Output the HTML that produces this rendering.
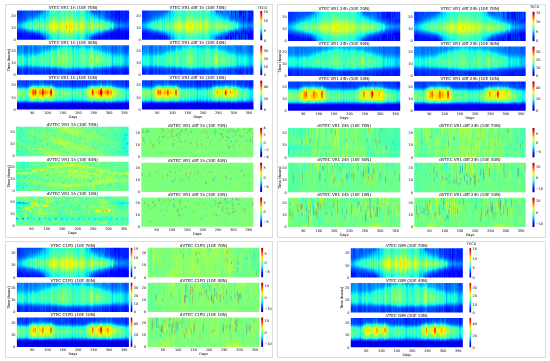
<!DOCTYPE html>
<html><head><meta charset="utf-8"><title>VTEC comparison</title>
<style>html,body{margin:0;padding:0;background:#fff}svg{display:block}text{font-family:"DejaVu Sans","Liberation Sans",sans-serif;text-rendering:geometricPrecision;stroke:#262626;stroke-width:.05px}</style></head>
<body>
<svg width="550" height="361" viewBox="0 0 550 361">
<defs><linearGradient id="jetg" x1="0" y1="0" x2="0" y2="1"><stop offset="0" stop-color="#800000"/><stop offset="0.0625" stop-color="#c40000"/><stop offset="0.125" stop-color="#ff1e00"/><stop offset="0.1875" stop-color="#ff5900"/><stop offset="0.25" stop-color="#ff9400"/><stop offset="0.3125" stop-color="#ffd000"/><stop offset="0.375" stop-color="#e4ff13"/><stop offset="0.4375" stop-color="#b1ff46"/><stop offset="0.5" stop-color="#7dff7a"/><stop offset="0.5625" stop-color="#49ffad"/><stop offset="0.625" stop-color="#16ffe1"/><stop offset="0.6875" stop-color="#00c0ff"/><stop offset="0.75" stop-color="#0080ff"/><stop offset="0.8125" stop-color="#0040ff"/><stop offset="0.875" stop-color="#0000ff"/><stop offset="0.9375" stop-color="#0000c8"/><stop offset="1" stop-color="#000080"/></linearGradient>
<filter id="f0" filterUnits="userSpaceOnUse" x="-3" y="-3" width="118" height="21" color-interpolation-filters="sRGB"><feGaussianBlur stdDeviation="0.35 0.486"/><feComponentTransfer><feFuncR type="table" tableValues="0 0 0 0 0 0 0 0 0 0 0 0 0 0 0 0 0 0 0 0 0 0 0 0.047 0.098 0.149 0.199 0.25 0.3 0.351 0.402 0.452 0.515 0.566 0.617 0.667 0.718 0.769 0.819 0.87 0.92 0.971 1 1 1 1 1 1 1 1 1 1 1 1 1 1 0.999 0.928 0.857 0.785 0.714 0.643 0.571 0.5"/><feFuncG type="table" tableValues="0 0 0 0 0 0 0 0 0.002 0.065 0.127 0.19 0.253 0.316 0.378 0.441 0.52 0.582 0.645 0.708 0.771 0.833 0.896 0.959 1 1 1 1 1 1 1 1 1 1 1 1 1 1 1 1 1 0.959 0.901 0.843 0.785 0.727 0.669 0.611 0.538 0.48 0.422 0.364 0.306 0.248 0.19 0.131 0.073 0.015 0 0 0 0 0 0"/><feFuncB type="table" tableValues="0.5 0.571 0.643 0.714 0.785 0.857 0.928 0.999 1 1 1 1 1 1 1 1 1 1 1 1 1 1 0.971 0.92 0.87 0.819 0.769 0.718 0.667 0.617 0.566 0.515 0.452 0.402 0.351 0.3 0.25 0.199 0.149 0.098 0.047 0 0 0 0 0 0 0 0 0 0 0 0 0 0 0 0 0 0 0 0 0 0 0"/></feComponentTransfer></filter>
<filter id="f1" filterUnits="userSpaceOnUse" x="-3" y="-3" width="118" height="21" color-interpolation-filters="sRGB"><feGaussianBlur stdDeviation="0.352 0.486"/><feComponentTransfer><feFuncR type="table" tableValues="0 0 0 0 0 0 0 0 0 0 0 0 0 0 0 0 0 0 0 0 0 0 0 0.047 0.098 0.149 0.199 0.25 0.3 0.351 0.402 0.452 0.515 0.566 0.617 0.667 0.718 0.769 0.819 0.87 0.92 0.971 1 1 1 1 1 1 1 1 1 1 1 1 1 1 0.999 0.928 0.857 0.785 0.714 0.643 0.571 0.5"/><feFuncG type="table" tableValues="0 0 0 0 0 0 0 0 0.002 0.065 0.127 0.19 0.253 0.316 0.378 0.441 0.52 0.582 0.645 0.708 0.771 0.833 0.896 0.959 1 1 1 1 1 1 1 1 1 1 1 1 1 1 1 1 1 0.959 0.901 0.843 0.785 0.727 0.669 0.611 0.538 0.48 0.422 0.364 0.306 0.248 0.19 0.131 0.073 0.015 0 0 0 0 0 0"/><feFuncB type="table" tableValues="0.5 0.571 0.643 0.714 0.785 0.857 0.928 0.999 1 1 1 1 1 1 1 1 1 1 1 1 1 1 0.971 0.92 0.87 0.819 0.769 0.718 0.667 0.617 0.566 0.515 0.452 0.402 0.351 0.3 0.25 0.199 0.149 0.098 0.047 0 0 0 0 0 0 0 0 0 0 0 0 0 0 0 0 0 0 0 0 0 0 0"/></feComponentTransfer></filter>
<filter id="f2" filterUnits="userSpaceOnUse" x="-3" y="-3" width="118" height="28" color-interpolation-filters="sRGB"><feGaussianBlur stdDeviation="0.298 0.3"/><feComponentTransfer><feFuncR type="table" tableValues="0 0 0 0 0 0 0 0 0 0 0 0 0 0 0 0 0 0 0 0 0 0 0 0.047 0.098 0.149 0.199 0.25 0.3 0.351 0.402 0.452 0.515 0.566 0.617 0.667 0.718 0.769 0.819 0.87 0.92 0.971 1 1 1 1 1 1 1 1 1 1 1 1 1 1 0.999 0.928 0.857 0.785 0.714 0.643 0.571 0.5"/><feFuncG type="table" tableValues="0 0 0 0 0 0 0 0 0.002 0.065 0.127 0.19 0.253 0.316 0.378 0.441 0.52 0.582 0.645 0.708 0.771 0.833 0.896 0.959 1 1 1 1 1 1 1 1 1 1 1 1 1 1 1 1 1 0.959 0.901 0.843 0.785 0.727 0.669 0.611 0.538 0.48 0.422 0.364 0.306 0.248 0.19 0.131 0.073 0.015 0 0 0 0 0 0"/><feFuncB type="table" tableValues="0.5 0.571 0.643 0.714 0.785 0.857 0.928 0.999 1 1 1 1 1 1 1 1 1 1 1 1 1 1 0.971 0.92 0.87 0.819 0.769 0.718 0.667 0.617 0.566 0.515 0.452 0.402 0.351 0.3 0.25 0.199 0.149 0.098 0.047 0 0 0 0 0 0 0 0 0 0 0 0 0 0 0 0 0 0 0 0 0 0 0"/></feComponentTransfer></filter>
<filter id="f3" filterUnits="userSpaceOnUse" x="-3" y="-3" width="118" height="35" color-interpolation-filters="sRGB"><feGaussianBlur stdDeviation="0.2 0.296"/><feComponentTransfer><feFuncR type="table" tableValues="0 0 0 0 0 0 0 0 0 0 0 0 0 0 0 0 0 0 0 0 0 0 0 0.047 0.098 0.149 0.199 0.25 0.3 0.351 0.402 0.452 0.515 0.566 0.617 0.667 0.718 0.769 0.819 0.87 0.92 0.971 1 1 1 1 1 1 1 1 1 1 1 1 1 1 0.999 0.928 0.857 0.785 0.714 0.643 0.571 0.5"/><feFuncG type="table" tableValues="0 0 0 0 0 0 0 0 0.002 0.065 0.127 0.19 0.253 0.316 0.378 0.441 0.52 0.582 0.645 0.708 0.771 0.833 0.896 0.959 1 1 1 1 1 1 1 1 1 1 1 1 1 1 1 1 1 0.959 0.901 0.843 0.785 0.727 0.669 0.611 0.538 0.48 0.422 0.364 0.306 0.248 0.19 0.131 0.073 0.015 0 0 0 0 0 0"/><feFuncB type="table" tableValues="0.5 0.571 0.643 0.714 0.785 0.857 0.928 0.999 1 1 1 1 1 1 1 1 1 1 1 1 1 1 0.971 0.92 0.87 0.819 0.769 0.718 0.667 0.617 0.566 0.515 0.452 0.402 0.351 0.3 0.25 0.199 0.149 0.098 0.047 0 0 0 0 0 0 0 0 0 0 0 0 0 0 0 0 0 0 0 0 0 0 0"/></feComponentTransfer></filter>
<filter id="f4" filterUnits="userSpaceOnUse" x="-3" y="-3" width="118" height="21" color-interpolation-filters="sRGB"><feGaussianBlur stdDeviation="0.349 0.486"/><feComponentTransfer><feFuncR type="table" tableValues="0 0 0 0 0 0 0 0 0 0 0 0 0 0 0 0 0 0 0 0 0 0 0 0.047 0.098 0.149 0.199 0.25 0.3 0.351 0.402 0.452 0.515 0.566 0.617 0.667 0.718 0.769 0.819 0.87 0.92 0.971 1 1 1 1 1 1 1 1 1 1 1 1 1 1 0.999 0.928 0.857 0.785 0.714 0.643 0.571 0.5"/><feFuncG type="table" tableValues="0 0 0 0 0 0 0 0 0.002 0.065 0.127 0.19 0.253 0.316 0.378 0.441 0.52 0.582 0.645 0.708 0.771 0.833 0.896 0.959 1 1 1 1 1 1 1 1 1 1 1 1 1 1 1 1 1 0.959 0.901 0.843 0.785 0.727 0.669 0.611 0.538 0.48 0.422 0.364 0.306 0.248 0.19 0.131 0.073 0.015 0 0 0 0 0 0"/><feFuncB type="table" tableValues="0.5 0.571 0.643 0.714 0.785 0.857 0.928 0.999 1 1 1 1 1 1 1 1 1 1 1 1 1 1 0.971 0.92 0.87 0.819 0.769 0.718 0.667 0.617 0.566 0.515 0.452 0.402 0.351 0.3 0.25 0.199 0.149 0.098 0.047 0 0 0 0 0 0 0 0 0 0 0 0 0 0 0 0 0 0 0 0 0 0 0"/></feComponentTransfer></filter>
<filter id="f5" filterUnits="userSpaceOnUse" x="-3" y="-3" width="118" height="21" color-interpolation-filters="sRGB"><feGaussianBlur stdDeviation="0.351 0.486"/><feComponentTransfer><feFuncR type="table" tableValues="0 0 0 0 0 0 0 0 0 0 0 0 0 0 0 0 0 0 0 0 0 0 0 0.047 0.098 0.149 0.199 0.25 0.3 0.351 0.402 0.452 0.515 0.566 0.617 0.667 0.718 0.769 0.819 0.87 0.92 0.971 1 1 1 1 1 1 1 1 1 1 1 1 1 1 0.999 0.928 0.857 0.785 0.714 0.643 0.571 0.5"/><feFuncG type="table" tableValues="0 0 0 0 0 0 0 0 0.002 0.065 0.127 0.19 0.253 0.316 0.378 0.441 0.52 0.582 0.645 0.708 0.771 0.833 0.896 0.959 1 1 1 1 1 1 1 1 1 1 1 1 1 1 1 1 1 0.959 0.901 0.843 0.785 0.727 0.669 0.611 0.538 0.48 0.422 0.364 0.306 0.248 0.19 0.131 0.073 0.015 0 0 0 0 0 0"/><feFuncB type="table" tableValues="0.5 0.571 0.643 0.714 0.785 0.857 0.928 0.999 1 1 1 1 1 1 1 1 1 1 1 1 1 1 0.971 0.92 0.87 0.819 0.769 0.718 0.667 0.617 0.566 0.515 0.452 0.402 0.351 0.3 0.25 0.199 0.149 0.098 0.047 0 0 0 0 0 0 0 0 0 0 0 0 0 0 0 0 0 0 0 0 0 0 0"/></feComponentTransfer></filter>
<filter id="f6" filterUnits="userSpaceOnUse" x="-3" y="-3" width="118" height="16" color-interpolation-filters="sRGB"><feGaussianBlur stdDeviation="0.299 0.341"/><feComponentTransfer><feFuncR type="table" tableValues="0 0 0 0 0 0 0 0 0 0 0 0 0 0 0 0 0 0 0 0 0 0 0 0.047 0.098 0.149 0.199 0.25 0.3 0.351 0.402 0.452 0.515 0.566 0.617 0.667 0.718 0.769 0.819 0.87 0.92 0.971 1 1 1 1 1 1 1 1 1 1 1 1 1 1 0.999 0.928 0.857 0.785 0.714 0.643 0.571 0.5"/><feFuncG type="table" tableValues="0 0 0 0 0 0 0 0 0.002 0.065 0.127 0.19 0.253 0.316 0.378 0.441 0.52 0.582 0.645 0.708 0.771 0.833 0.896 0.959 1 1 1 1 1 1 1 1 1 1 1 1 1 1 1 1 1 0.959 0.901 0.843 0.785 0.727 0.669 0.611 0.538 0.48 0.422 0.364 0.306 0.248 0.19 0.131 0.073 0.015 0 0 0 0 0 0"/><feFuncB type="table" tableValues="0.5 0.571 0.643 0.714 0.785 0.857 0.928 0.999 1 1 1 1 1 1 1 1 1 1 1 1 1 1 0.971 0.92 0.87 0.819 0.769 0.718 0.667 0.617 0.566 0.515 0.452 0.402 0.351 0.3 0.25 0.199 0.149 0.098 0.047 0 0 0 0 0 0 0 0 0 0 0 0 0 0 0 0 0 0 0 0 0 0 0"/></feComponentTransfer></filter>
<filter id="f7" filterUnits="userSpaceOnUse" x="-3" y="-3" width="118" height="16" color-interpolation-filters="sRGB"><feGaussianBlur stdDeviation="0.301 0.341"/><feComponentTransfer><feFuncR type="table" tableValues="0 0 0 0 0 0 0 0 0 0 0 0 0 0 0 0 0 0 0 0 0 0 0 0.047 0.098 0.149 0.199 0.25 0.3 0.351 0.402 0.452 0.515 0.566 0.617 0.667 0.718 0.769 0.819 0.87 0.92 0.971 1 1 1 1 1 1 1 1 1 1 1 1 1 1 0.999 0.928 0.857 0.785 0.714 0.643 0.571 0.5"/><feFuncG type="table" tableValues="0 0 0 0 0 0 0 0 0.002 0.065 0.127 0.19 0.253 0.316 0.378 0.441 0.52 0.582 0.645 0.708 0.771 0.833 0.896 0.959 1 1 1 1 1 1 1 1 1 1 1 1 1 1 1 1 1 0.959 0.901 0.843 0.785 0.727 0.669 0.611 0.538 0.48 0.422 0.364 0.306 0.248 0.19 0.131 0.073 0.015 0 0 0 0 0 0"/><feFuncB type="table" tableValues="0.5 0.571 0.643 0.714 0.785 0.857 0.928 0.999 1 1 1 1 1 1 1 1 1 1 1 1 1 1 0.971 0.92 0.87 0.819 0.769 0.718 0.667 0.617 0.566 0.515 0.452 0.402 0.351 0.3 0.25 0.199 0.149 0.098 0.047 0 0 0 0 0 0 0 0 0 0 0 0 0 0 0 0 0 0 0 0 0 0 0"/></feComponentTransfer></filter>
<filter id="f8" filterUnits="userSpaceOnUse" x="-3" y="-3" width="118" height="16" color-interpolation-filters="sRGB"><feGaussianBlur stdDeviation="0.3 0.341"/><feComponentTransfer><feFuncR type="table" tableValues="0 0 0 0 0 0 0 0 0 0 0 0 0 0 0 0 0 0 0 0 0 0 0 0.047 0.098 0.149 0.199 0.25 0.3 0.351 0.402 0.452 0.515 0.566 0.617 0.667 0.718 0.769 0.819 0.87 0.92 0.971 1 1 1 1 1 1 1 1 1 1 1 1 1 1 0.999 0.928 0.857 0.785 0.714 0.643 0.571 0.5"/><feFuncG type="table" tableValues="0 0 0 0 0 0 0 0 0.002 0.065 0.127 0.19 0.253 0.316 0.378 0.441 0.52 0.582 0.645 0.708 0.771 0.833 0.896 0.959 1 1 1 1 1 1 1 1 1 1 1 1 1 1 1 1 1 0.959 0.901 0.843 0.785 0.727 0.669 0.611 0.538 0.48 0.422 0.364 0.306 0.248 0.19 0.131 0.073 0.015 0 0 0 0 0 0"/><feFuncB type="table" tableValues="0.5 0.571 0.643 0.714 0.785 0.857 0.928 0.999 1 1 1 1 1 1 1 1 1 1 1 1 1 1 0.971 0.92 0.87 0.819 0.769 0.718 0.667 0.617 0.566 0.515 0.452 0.402 0.351 0.3 0.25 0.199 0.149 0.098 0.047 0 0 0 0 0 0 0 0 0 0 0 0 0 0 0 0 0 0 0 0 0 0 0"/></feComponentTransfer></filter>
</defs>
<rect width="550" height="361" fill="#fff"/>
<rect x="5.5" y="4.5" width="267" height="233" fill="#fff" stroke="#dcdcdc" stroke-width="1"/>
<rect x="277.5" y="4.5" width="268" height="233" fill="#fff" stroke="#dcdcdc" stroke-width="1"/>
<rect x="5.5" y="241.5" width="267" height="116" fill="#fff" stroke="#dcdcdc" stroke-width="1"/>
<rect x="277.5" y="241.5" width="268" height="116" fill="#fff" stroke="#dcdcdc" stroke-width="1"/>
<svg x="17" y="10.5" width="112.1" height="29.35" viewBox="0 0 112 15" preserveAspectRatio="none" stroke-width="1.04" fill="none"><g filter="url(#f0)"><rect x="-4" y="-4" width="120" height="23" fill="#717171"/><g transform="translate(.5)"><path stroke="#181818" d="M101 12v6"/><path stroke="#1c1c1c" d="M20 14v4M22 14v4M82 14v4M95 12v6M97 12v6M98 11v7M101 10v2M102 10v8M105 12v6"/><path stroke="#202020" d="M15 12v6M17 13v5M18 14v4M19 14v4M20 13v1M22 13v1M25 14v4M77 14v4M81 14v4M82 13v1M88 12v6M89 12v6M90 13v5M93 11v7M94 11v7M95 11v1M96 11v7M97 11v1M98 10v1M99 11v7M100 11v7M101 -3v8M102 -3v8M103 11v7M104 11v7M105 10v2M106 10v8M107 11v7M108 10v8M109 10v8M110 11v7M111 11v7M112 11v7"/><path stroke="#242424" d="M-1 11v7M0 11v7M1 12v6M2 11v7M3 11v7M4 12v6M5 12v6M7 12v6M9 13v5M10 14v4M11 13v5M12 12v6M13 13v5M14 12v6M16 13v5M17 12v1M18 13v1M19 13v1M20 12v1M21 13v5M22 12v1M23 13v5M24 14v4M27 14v4M74 14v4M76 14v4M77 13v1M78 14v4M79 13v5M80 14v4M81 13v1M82 12v1M83 13v5M84 13v5M85 13v5M86 12v6M87 12v6M90 12v1M91 12v6M92 12v6M95 -3v7M97 -3v7M97 10v1M98 -3v8M99 -3v7M99 10v1M100 -3v6M100 10v1M101 5v1M101 9v1M102 5v1M103 10v1M104 10v1M105 -3v8M107 10v1M110 10v1M111 10v1M112 10v1"/><path stroke="#282828" d="M-1 10v1M0 10v1M1 11v1M4 11v1M5 11v1M6 11v7M7 11v1M8 11v7M9 11v2M10 12v2M11 12v1M13 12v1M15 11v1M16 12v1M18 12v1M19 12v1M24 13v1M25 13v1M26 14v4M75 14v4M78 13v1M80 13v1M81 12v1M83 12v1M85 12v1M88 11v1M89 11v1M90 11v1M91 11v1M92 11v1M93 -3v7M94 -3v7M95 4v1M96 -3v7M96 10v1M97 4v1M98 5v1M99 4v1M100 3v2M102 9v1M103 -3v8M104 -3v8M105 5v1M105 9v1M106 -3v9M107 -3v9M108 -3v9M108 9v1M109 -3v9M109 9v1M110 -3v8M111 -3v8M111 9v1M112 -3v8M112 9v1"/><path stroke="#2d2d2d" d="M-1 -3v8M0 -3v8M1 -3v7M1 10v1M2 -3v8M2 10v1M3 -3v8M3 10v1M4 -3v7M4 10v1M10 11v1M11 11v1M12 11v1M13 11v1M14 11v1M20 -3v4M21 12v1M22 -3v4M76 13v1M77 -3v4M82 -3v5M84 12v1M87 11v1M89 -3v6M90 -3v6M93 4v1M93 10v1M94 4v1M94 10v1M95 10v1M96 4v1M98 9v1M99 5v1M100 5v1M100 9v1M101 6v1M102 6v1M103 5v1M103 9v1M104 5v1M104 9v1M106 9v1M107 9v1M110 5v1M110 9v1M111 5v1M112 5v1"/><path stroke="#313131" d="M-1 5v1M0 5v1M1 4v2M2 5v1M3 5v1M4 4v1M5 -3v8M5 10v1M6 -3v7M7 -3v8M7 10v1M15 -3v6M16 11v1M17 -3v4M17 11v1M20 1v1M22 1v1M23 12v1M73 14v4M74 -3v4M75 -3v4M76 -3v4M77 1v1M78 -3v4M79 -3v4M79 12v1M80 12v1M81 -3v4M82 2v1M86 11v1M88 -3v7M89 3v1M90 3v1M91 -3v7M92 -3v7M97 5v1M99 9v1M105 6v1M106 6v1M107 6v1M108 6v1M109 6v1M110 6v1M111 6v1M112 6v1"/><path stroke="#353535" d="M4 5v1M6 4v1M6 10v1M8 -3v7M8 10v1M9 -3v7M10 -3v6M11 -3v6M12 -3v6M13 -3v5M14 -3v6M15 3v1M16 -3v5M17 1v2M18 -3v5M19 -3v5M20 2v1M20 11v1M21 -3v4M23 -3v4M24 -3v4M24 12v1M25 -3v4M26 13v1M27 13v1M28 14v4M74 13v1M75 13v1M77 12v1M79 1v1M80 -3v5M81 1v1M82 11v1M83 -3v5M85 11v1M96 5v1M97 9v1M101 8v1M102 8v1M103 6v1M104 6v1"/><path stroke="#393939" d="M-1 6v1M-1 9v1M0 6v1M0 9v1M5 5v1M8 4v1M9 4v1M9 10v1M10 3v1M10 10v1M11 3v1M12 3v1M13 2v1M16 2v1M18 2v1M18 11v1M19 11v1M21 1v1M22 11v1M25 12v1M72 14v4M76 1v1M78 1v1M78 12v1M81 2v1M82 3v1M83 2v1M84 -3v5M85 -3v5M86 -3v6M87 -3v7M88 4v1M89 4v1M90 4v1M91 4v1M91 10v1M92 4v1M92 10v1M94 5v1M95 5v1M98 6v1M99 6v1M100 6v1M101 7v1M102 7v1M105 8v1M106 8v1M107 8v1M108 8v1M109 7v2M110 8v1M111 7v2M112 7v2"/><path stroke="#3d3d3d" d="M1 6v1M1 9v1M2 6v1M2 9v1M3 9v1M6 5v1M7 5v1M10 4v1M11 10v1M12 10v1M13 3v1M14 3v1M19 2v1M22 2v1M23 1v1M27 -3v4M28 13v1M77 2v1M79 2v1M80 2v1M83 11v1M84 2v1M84 11v1M85 2v1M86 3v1M88 10v1M93 5v1M104 8v1M105 7v1M106 7v1M107 7v1M108 7v1M110 7v1"/><path stroke="#414141" d="M3 6v1M4 9v1M11 4v1M12 4v1M15 4v1M15 10v1M16 3v1M17 3v1M20 3v1M21 11v1M24 1v1M25 1v1M26 -3v4M27 12v1M73 -3v4M74 1v1M75 1v1M76 12v1M81 11v1M83 3v1M85 3v1M89 10v1M90 10v1M96 9v1M97 6v1M98 8v1M100 8v1M103 8v1M104 7v1"/><path stroke="#454545" d="M-1 7v1M0 7v1M4 6v1M5 9v1M8 5v1M13 10v1M14 10v1M18 3v1M21 2v1M22 3v1M27 1v1M28 -3v4M30 14v4M70 14v4M72 -3v4M72 13v1M73 13v1M78 2v1M81 3v1M82 4v1M84 3v1M87 4v1M94 9v1M98 7v1M99 8v1M100 7v1M103 7v1"/><path stroke="#494949" d="M-1 8v1M0 8v1M7 9v1M9 5v1M13 4v1M14 4v1M19 3v1M23 11v1M25 2v1M26 12v1M27 2v1M28 1v1M28 12v1M29 14v4M30 13v1M70 13v1M74 12v1M76 2v1M79 11v1M80 11v1M86 4v1M87 10v1M92 5v1M93 9v1M96 6v1M97 8v1M99 7v1"/><path stroke="#4d4d4d" d="M1 7v2M2 7v2M3 7v1M5 6v1M6 9v1M10 5v1M16 10v1M17 4v1M17 10v1M20 4v1M20 10v1M22 4v1M23 2v1M24 2v1M24 11v1M25 11v1M27 3v1M27 11v1M28 2v1M29 13v1M31 13v5M32 14v4M69 13v5M71 14v4M72 1v1M72 12v1M74 2v1M75 12v1M77 3v1M77 11v1M79 3v1M80 3v1M85 4v1M86 10v1M88 5v1M89 5v1M90 5v1M91 5v1M97 7v1"/><path stroke="#515151" d="M3 8v1M6 6v1M7 6v1M8 9v1M11 5v1M12 5v1M15 5v1M16 4v1M21 3v1M22 10v1M25 3v1M26 1v1M27 4v1M28 3v1M28 11v1M30 -3v5M30 12v1M32 13v1M68 13v5M70 -3v5M70 12v1M71 13v1M72 2v1M73 1v1M75 2v1M82 10v1M83 4v1M84 4v1M94 6v1"/><path stroke="#555" d="M4 7v2M9 9v1M18 4v1M18 10v1M19 4v1M19 10v1M23 3v1M24 3v1M26 2v1M28 4v1M29 -3v4M29 12v1M30 2v1M31 -3v4M31 12v1M34 14v4M40 14v4M69 -3v5M69 12v1M70 2v2M72 3v1M73 12v1M76 3v1M77 4v1M78 3v1M78 11v1M81 4v1M82 5v1M85 10v1M93 6v1M95 9v1"/><path stroke="#595959" d="M5 7v2M8 6v1M10 9v1M13 5v1M14 5v1M15 9v1M20 5v1M22 5v1M25 4v1M26 11v1M27 5v1M27 10v1M29 1v2M30 3v1M30 11v1M31 1v2M32 -3v5M32 12v1M33 14v4M34 13v1M40 13v1M59 14v4M61 14v4M62 14v4M67 14v4M68 -3v5M68 12v1M69 2v1M70 11v1M71 -3v5M71 12v1M72 11v1M73 2v1M74 3v1M76 11v1M87 5v1M92 9v1M95 6v1M96 8v1"/><path stroke="#5d5d5d" d="M7 7v2M9 6v1M11 9v1M12 9v1M17 5v1M21 4v1M21 10v1M23 4v1M24 4v1M25 10v1M26 3v1M29 3v1M31 3v1M32 2v1M33 13v1M34 -3v4M35 14v4M38 14v4M40 -3v5M41 14v4M42 14v4M52 14v4M56 14v4M57 14v4M59 13v1M60 14v4M61 -3v5M61 13v1M62 -3v4M62 13v1M66 14v4M67 13v1M68 2v1M69 3v1M69 11v1M70 4v1M71 2v1M72 4v1M73 3v1M74 11v1M79 4v1M80 4v1M81 10v1M86 5v1M91 9v1M94 8v1M96 7v1"/><path stroke="#616161" d="M6 7v2M10 6v1M15 6v1M16 5v1M20 9v1M22 6v1M22 9v1M23 10v1M24 10v1M25 5v1M26 4v1M28 5v1M28 10v1M29 11v1M30 4v1M31 11v1M32 3v1M34 1v2M34 12v1M35 13v1M38 13v1M40 2v1M40 12v1M41 -3v4M41 13v1M42 -3v5M42 13v1M43 14v4M47 14v4M52 -3v5M52 13v1M56 -3v4M56 13v1M59 -3v5M60 -3v4M60 13v1M61 2v1M61 12v1M62 1v2M66 13v1M68 3v1M68 11v1M69 4v1M71 3v1M73 11v1M75 3v1M76 4v1M77 10v1M83 10v1M84 10v1M85 5v1M88 6v1M88 9v1M93 8v1M94 7v1"/><path stroke="#656565" d="M11 6v1M12 6v1M13 9v1M14 9v1M18 5v1M19 5v1M20 6v1M27 6v1M29 4v1M31 4v1M32 11v1M33 -3v5M33 12v1M34 3v1M35 -3v4M36 14v4M37 14v4M38 -3v4M39 14v4M40 3v1M41 1v2M42 2v1M42 12v1M43 -3v4M43 13v1M47 -3v5M47 13v1M52 2v1M54 14v4M56 1v1M57 -3v5M57 13v1M59 2v1M60 1v2M61 3v1M62 12v1M63 14v4M64 14v4M65 14v4M66 -3v4M67 -3v5M67 12v1M68 4v1M70 10v1M71 11v1M72 5v1M72 10v1M74 4v1M77 5v1M78 4v1M79 10v1M81 5v1M82 6v1M83 5v1M91 6v1M92 6v1M93 7v1"/><path stroke="#696969" d="M8 7v2M9 7v2M14 6v1M15 7v2M21 5v1M23 5v1M24 5v1M27 9v1M30 5v1M30 10v1M32 4v1M33 2v1M35 1v2M35 12v1M36 13v1M37 13v1M38 1v2M38 12v1M39 13v1M41 12v1M42 3v1M43 1v1M45 14v4M47 2v1M48 14v4M51 14v4M52 12v1M54 -3v5M54 13v1M56 2v1M56 12v1M57 2v1M59 3v1M59 12v1M60 12v1M62 3v1M63 13v1M65 13v1M66 1v2M66 12v1M67 2v1M69 10v1M70 5v1M71 4v1M73 4v1M75 11v1M80 10v1M82 9v1M84 5v1M89 6v1M89 9v1M90 6v1M90 9v1"/><path stroke="#6d6d6d" d="M10 8v1M13 6v1M16 9v1M17 6v1M17 9v1M20 7v2M22 7v2M25 6v1M25 9v1M26 5v1M26 10v1M27 7v1M28 6v1M28 9v1M33 3v1M34 11v1M36 -3v4M39 -3v5M40 4v1M40 11v1M41 3v1M43 2v1M43 12v1M44 14v4M45 -3v4M45 13v1M47 12v1M48 -3v5M48 13v1M50 14v4M51 -3v4M51 13v1M52 3v1M54 2v1M55 14v4M56 3v1M57 3v1M57 12v1M58 14v4M60 3v1M61 4v1M61 11v1M62 11v1M63 -3v4M64 13v1M65 -3v4M66 3v1M67 3v1M69 5v1M79 5v1M80 5v1M86 9v1M87 9v1"/><path stroke="#757575" d="M14 7v2M18 6v1M18 9v1M21 6v1M21 9v1M23 6v1M23 9v1M24 6v1M24 9v1M28 7v2M30 6v1M32 5v1M32 10v1M33 11v1M35 11v1M37 2v1M38 11v1M39 3v1M41 4v1M44 1v1M45 12v1M46 -3v4M46 13v1M48 12v1M50 2v1M51 2v1M52 4v1M52 11v1M54 3v1M55 1v1M55 13v1M56 4v1M56 11v1M57 11v1M58 -3v5M59 4v1M59 11v1M60 4v1M60 11v1M64 2v1M66 4v1M67 4v1M69 6v1M71 5v1M72 9v1M73 5v1M74 5v1M74 10v1M77 9v1M78 5v1M81 6v1M81 9v1M82 7v2M85 6v1M85 9v1M88 8v1M92 8v1"/><path stroke="#797979" d="M13 7v2M17 7v2M25 7v2M30 9v1M33 4v1M35 4v1M36 3v1M37 3v1M38 4v1M40 5v1M40 10v1M43 4v1M43 11v1M44 2v1M44 12v1M45 3v1M46 1v1M47 4v1M47 11v1M48 3v1M49 -3v5M49 13v1M50 12v1M51 3v1M51 12v1M53 -3v5M53 13v1M55 2v1M57 4v1M58 2v1M61 5v1M61 10v1M62 5v1M62 10v1M63 3v1M64 3v1M65 3v1M68 6v1M69 9v1M70 7v2M72 7v1M91 7v2M92 7v1"/><path stroke="#7d7d7d" d="M16 7v2M19 7v1M24 7v1M26 6v1M26 9v1M31 6v1M34 5v1M34 10v1M36 11v1M39 11v1M42 5v1M42 10v1M44 3v1M46 2v1M49 2v1M50 3v1M53 2v1M54 4v1M54 11v1M55 12v1M58 12v1M63 11v1M64 11v1M65 11v1M67 5v1M67 10v1M68 9v1M69 7v2M72 8v1M77 7v2M79 6v1M79 9v1M89 7v1"/><path stroke="#828282" d="M18 7v2M19 8v1M21 7v1M23 7v2M24 8v1M29 6v1M29 9v1M30 7v2M31 9v1M32 6v1M36 4v1M37 11v1M39 4v1M41 5v1M41 10v1M45 4v1M45 11v1M46 12v1M47 5v1M48 4v1M48 11v1M49 12v1M52 5v1M52 10v1M53 12v1M55 3v1M56 5v1M56 10v1M57 5v1M57 10v1M58 3v1M59 5v1M60 5v1M60 10v1M61 6v1M63 4v1M64 4v1M65 4v1M66 5v1M66 10v1M68 7v2M71 6v1M71 9v1M73 6v1M73 9v1M76 6v1M80 6v1M80 9v1M81 7v2M83 6v1M84 6v1M86 7v2M87 7v2M89 8v1M90 7v2M95 7v2"/><path stroke="#868686" d="M21 8v1M32 9v1M33 5v1M35 5v1M35 10v1M37 4v1M38 5v1M38 10v1M40 6v1M43 5v1M43 10v1M44 11v1M46 3v1M47 10v1M49 3v1M51 4v1M51 11v1M53 3v1M61 9v1M62 6v1M62 9v1M74 6v1M75 5v1M75 10v1M76 9v1M78 6v1M78 9v1M83 9v1M84 9v1M85 7v1"/><path stroke="#8a8a8a" d="M26 7v2M29 7v2M31 7v2M33 10v1M40 9v1M41 6v1M42 6v1M42 9v1M44 4v1M50 4v1M50 11v1M52 6v1M52 9v1M54 5v1M54 10v1M55 4v1M55 11v1M58 4v1M58 11v1M59 10v1M61 7v2M62 7v1M65 5v1M65 10v1M67 6v1M67 9v1M71 7v2M73 7v1M74 9v1M79 7v2M85 8v1"/><path stroke="#8e8e8e" d="M32 7v2M34 6v1M34 9v1M39 5v1M39 10v1M40 7v2M41 9v1M42 7v1M46 4v1M46 11v1M47 6v1M48 5v1M53 11v1M56 6v1M56 9v1M57 6v1M57 9v1M60 6v1M62 8v1M63 5v1M63 10v1M64 5v1M64 10v1M66 6v1M66 9v1M73 8v1M76 7v2M80 7v2"/><path stroke="#929292" d="M36 5v1M36 10v1M37 5v1M37 10v1M38 6v1M41 7v2M42 8v1M43 6v1M43 9v1M45 5v1M45 10v1M47 9v1M48 10v1M49 4v1M49 11v1M51 5v1M52 7v2M53 4v1M56 7v2M59 6v1M60 9v1M67 7v2M74 7v2M78 7v2"/><path stroke="#969696" d="M34 7v1M35 6v1M35 9v1M38 9v1M43 7v1M44 5v1M44 10v1M47 7v2M50 5v1M51 10v1M54 6v1M54 9v1M55 5v1M55 10v1M57 7v2M60 7v1M65 6v1M66 7v2M83 7v1M84 7v1"/><path stroke="#9a9a9a" d="M33 6v1M34 8v1M38 7v1M43 8v1M46 5v1M50 10v1M54 7v1M58 5v1M58 10v1M59 9v1M60 8v1M63 6v1M63 9v1M64 6v1M64 9v1M65 9v1M75 6v1M83 8v1M84 8v1"/><path stroke="#9e9e9e" d="M33 9v1M35 7v1M36 6v1M38 8v1M39 6v1M45 6v1M46 10v1M48 6v1M49 5v1M51 6v1M53 5v1M53 10v1M54 8v1M63 7v1M65 7v2M75 9v1"/><path stroke="#a2a2a2" d="M35 8v1M36 9v1M37 6v1M37 9v1M39 9v1M44 6v1M44 9v1M45 9v1M48 9v1M49 10v1M50 6v1M51 9v1M55 6v1M59 7v1M63 8v1M64 7v2"/><path stroke="#a6a6a6" d="M33 7v2M39 7v1M45 7v1M46 6v1M50 9v1M51 7v1M55 9v1M58 6v1M59 8v1"/><path stroke="#aaa" d="M36 7v2M37 7v2M39 8v1M44 7v2M45 8v1M46 9v1M48 7v2M51 8v1M53 6v1M53 9v1M55 7v2M58 9v1M75 7v1"/><path stroke="#aeaeae" d="M46 7v1M49 6v1M50 7v1M75 8v1"/><path stroke="#b2b2b2" d="M46 8v1M50 8v1M53 7v2M58 7v2"/><path stroke="#b6b6b6" d="M49 9v1"/><path stroke="#bababa" d="M49 7v1"/><path stroke="#bebebe" d="M49 8v1"/></g></g></svg>
<text x="73.05" y="9" font-size="4.08" text-anchor="middle" fill="#262626">VTEC VR1 1h (10E 70N)</text>
<text x="15.6" y="41.15" font-size="3.4" text-anchor="end" fill="#262626">0</text>
<text x="15.6" y="28.9208" font-size="3.4" text-anchor="end" fill="#262626">10</text>
<text x="15.6" y="16.6917" font-size="3.4" text-anchor="end" fill="#262626">20</text>
<svg x="142" y="10.5" width="111.5" height="29.35" viewBox="0 0 112 15" preserveAspectRatio="none" stroke-width="1.04" fill="none"><g filter="url(#f1)"><rect x="-4" y="-4" width="120" height="23" fill="#717171"/><g transform="translate(.5)"><path stroke="#181818" d="M101 12v6"/><path stroke="#1c1c1c" d="M20 14v4M22 14v4M82 14v4M95 12v6M97 12v6M98 11v7M101 10v2M102 10v8M105 12v6"/><path stroke="#202020" d="M15 12v6M17 13v5M18 14v4M19 14v4M20 13v1M22 13v1M25 14v4M77 14v4M81 14v4M82 13v1M88 12v6M89 12v6M90 13v5M93 11v7M94 11v7M95 11v1M96 11v7M97 11v1M98 10v1M99 11v7M100 11v7M101 -3v8M102 -3v8M103 11v7M104 11v7M105 10v2M106 10v8M107 11v7M108 10v8M109 10v8M110 11v7M111 11v7M112 11v7"/><path stroke="#242424" d="M-1 11v7M0 11v7M1 12v6M2 11v7M3 11v7M4 12v6M5 12v6M7 12v6M9 13v5M10 14v4M11 13v5M12 12v6M13 13v5M14 12v6M16 13v5M17 12v1M18 13v1M19 13v1M20 12v1M21 13v5M22 12v1M23 13v5M24 14v4M27 14v4M74 14v4M76 14v4M77 13v1M78 14v4M79 13v5M80 14v4M81 13v1M82 12v1M83 13v5M84 13v5M85 13v5M86 12v6M87 12v6M90 12v1M91 12v6M92 12v6M95 -3v7M97 -3v7M97 10v1M98 -3v8M99 -3v7M99 10v1M100 -3v6M100 10v1M101 5v1M101 9v1M102 5v1M103 10v1M104 10v1M105 -3v8M107 10v1M110 10v1M111 10v1M112 10v1"/><path stroke="#282828" d="M-1 10v1M0 10v1M1 11v1M4 11v1M5 11v1M6 11v7M7 11v1M8 11v7M9 11v2M10 12v2M11 12v1M13 12v1M15 11v1M16 12v1M18 12v1M19 12v1M24 13v1M25 13v1M26 14v4M75 14v4M78 13v1M80 13v1M81 12v1M83 12v1M85 12v1M88 11v1M89 11v1M90 11v1M91 11v1M92 11v1M93 -3v7M94 -3v7M95 4v1M96 -3v7M96 10v1M97 4v1M98 5v1M99 4v1M100 3v2M102 9v1M103 -3v8M104 -3v8M105 5v1M105 9v1M106 -3v9M107 -3v9M108 -3v9M108 9v1M109 -3v9M109 9v1M110 -3v8M111 -3v8M111 9v1M112 -3v8M112 9v1"/><path stroke="#2d2d2d" d="M-1 -3v8M0 -3v8M1 -3v7M1 10v1M2 -3v8M2 10v1M3 -3v8M3 10v1M4 -3v7M4 10v1M10 11v1M11 11v1M12 11v1M13 11v1M14 11v1M20 -3v4M21 12v1M22 -3v4M76 13v1M77 -3v4M82 -3v5M84 12v1M87 11v1M89 -3v6M90 -3v6M93 4v1M93 10v1M94 4v1M94 10v1M95 10v1M96 4v1M98 9v1M99 5v1M100 5v1M100 9v1M101 6v1M102 6v1M103 5v1M103 9v1M104 5v1M104 9v1M106 9v1M107 9v1M110 5v1M110 9v1M111 5v1M112 5v1"/><path stroke="#313131" d="M-1 5v1M0 5v1M1 4v2M2 5v1M3 5v1M4 4v1M5 -3v8M5 10v1M6 -3v7M7 -3v8M7 10v1M15 -3v6M16 11v1M17 -3v4M17 11v1M20 1v1M22 1v1M23 12v1M73 14v4M74 -3v4M75 -3v4M76 -3v4M77 1v1M78 -3v4M79 -3v4M79 12v1M80 12v1M81 -3v4M82 2v1M86 11v1M88 -3v7M89 3v1M90 3v1M91 -3v7M92 -3v7M97 5v1M99 9v1M105 6v1M106 6v1M107 6v1M108 6v1M109 6v1M110 6v1M111 6v1M112 6v1"/><path stroke="#353535" d="M4 5v1M6 4v1M6 10v1M8 -3v7M8 10v1M9 -3v7M10 -3v6M11 -3v6M12 -3v6M13 -3v5M14 -3v6M15 3v1M16 -3v5M17 1v2M18 -3v5M19 -3v5M20 2v1M20 11v1M21 -3v4M23 -3v4M24 -3v4M24 12v1M25 -3v4M26 13v1M27 13v1M28 14v4M74 13v1M75 13v1M77 12v1M79 1v1M80 -3v5M81 1v1M82 11v1M83 -3v5M85 11v1M96 5v1M97 9v1M101 8v1M102 8v1M103 6v1M104 6v1"/><path stroke="#393939" d="M-1 6v1M-1 9v1M0 6v1M0 9v1M5 5v1M8 4v1M9 4v1M9 10v1M10 3v1M10 10v1M11 3v1M12 3v1M13 2v1M16 2v1M18 2v1M18 11v1M19 11v1M21 1v1M22 11v1M25 12v1M72 14v4M76 1v1M78 1v1M78 12v1M81 2v1M82 3v1M83 2v1M84 -3v5M85 -3v5M86 -3v6M87 -3v7M88 4v1M89 4v1M90 4v1M91 4v1M91 10v1M92 4v1M92 10v1M94 5v1M95 5v1M98 6v1M99 6v1M100 6v1M101 7v1M102 7v1M105 8v1M106 8v1M107 8v1M108 8v1M109 7v2M110 8v1M111 7v2M112 7v2"/><path stroke="#3d3d3d" d="M1 6v1M1 9v1M2 6v1M2 9v1M3 9v1M6 5v1M7 5v1M10 4v1M11 10v1M12 10v1M13 3v1M14 3v1M19 2v1M22 2v1M23 1v1M27 -3v4M28 13v1M77 2v1M79 2v1M80 2v1M83 11v1M84 2v1M84 11v1M85 2v1M86 3v1M88 10v1M93 5v1M104 8v1M105 7v1M106 7v1M107 7v1M108 7v1M110 7v1"/><path stroke="#414141" d="M3 6v1M4 9v1M11 4v1M12 4v1M15 4v1M15 10v1M16 3v1M17 3v1M20 3v1M21 11v1M24 1v1M25 1v1M26 -3v4M27 12v1M73 -3v4M74 1v1M75 1v1M76 12v1M81 11v1M83 3v1M85 3v1M89 10v1M90 10v1M96 9v1M97 6v1M98 8v1M100 8v1M103 8v1M104 7v1"/><path stroke="#454545" d="M-1 7v1M0 7v1M4 6v1M5 9v1M8 5v1M13 10v1M14 10v1M18 3v1M21 2v1M22 3v1M27 1v1M28 -3v4M30 14v4M70 14v4M72 -3v4M72 13v1M73 13v1M78 2v1M81 3v1M82 4v1M84 3v1M87 4v1M94 9v1M98 7v1M99 8v1M100 7v1M103 7v1"/><path stroke="#494949" d="M-1 8v1M0 8v1M7 9v1M9 5v1M13 4v1M14 4v1M19 3v1M23 11v1M25 2v1M26 12v1M27 2v1M28 1v1M28 12v1M29 14v4M30 13v1M70 13v1M74 12v1M76 2v1M79 11v1M80 11v1M86 4v1M87 10v1M92 5v1M93 9v1M96 6v1M97 8v1M99 7v1"/><path stroke="#4d4d4d" d="M1 7v2M2 7v2M3 7v1M5 6v1M6 9v1M10 5v1M16 10v1M17 4v1M17 10v1M20 4v1M20 10v1M22 4v1M23 2v1M24 2v1M24 11v1M25 11v1M27 3v1M27 11v1M28 2v1M29 13v1M31 13v5M32 14v4M69 13v5M71 14v4M72 1v1M72 12v1M74 2v1M75 12v1M77 3v1M77 11v1M79 3v1M80 3v1M85 4v1M86 10v1M88 5v1M89 5v1M90 5v1M91 5v1M97 7v1"/><path stroke="#515151" d="M3 8v1M6 6v1M7 6v1M8 9v1M11 5v1M12 5v1M15 5v1M16 4v1M21 3v1M22 10v1M25 3v1M26 1v1M27 4v1M28 3v1M28 11v1M30 -3v5M30 12v1M32 13v1M68 13v5M70 -3v5M70 12v1M71 13v1M72 2v1M73 1v1M75 2v1M82 10v1M83 4v1M84 4v1M94 6v1"/><path stroke="#555" d="M4 7v2M9 9v1M18 4v1M18 10v1M19 4v1M19 10v1M23 3v1M24 3v1M26 2v1M28 4v1M29 -3v4M29 12v1M30 2v1M31 -3v4M31 12v1M34 14v4M40 14v4M69 -3v5M69 12v1M70 2v2M72 3v1M73 12v1M76 3v1M77 4v1M78 3v1M78 11v1M81 4v1M82 5v1M85 10v1M93 6v1M95 9v1"/><path stroke="#595959" d="M5 7v2M8 6v1M10 9v1M13 5v1M14 5v1M15 9v1M20 5v1M22 5v1M25 4v1M26 11v1M27 5v1M27 10v1M29 1v2M30 3v1M30 11v1M31 1v2M32 -3v5M32 12v1M33 14v4M34 13v1M40 13v1M59 14v4M61 14v4M62 14v4M67 14v4M68 -3v5M68 12v1M69 2v1M70 11v1M71 -3v5M71 12v1M72 11v1M73 2v1M74 3v1M76 11v1M87 5v1M92 9v1M95 6v1M96 8v1"/><path stroke="#5d5d5d" d="M7 7v2M9 6v1M11 9v1M12 9v1M17 5v1M21 4v1M21 10v1M23 4v1M24 4v1M25 10v1M26 3v1M29 3v1M31 3v1M32 2v1M33 13v1M34 -3v4M35 14v4M38 14v4M40 -3v5M41 14v4M42 14v4M52 14v4M56 14v4M57 14v4M59 13v1M60 14v4M61 -3v5M61 13v1M62 -3v4M62 13v1M66 14v4M67 13v1M68 2v1M69 3v1M69 11v1M70 4v1M71 2v1M72 4v1M73 3v1M74 11v1M79 4v1M80 4v1M81 10v1M86 5v1M91 9v1M94 8v1M96 7v1"/><path stroke="#616161" d="M6 7v2M10 6v1M15 6v1M16 5v1M20 9v1M22 6v1M22 9v1M23 10v1M24 10v1M25 5v1M26 4v1M28 5v1M28 10v1M29 11v1M30 4v1M31 11v1M32 3v1M34 1v2M34 12v1M35 13v1M38 13v1M40 2v1M40 12v1M41 -3v4M41 13v1M42 -3v5M42 13v1M43 14v4M47 14v4M52 -3v5M52 13v1M56 -3v4M56 13v1M59 -3v5M60 -3v4M60 13v1M61 2v1M61 12v1M62 1v2M66 13v1M68 3v1M68 11v1M69 4v1M71 3v1M73 11v1M75 3v1M76 4v1M77 10v1M83 10v1M84 10v1M85 5v1M88 6v1M88 9v1M93 8v1M94 7v1"/><path stroke="#656565" d="M11 6v1M12 6v1M13 9v1M14 9v1M18 5v1M19 5v1M20 6v1M27 6v1M29 4v1M31 4v1M32 11v1M33 -3v5M33 12v1M34 3v1M35 -3v4M36 14v4M37 14v4M38 -3v4M39 14v4M40 3v1M41 1v2M42 2v1M42 12v1M43 -3v4M43 13v1M47 -3v5M47 13v1M52 2v1M54 14v4M56 1v1M57 -3v5M57 13v1M59 2v1M60 1v2M61 3v1M62 12v1M63 14v4M64 14v4M65 14v4M66 -3v4M67 -3v5M67 12v1M68 4v1M70 10v1M71 11v1M72 5v1M72 10v1M74 4v1M77 5v1M78 4v1M79 10v1M81 5v1M82 6v1M83 5v1M91 6v1M92 6v1M93 7v1"/><path stroke="#696969" d="M8 7v2M9 7v2M14 6v1M15 7v2M21 5v1M23 5v1M24 5v1M27 9v1M30 5v1M30 10v1M32 4v1M33 2v1M35 1v2M35 12v1M36 13v1M37 13v1M38 1v2M38 12v1M39 13v1M41 12v1M42 3v1M43 1v1M45 14v4M47 2v1M48 14v4M51 14v4M52 12v1M54 -3v5M54 13v1M56 2v1M56 12v1M57 2v1M59 3v1M59 12v1M60 12v1M62 3v1M63 13v1M65 13v1M66 1v2M66 12v1M67 2v1M69 10v1M70 5v1M71 4v1M73 4v1M75 11v1M80 10v1M82 9v1M84 5v1M89 6v1M89 9v1M90 6v1M90 9v1"/><path stroke="#6d6d6d" d="M10 8v1M13 6v1M16 9v1M17 6v1M17 9v1M20 7v2M22 7v2M25 6v1M25 9v1M26 5v1M26 10v1M27 7v1M28 6v1M28 9v1M33 3v1M34 11v1M36 -3v4M39 -3v5M40 4v1M40 11v1M41 3v1M43 2v1M43 12v1M44 14v4M45 -3v4M45 13v1M47 12v1M48 -3v5M48 13v1M50 14v4M51 -3v4M51 13v1M52 3v1M54 2v1M55 14v4M56 3v1M57 3v1M57 12v1M58 14v4M60 3v1M61 4v1M61 11v1M62 11v1M63 -3v4M64 13v1M65 -3v4M66 3v1M67 3v1M69 5v1M79 5v1M80 5v1M86 9v1M87 9v1"/><path stroke="#757575" d="M14 7v2M18 6v1M18 9v1M21 6v1M21 9v1M23 6v1M23 9v1M24 6v1M24 9v1M28 7v2M30 6v1M32 5v1M32 10v1M33 11v1M35 11v1M37 2v1M38 11v1M39 3v1M41 4v1M44 1v1M45 12v1M46 -3v4M46 13v1M48 12v1M50 2v1M51 2v1M52 4v1M52 11v1M54 3v1M55 1v1M55 13v1M56 4v1M56 11v1M57 11v1M58 -3v5M59 4v1M59 11v1M60 4v1M60 11v1M64 2v1M66 4v1M67 4v1M69 6v1M71 5v1M72 9v1M73 5v1M74 5v1M74 10v1M77 9v1M78 5v1M81 6v1M81 9v1M82 7v2M85 6v1M85 9v1M88 8v1M92 8v1"/><path stroke="#797979" d="M13 7v2M17 7v2M25 7v2M30 9v1M33 4v1M35 4v1M36 3v1M37 3v1M38 4v1M40 5v1M40 10v1M43 4v1M43 11v1M44 2v1M44 12v1M45 3v1M46 1v1M47 4v1M47 11v1M48 3v1M49 -3v5M49 13v1M50 12v1M51 3v1M51 12v1M53 -3v5M53 13v1M55 2v1M57 4v1M58 2v1M61 5v1M61 10v1M62 5v1M62 10v1M63 3v1M64 3v1M65 3v1M68 6v1M69 9v1M70 7v2M72 7v1M91 7v2M92 7v1"/><path stroke="#7d7d7d" d="M16 7v2M19 7v1M24 7v1M26 6v1M26 9v1M31 6v1M34 5v1M34 10v1M36 11v1M39 11v1M42 5v1M42 10v1M44 3v1M46 2v1M49 2v1M50 3v1M53 2v1M54 4v1M54 11v1M55 12v1M58 12v1M63 11v1M64 11v1M65 11v1M67 5v1M67 10v1M68 9v1M69 7v2M72 8v1M77 7v2M79 6v1M79 9v1M89 7v1"/><path stroke="#828282" d="M18 7v2M19 8v1M21 7v1M23 7v2M24 8v1M29 6v1M29 9v1M30 7v2M31 9v1M32 6v1M36 4v1M37 11v1M39 4v1M41 5v1M41 10v1M45 4v1M45 11v1M46 12v1M47 5v1M48 4v1M48 11v1M49 12v1M52 5v1M52 10v1M53 12v1M55 3v1M56 5v1M56 10v1M57 5v1M57 10v1M58 3v1M59 5v1M60 5v1M60 10v1M61 6v1M63 4v1M64 4v1M65 4v1M66 5v1M66 10v1M68 7v2M71 6v1M71 9v1M73 6v1M73 9v1M76 6v1M80 6v1M80 9v1M81 7v2M83 6v1M84 6v1M86 7v2M87 7v2M89 8v1M90 7v2M95 7v2"/><path stroke="#868686" d="M21 8v1M32 9v1M33 5v1M35 5v1M35 10v1M37 4v1M38 5v1M38 10v1M40 6v1M43 5v1M43 10v1M44 11v1M46 3v1M47 10v1M49 3v1M51 4v1M51 11v1M53 3v1M61 9v1M62 6v1M62 9v1M74 6v1M75 5v1M75 10v1M76 9v1M78 6v1M78 9v1M83 9v1M84 9v1M85 7v1"/><path stroke="#8a8a8a" d="M26 7v2M29 7v2M31 7v2M33 10v1M40 9v1M41 6v1M42 6v1M42 9v1M44 4v1M50 4v1M50 11v1M52 6v1M52 9v1M54 5v1M54 10v1M55 4v1M55 11v1M58 4v1M58 11v1M59 10v1M61 7v2M62 7v1M65 5v1M65 10v1M67 6v1M67 9v1M71 7v2M73 7v1M74 9v1M79 7v2M85 8v1"/><path stroke="#8e8e8e" d="M32 7v2M34 6v1M34 9v1M39 5v1M39 10v1M40 7v2M41 9v1M42 7v1M46 4v1M46 11v1M47 6v1M48 5v1M53 11v1M56 6v1M56 9v1M57 6v1M57 9v1M60 6v1M62 8v1M63 5v1M63 10v1M64 5v1M64 10v1M66 6v1M66 9v1M73 8v1M76 7v2M80 7v2"/><path stroke="#929292" d="M36 5v1M36 10v1M37 5v1M37 10v1M38 6v1M41 7v2M42 8v1M43 6v1M43 9v1M45 5v1M45 10v1M47 9v1M48 10v1M49 4v1M49 11v1M51 5v1M52 7v2M53 4v1M56 7v2M59 6v1M60 9v1M67 7v2M74 7v2M78 7v2"/><path stroke="#969696" d="M34 7v1M35 6v1M35 9v1M38 9v1M43 7v1M44 5v1M44 10v1M47 7v2M50 5v1M51 10v1M54 6v1M54 9v1M55 5v1M55 10v1M57 7v2M60 7v1M65 6v1M66 7v2M83 7v1M84 7v1"/><path stroke="#9a9a9a" d="M33 6v1M34 8v1M38 7v1M43 8v1M46 5v1M50 10v1M54 7v1M58 5v1M58 10v1M59 9v1M60 8v1M63 6v1M63 9v1M64 6v1M64 9v1M65 9v1M75 6v1M83 8v1M84 8v1"/><path stroke="#9e9e9e" d="M33 9v1M35 7v1M36 6v1M38 8v1M39 6v1M45 6v1M46 10v1M48 6v1M49 5v1M51 6v1M53 5v1M53 10v1M54 8v1M63 7v1M65 7v2M75 9v1"/><path stroke="#a2a2a2" d="M35 8v1M36 9v1M37 6v1M37 9v1M39 9v1M44 6v1M44 9v1M45 9v1M48 9v1M49 10v1M50 6v1M51 9v1M55 6v1M59 7v1M63 8v1M64 7v2"/><path stroke="#a6a6a6" d="M33 7v2M39 7v1M45 7v1M46 6v1M50 9v1M51 7v1M55 9v1M58 6v1M59 8v1"/><path stroke="#aaa" d="M36 7v2M37 7v2M39 8v1M44 7v2M45 8v1M46 9v1M48 7v2M51 8v1M53 6v1M53 9v1M55 7v2M58 9v1M75 7v1"/><path stroke="#aeaeae" d="M46 7v1M49 6v1M50 7v1M75 8v1"/><path stroke="#b2b2b2" d="M46 8v1M50 8v1M53 7v2M58 7v2"/><path stroke="#b6b6b6" d="M49 9v1"/><path stroke="#bababa" d="M49 7v1"/><path stroke="#bebebe" d="M49 8v1"/></g></g></svg>
<text x="197.75" y="9" font-size="4.08" text-anchor="middle" fill="#262626">VTEC VR1 diff  1h (10E 70N)</text>
<text x="140.6" y="41.15" font-size="3.4" text-anchor="end" fill="#262626">0</text>
<text x="140.6" y="28.9208" font-size="3.4" text-anchor="end" fill="#262626">10</text>
<text x="140.6" y="16.6917" font-size="3.4" text-anchor="end" fill="#262626">20</text>
<rect x="260.3" y="10.9" width="1.9" height="29.35" fill="url(#jetg)"/>
<text x="263.7" y="41.55" font-size="3.42" text-anchor="start" fill="#262626">0</text>
<text x="263.7" y="31.9585" font-size="3.42" text-anchor="start" fill="#262626">5</text>
<text x="263.7" y="22.367" font-size="3.42" text-anchor="start" fill="#262626">10</text>
<text x="263.7" y="12.7755" font-size="3.42" text-anchor="start" fill="#262626">15</text>
<text x="262.45" y="8.55" font-size="3.55" text-anchor="middle" fill="#262626">TECU</text>
<svg x="17" y="45.35" width="112.1" height="29.35" viewBox="0 0 112 15" preserveAspectRatio="none" stroke-width="1.04" fill="none"><g filter="url(#f0)"><rect x="-4" y="-4" width="120" height="23" fill="#555"/><g transform="translate(.5)"><path stroke="#202020" d="M95 12v6M108 12v6"/><path stroke="#242424" d="M-1 12v6M0 12v6M55 14v4M56 13v5M59 13v5M61 13v5M96 12v6M97 13v5M98 12v6M99 12v6M102 13v5M107 12v6M108 11v1M109 12v6M110 12v6"/><path stroke="#282828" d="M-1 11v1M0 11v1M1 12v6M2 13v5M7 13v5M8 12v6M9 12v6M10 12v6M14 13v5M17 12v6M19 13v5M32 12v6M33 13v5M36 12v6M38 12v6M39 12v6M54 14v4M55 13v1M56 12v1M58 13v5M60 13v5M61 12v1M62 13v5M69 13v5M85 12v6M88 12v6M89 12v6M91 12v6M93 12v6M94 12v6M95 11v1M97 12v1M100 12v6M101 12v6M102 12v1M104 12v6M105 12v6M106 12v6M107 11v1M109 11v1M110 11v1M111 12v6M112 12v6"/><path stroke="#2d2d2d" d="M2 12v1M3 12v6M4 12v6M7 12v1M8 11v1M9 11v1M10 11v1M13 12v6M14 12v1M18 12v6M19 12v1M20 12v6M21 13v5M22 12v6M23 13v5M26 12v6M27 12v6M29 12v6M30 12v6M31 12v6M33 12v1M37 12v6M40 13v5M42 12v6M44 12v6M50 13v5M51 13v5M52 13v5M53 13v5M54 13v1M55 12v1M57 13v5M58 12v1M59 12v1M60 12v1M62 12v1M63 12v6M68 13v5M69 12v1M70 12v6M71 12v6M77 12v6M78 13v5M80 12v6M86 12v6M87 12v6M90 12v6M98 11v1M99 11v1M102 11v1M103 12v6M105 11v1M106 11v1M111 11v1M112 11v1"/><path stroke="#313131" d="M1 11v1M2 11v1M4 11v1M6 12v6M7 11v1M11 12v6M12 12v6M13 11v1M14 11v1M15 12v6M16 12v6M17 11v1M19 11v1M21 12v1M23 12v1M24 12v6M25 12v6M34 12v6M35 12v6M40 12v1M41 13v5M43 12v6M45 13v5M46 13v5M47 12v6M48 13v5M49 13v5M50 12v1M51 12v1M52 12v1M53 12v1M54 12v1M57 12v1M64 13v5M65 12v6M66 13v5M67 12v6M68 12v1M72 12v6M73 13v5M76 13v5M78 12v1M79 12v6M81 12v6M82 12v6M83 12v6M84 12v6M92 12v6M95 -3v6M96 11v1M97 11v1M100 11v1M101 11v1M104 11v1M108 -3v7"/><path stroke="#353535" d="M3 11v1M5 12v6M6 11v1M11 11v1M12 11v1M18 11v1M20 11v1M22 11v1M27 11v1M28 12v6M32 11v1M41 12v1M45 12v1M46 12v1M48 12v1M49 12v1M64 12v1M66 12v1M73 12v1M74 13v5M75 13v5M76 12v1M91 11v1M93 11v1M94 11v1M95 3v1M103 11v1M107 -3v6M109 -3v7M110 -3v7"/><path stroke="#393939" d="M5 11v1M8 -3v6M9 -3v6M10 -3v6M15 11v1M16 11v1M21 11v1M23 11v1M26 11v1M29 11v1M30 11v1M31 11v1M33 11v1M74 12v1M75 12v1M85 11v1M88 11v1M89 11v1M98 -3v6M99 -3v6M106 -3v6M107 3v1M108 4v1M111 -3v6M112 -3v6"/><path stroke="#3d3d3d" d="M-1 -3v7M0 -3v7M4 -3v5M7 -3v7M8 3v1M9 3v1M10 3v1M13 -3v6M14 -3v6M17 -3v6M18 -3v5M19 -3v6M24 11v1M25 11v1M27 -3v4M32 -3v4M36 11v1M38 11v1M85 -3v5M86 11v1M87 11v1M88 -3v5M90 11v1M91 -3v6M92 11v1M93 -3v5M94 -3v6M96 -3v7M97 -3v6M98 3v1M99 3v1M100 -3v6M102 -3v7M104 -3v6M105 -3v7M106 3v1M109 4v1M110 4v1M111 3v1M112 3v1"/><path stroke="#414141" d="M1 -3v6M2 -3v6M4 2v2M13 3v1M14 3v1M17 3v1M18 2v2M19 3v1M20 -3v6M22 -3v6M26 -3v5M27 1v1M28 11v1M29 -3v5M30 -3v5M31 -3v4M32 1v1M33 -3v4M36 -3v4M38 -3v4M39 11v1M85 2v1M86 -3v5M87 -3v5M88 2v1M89 -3v6M93 2v1M94 3v1M95 4v1M97 3v1M100 3v1M101 -3v7M104 3v1M107 4v1M108 10v1"/><path stroke="#454545" d="M1 3v1M2 3v1M3 -3v7M6 -3v7M8 4v1M9 4v1M10 4v1M11 -3v6M12 -3v7M16 -3v6M20 3v1M21 -3v6M23 -3v6M24 -3v5M26 2v1M27 2v1M31 1v1M33 1v1M34 11v1M35 11v1M37 11v1M39 -3v4M56 -3v4M61 -3v4M77 -3v4M77 11v1M78 11v1M80 -3v4M80 11v1M81 11v1M82 11v1M83 11v1M84 11v1M86 2v1M87 2v1M90 -3v6M91 3v1M93 3v1M103 -3v6M106 4v1M108 5v1M109 10v1M110 10v1M111 4v1M112 4v1"/><path stroke="#494949" d="M-1 4v1M0 4v1M4 4v1M5 -3v6M7 4v1M11 3v1M13 4v1M14 4v1M15 -3v6M16 3v1M21 3v1M22 3v1M24 2v1M25 -3v5M36 1v1M37 -3v4M40 11v1M42 -3v4M42 11v1M55 -3v4M59 -3v4M61 11v1M69 -3v4M69 11v1M70 -3v4M70 11v1M71 -3v4M77 1v1M78 -3v5M79 -3v4M79 11v1M80 1v1M81 -3v4M82 -3v5M83 -3v5M84 -3v5M89 3v1M92 -3v6M95 10v1M98 4v1M99 4v1M100 4v1M102 4v1M103 3v1M104 4v1M105 4v1M107 10v1M109 5v1M110 5v1"/><path stroke="#4d4d4d" d="M-1 10v1M0 10v1M1 4v1M2 4v1M5 3v1M8 10v1M9 10v1M10 10v1M15 3v1M17 4v1M25 2v1M28 -3v5M29 2v1M30 2v1M32 2v1M34 -3v4M35 -3v4M38 1v1M39 1v1M40 -3v4M44 -3v4M44 11v1M56 11v1M58 -3v4M60 -3v4M62 -3v4M63 -3v4M68 -3v4M71 11v1M72 -3v4M76 11v1M79 1v1M81 1v1M83 2v1M88 3v1M90 3v1M95 5v1M96 4v1M97 4v1M101 4v1M106 10v1M107 5v1M108 6v4M111 10v1M112 10v1"/><path stroke="#515151" d="M3 4v1M4 10v1M6 4v1M7 10v1M9 5v1M11 4v1M12 4v1M18 4v1M19 4v1M23 3v1M31 2v1M37 1v1M41 11v1M43 11v1M51 -3v4M54 -3v4M55 11v1M57 -3v4M59 11v1M62 11v1M63 11v1M67 -3v4M68 11v1M69 1v1M70 1v1M71 1v1M72 11v1M73 -3v4M73 11v1M76 -3v4M80 2v1M82 2v1M84 2v1M85 3v1M92 3v1M94 4v1M95 6v4M99 10v1M102 10v1M105 10v1M109 6v4M110 6v4"/><path stroke="#595959" d="M3 10v1M4 5v1M5 4v1M6 10v1M7 5v1M9 6v4M10 6v4M13 5v1M14 5v1M15 4v1M17 10v1M18 10v1M19 10v1M22 4v1M25 3v1M36 2v1M40 1v1M42 1v1M44 1v1M46 11v1M48 -3v4M49 -3v4M52 11v1M54 11v1M55 1v1M57 11v1M59 1v1M64 11v1M66 11v1M68 1v1M73 1v1M78 2v1M79 2v1M91 4v1M97 10v1M98 5v1M99 5v1M100 5v1M102 5v1M104 5v1M105 5v1M106 6v1M106 9v1M111 6v1M111 9v1M112 6v1M112 9v1"/><path stroke="#5d5d5d" d="M-1 6v4M0 6v4M1 5v1M2 5v1M7 6v1M7 9v1M8 6v4M11 10v1M12 10v1M19 5v1M20 10v1M21 4v1M22 10v1M27 10v1M29 3v1M38 2v1M48 11v1M49 11v1M50 11v1M53 11v1M56 2v1M60 1v1M61 2v1M62 1v1M63 1v1M74 1v1M74 11v1M75 1v1M89 4v1M93 10v1M94 10v1M96 5v1M97 5v1M99 6v1M99 9v1M101 5v1M102 6v1M102 9v1M103 10v1M105 6v1M105 9v1M106 7v2M111 7v2M112 7v2"/><path stroke="#616161" d="M3 5v1M4 6v4M5 10v1M6 5v1M7 7v2M12 5v1M13 6v4M14 6v4M16 10v1M17 5v1M18 5v1M21 10v1M23 4v1M23 10v1M26 10v1M30 3v1M32 3v1M32 10v1M39 2v1M51 1v1M54 1v1M55 2v1M56 3v3M56 10v1M58 1v1M59 2v1M61 3v2M61 10v1M67 1v1M69 2v1M83 3v1M84 3v1M85 4v1M85 10v1M88 4v1M88 10v1M89 10v1M94 5v1M96 6v4M98 9v1M99 7v2M100 6v4M102 7v2M104 6v1M104 8v2M105 7v2"/><path stroke="#656565" d="M1 6v1M1 9v1M2 6v4M11 5v1M15 10v1M17 9v1M19 6v4M20 5v1M22 5v1M22 9v1M26 4v1M27 4v1M29 10v1M30 10v1M31 3v1M31 10v1M32 4v1M33 3v1M33 10v1M36 3v1M37 2v1M38 3v1M38 10v1M39 3v1M39 10v1M41 1v1M43 1v1M45 1v1M46 1v1M47 1v1M52 1v1M55 3v2M55 10v1M56 6v4M57 1v1M59 3v1M61 5v5M65 1v1M66 1v1M70 2v1M71 2v1M76 2v1M82 3v1M90 4v1M91 10v1M92 4v1M93 5v1M97 6v1M97 9v1M98 6v3M101 6v4M103 5v1M104 7v1"/><path stroke="#696969" d="M1 7v2M3 6v1M3 9v1M5 5v1M6 6v1M6 9v1M11 6v1M11 9v1M12 6v1M12 9v1M16 5v1M17 6v1M18 6v4M20 6v4M21 5v1M22 6v3M24 4v1M24 10v1M25 10v1M27 5v5M29 4v1M30 4v1M32 5v5M33 4v1M34 2v1M35 2v1M36 4v1M36 10v1M38 4v1M39 4v2M42 2v1M44 2v1M50 1v1M53 1v1M55 5v5M58 2v1M59 4v1M59 10v1M60 2v1M62 2v1M64 1v1M69 3v1M69 10v1M72 2v1M77 3v1M80 3v1M85 5v1M87 4v1M88 5v1M89 5v1M93 6v1M93 9v1M94 6v4M97 7v2"/><path stroke="#6d6d6d" d="M3 7v2M6 7v2M11 7v2M12 7v2M15 5v1M17 7v2M21 6v4M23 5v1M23 9v1M25 4v1M26 5v2M26 9v1M28 3v1M29 5v1M29 9v1M31 4v1M33 5v5M36 5v1M38 5v2M38 8v2M39 6v4M40 2v1M42 3v1M42 10v1M44 10v1M48 1v1M49 1v1M51 2v1M54 2v1M58 3v3M58 9v2M59 5v1M60 3v1M62 3v2M62 10v1M63 2v2M68 2v1M69 4v2M70 3v1M70 10v1M73 2v1M77 10v1M78 3v1M81 3v1M85 6v1M85 9v1M86 4v1M86 10v1M87 10v1M88 6v1M88 9v1M89 6v4M90 10v1M91 5v1M93 7v2M103 6v1M103 9v1"/><path stroke="#717171" d="M5 6v1M5 9v1M16 9v1M23 6v3M24 5v1M26 7v2M29 6v3M30 5v1M31 5v2M31 9v1M36 9v1M37 3v1M37 10v1M38 7v1M40 10v1M42 4v2M44 3v3M51 3v2M51 10v1M52 2v1M54 3v3M54 9v2M57 2v2M57 10v1M58 6v3M59 9v1M60 4v1M62 5v5M63 4v2M63 9v2M67 2v1M69 6v4M70 4v3M70 9v1M71 3v2M71 10v1M74 2v1M75 2v1M77 4v2M77 9v1M78 10v1M79 3v1M80 10v1M82 10v1M83 10v1M85 7v2M88 7v2M91 9v1M92 10v1M103 7v2"/><path stroke="#757575" d="M5 7v2M15 6v1M15 9v1M16 6v1M24 6v4M25 5v1M25 9v1M28 10v1M30 6v1M30 9v1M31 7v2M35 3v1M35 10v1M36 6v3M37 4v1M40 3v2M42 6v4M43 2v1M44 6v4M45 2v1M46 2v1M47 2v1M50 2v1M51 5v1M51 9v1M52 3v3M52 10v1M53 2v2M53 10v1M54 6v3M57 4v6M59 6v3M60 10v1M63 6v3M65 2v1M66 2v1M68 3v2M68 10v1M70 7v2M71 5v5M77 6v3M78 4v1M79 10v1M81 10v1M82 4v1M83 4v1M84 4v1M84 10v1M87 5v1M90 5v1M91 6v1M92 5v1"/><path stroke="#797979" d="M15 7v2M16 7v2M25 6v3M28 4v1M30 7v2M34 3v1M34 10v1M37 5v1M37 9v1M40 5v5M41 2v1M47 3v1M47 10v1M50 3v1M51 6v3M52 6v4M53 4v3M53 9v1M64 2v1M65 3v2M65 10v1M67 3v2M67 10v1M68 5v5M72 3v1M72 10v1M76 3v1M78 5v2M78 8v2M80 4v1M82 5v1M82 9v1M83 5v1M83 9v1M86 5v1M91 7v2"/><path stroke="#7d7d7d" d="M34 4v1M35 4v2M37 6v3M41 10v1M43 3v2M43 10v1M45 3v2M45 10v1M46 3v2M46 10v1M47 4v3M47 9v1M48 2v1M49 2v1M50 4v1M50 10v1M53 7v2M60 5v1M64 3v2M64 10v1M65 5v5M66 3v2M66 10v1M67 5v5M72 4v2M72 9v1M73 3v1M76 10v1M78 7v1M79 4v1M80 9v1M81 4v1M82 6v3M83 6v3M84 5v2M84 8v2M86 9v1M87 6v1M87 9v1M90 6v1M90 9v1M92 6v4"/><path stroke="#828282" d="M28 5v5M34 5v5M35 6v1M35 9v1M41 3v2M43 5v5M45 5v1M46 5v1M47 7v2M48 3v2M48 10v1M49 3v2M49 10v1M50 5v1M60 9v1M64 5v5M66 5v5M72 6v3M73 4v1M73 10v1M76 4v2M76 9v1M79 9v1M81 5v1M81 9v1M84 7v1M86 6v1M87 7v2M90 7v2"/><path stroke="#868686" d="M35 7v2M41 5v5M45 6v1M45 9v1M46 9v1M48 5v5M49 5v2M49 8v2M50 6v1M50 9v1M60 6v1M73 5v1M73 9v1M75 3v1M76 6v3M79 5v1M79 8v1M80 5v1M80 8v1M81 6v3M86 7v2"/><path stroke="#8a8a8a" d="M45 7v2M46 6v3M49 7v1M50 7v2M73 6v3M74 3v1M75 10v1M79 6v2M80 6v2"/><path stroke="#8e8e8e" d="M60 7v2M75 4v1"/><path stroke="#929292" d="M75 5v1M75 9v1"/><path stroke="#969696" d="M74 4v1M74 10v1M75 6v3"/><path stroke="#a2a2a2" d="M74 5v1"/><path stroke="#aeaeae" d="M74 9v1"/><path stroke="#b2b2b2" d="M74 6v1"/><path stroke="#bababa" d="M74 8v1"/><path stroke="#bebebe" d="M74 7v1"/></g></g></svg>
<text x="73.05" y="43.85" font-size="4.08" text-anchor="middle" fill="#262626">VTEC VR1 1h (10E 40N)</text>
<text x="15.6" y="76" font-size="3.4" text-anchor="end" fill="#262626">0</text>
<text x="15.6" y="63.7708" font-size="3.4" text-anchor="end" fill="#262626">10</text>
<text x="15.6" y="51.5417" font-size="3.4" text-anchor="end" fill="#262626">20</text>
<svg x="142" y="45.35" width="111.5" height="29.35" viewBox="0 0 112 15" preserveAspectRatio="none" stroke-width="1.04" fill="none"><g filter="url(#f1)"><rect x="-4" y="-4" width="120" height="23" fill="#555"/><g transform="translate(.5)"><path stroke="#202020" d="M95 12v6M108 12v6"/><path stroke="#242424" d="M-1 12v6M0 12v6M55 14v4M56 13v5M59 13v5M61 13v5M96 12v6M97 13v5M98 12v6M99 12v6M102 13v5M107 12v6M108 11v1M109 12v6M110 12v6"/><path stroke="#282828" d="M-1 11v1M0 11v1M1 12v6M2 13v5M7 13v5M8 12v6M9 12v6M10 12v6M14 13v5M17 12v6M19 13v5M32 12v6M33 13v5M36 12v6M38 12v6M39 12v6M54 14v4M55 13v1M56 12v1M58 13v5M60 13v5M61 12v1M62 13v5M69 13v5M85 12v6M88 12v6M89 12v6M91 12v6M93 12v6M94 12v6M95 11v1M97 12v1M100 12v6M101 12v6M102 12v1M104 12v6M105 12v6M106 12v6M107 11v1M109 11v1M110 11v1M111 12v6M112 12v6"/><path stroke="#2d2d2d" d="M2 12v1M3 12v6M4 12v6M7 12v1M8 11v1M9 11v1M10 11v1M13 12v6M14 12v1M18 12v6M19 12v1M20 12v6M21 13v5M22 12v6M23 13v5M26 12v6M27 12v6M29 12v6M30 12v6M31 12v6M33 12v1M37 12v6M40 13v5M42 12v6M44 12v6M50 13v5M51 13v5M52 13v5M53 13v5M54 13v1M55 12v1M57 13v5M58 12v1M59 12v1M60 12v1M62 12v1M63 12v6M68 13v5M69 12v1M70 12v6M71 12v6M77 12v6M78 13v5M80 12v6M86 12v6M87 12v6M90 12v6M98 11v1M99 11v1M102 11v1M103 12v6M105 11v1M106 11v1M111 11v1M112 11v1"/><path stroke="#313131" d="M1 11v1M2 11v1M4 11v1M6 12v6M7 11v1M11 12v6M12 12v6M13 11v1M14 11v1M15 12v6M16 12v6M17 11v1M19 11v1M21 12v1M23 12v1M24 12v6M25 12v6M34 12v6M35 12v6M40 12v1M41 13v5M43 12v6M45 13v5M46 13v5M47 12v6M48 13v5M49 13v5M50 12v1M51 12v1M52 12v1M53 12v1M54 12v1M57 12v1M64 13v5M65 12v6M66 13v5M67 12v6M68 12v1M72 12v6M73 13v5M76 13v5M78 12v1M79 12v6M81 12v6M82 12v6M83 12v6M84 12v6M92 12v6M95 -3v6M96 11v1M97 11v1M100 11v1M101 11v1M104 11v1M108 -3v7"/><path stroke="#353535" d="M3 11v1M5 12v6M6 11v1M11 11v1M12 11v1M18 11v1M20 11v1M22 11v1M27 11v1M28 12v6M32 11v1M41 12v1M45 12v1M46 12v1M48 12v1M49 12v1M64 12v1M66 12v1M73 12v1M74 13v5M75 13v5M76 12v1M91 11v1M93 11v1M94 11v1M95 3v1M103 11v1M107 -3v6M109 -3v7M110 -3v7"/><path stroke="#393939" d="M5 11v1M8 -3v6M9 -3v6M10 -3v6M15 11v1M16 11v1M21 11v1M23 11v1M26 11v1M29 11v1M30 11v1M31 11v1M33 11v1M74 12v1M75 12v1M85 11v1M88 11v1M89 11v1M98 -3v6M99 -3v6M106 -3v6M107 3v1M108 4v1M111 -3v6M112 -3v6"/><path stroke="#3d3d3d" d="M-1 -3v7M0 -3v7M4 -3v5M7 -3v7M8 3v1M9 3v1M10 3v1M13 -3v6M14 -3v6M17 -3v6M18 -3v5M19 -3v6M24 11v1M25 11v1M27 -3v4M32 -3v4M36 11v1M38 11v1M85 -3v5M86 11v1M87 11v1M88 -3v5M90 11v1M91 -3v6M92 11v1M93 -3v5M94 -3v6M96 -3v7M97 -3v6M98 3v1M99 3v1M100 -3v6M102 -3v7M104 -3v6M105 -3v7M106 3v1M109 4v1M110 4v1M111 3v1M112 3v1"/><path stroke="#414141" d="M1 -3v6M2 -3v6M4 2v2M13 3v1M14 3v1M17 3v1M18 2v2M19 3v1M20 -3v6M22 -3v6M26 -3v5M27 1v1M28 11v1M29 -3v5M30 -3v5M31 -3v4M32 1v1M33 -3v4M36 -3v4M38 -3v4M39 11v1M85 2v1M86 -3v5M87 -3v5M88 2v1M89 -3v6M93 2v1M94 3v1M95 4v1M97 3v1M100 3v1M101 -3v7M104 3v1M107 4v1M108 10v1"/><path stroke="#454545" d="M1 3v1M2 3v1M3 -3v7M6 -3v7M8 4v1M9 4v1M10 4v1M11 -3v6M12 -3v7M16 -3v6M20 3v1M21 -3v6M23 -3v6M24 -3v5M26 2v1M27 2v1M31 1v1M33 1v1M34 11v1M35 11v1M37 11v1M39 -3v4M56 -3v4M61 -3v4M77 -3v4M77 11v1M78 11v1M80 -3v4M80 11v1M81 11v1M82 11v1M83 11v1M84 11v1M86 2v1M87 2v1M90 -3v6M91 3v1M93 3v1M103 -3v6M106 4v1M108 5v1M109 10v1M110 10v1M111 4v1M112 4v1"/><path stroke="#494949" d="M-1 4v1M0 4v1M4 4v1M5 -3v6M7 4v1M11 3v1M13 4v1M14 4v1M15 -3v6M16 3v1M21 3v1M22 3v1M24 2v1M25 -3v5M36 1v1M37 -3v4M40 11v1M42 -3v4M42 11v1M55 -3v4M59 -3v4M61 11v1M69 -3v4M69 11v1M70 -3v4M70 11v1M71 -3v4M77 1v1M78 -3v5M79 -3v4M79 11v1M80 1v1M81 -3v4M82 -3v5M83 -3v5M84 -3v5M89 3v1M92 -3v6M95 10v1M98 4v1M99 4v1M100 4v1M102 4v1M103 3v1M104 4v1M105 4v1M107 10v1M109 5v1M110 5v1"/><path stroke="#4d4d4d" d="M-1 10v1M0 10v1M1 4v1M2 4v1M5 3v1M8 10v1M9 10v1M10 10v1M15 3v1M17 4v1M25 2v1M28 -3v5M29 2v1M30 2v1M32 2v1M34 -3v4M35 -3v4M38 1v1M39 1v1M40 -3v4M44 -3v4M44 11v1M56 11v1M58 -3v4M60 -3v4M62 -3v4M63 -3v4M68 -3v4M71 11v1M72 -3v4M76 11v1M79 1v1M81 1v1M83 2v1M88 3v1M90 3v1M95 5v1M96 4v1M97 4v1M101 4v1M106 10v1M107 5v1M108 6v4M111 10v1M112 10v1"/><path stroke="#515151" d="M3 4v1M4 10v1M6 4v1M7 10v1M9 5v1M11 4v1M12 4v1M18 4v1M19 4v1M23 3v1M31 2v1M37 1v1M41 11v1M43 11v1M51 -3v4M54 -3v4M55 11v1M57 -3v4M59 11v1M62 11v1M63 11v1M67 -3v4M68 11v1M69 1v1M70 1v1M71 1v1M72 11v1M73 -3v4M73 11v1M76 -3v4M80 2v1M82 2v1M84 2v1M85 3v1M92 3v1M94 4v1M95 6v4M99 10v1M102 10v1M105 10v1M109 6v4M110 6v4"/><path stroke="#595959" d="M3 10v1M4 5v1M5 4v1M6 10v1M7 5v1M9 6v4M10 6v4M13 5v1M14 5v1M15 4v1M17 10v1M18 10v1M19 10v1M22 4v1M25 3v1M36 2v1M40 1v1M42 1v1M44 1v1M46 11v1M48 -3v4M49 -3v4M52 11v1M54 11v1M55 1v1M57 11v1M59 1v1M64 11v1M66 11v1M68 1v1M73 1v1M78 2v1M79 2v1M91 4v1M97 10v1M98 5v1M99 5v1M100 5v1M102 5v1M104 5v1M105 5v1M106 6v1M106 9v1M111 6v1M111 9v1M112 6v1M112 9v1"/><path stroke="#5d5d5d" d="M-1 6v4M0 6v4M1 5v1M2 5v1M7 6v1M7 9v1M8 6v4M11 10v1M12 10v1M19 5v1M20 10v1M21 4v1M22 10v1M27 10v1M29 3v1M38 2v1M48 11v1M49 11v1M50 11v1M53 11v1M56 2v1M60 1v1M61 2v1M62 1v1M63 1v1M74 1v1M74 11v1M75 1v1M89 4v1M93 10v1M94 10v1M96 5v1M97 5v1M99 6v1M99 9v1M101 5v1M102 6v1M102 9v1M103 10v1M105 6v1M105 9v1M106 7v2M111 7v2M112 7v2"/><path stroke="#616161" d="M3 5v1M4 6v4M5 10v1M6 5v1M7 7v2M12 5v1M13 6v4M14 6v4M16 10v1M17 5v1M18 5v1M21 10v1M23 4v1M23 10v1M26 10v1M30 3v1M32 3v1M32 10v1M39 2v1M51 1v1M54 1v1M55 2v1M56 3v3M56 10v1M58 1v1M59 2v1M61 3v2M61 10v1M67 1v1M69 2v1M83 3v1M84 3v1M85 4v1M85 10v1M88 4v1M88 10v1M89 10v1M94 5v1M96 6v4M98 9v1M99 7v2M100 6v4M102 7v2M104 6v1M104 8v2M105 7v2"/><path stroke="#656565" d="M1 6v1M1 9v1M2 6v4M11 5v1M15 10v1M17 9v1M19 6v4M20 5v1M22 5v1M22 9v1M26 4v1M27 4v1M29 10v1M30 10v1M31 3v1M31 10v1M32 4v1M33 3v1M33 10v1M36 3v1M37 2v1M38 3v1M38 10v1M39 3v1M39 10v1M41 1v1M43 1v1M45 1v1M46 1v1M47 1v1M52 1v1M55 3v2M55 10v1M56 6v4M57 1v1M59 3v1M61 5v5M65 1v1M66 1v1M70 2v1M71 2v1M76 2v1M82 3v1M90 4v1M91 10v1M92 4v1M93 5v1M97 6v1M97 9v1M98 6v3M101 6v4M103 5v1M104 7v1"/><path stroke="#696969" d="M1 7v2M3 6v1M3 9v1M5 5v1M6 6v1M6 9v1M11 6v1M11 9v1M12 6v1M12 9v1M16 5v1M17 6v1M18 6v4M20 6v4M21 5v1M22 6v3M24 4v1M24 10v1M25 10v1M27 5v5M29 4v1M30 4v1M32 5v5M33 4v1M34 2v1M35 2v1M36 4v1M36 10v1M38 4v1M39 4v2M42 2v1M44 2v1M50 1v1M53 1v1M55 5v5M58 2v1M59 4v1M59 10v1M60 2v1M62 2v1M64 1v1M69 3v1M69 10v1M72 2v1M77 3v1M80 3v1M85 5v1M87 4v1M88 5v1M89 5v1M93 6v1M93 9v1M94 6v4M97 7v2"/><path stroke="#6d6d6d" d="M3 7v2M6 7v2M11 7v2M12 7v2M15 5v1M17 7v2M21 6v4M23 5v1M23 9v1M25 4v1M26 5v2M26 9v1M28 3v1M29 5v1M29 9v1M31 4v1M33 5v5M36 5v1M38 5v2M38 8v2M39 6v4M40 2v1M42 3v1M42 10v1M44 10v1M48 1v1M49 1v1M51 2v1M54 2v1M58 3v3M58 9v2M59 5v1M60 3v1M62 3v2M62 10v1M63 2v2M68 2v1M69 4v2M70 3v1M70 10v1M73 2v1M77 10v1M78 3v1M81 3v1M85 6v1M85 9v1M86 4v1M86 10v1M87 10v1M88 6v1M88 9v1M89 6v4M90 10v1M91 5v1M93 7v2M103 6v1M103 9v1"/><path stroke="#717171" d="M5 6v1M5 9v1M16 9v1M23 6v3M24 5v1M26 7v2M29 6v3M30 5v1M31 5v2M31 9v1M36 9v1M37 3v1M37 10v1M38 7v1M40 10v1M42 4v2M44 3v3M51 3v2M51 10v1M52 2v1M54 3v3M54 9v2M57 2v2M57 10v1M58 6v3M59 9v1M60 4v1M62 5v5M63 4v2M63 9v2M67 2v1M69 6v4M70 4v3M70 9v1M71 3v2M71 10v1M74 2v1M75 2v1M77 4v2M77 9v1M78 10v1M79 3v1M80 10v1M82 10v1M83 10v1M85 7v2M88 7v2M91 9v1M92 10v1M103 7v2"/><path stroke="#757575" d="M5 7v2M15 6v1M15 9v1M16 6v1M24 6v4M25 5v1M25 9v1M28 10v1M30 6v1M30 9v1M31 7v2M35 3v1M35 10v1M36 6v3M37 4v1M40 3v2M42 6v4M43 2v1M44 6v4M45 2v1M46 2v1M47 2v1M50 2v1M51 5v1M51 9v1M52 3v3M52 10v1M53 2v2M53 10v1M54 6v3M57 4v6M59 6v3M60 10v1M63 6v3M65 2v1M66 2v1M68 3v2M68 10v1M70 7v2M71 5v5M77 6v3M78 4v1M79 10v1M81 10v1M82 4v1M83 4v1M84 4v1M84 10v1M87 5v1M90 5v1M91 6v1M92 5v1"/><path stroke="#797979" d="M15 7v2M16 7v2M25 6v3M28 4v1M30 7v2M34 3v1M34 10v1M37 5v1M37 9v1M40 5v5M41 2v1M47 3v1M47 10v1M50 3v1M51 6v3M52 6v4M53 4v3M53 9v1M64 2v1M65 3v2M65 10v1M67 3v2M67 10v1M68 5v5M72 3v1M72 10v1M76 3v1M78 5v2M78 8v2M80 4v1M82 5v1M82 9v1M83 5v1M83 9v1M86 5v1M91 7v2"/><path stroke="#7d7d7d" d="M34 4v1M35 4v2M37 6v3M41 10v1M43 3v2M43 10v1M45 3v2M45 10v1M46 3v2M46 10v1M47 4v3M47 9v1M48 2v1M49 2v1M50 4v1M50 10v1M53 7v2M60 5v1M64 3v2M64 10v1M65 5v5M66 3v2M66 10v1M67 5v5M72 4v2M72 9v1M73 3v1M76 10v1M78 7v1M79 4v1M80 9v1M81 4v1M82 6v3M83 6v3M84 5v2M84 8v2M86 9v1M87 6v1M87 9v1M90 6v1M90 9v1M92 6v4"/><path stroke="#828282" d="M28 5v5M34 5v5M35 6v1M35 9v1M41 3v2M43 5v5M45 5v1M46 5v1M47 7v2M48 3v2M48 10v1M49 3v2M49 10v1M50 5v1M60 9v1M64 5v5M66 5v5M72 6v3M73 4v1M73 10v1M76 4v2M76 9v1M79 9v1M81 5v1M81 9v1M84 7v1M86 6v1M87 7v2M90 7v2"/><path stroke="#868686" d="M35 7v2M41 5v5M45 6v1M45 9v1M46 9v1M48 5v5M49 5v2M49 8v2M50 6v1M50 9v1M60 6v1M73 5v1M73 9v1M75 3v1M76 6v3M79 5v1M79 8v1M80 5v1M80 8v1M81 6v3M86 7v2"/><path stroke="#8a8a8a" d="M45 7v2M46 6v3M49 7v1M50 7v2M73 6v3M74 3v1M75 10v1M79 6v2M80 6v2"/><path stroke="#8e8e8e" d="M60 7v2M75 4v1"/><path stroke="#929292" d="M75 5v1M75 9v1"/><path stroke="#969696" d="M74 4v1M74 10v1M75 6v3"/><path stroke="#a2a2a2" d="M74 5v1"/><path stroke="#aeaeae" d="M74 9v1"/><path stroke="#b2b2b2" d="M74 6v1"/><path stroke="#bababa" d="M74 8v1"/><path stroke="#bebebe" d="M74 7v1"/></g></g></svg>
<text x="197.75" y="43.85" font-size="4.08" text-anchor="middle" fill="#262626">VTEC VR1 diff  1h (10E 40N)</text>
<text x="140.6" y="76" font-size="3.4" text-anchor="end" fill="#262626">0</text>
<text x="140.6" y="63.7708" font-size="3.4" text-anchor="end" fill="#262626">10</text>
<text x="140.6" y="51.5417" font-size="3.4" text-anchor="end" fill="#262626">20</text>
<rect x="260.3" y="45.75" width="1.9" height="29.35" fill="url(#jetg)"/>
<text x="263.7" y="76.4" font-size="3.42" text-anchor="start" fill="#262626">0</text>
<text x="263.7" y="68.2472" font-size="3.42" text-anchor="start" fill="#262626">10</text>
<text x="263.7" y="60.0944" font-size="3.42" text-anchor="start" fill="#262626">20</text>
<text x="263.7" y="51.9417" font-size="3.42" text-anchor="start" fill="#262626">30</text>
<svg x="17" y="80.2" width="112.1" height="29.35" viewBox="0 0 112 15" preserveAspectRatio="none" stroke-width="1.04" fill="none"><g filter="url(#f0)"><rect x="-4" y="-4" width="120" height="23" fill="#181818"/><g transform="translate(.5)"><path stroke="#141414" d="M3 14v4M9 12v6M11 13v5M17 12v6M18 12v6M19 13v5M20 12v6M21 12v6M24 13v5M27 12v6M28 12v6M29 12v6M30 13v5M31 12v6M32 12v6M33 13v5M35 12v6M36 13v5M39 13v5M55 12v6M56 13v5M58 12v6M61 13v5M65 12v6M67 14v4M69 12v6M72 12v6M73 13v5M76 12v6M77 12v6M78 13v5M79 13v5M80 12v6M82 12v6M83 13v5M85 12v6M86 13v5M87 12v6M88 12v6M91 12v6M95 13v5M96 13v5M99 13v5M100 12v6M108 12v6M109 12v6M111 12v6M112 12v6"/><path stroke="#1c1c1c" d="M9 11v1M55 11v1M90 12v1M94 12v1M109 11v1"/><path stroke="#202020" d="M58 11v1M61 11v1M65 11v1M69 11v1M77 11v1M108 11v1M111 11v1M112 11v1"/><path stroke="#242424" d="M-1 11v1M0 11v1M3 11v1M4 11v1M5 11v1M6 11v1M7 11v1M8 11v1M10 11v1M11 11v1M17 11v1M18 11v1M19 11v1M20 11v1M21 11v1M27 11v1M28 11v1M29 11v1M30 11v1M31 11v1M32 11v1M35 11v1M36 11v1M37 11v1M38 11v1M39 11v1M40 11v1M41 11v1M42 11v1M43 11v1M46 11v1M47 11v1M48 11v1M49 11v1M51 11v1M52 11v1M53 11v1M54 11v1M56 11v1M57 11v1M59 11v1M60 11v1M62 11v1M63 11v1M64 11v1M66 11v1M67 11v1M68 11v1M70 11v1M71 11v1M72 11v1M76 11v1M78 11v1M79 11v1M80 11v1M82 11v1M85 11v1M87 11v1M88 11v1M91 11v1M95 11v1M96 11v1M98 11v1M99 11v1M100 11v1M101 11v1M102 11v1M103 11v1M104 11v1M105 11v1M106 11v1M107 11v1M110 11v1"/><path stroke="#282828" d="M1 11v1M2 11v1M9 -3v4M9 2v1M12 11v1M13 11v1M14 11v1M15 11v1M16 11v1M22 11v1M23 11v1M24 11v1M25 11v1M26 11v1M33 11v1M34 11v1M44 11v1M45 11v1M50 11v1M55 -3v6M58 -3v6M73 11v1M74 11v1M75 11v1M81 11v1M83 11v1M84 11v1M86 11v1M92 11v1M97 11v1M109 -3v6"/><path stroke="#2d2d2d" d="M3 -3v4M9 1v1M28 -3v4M32 -3v4M35 -3v4M49 -3v4M53 -3v5M54 -3v5M56 -3v6M57 -3v4M61 -3v6M62 -3v4M63 -3v4M65 -3v6M67 -3v4M69 -3v6M72 -3v4M76 -3v4M77 -3v4M89 11v1M90 11v1M93 11v1M94 11v1M100 -3v4M105 -3v4M108 -3v6M111 -3v6M112 -3v6"/><path stroke="#313131" d="M-1 -3v6M0 -3v6M2 -3v4M3 1v2M4 -3v6M5 -3v6M6 -3v4M7 -3v6M8 -3v4M8 2v1M9 3v1M10 -3v4M11 -3v4M11 2v1M17 -3v4M18 -3v4M19 -3v4M20 -3v4M21 -3v4M27 -3v4M29 -3v4M31 -3v4M33 -3v4M34 -3v4M36 -3v4M37 -3v4M38 -3v4M38 2v1M39 -3v6M40 -3v4M41 -3v4M41 2v1M43 -3v6M46 -3v6M47 -3v4M48 -3v4M49 1v2M51 -3v5M52 -3v6M53 2v1M54 2v1M55 3v1M57 1v2M59 -3v6M60 -3v6M62 1v2M63 1v2M64 -3v6M66 -3v6M67 1v2M68 -3v6M70 -3v4M71 -3v4M72 1v1M73 -3v4M78 -3v4M79 -3v4M80 -3v4M82 -3v4M85 -3v4M87 -3v4M88 -3v4M91 -3v4M95 -3v4M96 -3v4M98 -3v4M99 -3v4M99 2v1M100 1v2M101 -3v6M102 -3v6M103 -3v6M104 -3v4M105 1v2M106 -3v6M107 -3v4M109 3v1M110 -3v6"/><path stroke="#353535" d="M1 -3v6M2 1v2M6 1v2M8 1v1M10 1v2M11 1v1M12 -3v4M13 -3v4M14 -3v4M15 -3v4M16 -3v4M24 -3v4M30 -3v4M32 1v1M35 1v2M36 1v2M37 1v2M38 1v1M40 1v2M41 1v1M42 -3v6M44 -3v6M45 -3v6M47 1v2M48 1v2M50 -3v6M51 2v1M58 3v1M65 3v1M70 1v2M71 1v2M72 2v1M73 1v1M74 -3v4M75 -3v4M76 1v1M77 1v2M83 -3v4M86 -3v4M92 -3v4M96 1v2M97 -3v4M98 1v2M99 1v1M104 1v2M107 1v2M108 3v1M111 3v1M112 3v1"/><path stroke="#393939" d="M3 3v1M7 3v1M12 1v2M13 1v2M14 1v2M17 1v1M18 1v1M20 1v2M21 1v2M22 -3v4M23 -3v4M25 -3v4M26 -3v4M27 1v1M28 1v1M29 1v1M31 1v2M32 2v1M33 1v1M34 1v1M43 3v1M46 3v1M49 3v1M53 3v1M54 3v1M56 3v1M57 3v1M60 3v1M61 3v1M62 3v1M63 3v1M64 3v1M67 3v1M73 2v1M74 1v1M76 2v1M78 1v1M79 1v1M80 1v1M81 -3v4M82 1v1M84 -3v4M85 1v1M88 1v1M89 -3v4M93 -3v4M94 -3v4M95 1v2M97 1v2M105 3v1M106 3v1M110 3v1"/><path stroke="#3d3d3d" d="M-1 3v1M0 3v1M2 3v1M4 3v1M5 3v1M6 3v1M8 3v1M10 3v1M15 1v1M16 1v1M17 2v1M19 1v2M27 2v1M28 2v1M29 2v1M30 1v2M39 3v1M40 3v1M41 3v1M42 3v1M47 3v1M48 3v1M51 3v1M52 3v1M59 3v1M66 3v1M69 3v1M74 2v1M75 1v1M78 2v1M79 2v1M80 2v1M82 2v1M85 2v1M86 1v2M87 1v2M88 2v1M90 -3v4M91 1v1M92 1v2M103 3v1M104 3v1M107 3v1"/><path stroke="#414141" d="M1 3v1M11 3v1M15 2v1M16 2v1M18 2v1M23 1v2M24 1v2M33 2v1M34 2v1M38 3v1M44 3v1M45 3v1M50 3v1M68 3v1M81 1v1M83 1v1M91 2v1M93 1v2M94 1v2M100 3v1M101 3v1M102 3v1"/><path stroke="#454545" d="M22 1v2M25 1v1M26 1v2M75 2v1M81 2v1M84 1v1M89 1v2M99 3v1"/><path stroke="#494949" d="M25 2v1M83 2v1M90 1v2"/><path stroke="#4d4d4d" d="M12 3v1M37 3v1M55 10v1M70 3v1M84 2v1M98 3v1M109 10v1"/><path stroke="#515151" d="M9 10v1M58 10v1M108 10v1M109 4v1"/><path stroke="#555" d="M36 3v1M55 4v1M65 10v1M96 3v1M97 3v1M111 10v1M112 10v1"/><path stroke="#595959" d="M9 4v1M13 3v1M53 10v1M54 10v1M56 10v1M58 4v1M61 10v1M62 10v1M71 3v1M95 3v1M108 4v1M110 10v1"/><path stroke="#5d5d5d" d="M3 10v1M7 10v1M35 3v1M39 10v1M43 10v1M46 10v1M49 10v1M52 10v1M57 10v1M60 10v1M63 10v1M64 10v1M65 4v1M66 10v1M67 10v1M69 10v1M72 3v1M105 10v1M106 10v1M109 9v1M111 4v1M112 4v1"/><path stroke="#616161" d="M4 10v1M5 10v1M8 10v1M10 10v1M11 10v1M38 10v1M40 10v1M41 10v1M42 10v1M47 10v1M48 10v1M51 10v1M53 4v1M54 4v1M55 9v1M56 4v1M59 10v1M61 4v1M62 4v1M68 10v1M100 10v1M102 10v1M103 10v1M104 10v1M107 10v1M109 5v1M109 8v1M110 4v1"/><path stroke="#656565" d="M-1 10v1M0 10v1M2 10v1M3 4v1M6 10v1M7 4v1M9 9v1M14 3v1M43 4v1M44 10v1M45 10v1M46 4v1M49 4v1M50 10v1M55 5v1M55 8v1M57 4v1M58 9v1M60 4v1M63 4v1M64 4v1M66 4v1M67 4v1M77 3v1M77 10v1M99 10v1M101 10v1M105 4v1M106 4v1M109 6v2"/><path stroke="#696969" d="M1 10v1M4 4v1M5 4v1M8 4v1M9 5v1M9 8v1M20 3v1M21 3v1M27 10v1M28 10v1M31 3v1M32 3v1M32 10v1M35 10v1M36 10v1M37 10v1M39 4v1M41 4v1M51 4v1M52 4v1M55 6v2M58 5v1M58 8v1M59 4v1M65 9v1M70 10v1M72 10v1M73 3v1M76 10v1M82 10v1M85 10v1M88 10v1M96 10v1M98 10v1M107 4v1M108 9v1M111 9v1M112 9v1"/><path stroke="#6d6d6d" d="M-1 4v1M0 4v1M6 4v1M9 6v2M10 4v1M12 10v1M18 10v1M20 10v1M21 10v1M27 3v1M29 10v1M31 10v1M40 4v1M42 4v1M44 4v1M45 4v1M47 4v1M48 4v1M58 6v2M61 9v1M65 8v1M69 4v1M71 10v1M78 3v1M80 3v1M80 10v1M82 3v1M87 3v1M87 10v1M92 3v1M95 10v1M97 10v1M103 4v1M104 4v1M108 5v4M111 5v1M111 8v1M112 5v1M112 8v1"/><path stroke="#717171" d="M1 4v1M2 4v1M13 10v1M17 10v1M19 3v1M19 10v1M24 3v1M28 3v1M29 3v1M30 3v1M30 10v1M43 9v1M49 9v1M50 4v1M53 9v1M54 9v1M56 9v1M57 9v1M61 5v1M61 8v1M62 9v1M63 9v1M65 5v3M68 4v1M73 10v1M74 3v1M76 3v1M78 10v1M79 3v1M79 10v1M85 3v1M86 3v1M86 10v1M88 3v1M91 10v1M93 3v1M94 3v1M100 4v1M102 4v1M105 9v1M110 9v1M111 6v2M112 6v2"/><path stroke="#757575" d="M3 9v1M11 4v1M14 10v1M15 3v1M17 3v1M23 3v1M24 10v1M33 10v1M34 10v1M38 4v1M39 9v1M46 9v1M52 9v1M53 5v1M53 8v1M54 5v1M54 8v1M56 5v1M56 7v2M60 9v1M61 6v2M62 5v1M62 8v1M64 9v1M66 9v1M67 9v1M69 9v1M74 10v1M91 3v1M101 4v1M106 9v1M110 5v1M110 8v1"/><path stroke="#797979" d="M3 5v1M3 8v1M7 9v1M8 9v1M15 10v1M16 3v1M18 3v1M22 3v1M23 10v1M40 9v1M41 9v1M43 5v4M46 5v1M46 8v1M49 5v4M53 6v2M54 6v2M56 6v1M57 5v4M59 9v1M60 5v1M60 7v2M62 6v2M63 5v4M64 5v4M66 5v1M66 8v1M67 5v1M67 8v1M81 3v1M83 10v1M89 3v1M92 10v1M100 9v1M105 5v4M106 5v1M106 7v2M107 9v1M110 6v2"/><path stroke="#7d7d7d" d="M-1 9v1M0 9v1M3 6v2M4 9v1M5 9v1M7 5v4M8 5v1M8 8v1M10 9v1M11 9v1M16 10v1M22 10v1M25 10v1M26 10v1M33 3v1M34 3v1M38 9v1M39 5v1M39 7v2M41 5v1M41 8v1M42 9v1M44 9v1M45 9v1M46 6v2M47 9v1M48 9v1M51 9v1M52 5v4M59 5v1M59 7v2M60 6v1M66 6v2M67 6v2M68 9v1M69 8v1M75 10v1M81 10v1M93 10v1M99 4v1M101 9v1M102 9v1M103 9v1M104 9v1M106 6v1"/><path stroke="#828282" d="M-1 5v1M-1 8v1M0 5v1M0 8v1M2 9v1M4 5v1M4 7v2M5 5v1M5 7v2M6 9v1M8 6v2M10 5v1M10 8v1M25 3v1M26 3v1M39 6v1M40 5v1M40 7v2M41 6v2M42 5v1M42 8v1M45 5v1M45 8v1M47 5v1M47 8v1M48 5v1M48 8v1M50 9v1M51 5v1M51 7v2M59 6v1M68 8v1M69 5v3M84 10v1M89 10v1M90 3v1M94 10v1M99 9v1M100 8v1M102 8v1M103 5v1M103 8v1M104 5v1M104 7v2M107 5v4"/><path stroke="#868686" d="M-1 6v2M0 6v2M1 9v1M2 5v1M2 8v1M4 6v1M5 6v1M6 5v1M6 8v1M10 6v2M11 5v1M11 8v1M37 4v1M38 5v1M38 8v1M40 6v1M42 6v2M44 5v4M45 6v2M47 6v2M48 6v2M50 5v1M50 8v1M51 6v1M68 5v3M70 4v1M75 3v1M83 3v1M90 10v1M98 4v1M100 5v3M101 8v1M102 5v3M103 6v2M104 6v1"/><path stroke="#8a8a8a" d="M1 5v1M1 8v1M2 6v2M6 6v2M11 6v2M12 4v1M35 9v1M36 9v1M37 9v1M38 6v2M50 6v2M70 9v1M77 9v1M96 9v1M98 9v1M99 8v1M101 5v3"/><path stroke="#8e8e8e" d="M1 6v2M12 9v1M20 9v1M21 9v1M27 9v1M31 9v1M32 9v1M36 4v1M71 9v1M72 9v1M84 3v1M95 9v1M96 4v1M99 5v1M99 7v1"/><path stroke="#929292" d="M13 4v1M13 9v1M28 9v1M35 4v1M37 8v1M70 8v1M71 4v1M72 4v1M76 9v1M80 9v1M82 9v1M85 9v1M87 9v1M88 9v1M97 4v1M97 9v1M98 8v1M99 6v1"/><path stroke="#969696" d="M12 8v1M21 4v1M29 9v1M35 8v1M36 8v1M37 5v1M37 7v1M70 5v1M70 7v1M72 8v1M73 9v1M77 4v1M77 8v1M78 9v1M95 4v1M96 8v1M98 5v1"/><path stroke="#9a9a9a" d="M12 5v1M14 9v1M17 9v1M18 9v1M19 9v1M20 4v1M20 8v1M21 8v1M30 9v1M32 4v1M36 5v1M36 7v1M37 6v1M70 6v1M71 8v1M79 9v1M86 9v1M91 9v1M95 8v1M97 8v1M98 6v2"/><path stroke="#9e9e9e" d="M12 6v2M13 8v1M14 4v1M24 9v1M31 4v1M31 8v1M32 8v1M36 6v1M71 5v1M71 7v1M72 5v1M72 7v1M73 4v1M74 9v1M92 9v1M96 5v1M96 7v1"/><path stroke="#a2a2a2" d="M23 9v1M27 4v1M27 8v1M33 9v1M35 5v1M35 7v1M71 6v1M72 6v1M73 8v1M77 7v1M80 4v1M80 8v1M96 6v1M97 5v1M97 7v1"/><path stroke="#a6a6a6" d="M13 5v3M14 8v1M15 9v1M16 9v1M20 5v1M20 7v1M21 5v1M21 7v1M22 9v1M26 9v1M28 8v1M29 4v1M29 8v1M30 4v1M30 8v1M34 9v1M35 6v1M77 5v1M78 4v1M78 8v1M79 4v1M81 9v1M82 8v1M85 8v1M86 4v1M86 8v1M87 4v1M87 8v1M88 8v1M92 4v1M93 9v1M95 5v1M95 7v1M97 6v1"/><path stroke="#aaa" d="M19 4v1M19 8v1M20 6v1M21 6v1M24 4v1M24 8v1M25 9v1M28 4v1M31 7v1M32 7v1M73 5v1M73 7v1M74 4v1M76 8v1M77 6v1M79 8v1M82 4v1M83 9v1M85 4v1M88 4v1M89 9v1M92 8v1M94 9v1M95 6v1"/><path stroke="#aeaeae" d="M14 7v1M17 8v1M23 4v1M31 5v1M32 5v1M73 6v1M74 8v1M75 9v1M80 7v1M93 4v1"/><path stroke="#b2b2b2" d="M14 5v2M15 4v1M17 4v1M22 4v1M23 8v1M27 7v1M30 7v1M31 6v1M32 6v1M76 4v1M78 7v1M80 5v1M84 9v1M86 7v1M89 4v1M90 9v1M91 8v1M94 4v1"/><path stroke="#b6b6b6" d="M15 8v1M18 8v1M22 8v1M27 5v1M29 7v1M30 5v1M74 7v1M78 5v1M79 7v1M80 6v1M81 4v1M81 8v1M86 5v1M89 8v1M91 4v1M92 5v1M92 7v1M93 8v1"/><path stroke="#bababa" d="M16 4v1M16 8v1M18 4v1M19 5v1M19 7v1M24 5v1M24 7v1M29 5v1M30 6v1M74 5v1M78 6v1M79 5v1M82 7v1M85 7v1M86 6v1M87 7v1M92 6v1M94 8v1"/><path stroke="#bebebe" d="M19 6v1M22 5v1M22 7v1M23 5v1M23 7v1M24 6v1M26 8v1M27 6v1M28 7v1M29 6v1M33 8v1M74 6v1M79 6v1M82 5v1M87 5v1M88 7v1"/><path stroke="#c2c2c2" d="M15 7v1M22 6v1M23 6v1M26 4v1M28 5v1M33 4v1M34 8v1M85 5v1M87 6v1M88 5v1M89 5v1M89 7v1M90 4v1M93 5v1M93 7v1"/><path stroke="#c6c6c6" d="M15 5v1M17 7v1M25 4v1M25 8v1M34 4v1M75 8v1M76 7v1M81 7v1M82 6v1M85 6v1M88 6v1M89 6v1M90 8v1M93 6v1M94 5v1M94 7v1"/><path stroke="#cacaca" d="M15 6v1M17 5v1M28 6v1M75 4v1M81 5v1M83 8v1M91 7v1M94 6v1"/><path stroke="#cecece" d="M16 7v1M17 6v1M76 5v1M81 6v1"/><path stroke="#d2d2d2" d="M16 5v1M18 7v1M83 4v1M91 5v1"/><path stroke="#d7d7d7" d="M16 6v1M26 7v1M76 6v1M84 8v1M90 5v1M90 7v1"/><path stroke="#dbdbdb" d="M18 5v1M26 5v1M33 7v1M91 6v1"/><path stroke="#dfdfdf" d="M25 7v1M26 6v1M34 7v1M75 7v1M84 4v1M90 6v1"/><path stroke="#e3e3e3" d="M18 6v1M25 5v1M33 5v1"/><path stroke="#e7e7e7" d="M33 6v1M34 5v1M75 5v1"/><path stroke="#ebebeb" d="M25 6v1M83 7v1"/><path stroke="#efefef" d="M34 6v1M75 6v1"/><path stroke="#f7f7f7" d="M83 5v1"/><path stroke="#fbfbfb" d="M84 7v1"/><path stroke="#fff" d="M83 6v1M84 5v2"/></g></g></svg>
<text x="73.05" y="78.7" font-size="4.08" text-anchor="middle" fill="#262626">VTEC VR1 1h (10E 10N)</text>
<text x="15.6" y="110.85" font-size="3.4" text-anchor="end" fill="#262626">0</text>
<text x="15.6" y="98.6208" font-size="3.4" text-anchor="end" fill="#262626">10</text>
<text x="15.6" y="86.3917" font-size="3.4" text-anchor="end" fill="#262626">20</text>
<text x="32.3562" y="114.05" font-size="3.42" text-anchor="middle" fill="#262626">50</text>
<text x="47.7123" y="114.05" font-size="3.42" text-anchor="middle" fill="#262626">100</text>
<text x="63.0685" y="114.05" font-size="3.42" text-anchor="middle" fill="#262626">150</text>
<text x="78.4247" y="114.05" font-size="3.42" text-anchor="middle" fill="#262626">200</text>
<text x="93.7808" y="114.05" font-size="3.42" text-anchor="middle" fill="#262626">250</text>
<text x="109.137" y="114.05" font-size="3.42" text-anchor="middle" fill="#262626">300</text>
<text x="124.493" y="114.05" font-size="3.42" text-anchor="middle" fill="#262626">350</text>
<text x="73.05" y="118" font-size="3.45" text-anchor="middle" fill="#262626">Days</text>
<svg x="142" y="80.2" width="111.5" height="29.35" viewBox="0 0 112 15" preserveAspectRatio="none" stroke-width="1.04" fill="none"><g filter="url(#f1)"><rect x="-4" y="-4" width="120" height="23" fill="#181818"/><g transform="translate(.5)"><path stroke="#141414" d="M3 14v4M9 12v6M11 13v5M17 12v6M18 12v6M19 13v5M20 12v6M21 12v6M24 13v5M27 12v6M28 12v6M29 12v6M30 13v5M31 12v6M32 12v6M33 13v5M35 12v6M36 13v5M39 13v5M55 12v6M56 13v5M58 12v6M61 13v5M65 12v6M67 14v4M69 12v6M72 12v6M73 13v5M76 12v6M77 12v6M78 13v5M79 13v5M80 12v6M82 12v6M83 13v5M85 12v6M86 13v5M87 12v6M88 12v6M91 12v6M95 13v5M96 13v5M99 13v5M100 12v6M108 12v6M109 12v6M111 12v6M112 12v6"/><path stroke="#1c1c1c" d="M9 11v1M55 11v1M90 12v1M94 12v1M109 11v1"/><path stroke="#202020" d="M58 11v1M61 11v1M65 11v1M69 11v1M77 11v1M108 11v1M111 11v1M112 11v1"/><path stroke="#242424" d="M-1 11v1M0 11v1M3 11v1M4 11v1M5 11v1M6 11v1M7 11v1M8 11v1M10 11v1M11 11v1M17 11v1M18 11v1M19 11v1M20 11v1M21 11v1M27 11v1M28 11v1M29 11v1M30 11v1M31 11v1M32 11v1M35 11v1M36 11v1M37 11v1M38 11v1M39 11v1M40 11v1M41 11v1M42 11v1M43 11v1M46 11v1M47 11v1M48 11v1M49 11v1M51 11v1M52 11v1M53 11v1M54 11v1M56 11v1M57 11v1M59 11v1M60 11v1M62 11v1M63 11v1M64 11v1M66 11v1M67 11v1M68 11v1M70 11v1M71 11v1M72 11v1M76 11v1M78 11v1M79 11v1M80 11v1M82 11v1M85 11v1M87 11v1M88 11v1M91 11v1M95 11v1M96 11v1M98 11v1M99 11v1M100 11v1M101 11v1M102 11v1M103 11v1M104 11v1M105 11v1M106 11v1M107 11v1M110 11v1"/><path stroke="#282828" d="M1 11v1M2 11v1M9 -3v4M9 2v1M12 11v1M13 11v1M14 11v1M15 11v1M16 11v1M22 11v1M23 11v1M24 11v1M25 11v1M26 11v1M33 11v1M34 11v1M44 11v1M45 11v1M50 11v1M55 -3v6M58 -3v6M73 11v1M74 11v1M75 11v1M81 11v1M83 11v1M84 11v1M86 11v1M92 11v1M97 11v1M109 -3v6"/><path stroke="#2d2d2d" d="M3 -3v4M9 1v1M28 -3v4M32 -3v4M35 -3v4M49 -3v4M53 -3v5M54 -3v5M56 -3v6M57 -3v4M61 -3v6M62 -3v4M63 -3v4M65 -3v6M67 -3v4M69 -3v6M72 -3v4M76 -3v4M77 -3v4M89 11v1M90 11v1M93 11v1M94 11v1M100 -3v4M105 -3v4M108 -3v6M111 -3v6M112 -3v6"/><path stroke="#313131" d="M-1 -3v6M0 -3v6M2 -3v4M3 1v2M4 -3v6M5 -3v6M6 -3v4M7 -3v6M8 -3v4M8 2v1M9 3v1M10 -3v4M11 -3v4M11 2v1M17 -3v4M18 -3v4M19 -3v4M20 -3v4M21 -3v4M27 -3v4M29 -3v4M31 -3v4M33 -3v4M34 -3v4M36 -3v4M37 -3v4M38 -3v4M38 2v1M39 -3v6M40 -3v4M41 -3v4M41 2v1M43 -3v6M46 -3v6M47 -3v4M48 -3v4M49 1v2M51 -3v5M52 -3v6M53 2v1M54 2v1M55 3v1M57 1v2M59 -3v6M60 -3v6M62 1v2M63 1v2M64 -3v6M66 -3v6M67 1v2M68 -3v6M70 -3v4M71 -3v4M72 1v1M73 -3v4M78 -3v4M79 -3v4M80 -3v4M82 -3v4M85 -3v4M87 -3v4M88 -3v4M91 -3v4M95 -3v4M96 -3v4M98 -3v4M99 -3v4M99 2v1M100 1v2M101 -3v6M102 -3v6M103 -3v6M104 -3v4M105 1v2M106 -3v6M107 -3v4M109 3v1M110 -3v6"/><path stroke="#353535" d="M1 -3v6M2 1v2M6 1v2M8 1v1M10 1v2M11 1v1M12 -3v4M13 -3v4M14 -3v4M15 -3v4M16 -3v4M24 -3v4M30 -3v4M32 1v1M35 1v2M36 1v2M37 1v2M38 1v1M40 1v2M41 1v1M42 -3v6M44 -3v6M45 -3v6M47 1v2M48 1v2M50 -3v6M51 2v1M58 3v1M65 3v1M70 1v2M71 1v2M72 2v1M73 1v1M74 -3v4M75 -3v4M76 1v1M77 1v2M83 -3v4M86 -3v4M92 -3v4M96 1v2M97 -3v4M98 1v2M99 1v1M104 1v2M107 1v2M108 3v1M111 3v1M112 3v1"/><path stroke="#393939" d="M3 3v1M7 3v1M12 1v2M13 1v2M14 1v2M17 1v1M18 1v1M20 1v2M21 1v2M22 -3v4M23 -3v4M25 -3v4M26 -3v4M27 1v1M28 1v1M29 1v1M31 1v2M32 2v1M33 1v1M34 1v1M43 3v1M46 3v1M49 3v1M53 3v1M54 3v1M56 3v1M57 3v1M60 3v1M61 3v1M62 3v1M63 3v1M64 3v1M67 3v1M73 2v1M74 1v1M76 2v1M78 1v1M79 1v1M80 1v1M81 -3v4M82 1v1M84 -3v4M85 1v1M88 1v1M89 -3v4M93 -3v4M94 -3v4M95 1v2M97 1v2M105 3v1M106 3v1M110 3v1"/><path stroke="#3d3d3d" d="M-1 3v1M0 3v1M2 3v1M4 3v1M5 3v1M6 3v1M8 3v1M10 3v1M15 1v1M16 1v1M17 2v1M19 1v2M27 2v1M28 2v1M29 2v1M30 1v2M39 3v1M40 3v1M41 3v1M42 3v1M47 3v1M48 3v1M51 3v1M52 3v1M59 3v1M66 3v1M69 3v1M74 2v1M75 1v1M78 2v1M79 2v1M80 2v1M82 2v1M85 2v1M86 1v2M87 1v2M88 2v1M90 -3v4M91 1v1M92 1v2M103 3v1M104 3v1M107 3v1"/><path stroke="#414141" d="M1 3v1M11 3v1M15 2v1M16 2v1M18 2v1M23 1v2M24 1v2M33 2v1M34 2v1M38 3v1M44 3v1M45 3v1M50 3v1M68 3v1M81 1v1M83 1v1M91 2v1M93 1v2M94 1v2M100 3v1M101 3v1M102 3v1"/><path stroke="#454545" d="M22 1v2M25 1v1M26 1v2M75 2v1M81 2v1M84 1v1M89 1v2M99 3v1"/><path stroke="#494949" d="M25 2v1M83 2v1M90 1v2"/><path stroke="#4d4d4d" d="M12 3v1M37 3v1M55 10v1M70 3v1M84 2v1M98 3v1M109 10v1"/><path stroke="#515151" d="M9 10v1M58 10v1M108 10v1M109 4v1"/><path stroke="#555" d="M36 3v1M55 4v1M65 10v1M96 3v1M97 3v1M111 10v1M112 10v1"/><path stroke="#595959" d="M9 4v1M13 3v1M53 10v1M54 10v1M56 10v1M58 4v1M61 10v1M62 10v1M71 3v1M95 3v1M108 4v1M110 10v1"/><path stroke="#5d5d5d" d="M3 10v1M7 10v1M35 3v1M39 10v1M43 10v1M46 10v1M49 10v1M52 10v1M57 10v1M60 10v1M63 10v1M64 10v1M65 4v1M66 10v1M67 10v1M69 10v1M72 3v1M105 10v1M106 10v1M109 9v1M111 4v1M112 4v1"/><path stroke="#616161" d="M4 10v1M5 10v1M8 10v1M10 10v1M11 10v1M38 10v1M40 10v1M41 10v1M42 10v1M47 10v1M48 10v1M51 10v1M53 4v1M54 4v1M55 9v1M56 4v1M59 10v1M61 4v1M62 4v1M68 10v1M100 10v1M102 10v1M103 10v1M104 10v1M107 10v1M109 5v1M109 8v1M110 4v1"/><path stroke="#656565" d="M-1 10v1M0 10v1M2 10v1M3 4v1M6 10v1M7 4v1M9 9v1M14 3v1M43 4v1M44 10v1M45 10v1M46 4v1M49 4v1M50 10v1M55 5v1M55 8v1M57 4v1M58 9v1M60 4v1M63 4v1M64 4v1M66 4v1M67 4v1M77 3v1M77 10v1M99 10v1M101 10v1M105 4v1M106 4v1M109 6v2"/><path stroke="#696969" d="M1 10v1M4 4v1M5 4v1M8 4v1M9 5v1M9 8v1M20 3v1M21 3v1M27 10v1M28 10v1M31 3v1M32 3v1M32 10v1M35 10v1M36 10v1M37 10v1M39 4v1M41 4v1M51 4v1M52 4v1M55 6v2M58 5v1M58 8v1M59 4v1M65 9v1M70 10v1M72 10v1M73 3v1M76 10v1M82 10v1M85 10v1M88 10v1M96 10v1M98 10v1M107 4v1M108 9v1M111 9v1M112 9v1"/><path stroke="#6d6d6d" d="M-1 4v1M0 4v1M6 4v1M9 6v2M10 4v1M12 10v1M18 10v1M20 10v1M21 10v1M27 3v1M29 10v1M31 10v1M40 4v1M42 4v1M44 4v1M45 4v1M47 4v1M48 4v1M58 6v2M61 9v1M65 8v1M69 4v1M71 10v1M78 3v1M80 3v1M80 10v1M82 3v1M87 3v1M87 10v1M92 3v1M95 10v1M97 10v1M103 4v1M104 4v1M108 5v4M111 5v1M111 8v1M112 5v1M112 8v1"/><path stroke="#717171" d="M1 4v1M2 4v1M13 10v1M17 10v1M19 3v1M19 10v1M24 3v1M28 3v1M29 3v1M30 3v1M30 10v1M43 9v1M49 9v1M50 4v1M53 9v1M54 9v1M56 9v1M57 9v1M61 5v1M61 8v1M62 9v1M63 9v1M65 5v3M68 4v1M73 10v1M74 3v1M76 3v1M78 10v1M79 3v1M79 10v1M85 3v1M86 3v1M86 10v1M88 3v1M91 10v1M93 3v1M94 3v1M100 4v1M102 4v1M105 9v1M110 9v1M111 6v2M112 6v2"/><path stroke="#757575" d="M3 9v1M11 4v1M14 10v1M15 3v1M17 3v1M23 3v1M24 10v1M33 10v1M34 10v1M38 4v1M39 9v1M46 9v1M52 9v1M53 5v1M53 8v1M54 5v1M54 8v1M56 5v1M56 7v2M60 9v1M61 6v2M62 5v1M62 8v1M64 9v1M66 9v1M67 9v1M69 9v1M74 10v1M91 3v1M101 4v1M106 9v1M110 5v1M110 8v1"/><path stroke="#797979" d="M3 5v1M3 8v1M7 9v1M8 9v1M15 10v1M16 3v1M18 3v1M22 3v1M23 10v1M40 9v1M41 9v1M43 5v4M46 5v1M46 8v1M49 5v4M53 6v2M54 6v2M56 6v1M57 5v4M59 9v1M60 5v1M60 7v2M62 6v2M63 5v4M64 5v4M66 5v1M66 8v1M67 5v1M67 8v1M81 3v1M83 10v1M89 3v1M92 10v1M100 9v1M105 5v4M106 5v1M106 7v2M107 9v1M110 6v2"/><path stroke="#7d7d7d" d="M-1 9v1M0 9v1M3 6v2M4 9v1M5 9v1M7 5v4M8 5v1M8 8v1M10 9v1M11 9v1M16 10v1M22 10v1M25 10v1M26 10v1M33 3v1M34 3v1M38 9v1M39 5v1M39 7v2M41 5v1M41 8v1M42 9v1M44 9v1M45 9v1M46 6v2M47 9v1M48 9v1M51 9v1M52 5v4M59 5v1M59 7v2M60 6v1M66 6v2M67 6v2M68 9v1M69 8v1M75 10v1M81 10v1M93 10v1M99 4v1M101 9v1M102 9v1M103 9v1M104 9v1M106 6v1"/><path stroke="#828282" d="M-1 5v1M-1 8v1M0 5v1M0 8v1M2 9v1M4 5v1M4 7v2M5 5v1M5 7v2M6 9v1M8 6v2M10 5v1M10 8v1M25 3v1M26 3v1M39 6v1M40 5v1M40 7v2M41 6v2M42 5v1M42 8v1M45 5v1M45 8v1M47 5v1M47 8v1M48 5v1M48 8v1M50 9v1M51 5v1M51 7v2M59 6v1M68 8v1M69 5v3M84 10v1M89 10v1M90 3v1M94 10v1M99 9v1M100 8v1M102 8v1M103 5v1M103 8v1M104 5v1M104 7v2M107 5v4"/><path stroke="#868686" d="M-1 6v2M0 6v2M1 9v1M2 5v1M2 8v1M4 6v1M5 6v1M6 5v1M6 8v1M10 6v2M11 5v1M11 8v1M37 4v1M38 5v1M38 8v1M40 6v1M42 6v2M44 5v4M45 6v2M47 6v2M48 6v2M50 5v1M50 8v1M51 6v1M68 5v3M70 4v1M75 3v1M83 3v1M90 10v1M98 4v1M100 5v3M101 8v1M102 5v3M103 6v2M104 6v1"/><path stroke="#8a8a8a" d="M1 5v1M1 8v1M2 6v2M6 6v2M11 6v2M12 4v1M35 9v1M36 9v1M37 9v1M38 6v2M50 6v2M70 9v1M77 9v1M96 9v1M98 9v1M99 8v1M101 5v3"/><path stroke="#8e8e8e" d="M1 6v2M12 9v1M20 9v1M21 9v1M27 9v1M31 9v1M32 9v1M36 4v1M71 9v1M72 9v1M84 3v1M95 9v1M96 4v1M99 5v1M99 7v1"/><path stroke="#929292" d="M13 4v1M13 9v1M28 9v1M35 4v1M37 8v1M70 8v1M71 4v1M72 4v1M76 9v1M80 9v1M82 9v1M85 9v1M87 9v1M88 9v1M97 4v1M97 9v1M98 8v1M99 6v1"/><path stroke="#969696" d="M12 8v1M21 4v1M29 9v1M35 8v1M36 8v1M37 5v1M37 7v1M70 5v1M70 7v1M72 8v1M73 9v1M77 4v1M77 8v1M78 9v1M95 4v1M96 8v1M98 5v1"/><path stroke="#9a9a9a" d="M12 5v1M14 9v1M17 9v1M18 9v1M19 9v1M20 4v1M20 8v1M21 8v1M30 9v1M32 4v1M36 5v1M36 7v1M37 6v1M70 6v1M71 8v1M79 9v1M86 9v1M91 9v1M95 8v1M97 8v1M98 6v2"/><path stroke="#9e9e9e" d="M12 6v2M13 8v1M14 4v1M24 9v1M31 4v1M31 8v1M32 8v1M36 6v1M71 5v1M71 7v1M72 5v1M72 7v1M73 4v1M74 9v1M92 9v1M96 5v1M96 7v1"/><path stroke="#a2a2a2" d="M23 9v1M27 4v1M27 8v1M33 9v1M35 5v1M35 7v1M71 6v1M72 6v1M73 8v1M77 7v1M80 4v1M80 8v1M96 6v1M97 5v1M97 7v1"/><path stroke="#a6a6a6" d="M13 5v3M14 8v1M15 9v1M16 9v1M20 5v1M20 7v1M21 5v1M21 7v1M22 9v1M26 9v1M28 8v1M29 4v1M29 8v1M30 4v1M30 8v1M34 9v1M35 6v1M77 5v1M78 4v1M78 8v1M79 4v1M81 9v1M82 8v1M85 8v1M86 4v1M86 8v1M87 4v1M87 8v1M88 8v1M92 4v1M93 9v1M95 5v1M95 7v1M97 6v1"/><path stroke="#aaa" d="M19 4v1M19 8v1M20 6v1M21 6v1M24 4v1M24 8v1M25 9v1M28 4v1M31 7v1M32 7v1M73 5v1M73 7v1M74 4v1M76 8v1M77 6v1M79 8v1M82 4v1M83 9v1M85 4v1M88 4v1M89 9v1M92 8v1M94 9v1M95 6v1"/><path stroke="#aeaeae" d="M14 7v1M17 8v1M23 4v1M31 5v1M32 5v1M73 6v1M74 8v1M75 9v1M80 7v1M93 4v1"/><path stroke="#b2b2b2" d="M14 5v2M15 4v1M17 4v1M22 4v1M23 8v1M27 7v1M30 7v1M31 6v1M32 6v1M76 4v1M78 7v1M80 5v1M84 9v1M86 7v1M89 4v1M90 9v1M91 8v1M94 4v1"/><path stroke="#b6b6b6" d="M15 8v1M18 8v1M22 8v1M27 5v1M29 7v1M30 5v1M74 7v1M78 5v1M79 7v1M80 6v1M81 4v1M81 8v1M86 5v1M89 8v1M91 4v1M92 5v1M92 7v1M93 8v1"/><path stroke="#bababa" d="M16 4v1M16 8v1M18 4v1M19 5v1M19 7v1M24 5v1M24 7v1M29 5v1M30 6v1M74 5v1M78 6v1M79 5v1M82 7v1M85 7v1M86 6v1M87 7v1M92 6v1M94 8v1"/><path stroke="#bebebe" d="M19 6v1M22 5v1M22 7v1M23 5v1M23 7v1M24 6v1M26 8v1M27 6v1M28 7v1M29 6v1M33 8v1M74 6v1M79 6v1M82 5v1M87 5v1M88 7v1"/><path stroke="#c2c2c2" d="M15 7v1M22 6v1M23 6v1M26 4v1M28 5v1M33 4v1M34 8v1M85 5v1M87 6v1M88 5v1M89 5v1M89 7v1M90 4v1M93 5v1M93 7v1"/><path stroke="#c6c6c6" d="M15 5v1M17 7v1M25 4v1M25 8v1M34 4v1M75 8v1M76 7v1M81 7v1M82 6v1M85 6v1M88 6v1M89 6v1M90 8v1M93 6v1M94 5v1M94 7v1"/><path stroke="#cacaca" d="M15 6v1M17 5v1M28 6v1M75 4v1M81 5v1M83 8v1M91 7v1M94 6v1"/><path stroke="#cecece" d="M16 7v1M17 6v1M76 5v1M81 6v1"/><path stroke="#d2d2d2" d="M16 5v1M18 7v1M83 4v1M91 5v1"/><path stroke="#d7d7d7" d="M16 6v1M26 7v1M76 6v1M84 8v1M90 5v1M90 7v1"/><path stroke="#dbdbdb" d="M18 5v1M26 5v1M33 7v1M91 6v1"/><path stroke="#dfdfdf" d="M25 7v1M26 6v1M34 7v1M75 7v1M84 4v1M90 6v1"/><path stroke="#e3e3e3" d="M18 6v1M25 5v1M33 5v1"/><path stroke="#e7e7e7" d="M33 6v1M34 5v1M75 5v1"/><path stroke="#ebebeb" d="M25 6v1M83 7v1"/><path stroke="#efefef" d="M34 6v1M75 6v1"/><path stroke="#f7f7f7" d="M83 5v1"/><path stroke="#fbfbfb" d="M84 7v1"/><path stroke="#fff" d="M83 6v1M84 5v2"/></g></g></svg>
<text x="197.75" y="78.7" font-size="4.08" text-anchor="middle" fill="#262626">VTEC VR1 diff  1h (10E 10N)</text>
<text x="140.6" y="110.85" font-size="3.4" text-anchor="end" fill="#262626">0</text>
<text x="140.6" y="98.6208" font-size="3.4" text-anchor="end" fill="#262626">10</text>
<text x="140.6" y="86.3917" font-size="3.4" text-anchor="end" fill="#262626">20</text>
<text x="157.274" y="114.05" font-size="3.42" text-anchor="middle" fill="#262626">50</text>
<text x="172.548" y="114.05" font-size="3.42" text-anchor="middle" fill="#262626">100</text>
<text x="187.822" y="114.05" font-size="3.42" text-anchor="middle" fill="#262626">150</text>
<text x="203.096" y="114.05" font-size="3.42" text-anchor="middle" fill="#262626">200</text>
<text x="218.37" y="114.05" font-size="3.42" text-anchor="middle" fill="#262626">250</text>
<text x="233.644" y="114.05" font-size="3.42" text-anchor="middle" fill="#262626">300</text>
<text x="248.918" y="114.05" font-size="3.42" text-anchor="middle" fill="#262626">350</text>
<text x="197.75" y="118" font-size="3.45" text-anchor="middle" fill="#262626">Days</text>
<rect x="260.3" y="80.6" width="1.9" height="29.35" fill="url(#jetg)"/>
<text x="263.7" y="111.25" font-size="3.42" text-anchor="start" fill="#262626">0</text>
<text x="263.7" y="99.51" font-size="3.42" text-anchor="start" fill="#262626">20</text>
<text x="263.7" y="87.77" font-size="3.42" text-anchor="start" fill="#262626">40</text>
<text x="9.8" y="60.025" font-size="3.5" text-anchor="middle" fill="#262626" transform="rotate(-90 9.8 60.025)">Time (hours)</text>
<svg x="16" y="126.8" width="112.6" height="29.35" viewBox="0 0 112 22" preserveAspectRatio="none" stroke-width="1.04" fill="none"><g filter="url(#f2)"><rect x="-4" y="-4" width="120" height="30" fill="#7d7d7d"/><g transform="translate(.5)"><path stroke="#494949" d="M109 11v1M110 17v1"/><path stroke="#4d4d4d" d="M106 15v1M107 11v1M108 7v1M108 19v1M109 18v1M110 14v1"/><path stroke="#515151" d="M3 7v1M99 5v1M101 10v1M107 7v2M108 4v1M108 10v1M108 13v1M108 15v1M108 18v1M109 6v1M109 12v1M110 6v1"/><path stroke="#555" d="M104 4v1M105 9v1M107 4v2M107 9v1M107 16v1M108 5v1M108 16v1M109 9v1M109 13v1M109 19v1M110 12v2M111 11v2M111 20v5M112 11v2M112 20v5"/><path stroke="#595959" d="M3 5v1M5 1v1M5 14v1M6 7v1M6 15v1M18 11v1M85 -3v4M96 21v4M99 20v1M103 14v1M105 18v1M106 3v1M106 13v1M106 21v4M107 15v1M108 8v2M108 11v1M108 17v1M109 4v2M109 8v1M109 15v1M109 20v1M110 1v1M110 4v2M110 18v1M111 8v1M111 14v1M112 8v1M112 14v1"/><path stroke="#5d5d5d" d="M1 -3v4M2 20v1M3 6v1M83 5v1M92 8v1M94 3v1M100 5v1M100 8v1M104 1v1M104 9v1M104 11v1M105 10v2M105 15v1M106 1v1M106 6v1M106 9v1M106 11v1M106 16v2M107 3v1M107 10v1M107 12v1M110 2v1M110 11v1M110 20v1M111 5v1M111 16v1M112 5v1M112 16v1"/><path stroke="#616161" d="M1 13v1M1 16v1M1 18v1M2 8v1M2 15v1M3 2v1M6 1v1M6 3v1M6 10v1M7 6v1M9 4v1M10 4v1M11 20v1M15 -3v4M17 12v1M20 2v1M31 13v1M32 2v1M38 3v1M76 -3v4M77 -3v4M83 6v1M83 10v1M88 17v1M92 16v1M94 17v1M96 19v1M97 8v1M97 17v1M98 5v1M100 6v1M102 7v2M102 15v1M102 17v1M104 3v1M104 6v1M104 16v2M105 1v1M105 6v1M105 13v1M105 20v1M106 4v1M106 8v1M106 12v1M106 20v1M107 -3v4M107 2v1M107 6v1M107 13v2M107 17v1M107 19v1M107 21v4M108 6v1M108 12v1M109 -3v4M109 10v1M109 16v1M110 -3v4M110 9v1M110 19v1M111 2v1M111 7v1M111 10v1M111 13v1M112 2v1M112 7v1M112 10v1M112 13v1"/><path stroke="#656565" d="M-1 -3v4M-1 2v1M-1 12v1M0 -3v4M0 2v1M0 12v1M1 8v1M1 14v1M2 2v1M2 4v1M2 18v1M3 10v1M3 20v5M4 2v1M4 6v1M5 3v1M5 7v1M8 7v1M8 10v1M8 20v1M9 15v1M10 13v2M11 1v1M11 18v1M12 -3v4M12 9v1M13 6v1M13 19v1M18 8v1M18 13v1M22 10v1M22 20v1M23 3v1M30 12v2M31 5v1M33 13v1M38 15v1M42 15v1M54 8v1M55 18v1M58 18v1M72 12v1M76 14v1M77 15v1M79 2v1M80 1v1M80 4v1M83 7v1M86 3v1M87 12v1M87 18v1M90 15v1M90 18v1M91 3v1M91 15v1M92 6v1M96 6v1M97 2v1M97 6v1M98 17v1M99 3v1M100 -3v4M100 4v1M100 15v1M100 17v1M101 7v1M101 15v1M101 17v2M102 2v1M102 18v1M103 5v2M103 18v1M103 20v1M104 10v1M104 13v2M104 18v2M105 -3v4M105 4v1M105 14v1M105 16v1M105 19v1M106 2v1M106 18v1M108 2v1M108 14v1M109 7v1M109 14v1M109 17v1M110 8v1M110 15v2M110 21v4M111 9v1M111 18v1M112 9v1M112 18v1"/><path stroke="#696969" d="M-1 7v1M-1 15v1M-1 20v1M0 7v1M0 15v1M0 20v1M1 12v1M2 1v1M3 4v1M3 9v1M3 16v2M4 5v1M5 9v2M5 18v1M5 20v5M6 5v1M6 14v1M6 20v5M7 5v1M7 10v1M8 2v1M8 5v1M8 18v1M9 20v1M10 -3v4M10 9v1M10 11v2M12 8v1M12 18v1M14 1v1M16 7v1M16 17v1M17 6v1M17 11v1M18 1v1M18 12v1M19 -3v4M19 9v1M19 11v2M23 10v1M24 -3v4M24 11v1M25 21v4M26 15v1M28 1v1M28 4v1M28 7v1M30 -3v4M31 -3v4M32 10v1M43 16v1M44 15v1M48 18v1M59 11v2M73 20v1M78 2v1M78 10v1M78 21v4M80 3v1M80 16v1M81 15v1M83 2v1M84 13v1M85 6v1M86 -3v5M87 16v1M88 16v1M92 13v1M93 -3v5M93 5v1M93 17v1M95 9v1M95 17v1M96 8v1M96 10v1M96 13v1M97 19v1M98 10v1M99 -3v4M99 10v1M99 14v2M99 19v1M100 9v2M100 16v1M101 8v1M101 20v1M102 19v1M102 21v4M103 8v1M103 10v2M103 15v1M104 8v1M104 15v1M104 20v1M105 5v1M105 17v1M106 10v1M107 18v1M108 -3v4M109 1v1M110 3v1M110 7v1M110 10v1M111 1v1M111 4v1M111 19v1M112 1v1M112 4v1M112 19v1"/><path stroke="#6d6d6d" d="M-1 4v1M-1 17v2M0 4v1M0 17v2M1 6v1M1 9v1M1 15v1M2 7v1M2 16v2M2 19v1M3 1v1M3 3v1M3 8v1M3 18v1M4 -3v4M4 7v1M4 11v1M4 15v1M4 18v1M4 20v1M5 17v1M6 2v1M6 4v1M6 8v1M6 11v1M7 3v1M7 7v1M7 17v2M8 16v1M9 7v1M9 16v2M10 3v1M10 6v1M10 8v1M10 17v1M10 19v2M11 19v1M12 6v1M12 10v2M13 -3v4M14 -3v4M14 3v1M14 19v1M15 7v1M15 19v1M16 9v1M16 20v1M17 9v1M17 15v1M17 19v1M18 10v1M18 18v1M19 18v1M19 20v1M20 20v1M21 4v1M21 9v1M22 3v1M23 1v1M23 14v1M24 9v2M24 21v4M27 7v1M27 20v1M28 9v1M29 1v2M32 4v1M34 12v1M34 17v1M35 16v1M37 4v1M40 15v1M43 2v1M46 18v1M50 19v1M52 20v1M54 9v1M55 10v1M57 11v1M58 7v1M59 8v1M59 20v5M61 9v1M64 7v1M67 20v1M69 20v1M70 3v1M73 3v2M74 3v1M74 11v1M75 11v1M75 14v1M76 7v1M76 9v1M76 15v1M77 1v1M80 17v1M81 2v1M81 7v1M81 16v1M82 4v1M83 9v1M83 14v1M84 6v2M84 15v1M85 3v1M86 12v1M87 2v1M87 6v1M88 5v1M88 8v1M89 15v1M89 19v1M91 -3v4M91 2v1M91 7v1M91 13v2M91 16v1M91 18v1M91 20v1M92 2v2M92 14v1M93 6v1M93 10v1M93 16v1M93 19v1M94 -3v4M94 4v1M94 16v1M95 2v1M95 10v1M95 19v2M96 3v1M96 5v1M96 9v1M96 16v1M97 3v1M97 20v5M98 2v2M98 7v1M98 13v1M99 8v1M99 18v1M100 2v1M100 13v1M101 -3v4M101 4v2M101 9v1M101 11v2M101 14v1M101 21v4M102 5v2M102 10v1M103 -3v4M103 3v2M103 13v1M103 17v1M103 19v1M104 5v1M104 21v4M105 3v1M105 8v1M106 -3v4M106 14v1M106 19v1M107 1v1M109 2v1M109 21v4M111 6v1M112 6v1"/><path stroke="#717171" d="M-1 1v1M-1 8v1M-1 11v1M-1 19v1M0 1v1M0 8v1M0 11v1M0 19v1M1 2v1M1 4v1M1 19v1M2 6v1M2 9v2M2 13v1M3 13v3M4 4v1M4 8v1M4 12v1M4 16v1M4 21v4M5 2v1M5 5v1M5 13v1M5 15v1M5 19v1M7 1v1M7 11v1M7 21v4M8 17v1M8 19v1M9 11v1M9 18v1M10 1v2M10 15v2M11 4v1M12 20v1M13 9v2M13 21v4M15 10v1M15 13v1M15 15v1M16 13v1M17 3v1M17 7v2M18 -3v4M18 6v1M18 9v1M19 1v2M19 7v2M19 17v1M20 1v1M20 5v1M20 9v1M20 13v2M20 16v1M21 11v1M22 4v1M22 8v1M22 13v1M23 15v1M24 1v1M24 14v1M25 9v3M25 19v1M26 20v1M27 9v2M27 14v1M28 2v1M30 2v2M30 6v1M31 1v1M31 6v1M31 9v1M31 12v1M31 16v1M32 -3v4M32 11v1M33 2v1M33 4v1M33 17v1M34 2v1M34 4v1M36 6v1M37 17v1M38 6v1M39 7v1M40 1v1M44 7v1M45 15v1M46 6v1M47 9v1M49 6v1M49 10v1M51 6v1M52 6v1M53 20v1M55 6v1M56 11v1M56 16v1M56 21v4M59 15v1M60 9v1M60 21v4M61 20v1M62 8v1M63 7v2M63 10v1M64 8v1M65 1v1M65 9v1M66 8v1M67 9v1M67 11v1M67 19v1M68 1v1M68 20v1M69 4v1M69 7v1M69 12v1M70 13v1M70 20v1M72 5v1M72 9v1M77 14v1M78 1v1M78 15v1M78 18v1M79 -3v4M79 4v1M79 14v1M80 14v1M81 4v1M83 1v1M83 12v2M84 1v1M84 18v1M86 6v1M86 17v1M87 3v1M87 5v1M87 7v1M87 13v1M87 17v1M88 6v2M88 11v1M88 13v1M89 5v1M89 7v1M89 9v1M89 20v1M90 -3v4M90 6v1M90 20v1M92 1v1M92 4v1M92 11v1M92 21v4M93 8v1M93 14v1M94 2v1M94 7v1M94 19v1M95 1v1M95 4v1M95 8v1M95 13v1M96 1v1M96 14v2M96 20v1M97 5v1M97 16v1M98 4v1M98 8v1M98 18v1M99 6v1M99 17v1M100 12v1M100 14v1M100 19v1M101 13v1M102 -3v4M102 16v1M103 1v1M104 2v1M104 7v1M104 12v1M105 7v1M105 21v4M106 7v1M108 1v1M109 3v1M111 15v1M111 17v1M112 15v1M112 17v1"/><path stroke="#757575" d="M-1 5v1M-1 13v1M0 5v1M0 13v1M1 5v1M1 11v1M2 -3v4M2 3v1M2 14v1M2 21v4M3 11v1M4 10v1M4 17v1M5 -3v4M5 8v1M5 11v1M6 17v1M6 19v1M7 2v1M7 8v2M7 15v2M7 19v2M8 4v1M8 12v1M8 15v1M9 5v2M9 8v2M9 19v1M10 5v1M11 3v1M11 11v1M11 14v1M11 17v1M12 7v1M12 13v2M12 21v4M13 2v1M13 7v2M13 13v1M13 15v1M13 20v1M14 2v1M14 7v1M14 10v2M14 20v1M15 1v1M15 5v1M15 12v1M15 21v4M16 -3v4M16 10v2M16 21v4M17 1v2M17 10v1M18 3v2M18 15v1M18 17v1M18 20v1M19 5v1M19 10v1M19 16v1M20 -3v4M20 3v2M20 8v1M20 21v4M21 10v1M21 15v1M22 2v1M22 7v1M22 15v1M22 17v1M23 -3v4M23 4v1M23 6v1M23 8v2M23 19v1M23 21v4M24 17v1M26 11v2M26 14v1M27 16v1M29 5v2M29 9v1M29 11v1M31 2v1M31 8v1M31 10v1M31 14v1M32 7v1M34 1v1M34 3v1M34 6v1M35 4v1M35 6v1M35 13v1M35 15v1M35 18v1M36 2v1M36 13v1M36 16v1M37 13v1M37 15v1M38 4v1M39 6v1M39 15v1M40 13v1M41 5v1M43 1v1M43 3v1M43 8v1M44 4v1M45 13v1M45 20v1M46 7v1M46 17v1M47 3v1M47 6v1M48 9v1M48 15v1M49 5v1M50 6v1M50 21v4M51 8v1M51 16v1M52 8v1M54 20v1M56 -3v4M58 6v1M58 11v1M60 -3v4M61 11v1M62 6v1M62 11v1M63 11v1M64 11v1M64 19v1M64 21v4M65 -3v4M66 1v1M66 11v1M67 8v1M67 21v4M68 2v1M68 9v1M69 -3v4M69 11v1M69 13v1M70 4v1M70 9v1M71 2v1M71 13v1M71 20v1M72 -3v4M72 11v1M72 13v1M72 16v1M75 -3v4M75 9v1M76 13v1M76 21v4M77 11v2M78 8v1M78 11v1M79 8v2M79 11v1M79 16v2M80 2v1M80 9v1M80 15v1M81 3v1M81 10v2M81 14v1M82 1v2M82 9v1M82 12v1M82 14v1M82 18v1M83 3v2M84 14v1M84 16v1M85 8v1M85 11v1M85 13v1M86 13v1M86 19v1M87 14v2M87 19v1M88 2v1M88 14v2M88 18v1M89 1v1M89 3v1M89 6v1M89 13v1M89 21v4M90 9v1M90 17v1M91 11v1M93 4v1M93 13v1M93 18v1M93 21v4M94 6v1M94 10v1M94 15v1M95 3v1M95 7v1M95 14v1M95 16v1M96 4v1M97 -3v4M97 7v1M97 10v2M97 13v1M97 15v1M98 6v1M98 20v1M99 4v1M99 9v1M99 11v1M99 13v1M99 16v1M100 18v1M101 1v1M101 6v1M101 19v1M102 9v1M102 11v1M102 13v1M102 20v1M103 2v1M103 7v1M103 9v1M103 12v1M106 5v1M107 20v1M108 20v5M111 -3v4M111 3v1M112 -3v4M112 3v1"/><path stroke="#797979" d="M-1 16v1M0 16v1M1 3v1M1 17v1M1 20v5M2 5v1M2 11v1M3 -3v4M4 1v1M4 3v1M4 9v1M4 19v1M5 6v1M6 6v1M6 12v1M6 16v1M6 18v1M7 14v1M8 -3v5M8 9v1M8 14v1M8 21v4M9 -3v7M9 12v1M9 14v1M10 18v1M10 21v4M11 -3v4M11 6v1M11 13v1M13 1v1M13 5v1M14 5v2M14 15v4M14 21v4M15 2v1M15 18v1M16 2v1M16 12v1M16 14v1M16 19v1M17 17v1M18 7v1M18 19v1M19 15v1M19 19v1M19 21v4M20 7v1M20 15v1M20 17v1M21 1v3M21 8v1M22 -3v4M22 9v1M24 5v1M24 20v1M25 2v1M25 13v1M25 15v1M26 2v2M26 7v1M26 9v2M26 18v1M27 2v1M27 13v1M27 19v1M28 14v1M29 4v1M29 10v1M30 5v1M30 14v1M30 16v2M31 3v2M31 15v1M31 21v4M32 3v1M32 5v1M33 1v1M33 8v1M33 12v1M33 14v1M34 -3v4M34 13v2M35 2v1M35 11v1M36 7v1M36 12v1M36 15v1M37 1v1M37 6v1M38 2v1M38 16v1M39 5v1M39 14v1M40 17v1M41 1v1M41 15v3M41 19v1M42 1v1M42 4v1M43 9v1M43 15v1M43 17v1M44 2v1M44 6v1M45 5v1M46 3v1M46 14v2M48 4v1M48 21v4M50 16v1M50 20v1M51 5v1M51 19v1M52 19v1M53 16v1M54 7v1M54 17v1M55 5v1M56 9v1M57 10v1M57 18v1M58 2v1M58 5v1M58 9v1M58 12v1M59 -3v4M59 7v1M59 9v2M59 19v1M60 13v1M60 20v1M61 6v1M61 12v1M61 21v4M62 1v1M62 12v2M62 21v4M63 2v1M63 9v1M63 13v1M63 20v1M64 3v1M64 18v1M65 7v1M65 10v1M65 13v1M66 -3v4M66 9v1M66 18v1M66 20v1M67 -3v5M67 3v1M68 -3v4M68 15v1M69 21v4M70 1v1M70 5v1M70 8v1M70 12v1M70 21v4M71 5v1M71 19v1M72 2v1M72 19v1M73 8v2M73 11v3M73 18v1M74 -3v4M74 6v1M74 15v1M75 1v1M75 3v1M75 13v1M75 16v1M75 18v1M75 21v4M76 4v1M76 12v1M77 3v1M77 16v1M77 20v1M78 6v1M78 20v1M79 12v1M79 20v1M80 7v1M80 11v1M80 19v2M81 -3v5M82 10v2M82 15v1M82 17v1M83 11v1M84 -3v4M84 2v1M84 5v1M85 5v1M85 18v1M85 21v4M86 5v1M86 11v1M86 20v1M87 9v1M87 11v1M88 10v1M89 8v1M89 10v1M89 17v1M90 1v1M90 4v1M90 7v2M90 11v3M90 16v1M91 4v1M91 9v2M91 17v1M91 19v1M91 21v4M92 7v1M92 9v1M92 19v2M93 11v1M93 15v1M94 1v1M94 13v2M94 21v4M95 -3v4M95 21v4M96 -3v4M96 12v1M96 17v1M97 1v1M97 9v1M97 12v1M98 12v1M98 14v3M99 7v1M100 1v1M100 3v1M100 7v1M100 11v1M100 21v4M101 2v2M101 16v1M102 1v1M102 4v1M102 14v1M103 16v1M105 2v1M105 12v1M108 3v1"/><path stroke="#828282" d="M-1 3v1M-1 10v1M0 3v1M0 10v1M1 1v1M3 12v1M3 19v1M4 13v1M5 12v1M5 16v1M6 -3v4M7 13v1M8 3v1M8 13v1M9 10v1M11 2v1M11 5v1M11 8v1M11 10v1M11 12v1M12 2v1M13 4v1M13 12v1M13 16v1M14 14v1M15 4v1M15 6v1M16 3v1M17 4v1M17 13v1M18 2v1M18 5v1M18 21v4M19 4v1M19 13v1M20 10v2M20 18v2M21 14v1M21 19v1M22 5v1M22 11v1M22 14v1M23 5v1M23 11v1M23 17v1M24 15v1M25 1v1M25 8v1M25 12v1M25 20v1M26 1v1M26 4v1M28 5v1M28 19v2M29 -3v4M29 3v1M29 8v1M29 12v3M30 1v1M30 9v3M32 8v1M32 17v1M33 3v1M33 7v1M33 18v1M34 15v2M35 14v1M35 17v1M35 20v1M36 5v1M36 17v1M37 9v1M37 12v1M38 8v1M38 10v1M39 1v1M39 8v1M39 17v1M40 3v3M40 7v1M40 20v1M41 4v1M41 7v2M41 14v1M42 5v1M42 9v1M42 12v1M42 17v1M43 7v1M43 18v1M43 21v4M45 6v1M45 9v1M45 11v1M45 14v1M46 -3v4M46 4v1M46 11v1M46 21v4M47 1v1M47 5v1M47 14v2M47 17v1M48 8v1M48 10v1M48 17v1M49 19v1M49 21v4M50 7v1M50 11v1M51 4v1M51 14v2M52 2v1M52 5v1M52 16v1M52 21v4M53 19v1M54 -3v4M54 14v1M55 1v1M55 7v1M55 19v1M55 21v4M56 1v1M56 17v1M58 -3v4M59 4v1M60 6v1M60 10v2M60 15v1M61 7v2M62 2v1M62 5v1M62 7v1M62 9v1M62 20v1M63 -3v4M63 3v1M63 6v1M63 12v1M63 19v1M64 -3v4M64 2v1M64 10v1M64 14v1M65 5v1M65 8v1M65 20v5M66 17v1M66 21v4M67 16v1M68 4v1M68 6v1M68 14v1M68 16v1M69 5v1M69 8v1M69 16v1M70 -3v4M71 3v1M71 9v1M71 11v2M71 15v1M72 1v1M72 3v2M72 7v1M72 15v1M72 18v1M73 7v1M73 19v1M73 21v4M74 2v1M74 10v1M74 18v1M75 4v1M75 7v1M76 1v2M76 10v2M76 16v1M77 6v1M77 19v1M77 21v4M79 1v1M79 3v1M79 6v1M79 13v1M79 15v1M80 -3v4M80 6v1M80 12v1M81 6v1M81 9v1M82 3v1M83 15v1M84 3v1M84 10v1M84 12v1M84 17v1M84 19v1M85 1v1M85 4v1M85 7v1M85 9v2M85 14v1M85 19v1M86 2v1M86 18v1M86 21v4M87 1v1M87 20v5M89 2v1M89 4v1M89 11v1M90 10v1M90 21v4M92 5v1M92 10v1M93 2v2M93 9v1M93 12v1M94 5v1M95 6v1M96 18v1M98 11v1M100 20v1M102 12v1"/><path stroke="#868686" d="M-1 6v1M-1 14v1M0 6v1M0 14v1M4 14v1M7 12v1M8 6v1M9 13v1M12 4v1M12 17v1M13 3v1M14 12v2M15 3v1M15 17v1M16 1v1M16 6v1M16 8v1M16 16v1M17 -3v4M17 5v1M17 21v4M21 5v1M23 18v1M25 4v2M25 7v1M25 17v1M26 5v1M26 16v1M27 1v1M28 3v1M28 13v1M29 15v1M29 18v3M30 8v1M30 18v1M31 17v1M31 19v2M32 6v1M32 9v1M32 20v1M33 10v1M33 16v1M33 20v1M34 5v1M34 9v1M35 7v1M35 9v1M35 19v1M35 21v4M36 -3v4M36 11v1M37 3v1M37 16v1M37 18v2M38 7v1M38 9v1M38 12v1M40 9v1M40 18v1M41 3v1M41 6v1M41 13v1M42 7v1M42 13v2M42 16v1M42 18v1M43 4v1M44 3v1M44 5v1M44 13v1M45 3v2M45 17v1M46 8v1M46 16v1M46 19v1M47 -3v4M47 16v1M47 20v1M48 6v1M49 7v1M50 4v1M50 10v1M50 17v1M51 13v1M52 1v1M52 4v1M53 1v1M53 5v1M53 11v2M53 14v2M53 21v4M54 1v1M54 5v1M54 10v1M54 18v1M55 14v1M56 7v1M56 13v1M57 -3v4M57 7v2M57 19v2M58 13v1M58 19v2M59 6v1M59 13v1M60 12v1M61 -3v4M61 15v1M61 17v1M62 14v1M63 1v1M63 17v1M64 6v1M64 12v2M64 15v1M65 2v1M65 19v1M66 7v1M66 15v1M67 2v1M67 12v1M68 11v1M68 13v1M69 1v3M69 14v1M70 7v1M70 17v1M71 1v1M71 7v1M72 17v1M72 21v4M73 14v2M74 1v1M74 5v1M74 14v1M75 12v1M77 13v1M78 3v1M78 13v1M79 19v1M80 8v1M81 5v1M81 17v1M81 19v1M82 21v4M83 -3v4M83 16v1M83 19v1M84 9v1M84 11v1M84 21v4M85 2v1M86 7v1M86 9v1M87 -3v4M87 4v1M88 20v5M89 14v1M90 14v1M90 19v1M91 8v1M92 17v2M95 15v1M97 14v1M98 21v4M99 21v4"/><path stroke="#8a8a8a" d="M12 16v1M14 8v1M16 4v1M17 14v1M17 18v1M20 6v1M21 13v1M21 16v1M21 18v1M22 16v1M23 7v1M24 6v1M25 18v1M26 6v1M26 17v1M26 19v1M26 21v4M27 -3v4M27 8v1M27 11v1M27 18v1M28 -3v4M28 6v1M28 8v1M28 10v2M28 16v2M29 21v4M30 7v1M30 15v1M30 20v1M31 18v1M32 15v2M32 19v1M33 6v1M33 11v1M34 8v1M35 1v1M36 4v1M36 8v1M36 10v1M36 14v1M36 20v5M37 -3v4M37 10v1M37 14v1M38 17v2M39 2v1M39 4v1M39 13v1M39 20v1M40 6v1M40 11v1M42 21v4M43 6v1M43 19v1M44 -3v4M44 18v1M45 19v1M46 5v1M48 3v1M48 14v1M48 20v1M49 4v1M49 11v1M49 17v1M49 20v1M50 14v2M51 11v1M51 17v1M51 21v4M52 9v2M52 15v1M52 17v1M53 -3v4M53 9v1M53 17v1M54 11v1M54 19v1M55 8v1M56 5v1M56 10v1M56 14v1M56 18v3M57 2v1M57 5v1M57 12v2M57 16v1M57 21v4M58 15v1M59 5v1M59 16v2M60 5v1M60 7v1M60 17v1M62 -3v4M62 10v1M63 5v1M63 15v1M63 21v4M64 4v2M65 4v1M65 11v1M65 15v1M65 18v1M66 6v1M66 13v1M67 4v1M67 7v1M67 13v1M68 19v1M69 6v1M69 10v1M70 10v2M71 -3v4M71 10v1M72 10v1M72 14v1M73 -3v4M74 9v1M74 12v1M75 8v1M75 17v1M75 19v1M76 17v1M77 9v1M78 4v1M78 7v1M78 19v1M80 10v1M80 18v1M81 12v1M81 18v1M81 20v1M82 13v1M84 8v1M85 17v1M86 10v1M88 12v1M90 2v1M94 12v1M95 5v1M96 7v1M99 1v1"/><path stroke="#8e8e8e" d="M12 15v1M13 14v1M14 4v1M16 18v1M21 6v1M23 16v1M24 3v1M24 7v1M24 12v1M26 8v1M27 4v1M27 6v1M27 12v1M28 12v1M28 18v1M29 7v1M30 21v4M32 13v1M32 18v1M34 7v1M34 10v2M34 18v3M35 -3v4M35 5v1M35 8v1M36 18v1M38 -3v4M39 -3v4M39 9v1M39 18v1M40 10v1M41 11v1M41 18v1M42 8v1M42 20v1M43 20v1M44 16v1M44 21v4M45 8v1M45 16v1M45 18v1M45 21v4M46 2v1M47 2v1M47 10v1M47 12v1M49 2v1M49 9v1M49 14v1M50 1v3M50 8v1M51 2v1M52 3v1M52 13v1M52 18v1M53 18v1M54 13v1M55 12v1M56 2v1M57 9v1M57 14v2M58 17v1M59 2v1M59 14v1M60 3v2M60 14v1M60 16v1M61 4v2M61 16v1M62 3v1M62 18v1M63 16v1M65 3v1M65 17v1M66 10v1M66 12v1M67 5v1M67 10v1M67 18v1M68 7v1M69 15v1M69 17v2M70 14v1M70 19v1M71 14v1M72 6v1M74 16v1M76 3v1M76 5v1M76 8v1M77 5v1M77 8v1M77 17v1M78 5v1M78 17v1M79 21v4M81 21v4M82 7v1M86 15v1M87 8v1M89 12v1"/><path stroke="#929292" d="M15 8v1M17 16v1M24 16v1M30 4v1M32 21v4M33 9v1M33 21v4M34 21v4M35 10v1M36 19v1M37 20v5M38 11v1M38 13v1M38 19v1M38 21v4M39 12v1M39 19v1M39 21v4M41 12v1M43 11v1M44 8v1M46 9v2M46 12v1M48 11v1M49 16v1M51 10v1M52 -3v4M53 3v1M54 2v2M54 15v1M55 2v1M55 15v2M57 1v1M57 4v1M57 6v1M58 4v1M59 3v1M61 10v1M61 14v1M62 4v1M62 17v1M64 1v1M64 17v1M65 6v1M65 12v1M66 5v1M66 16v1M67 14v1M68 5v1M68 17v1M69 19v1M70 6v1M70 15v1M71 8v1M71 16v3M72 8v1M74 20v5M75 5v2M77 2v1M77 7v1M77 18v1M79 5v1M79 7v1M86 8v1M87 10v1M88 -3v4"/><path stroke="#969696" d="M18 16v1M33 5v1M33 19v1M37 8v1M39 11v1M41 10v1M41 21v4M42 10v1M43 12v1M44 1v1M44 9v1M44 12v1M44 19v1M45 2v1M45 10v1M45 12v1M48 1v2M49 13v1M51 9v1M52 7v1M52 12v1M53 10v1M53 13v1M54 4v1M54 21v4M55 13v1M56 6v1M56 15v1M57 3v1M57 17v1M58 14v1M61 1v3M63 4v1M64 16v1M66 14v1M67 17v1M70 16v1M73 6v1M74 8v1M74 17v1M76 18v1M80 21v4M82 6v1"/><path stroke="#9a9a9a" d="M27 17v1M30 19v1M38 20v1M40 21v4M41 20v1M43 10v1M43 13v1M44 10v2M46 13v1M47 11v1M48 -3v4M48 12v1M49 -3v5M49 12v1M51 1v1M51 3v1M51 12v1M53 2v1M55 4v1M56 4v1M58 3v1M61 13v1M62 15v1M66 4v1M85 20v1"/><path stroke="#9e9e9e" d="M37 7v1M42 11v1M43 -3v4M43 5v1M45 1v1M46 1v1M50 -3v4M70 18v1M82 8v1"/><path stroke="#a2a2a2" d="M42 -3v4M47 13v1M48 13v1M50 12v1M51 -3v4M55 3v1M56 3v1M56 12v1M60 2v1M65 16v1"/><path stroke="#a6a6a6" d="M41 -3v4"/></g></g></svg>
<text x="72.3" y="125.7" font-size="4.08" text-anchor="middle" fill="#262626">dVTEC VR1 1h (10E 70N)</text>
<text x="14.6" y="157.45" font-size="3.4" text-anchor="end" fill="#262626">0</text>
<text x="14.6" y="145.221" font-size="3.4" text-anchor="end" fill="#262626">10</text>
<text x="14.6" y="132.992" font-size="3.4" text-anchor="end" fill="#262626">20</text>
<svg x="141.3" y="127.8" width="112.1" height="29.35" viewBox="0 0 112 29" preserveAspectRatio="none" stroke-width="1.04" fill="none"><g filter="url(#f3)"><rect x="-4" y="-4" width="120" height="37" fill="#828282"/><g transform="translate(.5)"><path stroke="#797979" d="M1 6v1M2 8v1M2 23v1M3 3v1M3 8v1M4 19v1M4 26v1M5 12v1M6 9v1M6 16v2M8 -3v4M8 15v1M9 7v1M10 9v2M10 18v1M10 22v1M11 28v4M12 17v1M13 11v1M14 5v1M14 8v1M14 23v1M17 19v1M17 28v4M18 11v1M18 16v1M18 18v1M18 27v1M21 27v1M27 -3v4M29 -3v4M29 27v1M32 1v1M32 20v1M34 20v1M37 14v1M38 13v1M39 -3v4M40 16v1M45 -3v4M48 10v1M48 13v1M49 6v1M50 1v1M51 12v1M52 7v1M52 10v1M53 21v1M54 5v2M55 19v1M55 26v1M56 17v1M59 25v1M62 26v1M63 1v1M64 25v1M65 16v1M66 1v1M67 16v2M68 28v4M70 -3v4M70 22v1M73 3v1M73 9v1M75 5v1M75 14v1M75 17v1M78 -3v5M83 22v1M84 24v1M86 2v1M87 7v1M87 18v1M88 4v1M88 28v4M90 15v1M90 18v1M90 26v2M91 13v1M91 27v1M92 27v1M93 17v1M93 28v4M95 5v1M95 28v4M96 -3v5M96 7v1M97 1v1M97 10v1M97 14v1M97 23v1M98 7v1M98 12v1M100 28v4M101 12v1M101 28v4M103 28v4M105 10v1M105 19v1M106 13v1M106 21v1M107 10v1M108 7v1M108 10v1M109 11v1M110 3v1M111 15v1M112 15v1"/><path stroke="#7d7d7d" d="M-1 1v3M-1 6v1M-1 8v1M-1 14v1M-1 17v1M-1 20v1M-1 22v3M-1 26v6M0 1v3M0 6v1M0 8v1M0 14v1M0 17v1M0 20v1M0 22v3M0 26v6M1 2v2M1 9v1M1 11v1M1 13v1M1 15v2M1 23v2M1 26v1M2 3v1M2 5v1M2 10v1M2 20v1M2 24v2M2 28v4M3 -3v4M3 4v1M3 10v1M3 12v3M3 17v3M3 23v1M3 27v5M4 -3v7M4 5v1M4 7v1M4 12v1M4 15v1M4 18v1M4 21v2M4 25v1M4 28v4M5 1v2M5 4v2M5 8v1M5 11v1M5 13v1M5 18v2M5 22v1M5 27v1M6 1v1M6 3v1M6 14v2M6 20v3M6 26v1M7 1v1M7 4v1M7 6v1M7 8v2M7 12v3M7 17v1M7 23v1M8 1v2M8 5v1M8 7v1M8 12v2M8 19v2M9 4v1M9 8v1M9 10v2M9 13v1M9 17v2M9 25v1M9 28v4M10 1v1M10 3v1M10 7v2M10 11v1M10 24v1M10 26v2M11 -3v7M11 11v1M11 15v2M11 21v3M11 25v1M11 27v1M12 3v1M12 6v1M12 8v1M12 10v1M12 24v1M13 -3v4M13 4v1M13 6v2M13 9v1M13 14v3M13 21v2M13 24v1M14 -3v4M14 2v2M14 9v2M14 13v2M14 18v5M15 2v1M15 4v2M15 12v1M15 15v1M15 17v1M15 20v3M15 24v1M15 26v6M16 -3v5M16 6v1M16 9v1M16 11v2M16 20v2M16 24v1M16 26v1M17 -3v5M17 4v2M17 7v1M17 9v2M17 14v1M17 16v1M17 23v1M17 25v1M17 27v1M18 3v2M18 9v1M18 13v1M18 17v1M18 19v1M18 22v1M18 24v3M19 1v2M19 4v3M19 10v1M19 12v1M19 15v1M19 17v1M19 21v3M19 28v4M20 -3v4M20 3v1M20 6v1M20 18v1M20 24v1M20 26v1M21 1v3M21 9v2M21 13v3M21 20v1M21 26v1M22 -3v4M22 2v2M22 6v2M22 9v3M22 13v1M22 20v1M22 22v1M22 24v1M22 27v5M23 2v2M23 7v1M23 10v1M23 17v1M23 23v3M24 2v1M24 9v2M24 12v1M24 16v3M24 24v1M25 1v1M25 4v1M25 7v3M25 12v3M25 17v1M25 19v1M25 21v2M25 25v2M26 2v1M26 5v7M26 13v1M26 15v1M26 19v1M26 23v1M26 25v2M27 3v3M27 8v2M27 12v2M27 16v1M27 18v1M27 22v3M28 4v1M28 8v1M28 21v2M28 26v2M29 1v1M29 12v1M29 14v1M29 16v3M30 3v7M30 16v4M30 24v1M31 9v1M31 16v1M31 19v2M31 22v1M31 25v2M32 8v1M32 18v2M33 4v1M33 7v1M33 9v1M33 15v3M33 21v1M33 23v2M33 27v1M34 5v2M34 10v1M34 12v1M34 14v3M34 21v4M35 -3v5M35 4v2M35 7v1M35 11v2M35 19v1M35 21v1M35 24v2M35 27v5M36 1v1M36 3v2M36 6v1M36 11v1M36 14v2M36 18v1M36 24v1M36 27v5M37 3v3M37 7v1M37 10v1M37 21v1M37 23v2M37 26v1M38 1v1M38 5v2M38 8v1M38 10v2M38 19v2M38 24v1M38 27v1M39 1v1M39 6v1M39 8v1M39 10v1M39 12v3M39 18v2M39 22v1M39 24v1M39 26v1M40 2v1M40 4v1M40 7v2M40 11v1M40 17v1M40 24v4M41 1v1M41 4v1M41 7v1M41 18v1M41 20v4M41 26v1M41 28v4M42 -3v4M42 3v2M42 6v4M42 13v1M42 18v2M42 22v2M42 28v4M43 1v1M43 5v1M43 9v2M43 12v1M43 16v1M43 19v3M43 27v1M44 2v2M44 12v1M44 16v2M44 20v3M44 25v1M44 28v4M45 5v1M45 9v1M45 16v1M45 20v2M46 2v1M46 7v1M46 15v3M46 20v2M46 26v1M47 -3v5M47 3v1M47 5v1M47 9v2M47 13v3M47 17v1M47 19v1M47 22v3M47 27v5M48 -3v4M48 8v1M48 11v2M48 22v1M48 27v1M49 13v1M49 15v1M49 21v4M49 27v1M50 -3v4M50 2v3M50 7v1M50 11v1M50 13v1M50 19v1M50 21v1M50 25v1M50 27v5M51 -3v4M51 2v2M51 5v1M51 7v3M51 14v2M51 18v1M51 20v1M51 23v1M51 27v1M52 -3v4M52 2v1M52 4v1M52 9v1M52 12v2M52 16v1M52 20v2M52 24v1M53 -3v4M53 2v2M53 5v1M53 7v2M53 13v1M53 15v1M53 24v2M53 27v1M54 -3v4M54 3v2M54 11v1M54 14v1M54 22v2M55 -3v4M55 2v2M55 6v1M55 9v1M55 12v1M55 17v2M56 -3v4M56 2v1M56 5v1M56 9v5M56 16v1M56 19v3M57 -3v4M57 4v1M57 7v3M57 11v1M57 16v1M57 26v6M58 2v1M58 4v1M58 8v1M58 19v2M58 25v2M59 2v3M59 6v2M59 9v1M59 11v2M59 17v1M59 27v1M60 4v1M60 6v1M60 10v1M60 14v2M60 18v5M60 27v5M61 1v1M61 5v2M61 8v1M61 13v1M61 17v2M61 20v1M61 23v1M61 25v1M61 28v4M62 3v2M62 9v1M62 13v1M62 19v1M62 24v2M62 28v4M63 5v1M63 7v2M63 10v1M63 12v3M63 16v1M63 18v1M64 -3v5M64 6v1M64 9v1M64 11v1M64 14v1M64 16v2M64 23v2M64 26v1M64 28v4M65 8v1M65 13v2M65 20v1M65 22v1M65 24v1M65 26v1M66 3v2M66 6v1M66 14v1M66 17v1M66 25v1M66 28v4M67 2v1M67 4v2M67 11v1M67 14v1M67 19v3M67 24v4M68 2v1M68 7v1M68 9v2M68 14v1M68 17v1M68 19v2M68 22v1M68 26v1M69 -3v8M69 8v2M69 14v1M69 16v2M69 21v2M69 25v1M70 1v1M70 3v1M70 9v1M70 11v2M70 16v2M70 19v1M70 24v2M70 28v4M71 2v2M71 6v1M71 10v1M71 17v1M71 20v2M71 26v6M72 -3v5M72 4v1M72 6v1M72 8v1M72 11v1M72 13v3M72 17v1M72 19v1M72 22v5M72 28v4M73 -3v4M73 2v1M73 4v5M73 12v1M73 18v1M73 20v2M73 27v1M74 1v3M74 8v1M74 14v1M74 16v2M74 19v2M74 22v1M74 26v6M75 2v1M75 4v1M75 8v1M75 11v1M75 15v1M75 18v2M75 21v1M75 23v1M75 27v1M76 2v1M76 5v1M76 10v2M76 13v1M76 16v1M76 18v1M76 20v2M76 28v4M77 2v2M77 5v4M77 12v1M77 14v1M77 16v1M77 18v1M77 21v1M77 24v1M77 28v4M78 2v1M78 5v1M78 9v1M78 12v5M78 19v1M78 21v1M78 24v1M78 28v4M79 1v1M79 5v1M79 10v1M79 12v1M79 14v1M79 16v1M79 20v1M79 22v4M79 27v5M80 2v1M80 5v1M80 8v1M80 15v1M80 21v1M80 24v2M81 3v2M81 9v3M81 15v2M81 21v2M81 24v2M81 27v1M82 -3v6M82 5v2M82 9v2M82 15v1M82 19v1M82 22v1M82 26v6M83 5v4M83 15v2M83 25v2M84 6v3M84 18v1M84 21v1M84 28v4M85 -3v5M85 5v2M85 8v1M85 13v1M85 16v1M85 20v1M85 25v2M86 -3v4M86 3v2M86 7v1M86 9v1M86 14v2M86 25v1M86 28v4M87 3v2M87 6v1M87 8v1M87 10v2M87 13v3M87 19v1M87 25v3M88 1v1M88 6v11M88 21v1M88 23v3M89 2v3M89 6v2M89 12v1M89 14v4M89 21v3M89 26v1M89 28v4M90 -3v4M90 2v1M90 5v1M90 7v1M90 9v1M90 11v4M90 16v2M90 19v1M90 21v1M90 24v1M91 5v2M91 8v3M91 14v1M91 17v1M91 22v1M91 28v4M92 2v1M92 4v1M92 6v3M92 12v1M92 17v1M92 20v2M92 23v1M92 26v1M92 28v4M93 4v2M93 8v5M93 15v2M93 19v1M93 21v4M93 27v1M94 -3v4M94 2v1M94 4v2M94 12v2M94 15v2M94 18v1M94 21v2M94 25v1M94 27v5M95 2v2M95 6v1M95 8v2M95 12v1M95 14v2M95 19v1M95 21v1M95 23v2M96 2v1M96 4v1M96 16v1M96 20v1M96 22v1M96 24v1M96 28v4M97 2v1M97 6v1M97 12v1M97 15v1M97 17v1M97 20v2M97 24v2M98 -3v5M98 3v1M98 13v2M98 23v1M99 4v4M99 9v1M99 14v2M99 18v1M99 20v1M99 22v1M99 26v1M99 28v4M100 5v1M100 8v1M100 10v1M100 16v1M100 21v1M100 24v1M100 27v1M101 1v1M101 10v1M101 15v1M101 17v1M101 20v2M101 25v2M102 -3v4M102 2v1M102 4v3M102 15v1M102 18v1M102 22v3M102 27v1M103 -3v6M103 6v1M103 10v2M103 13v1M103 17v2M103 23v4M104 4v1M104 13v2M104 16v1M104 20v1M104 22v2M104 27v1M105 -3v4M105 2v1M105 4v1M105 7v1M105 9v1M105 13v2M105 16v1M105 20v1M106 -3v4M106 3v1M106 5v1M106 8v1M106 12v1M106 14v1M106 16v1M106 19v2M106 22v4M107 2v2M107 11v1M107 13v1M107 15v1M107 20v3M107 27v1M108 2v1M108 8v2M108 12v2M108 15v1M108 17v2M108 24v1M109 1v1M109 5v1M109 7v1M109 18v1M109 21v1M109 26v1M110 -3v4M110 4v1M110 6v2M110 10v5M110 16v3M110 21v2M110 26v6M111 2v1M111 5v1M111 7v1M111 10v2M111 22v3M112 2v1M112 5v1M112 7v1M112 10v2M112 22v3"/><path stroke="#868686" d="M1 -3v5M2 1v2M2 11v1M2 14v1M2 27v1M3 1v1M3 26v1M4 24v1M5 6v1M5 17v1M6 18v1M6 23v1M7 11v1M7 16v1M7 18v1M9 -3v4M9 20v1M9 22v1M10 -3v4M10 5v1M10 16v1M10 19v1M10 28v4M11 12v1M11 18v1M11 20v1M11 26v1M12 1v1M12 12v1M12 15v1M12 23v1M13 12v1M13 23v1M13 28v4M14 15v2M14 25v1M15 23v1M16 3v1M16 23v1M16 27v1M17 2v1M17 21v1M18 6v1M18 10v1M19 -3v4M19 8v1M19 11v1M19 13v1M20 4v1M20 16v1M20 19v1M20 21v2M20 28v4M21 4v1M21 22v1M22 12v1M22 17v1M23 1v1M23 6v1M23 18v1M24 -3v4M24 26v1M25 5v1M25 23v2M26 3v2M26 12v1M26 17v1M26 21v1M27 1v1M27 11v1M27 19v1M27 21v1M27 27v1M28 1v1M28 17v1M29 6v2M29 11v1M29 20v1M30 15v1M31 -3v4M31 10v1M31 21v1M31 27v1M32 -3v4M32 7v1M32 15v1M32 27v1M33 3v1M33 22v1M34 1v1M35 8v3M35 26v1M36 2v1M36 12v1M36 20v2M37 18v1M38 2v1M38 4v1M39 15v2M41 9v1M41 19v1M42 15v1M43 3v1M43 13v1M44 13v1M45 4v1M45 22v1M46 1v1M46 4v1M46 8v1M46 19v1M47 6v2M47 11v1M47 20v1M47 26v1M48 15v2M48 19v1M50 14v1M50 20v1M51 10v2M51 16v1M52 3v1M52 5v1M53 26v1M54 1v2M54 9v1M54 12v1M54 19v1M54 24v2M54 27v1M55 5v1M55 7v1M55 13v2M56 4v1M56 14v1M57 2v1M57 14v1M58 11v2M58 14v1M58 16v1M58 23v1M59 5v1M59 10v1M59 22v1M60 1v1M60 5v1M60 7v1M61 -3v4M61 7v1M61 10v1M61 22v1M61 27v1M62 12v1M62 15v1M63 2v1M63 6v1M63 11v1M63 17v1M63 28v4M64 2v1M64 7v2M64 27v1M66 8v2M66 11v1M66 13v1M66 19v2M66 22v2M66 26v1M67 3v1M68 23v1M68 27v1M70 10v1M70 20v1M70 26v1M71 5v1M71 13v1M71 15v1M71 18v2M71 22v1M72 16v1M72 18v1M73 23v1M73 28v4M75 6v1M75 16v1M76 8v1M77 20v1M78 6v1M78 8v1M78 11v1M78 26v2M79 9v1M79 18v2M80 26v1M80 28v4M81 7v2M81 26v1M82 7v1M82 11v1M83 19v1M85 10v2M85 22v1M86 17v1M87 21v1M87 28v4M88 -3v4M88 3v1M88 5v1M89 11v1M90 8v1M90 20v1M90 22v1M91 26v1M92 5v1M92 11v1M92 19v1M92 22v1M92 25v1M93 2v1M93 13v2M93 18v1M94 9v1M94 17v1M94 20v1M95 16v3M95 26v1M96 6v1M97 18v1M97 22v1M98 19v1M98 26v1M99 1v1M100 9v1M100 11v1M101 11v1M101 13v1M101 19v1M101 22v1M102 9v1M102 20v1M103 3v2M103 21v1M103 27v1M104 8v1M104 11v1M104 19v1M104 25v2M105 27v1M106 11v1M107 18v1M108 19v1M109 8v1M109 16v1M109 19v1M109 23v1M110 23v2M111 6v1M111 16v2M112 6v1M112 16v2"/><path stroke="#8a8a8a" d="M13 19v1M23 13v1M24 3v1M25 3v1M33 26v1M41 16v1M98 11v1"/></g></g><path stroke="#b52a08" stroke-width=".75" stroke-opacity=".36" d="M1.6 3.0v1.8M111.5 8.6v1.8M93.3 3.2v0.8M31.1 1.9v0.8M36.8 9.1v1.2M11.4 16.2v1.8M83.6 11.7v0.8M78.8 10.9v1.8M48.3 14.8v0.8M20.6 24.0v1.8M110.9 4.8v1.2M31.0 7.7v1.8M97.6 1.0v1.8M32.8 0.9v1.2M106.7 1.2v0.8M38.0 9.0v1.8M39.8 2.4v1.2M84.8 2.9v0.8M28.1 3.0v0.8M109.8 0.2v1.2M94.8 11.6v2.6M37.5 5.0v1.2M98.8 7.1v2.6M79.3 18.4v0.8M36.1 6.8v1.8M22.6 1.3v1.8M6.2 1.3v2.6M3.7 4.2v1.2M88.0 2.2v1.8M64.7 3.7v1.2M32.5 11.5v1.8M89.0 0.6v1.2M111.5 12.5v1.2M65.8 4.4v1.2M63.0 1.7v1.8M87.9 18.1v1.8M38.9 4.8v2.6M91.9 25.1v0.8M93.9 6.0v1.8M74.8 3.4v0.8M46.9 6.3v1.2M31.0 0.6v1.2M85.9 7.6v2.6M108.6 1.6v1.2M50.0 2.6v2.6M17.9 10.5v1.2M82.0 1.4v1.2M38.5 12.0v2.6M29.9 6.5v1.8M68.8 13.5v1.8M60.5 15.2v2.6M111.4 24.9v1.2M56.0 16.9v1.8M62.2 4.3v0.8M93.0 21.2v0.8"/><path stroke="#1838c8" stroke-width=".75" stroke-opacity=".36" d="M2.0 1.7v0.8M108.3 0.9v2.6M40.6 2.2v1.8M29.7 4.8v1.2M24.4 7.6v0.8M86.9 9.8v1.8M74.1 0.3v0.8M91.7 1.1v2.6M18.1 14.2v1.8M101.3 7.6v1.8M66.5 9.7v1.2M39.9 2.5v0.8M74.3 5.6v1.8M77.9 4.8v1.2M79.5 1.0v0.8M31.9 2.6v1.2M79.5 5.3v2.6M85.0 12.3v1.2M34.9 6.8v1.8M108.8 10.8v2.6M12.2 18.1v1.8M109.3 13.8v0.8M107.6 3.5v0.8M20.7 4.8v0.8M44.6 1.0v2.6M93.5 3.1v1.8M86.2 3.7v0.8M105.3 10.7v0.8M40.6 14.0v1.2M5.6 3.3v1.8M111.5 12.8v1.2M22.0 8.1v1.8M80.8 5.4v2.6M37.7 0.0v0.8M105.8 11.7v0.8M44.2 3.9v0.8M9.3 14.5v0.8M87.3 18.4v2.6M89.8 2.4v0.8M81.3 8.2v2.6M16.4 11.6v0.8M3.3 13.4v1.8M102.6 1.5v0.8M2.3 10.7v2.6M18.6 3.4v0.8M18.2 7.6v1.8M37.3 18.7v1.2M55.4 13.1v1.8M71.8 3.1v0.8M20.2 0.5v0.8M53.4 27.0v1.2M20.9 7.9v1.2M85.2 9.3v0.8M2.0 3.8v0.8M89.7 12.9v1.8M50.2 14.7v1.8M66.9 7.9v1.2M97.9 6.9v0.8M31.9 15.0v2.6M44.1 12.0v2.6M96.0 2.5v2.6"/><path stroke="#d89000" stroke-width=".75" stroke-opacity=".36" d="M20.8 12.3v1.8M52.3 4.0v1.8M25.4 4.3v2.6M5.6 1.8v1.2M12.5 15.8v2.6M111.5 1.7v0.8M92.1 8.1v1.8M88.1 9.1v1.2M86.7 4.0v2.6M31.0 3.2v1.2M90.1 19.0v0.8M26.2 10.0v1.2M15.5 5.4v0.8M96.9 11.8v1.8M2.9 4.0v0.8M86.5 15.4v1.8M105.4 17.8v1.8M30.9 2.8v1.2M78.5 0.6v0.8M56.6 2.9v0.8M92.2 14.7v2.6M54.8 10.6v1.2M109.5 9.4v1.2M65.2 18.5v2.6M85.3 0.7v0.8M23.9 5.7v1.2M59.9 4.0v1.8M9.7 13.7v1.8M25.7 0.4v0.8M21.6 3.7v1.8M11.8 17.1v0.8"/><path stroke="#10a0c0" stroke-width=".75" stroke-opacity=".36" d="M20.8 1.2v0.8M70.1 11.3v1.2M21.6 1.3v1.2M88.9 12.2v0.8M13.6 2.8v1.2M55.9 7.5v0.8M27.9 2.0v1.8M70.1 17.5v1.8M74.2 1.8v2.6M98.2 17.0v1.8M92.1 16.9v2.6M0.5 4.9v0.8M73.0 3.4v2.6M65.5 13.2v0.8M7.2 2.4v2.6M28.6 9.0v1.2M35.0 5.0v1.2M105.7 3.4v2.6M103.5 12.2v1.8M30.3 3.0v1.8M111.2 8.9v1.2M102.7 0.9v1.2M48.6 4.4v0.8"/></svg>
<text x="197.35" y="126.7" font-size="4.08" text-anchor="middle" fill="#262626">dVTEC VR1 diff  1h (10E 70N)</text>
<text x="139.9" y="158.45" font-size="3.4" text-anchor="end" fill="#262626">0</text>
<text x="139.9" y="146.221" font-size="3.4" text-anchor="end" fill="#262626">10</text>
<text x="139.9" y="133.992" font-size="3.4" text-anchor="end" fill="#262626">20</text>
<rect x="260.2" y="127.8" width="1.9" height="29.35" fill="url(#jetg)"/>
<text x="263.6" y="158.45" font-size="3.42" text-anchor="start" fill="#262626">−4</text>
<text x="263.6" y="151.113" font-size="3.42" text-anchor="start" fill="#262626">−2</text>
<text x="263.6" y="143.775" font-size="3.42" text-anchor="start" fill="#262626">0</text>
<text x="263.6" y="136.438" font-size="3.42" text-anchor="start" fill="#262626">2</text>
<text x="263.6" y="129.1" font-size="3.42" text-anchor="start" fill="#262626">4</text>
<svg x="16" y="161.65" width="112.6" height="29.35" viewBox="0 0 112 22" preserveAspectRatio="none" stroke-width="1.04" fill="none"><g filter="url(#f2)"><rect x="-4" y="-4" width="120" height="30" fill="#7d7d7d"/><g transform="translate(.5)"><path stroke="#3d3d3d" d="M74 14v1"/><path stroke="#494949" d="M74 15v1"/><path stroke="#515151" d="M77 12v1M111 18v1M112 18v1"/><path stroke="#555" d="M7 19v1M95 17v1"/><path stroke="#595959" d="M-1 7v1M0 7v1M1 18v1M5 4v1M8 12v1M8 16v1M12 10v1M13 21v4M100 10v2M104 7v1M108 11v1"/><path stroke="#5d5d5d" d="M1 11v1M2 18v1M3 11v1M6 19v1M8 -3v4M8 11v1M35 5v1M51 9v1M74 2v1M99 19v1"/><path stroke="#616161" d="M-1 2v1M-1 4v1M-1 15v1M0 2v1M0 4v1M0 15v1M1 -3v4M2 11v1M3 5v1M3 20v1M4 18v1M5 -3v4M6 2v1M9 18v1M10 11v1M11 2v1M11 6v1M12 3v1M14 6v1M26 -3v4M26 3v1M30 10v1M71 13v1M73 10v1M77 7v1M77 11v1M85 20v1M92 17v1M94 17v1M100 19v1M101 5v1M102 3v1M105 11v1M107 10v1M110 5v1"/><path stroke="#656565" d="M-1 18v1M0 18v1M1 17v1M1 20v1M2 2v1M2 10v1M2 15v1M3 -3v4M3 12v1M3 16v1M4 1v1M4 11v1M6 17v1M7 18v1M8 2v1M8 5v1M8 20v1M9 5v1M10 -3v4M10 4v1M10 18v1M11 -3v4M13 4v1M13 18v1M17 12v1M27 19v1M31 9v1M31 13v1M36 15v1M43 12v1M66 5v1M74 10v1M76 12v1M77 6v1M79 18v1M80 18v1M81 20v1M85 16v1M87 11v1M88 2v1M94 16v1M96 6v1M98 1v1M99 -3v4M99 10v1M101 7v1M103 3v1M104 6v1M105 10v1M105 18v1M106 20v1M107 2v1M108 4v1M108 10v1M110 -3v5M110 10v2M110 18v1M111 21v4M112 21v4"/><path stroke="#696969" d="M-1 9v4M0 9v4M1 4v1M1 13v1M1 19v1M2 6v2M2 12v2M3 10v1M3 15v1M3 18v1M3 21v4M4 5v1M4 15v1M5 11v1M5 17v2M6 -3v4M6 3v1M6 5v1M6 7v1M6 16v1M7 -3v4M7 2v1M7 5v1M7 11v1M7 16v2M7 21v4M8 17v1M9 11v1M10 17v1M12 2v1M12 13v1M12 21v4M13 20v1M14 11v1M15 3v1M15 16v1M15 18v1M16 5v1M17 18v1M18 18v1M19 3v1M19 13v1M21 17v1M23 12v1M23 17v1M23 20v1M24 9v1M27 7v1M31 20v1M33 20v1M44 -3v4M44 12v1M45 5v1M46 11v1M46 15v1M49 9v1M54 13v1M57 -3v4M59 14v1M62 20v1M65 19v1M68 13v1M68 15v1M70 1v1M75 2v1M77 10v1M79 3v1M81 12v1M85 12v1M86 17v1M91 1v1M91 17v1M91 19v1M93 1v1M93 19v1M94 18v1M100 -3v4M101 17v1M104 3v1M104 16v1M105 17v1M108 6v1M108 12v1M108 20v1M109 4v1M109 16v1M109 18v1M110 3v1M111 6v1M111 19v1M112 6v1M112 19v1"/><path stroke="#6d6d6d" d="M-1 5v1M-1 16v1M-1 19v6M0 5v1M0 16v1M0 19v6M1 7v1M1 12v1M1 21v4M2 4v1M2 16v1M2 20v5M3 2v1M3 17v1M4 12v1M4 16v1M5 2v1M5 7v1M5 16v1M5 21v4M6 15v1M6 18v1M6 21v4M7 3v2M7 10v1M7 12v1M8 3v1M8 6v1M8 10v1M10 13v1M12 -3v4M12 5v1M13 12v2M14 1v1M14 10v1M14 13v1M14 17v1M16 1v1M16 12v1M17 4v1M17 19v1M18 11v1M19 19v1M20 -3v5M20 11v1M20 20v1M21 10v1M22 2v1M22 12v1M22 17v2M23 11v1M24 12v1M24 17v1M26 7v1M26 13v1M28 14v1M28 21v4M29 18v1M30 3v1M31 10v1M31 14v1M32 13v1M32 19v1M33 1v1M34 1v1M34 21v4M35 1v1M35 9v1M36 6v1M36 13v1M37 21v4M39 1v1M39 9v1M46 16v1M49 14v1M51 -3v4M51 12v1M53 -3v4M58 14v2M59 15v1M60 14v1M63 19v1M65 15v1M69 20v1M71 12v1M71 21v4M74 7v1M77 2v1M77 13v1M79 7v1M79 17v1M81 11v1M81 18v2M83 3v1M84 3v1M85 3v1M86 2v1M86 5v1M87 -3v5M88 1v1M88 8v1M89 5v1M91 20v1M93 5v2M94 4v1M94 20v1M95 3v1M96 2v2M96 12v1M96 18v2M97 6v1M97 16v1M97 20v1M98 2v1M98 4v1M100 2v1M102 -3v4M102 6v1M102 13v1M105 4v1M105 15v1M106 5v1M106 8v1M106 10v2M107 1v1M108 19v1M109 -3v4M109 12v1M110 6v1M110 19v1M111 1v1M112 1v1"/><path stroke="#717171" d="M-1 14v1M-1 17v1M0 14v1M0 17v1M1 9v1M1 16v1M2 -3v4M2 5v1M2 17v1M3 6v1M4 3v2M4 6v2M4 13v1M4 20v1M5 1v1M5 6v1M5 20v1M6 1v1M6 4v1M6 11v1M7 1v1M7 20v1M8 4v1M8 9v1M8 15v1M8 21v4M9 17v1M10 9v2M11 11v3M11 17v1M12 1v1M12 17v2M13 17v1M14 -3v4M14 3v1M14 16v1M14 20v1M15 1v1M15 6v1M16 3v1M16 8v1M16 10v2M17 9v1M18 20v1M19 18v1M19 20v5M20 4v1M21 -3v4M21 4v1M21 16v1M22 4v1M23 18v2M24 3v1M24 14v1M25 13v1M26 18v1M27 12v2M28 1v2M28 12v1M29 6v1M29 10v1M29 14v1M29 20v1M30 9v1M30 21v4M32 2v1M32 11v1M32 14v1M33 21v4M34 -3v4M35 2v1M35 13v1M35 21v4M36 5v1M36 19v1M37 5v1M37 14v1M37 19v1M38 20v1M39 20v1M41 -3v4M41 12v1M44 5v2M44 13v1M44 21v4M46 21v4M49 8v1M50 12v1M52 20v1M53 14v1M53 16v1M54 4v1M55 4v1M56 4v1M56 15v1M58 5v1M58 19v1M58 21v4M59 9v1M59 19v1M60 5v1M60 18v1M62 6v1M62 16v1M65 5v1M67 13v1M67 20v1M68 -3v4M68 18v1M69 13v1M69 19v1M70 20v1M72 13v1M73 2v1M73 11v1M76 6v1M76 11v1M78 7v1M79 10v1M80 3v1M80 20v1M81 7v1M81 21v4M83 18v1M84 -3v4M84 18v1M85 1v1M85 17v1M85 21v4M86 1v1M86 8v1M86 21v4M87 12v1M88 -3v4M88 4v1M88 9v1M88 19v1M89 19v1M90 2v1M90 17v1M91 2v2M91 5v1M93 16v1M94 3v1M94 10v1M95 -3v4M96 -3v4M99 9v1M99 17v2M101 18v1M101 20v1M102 2v1M102 10v1M102 18v1M102 20v1M103 4v1M103 12v1M103 16v2M104 2v1M104 20v1M105 3v1M105 7v1M106 -3v6M106 6v1M106 18v1M107 -3v4M107 6v1M108 7v1M108 9v1M108 18v1M109 11v1M109 20v1M110 4v1M110 15v2M111 -3v4M111 2v1M111 20v1M112 -3v4M112 2v1M112 20v1"/><path stroke="#757575" d="M-1 -3v4M0 -3v4M1 1v2M1 6v1M2 3v1M2 19v1M3 4v1M3 7v1M3 13v1M4 2v1M4 17v1M5 10v1M5 13v1M5 19v1M6 6v1M6 20v1M7 6v1M7 9v1M7 13v1M8 13v1M8 18v2M9 3v1M9 19v2M10 12v1M10 15v1M11 4v1M11 10v1M11 14v1M11 18v1M12 6v1M12 16v1M13 9v2M13 15v1M14 18v1M15 2v1M15 5v1M15 17v1M15 19v1M15 21v4M16 20v1M17 -3v4M17 5v1M18 1v1M18 15v1M18 19v1M19 -3v4M19 2v1M19 8v1M19 12v1M20 3v1M20 12v1M21 3v1M21 8v2M21 11v4M21 21v4M22 13v1M22 19v2M23 2v1M23 7v1M24 2v1M24 18v1M25 3v1M27 -3v5M27 11v1M27 17v1M28 11v1M28 13v1M28 18v1M29 7v1M29 13v1M29 17v1M30 2v1M30 7v1M30 20v1M32 9v1M32 20v1M33 2v1M33 9v2M33 19v1M34 2v1M37 13v1M37 15v1M38 13v2M38 18v1M39 11v1M39 13v1M40 18v1M41 9v1M41 18v1M42 11v2M42 14v1M42 21v4M43 5v1M43 13v1M44 20v1M45 15v1M45 20v1M46 20v1M47 14v2M48 5v1M48 8v1M48 14v1M49 20v1M50 5v1M51 4v1M53 1v1M53 11v1M53 21v4M54 11v1M54 16v1M55 12v1M55 21v4M56 19v1M57 5v1M57 19v1M58 13v1M59 13v1M61 -3v5M61 20v5M62 1v1M62 7v1M64 19v1M65 13v1M65 20v1M66 8v1M66 19v1M67 1v1M68 20v1M69 -3v4M69 21v4M70 -3v4M70 9v1M70 21v4M72 2v1M72 15v1M72 18v1M72 21v4M73 1v1M73 6v1M73 21v4M74 6v1M74 11v1M74 21v4M75 7v1M75 14v1M76 2v1M76 10v1M76 20v1M78 3v1M78 13v1M79 11v1M79 19v1M80 21v4M82 1v1M85 11v1M85 19v1M86 20v1M87 4v1M87 10v1M89 20v1M90 4v1M90 8v1M91 12v1M92 21v4M93 -3v4M93 2v1M93 4v1M93 17v1M94 2v1M94 5v1M94 7v1M95 1v1M95 15v2M96 1v1M97 19v1M98 -3v4M98 21v4M99 3v2M99 12v1M99 16v1M99 20v5M101 4v1M101 8v3M101 16v1M102 11v1M102 17v1M102 19v1M103 -3v5M103 11v1M104 4v2M104 19v1M105 -3v5M105 5v2M105 19v2M107 4v1M107 15v1M107 20v5M109 3v1M109 7v1M110 21v4M111 5v1M111 10v2M111 16v1M112 5v1M112 10v2M112 16v1"/><path stroke="#797979" d="M-1 3v1M0 3v1M1 10v1M1 14v2M4 -3v4M4 19v1M4 21v4M5 9v1M6 13v1M7 15v1M9 -3v4M9 4v1M10 3v1M10 16v1M10 19v1M11 5v1M11 19v2M12 4v1M12 12v1M12 15v1M13 3v1M13 6v1M13 16v1M14 9v1M14 21v4M15 11v3M15 20v1M16 -3v4M16 4v1M16 9v1M16 13v1M16 18v1M18 14v1M18 17v1M20 14v1M20 18v1M20 21v4M21 1v1M21 18v3M23 3v1M23 6v1M23 8v1M24 19v6M25 8v4M25 18v1M25 21v4M26 1v1M26 8v1M26 12v1M26 14v1M26 17v1M26 21v4M27 2v2M27 8v1M27 18v1M28 -3v4M28 10v1M28 19v1M29 2v1M29 21v4M30 14v2M30 17v2M31 7v1M31 18v1M33 -3v4M33 14v1M34 20v1M35 -3v4M35 7v1M35 11v1M35 19v1M36 -3v4M36 10v3M36 14v1M37 6v1M38 11v1M38 15v1M39 8v1M40 1v1M40 10v1M40 13v1M40 20v5M41 8v1M41 20v5M42 1v1M42 4v1M42 18v1M43 19v6M44 8v1M45 12v2M45 21v4M47 10v1M47 21v4M48 15v1M48 20v1M49 12v2M50 4v1M50 13v2M51 8v1M51 16v1M52 1v1M52 14v1M52 19v1M52 21v4M53 13v1M53 15v1M54 18v1M55 13v1M56 20v1M57 1v1M57 15v1M57 21v4M59 4v2M59 12v1M60 1v1M60 21v4M61 4v1M61 7v1M62 -3v4M62 12v1M62 15v1M63 11v1M64 1v1M64 21v4M65 -3v4M65 4v1M66 -3v5M66 12v1M66 14v1M66 18v1M66 20v1M67 19v1M70 10v1M71 15v1M72 1v1M72 7v1M72 20v1M73 7v1M73 19v1M74 13v1M74 18v2M75 -3v4M75 13v1M75 17v2M76 -3v4M76 7v1M77 1v1M77 20v1M78 2v1M79 -3v4M79 4v1M80 -3v6M81 3v1M81 17v1M82 8v2M82 18v1M82 21v4M84 1v1M85 -3v4M85 5v1M86 -3v4M86 9v1M86 12v1M86 15v2M87 3v1M88 10v1M88 20v1M89 9v1M89 17v2M90 -3v5M90 3v1M90 5v1M90 9v1M90 20v5M91 6v1M91 13v1M91 21v4M92 1v2M92 10v1M92 18v1M93 3v1M93 18v1M94 -3v4M94 6v1M95 2v1M95 4v1M95 7v1M95 10v1M96 21v4M97 3v2M98 18v3M99 6v1M100 4v1M100 6v1M100 15v1M100 20v1M101 2v2M101 15v1M101 19v1M102 5v1M102 14v3M103 10v1M103 15v1M103 19v1M104 17v1M104 21v4M105 12v1M106 7v1M106 9v1M106 17v1M107 5v1M108 3v1M108 15v1M109 1v1M109 5v1M109 15v1M109 19v1M110 7v1M110 12v1M110 14v1M110 20v1M111 3v1M111 17v1M112 3v1M112 17v1"/><path stroke="#828282" d="M-1 13v1M0 13v1M1 3v1M1 5v1M2 1v1M2 14v1M5 8v1M6 10v1M6 12v1M8 1v1M9 2v1M9 16v1M9 21v4M10 6v1M10 14v1M11 1v1M11 9v1M11 16v1M12 11v1M12 19v2M13 14v1M14 4v2M15 4v1M15 10v1M15 15v1M16 2v1M16 15v1M16 17v1M16 19v1M16 21v4M17 3v1M17 11v1M17 14v1M17 16v1M17 20v1M18 21v4M19 5v1M19 14v1M20 5v1M20 8v1M22 1v1M22 6v2M22 9v1M23 5v1M23 10v1M23 21v4M24 11v1M26 15v1M27 4v2M28 6v2M28 15v2M29 3v2M29 9v1M31 12v1M31 19v1M31 21v4M32 -3v4M32 6v2M33 3v1M33 6v1M33 12v1M34 4v1M34 11v1M34 15v1M35 15v3M36 2v1M36 7v1M36 9v1M36 21v4M37 -3v4M37 8v1M37 12v1M37 20v1M38 -3v5M39 5v1M39 12v1M40 2v1M40 7v2M41 4v1M41 14v1M42 5v2M43 4v1M43 15v1M44 2v1M44 14v2M45 -3v5M45 8v1M45 16v1M47 4v2M47 8v1M48 6v2M48 12v1M48 16v1M49 1v1M49 21v4M50 1v1M50 8v1M50 15v1M50 19v1M50 21v4M51 14v2M51 17v1M52 5v1M54 -3v4M54 7v1M54 15v1M55 5v1M55 19v1M56 -3v4M56 21v4M57 20v1M59 -3v4M59 8v1M59 11v1M60 11v1M60 15v1M60 19v1M61 12v2M61 15v2M61 18v1M62 14v1M63 8v1M63 13v1M64 6v1M64 10v1M64 13v1M65 8v1M65 17v1M66 9v1M67 11v1M68 21v4M69 2v1M69 14v1M70 2v1M70 13v1M71 20v1M72 6v1M72 14v1M73 -3v4M73 13v1M73 20v1M74 1v1M75 3v1M75 6v1M75 20v1M76 1v1M76 4v1M76 14v1M76 18v1M77 9v1M78 14v1M78 21v4M79 1v2M80 7v1M80 12v1M80 17v1M81 13v1M82 3v1M82 7v1M82 11v1M83 -3v4M83 13v1M83 17v1M84 4v1M84 13v1M84 19v1M85 8v1M87 9v1M87 18v1M87 20v1M89 8v1M89 10v1M89 12v1M89 16v1M90 16v1M91 9v1M91 16v1M91 18v1M92 6v1M92 9v1M92 13v1M93 7v1M93 10v2M95 5v1M95 19v1M95 21v4M96 5v1M96 7v1M97 -3v4M97 12v1M98 5v1M98 10v1M98 12v1M100 3v1M100 17v2M101 11v2M102 12v1M103 8v1M103 18v1M103 21v4M104 -3v5M104 10v1M104 12v1M104 15v1M104 18v1M105 2v1M107 7v1M107 17v1M107 19v1M108 1v2M108 16v1M109 2v1M109 6v1M109 10v1M109 13v1M110 8v1M111 12v1M112 12v1"/><path stroke="#868686" d="M1 8v1M3 8v1M4 8v1M4 14v1M5 5v1M6 8v1M6 14v1M9 1v1M9 14v1M12 8v2M13 19v1M14 7v2M14 12v1M14 15v1M14 19v1M16 16v1M17 1v1M17 10v1M17 15v1M18 13v1M19 9v1M19 11v1M19 16v2M21 15v1M22 3v1M22 11v1M22 14v1M23 14v1M24 5v2M24 13v1M25 4v1M25 16v2M25 20v1M26 4v1M26 16v1M27 9v2M27 15v1M28 3v2M28 8v1M28 17v1M29 1v1M29 11v1M29 19v1M30 12v1M30 19v1M32 8v1M32 15v3M32 21v4M33 5v1M33 13v1M34 7v1M34 10v1M34 12v2M34 16v1M34 18v1M36 16v3M37 2v1M37 7v1M37 18v1M38 2v1M38 6v2M38 9v1M38 19v1M39 6v1M39 16v1M39 21v4M40 -3v4M40 5v1M40 11v1M40 16v1M41 6v1M42 8v2M43 14v1M43 18v1M44 16v1M45 2v1M45 9v1M45 14v1M46 8v1M46 12v3M47 3v1M47 9v1M47 12v1M47 18v1M48 4v1M48 18v1M49 -3v4M49 5v1M49 15v2M50 -3v4M50 3v1M50 9v1M50 11v1M50 16v1M51 3v1M51 5v1M51 10v2M51 13v1M51 19v2M52 3v1M52 9v1M52 13v1M54 20v1M55 -3v4M55 14v1M56 3v1M56 5v1M56 10v1M56 18v1M57 4v1M57 8v1M57 13v1M58 4v1M58 9v1M58 12v1M58 18v1M58 20v1M59 18v1M60 12v2M61 19v1M63 2v1M63 14v2M63 18v1M64 2v1M64 5v1M64 12v1M65 2v1M65 14v1M65 21v4M66 6v1M66 17v1M67 -3v4M67 5v1M67 12v1M67 14v1M68 1v1M68 6v1M68 11v1M69 6v1M69 9v1M70 3v1M70 5v1M70 14v1M71 2v1M71 6v1M73 15v1M74 9v1M74 16v1M75 10v1M75 15v1M76 3v1M76 13v1M77 5v1M78 11v1M78 17v1M78 20v1M79 5v1M79 20v1M80 6v1M81 -3v4M81 2v1M82 2v1M82 17v1M82 19v1M83 21v4M84 2v1M84 17v1M85 4v1M85 9v1M85 13v1M85 15v1M85 18v1M86 19v1M87 2v1M87 19v1M88 3v1M88 5v1M88 11v1M88 17v1M89 4v1M89 14v1M94 11v1M95 12v1M96 9v1M96 11v1M96 16v2M97 1v1M97 17v1M98 17v1M99 5v1M99 8v1M100 7v1M100 14v1M101 1v1M102 7v1M103 2v1M104 11v1M105 16v1M105 21v4M106 13v1M106 21v4M107 9v1M107 13v1M108 13v1M108 17v1M108 21v4M109 21v4M110 2v1"/><path stroke="#8a8a8a" d="M-1 8v1M0 8v1M2 8v1M6 9v1M7 7v1M9 6v1M9 13v1M10 8v1M13 5v1M13 8v1M15 -3v4M15 7v1M17 6v1M17 8v1M17 13v1M17 21v4M19 15v1M20 2v1M20 9v1M21 5v1M21 7v1M22 10v1M22 21v4M23 -3v4M23 9v1M23 13v1M24 7v1M25 19v1M26 11v1M26 19v1M27 21v4M28 5v1M29 8v1M29 15v1M30 8v1M31 2v1M31 4v3M31 8v1M32 4v1M33 7v2M33 11v1M33 15v1M33 18v1M34 3v1M34 8v1M34 19v1M35 6v1M35 20v1M36 8v1M37 11v1M38 16v1M39 10v1M39 18v1M40 4v1M40 19v1M41 11v1M41 15v1M42 2v1M42 13v1M43 1v1M43 17v1M44 9v1M44 11v1M46 -3v4M47 2v1M47 19v1M48 1v1M48 13v1M48 19v1M50 18v1M51 6v1M52 8v1M52 11v1M53 7v1M53 12v1M53 17v1M54 5v1M54 8v1M54 19v1M55 9v3M55 15v2M56 1v1M57 16v1M58 8v1M58 11v1M59 10v1M59 20v1M60 -3v4M60 4v1M60 8v1M60 20v1M61 11v1M61 14v1M62 10v2M63 12v1M64 15v1M64 18v1M65 3v1M65 10v2M65 16v1M66 13v1M66 15v1M67 21v4M68 4v2M68 10v1M69 3v3M69 8v1M69 17v2M70 12v1M70 17v1M71 11v1M71 16v1M71 19v1M72 -3v4M72 5v1M73 8v2M74 12v1M75 19v1M76 5v1M76 9v1M76 19v1M77 8v1M78 4v1M78 12v1M79 15v1M80 4v1M80 8v1M81 6v1M81 14v1M82 5v1M82 13v1M82 16v1M83 9v1M83 11v1M83 14v1M84 5v1M85 14v1M86 11v1M88 14v1M88 21v4M89 7v1M90 6v1M90 19v1M91 -3v4M91 4v1M91 7v1M91 10v2M92 7v1M92 15v1M92 20v1M93 9v1M93 12v2M94 8v1M94 15v1M95 9v1M95 14v1M96 8v1M96 10v1M97 9v1M97 11v1M98 15v1M99 7v1M99 14v1M100 9v1M101 14v1M102 8v2M103 6v1M104 8v1M106 3v1M107 8v1M107 18v1M111 13v2M112 13v2"/><path stroke="#8e8e8e" d="M3 3v1M5 12v1M5 14v1M8 14v1M9 7v1M13 2v1M15 9v1M18 16v1M19 6v2M20 7v1M21 6v1M23 16v1M28 20v1M29 -3v4M29 12v1M30 -3v4M30 5v2M31 17v1M32 3v1M32 18v1M33 17v1M34 9v1M35 8v1M35 10v1M36 1v1M36 3v1M38 8v1M39 3v2M41 2v2M41 5v1M41 10v1M41 16v1M42 19v1M43 2v1M43 8v3M44 4v1M44 10v1M44 18v1M45 19v1M46 3v1M46 6v1M46 9v1M46 19v1M47 6v2M47 11v1M47 13v1M49 3v1M49 10v1M49 18v1M50 17v1M52 17v1M53 4v1M54 9v2M54 14v1M55 1v1M55 8v1M55 18v1M56 8v1M56 11v1M56 13v1M57 6v2M57 10v1M57 14v1M57 18v1M58 -3v4M58 2v2M58 16v1M59 16v1M61 2v1M61 5v1M61 10v1M62 3v2M62 8v1M63 3v1M63 6v1M64 4v1M64 11v1M65 12v1M66 2v1M66 16v1M67 10v1M67 18v1M68 9v1M68 17v1M69 15v1M70 6v1M70 8v1M70 11v1M70 19v1M71 5v1M71 10v1M71 17v1M72 12v1M72 19v1M73 12v1M73 18v1M74 3v1M75 16v1M77 15v1M77 21v4M78 -3v5M78 15v1M79 8v1M79 13v1M80 5v1M80 9v1M80 11v1M80 16v1M81 9v1M82 -3v4M82 12v1M83 1v1M83 8v1M86 4v1M86 14v1M87 6v1M87 8v1M88 16v1M89 13v1M92 8v1M94 19v1M95 11v1M96 13v1M97 13v1M97 15v1M97 18v1M98 9v1M98 14v1M100 21v4M105 9v1M105 13v1M107 3v1M109 9v1M109 14v1M110 13v1M111 9v1M112 9v1"/><path stroke="#929292" d="M2 9v1M8 8v1M9 8v1M10 7v1M11 8v1M12 14v1M15 8v1M16 6v1M18 12v1M20 15v2M22 15v1M24 16v1M26 9v1M27 6v1M28 9v1M30 11v1M33 4v1M33 16v1M34 5v1M34 14v1M35 12v1M37 3v1M38 4v1M39 14v1M39 19v1M40 17v1M43 7v1M43 16v1M44 7v1M45 18v1M46 1v1M46 17v1M47 -3v4M48 21v4M49 17v1M50 2v1M50 7v1M51 1v1M53 3v1M53 5v1M53 8v1M53 18v1M55 6v1M56 7v1M56 9v1M57 3v1M57 9v1M57 11v1M58 6v1M58 17v1M59 2v1M60 3v1M62 18v1M63 -3v4M63 4v1M64 9v1M66 7v1M66 11v1M66 21v4M67 4v1M67 8v1M70 7v1M70 15v1M71 7v2M72 10v1M73 5v1M74 8v1M76 15v1M77 4v1M79 6v1M79 14v1M80 10v1M80 13v1M81 1v1M81 16v1M82 6v1M82 10v1M82 14v2M83 6v1M84 12v1M84 14v1M86 6v1M86 13v1M86 18v1M87 16v1M89 15v1M92 3v2M92 12v1M94 13v1M96 15v1M98 6v1M98 13v1M99 1v1M99 13v1M100 8v1M100 13v1M101 13v1M103 14v1M105 8v1M107 14v1M108 14v1"/><path stroke="#969696" d="M11 7v1M17 7v1M18 6v2M20 6v1M22 16v1M25 6v1M25 15v1M26 6v1M30 4v1M30 16v1M35 3v2M37 4v1M39 2v1M39 17v1M40 6v1M41 13v1M42 10v1M45 4v1M45 10v1M47 1v1M48 10v2M49 11v1M50 6v1M51 7v1M52 6v1M53 10v1M54 3v1M54 6v1M55 20v1M56 17v1M57 12v1M58 7v1M59 6v2M61 6v1M61 8v1M62 9v1M63 5v1M63 7v1M64 8v1M64 17v1M66 4v1M66 10v1M68 7v1M69 7v1M69 10v1M71 -3v4M72 9v1M73 17v1M74 5v1M75 12v1M76 8v1M76 17v1M77 14v1M77 18v1M79 21v4M81 15v1M83 10v1M83 12v1M84 7v1M84 11v1M88 7v1M89 11v1M90 11v1M90 15v1M92 11v1M92 14v1M95 8v1M95 13v1M95 20v1M98 7v1M98 11v1M104 9v1M105 14v1M106 16v1M108 8v1"/><path stroke="#9a9a9a" d="M16 7v1M23 15v1M29 16v1M31 3v1M31 16v1M34 17v1M37 16v1M38 3v1M38 17v1M40 3v1M41 7v1M41 17v1M42 3v1M42 20v1M44 3v1M44 17v1M45 6v1M46 2v1M46 7v1M47 17v1M48 3v1M51 2v1M52 2v1M52 7v1M54 17v1M57 17v1M58 10v1M60 2v1M61 3v1M61 9v1M63 17v1M67 7v1M68 3v1M69 12v1M70 4v1M70 16v1M71 3v1M72 4v1M73 16v1M78 5v1M78 9v2M81 5v1M81 10v1M82 4v1M83 16v1M84 6v1M84 8v1M85 7v1M93 14v1M94 12v1M97 8v1M97 14v1M100 1v1M104 14v1"/><path stroke="#9e9e9e" d="M7 8v1M22 5v1M25 5v1M27 16v1M37 17v1M42 17v1M43 3v1M45 3v1M45 7v1M52 10v1M52 18v1M53 6v1M55 3v1M55 7v1M56 6v1M62 2v1M63 9v1M64 7v1M67 3v1M68 8v1M68 16v1M71 4v1M72 3v1M72 11v1M72 17v1M74 4v1M80 15v1M84 9v1M84 16v1M87 7v1M87 13v1M94 14v1M96 14v1M103 9v1M104 13v1M106 14v1M107 11v2M109 8v1M110 9v1"/><path stroke="#a2a2a2" d="M36 4v1M42 7v1M48 2v1M53 9v1M55 2v1M55 17v1M56 2v1M57 2v1M60 17v1M61 17v1M63 10v1M65 6v1M67 17v1M72 16v1M73 4v1M75 4v1M75 11v1M77 17v1M78 16v1M79 9v1M79 16v1M83 7v1M83 15v1M91 15v1M93 8v1"/><path stroke="#a6a6a6" d="M26 5v1M49 2v1M53 2v1M65 7v1M66 3v1M85 6v1M86 7v1M87 14v1M90 7v1M90 12v1M90 14v1"/><path stroke="#aaa" d="M45 17v1M48 17v1M59 17v1M60 6v2M75 5v1M76 16v1M77 16v1M84 15v1M92 5v1"/><path stroke="#aeaeae" d="M51 18v1M54 2v1M64 3v1M69 16v1M71 9v1M87 15v1"/><path stroke="#b2b2b2" d="M60 10v1M62 17v1M90 13v1M98 8v1"/><path stroke="#b6b6b6" d="M84 10v1"/><path stroke="#d2d2d2" d="M69 11v1"/></g></g></svg>
<text x="72.3" y="160.55" font-size="4.08" text-anchor="middle" fill="#262626">dVTEC VR1 1h (10E 40N)</text>
<text x="14.6" y="192.3" font-size="3.4" text-anchor="end" fill="#262626">0</text>
<text x="14.6" y="180.071" font-size="3.4" text-anchor="end" fill="#262626">10</text>
<text x="14.6" y="167.842" font-size="3.4" text-anchor="end" fill="#262626">20</text>
<svg x="141.3" y="162.65" width="112.1" height="29.35" viewBox="0 0 112 29" preserveAspectRatio="none" stroke-width="1.04" fill="none"><g filter="url(#f3)"><rect x="-4" y="-4" width="120" height="37" fill="#828282"/><g transform="translate(.5)"><path stroke="#797979" d="M2 4v1M5 13v1M6 7v1M7 8v1M8 19v1M9 10v1M9 16v1M9 21v1M9 28v4M10 28v4M11 3v1M11 5v1M12 13v1M14 23v1M19 19v1M23 19v1M23 21v1M24 17v1M24 20v1M25 15v1M26 6v1M27 5v1M27 21v1M28 28v4M29 24v1M30 6v1M32 13v1M34 23v1M36 14v1M36 18v1M36 25v1M38 5v1M38 7v1M38 19v1M39 8v1M40 2v1M40 11v1M40 24v1M42 15v1M42 28v4M43 17v1M44 21v1M45 8v1M45 21v1M46 2v1M47 2v1M47 26v1M48 15v1M49 16v1M50 21v1M50 24v1M53 -3v4M56 6v1M56 11v1M57 15v1M59 4v1M60 17v1M61 5v1M61 15v1M61 23v1M62 22v1M63 13v1M63 18v1M64 22v1M65 4v1M65 21v1M68 4v1M69 11v1M70 28v4M71 7v1M72 9v1M72 28v4M75 16v1M75 20v1M81 8v1M81 19v1M82 23v1M83 1v1M84 25v1M85 22v1M86 18v1M87 11v1M89 7v1M92 22v1M92 25v1M94 12v1M95 14v1M96 9v1M98 23v1M99 -3v4M100 16v1M101 27v1M102 19v2M102 23v1M103 7v1M105 3v1M106 11v1M107 8v1M109 19v1M110 20v1"/><path stroke="#7d7d7d" d="M-1 1v2M-1 7v1M-1 11v1M-1 14v1M-1 16v2M-1 19v1M-1 22v2M-1 27v1M0 1v2M0 7v1M0 11v1M0 14v1M0 16v2M0 19v1M0 22v2M0 27v1M1 1v5M1 9v2M1 12v4M1 17v1M1 20v1M1 22v1M2 -3v4M2 2v2M2 7v6M2 15v2M2 24v1M2 28v4M3 1v1M3 5v1M3 11v2M3 14v1M3 16v1M3 20v2M3 23v1M3 25v1M3 27v5M4 4v1M4 6v1M4 18v1M4 22v3M4 26v1M5 2v1M5 10v1M5 17v1M5 19v2M6 1v1M6 5v2M6 9v2M6 12v1M6 18v1M6 23v1M6 26v1M6 28v4M7 2v1M7 9v1M7 14v1M7 16v2M7 21v1M7 25v3M8 5v2M8 13v1M8 18v1M8 24v3M9 -3v6M9 4v3M9 9v1M9 11v1M9 15v1M9 18v1M9 26v2M10 1v2M10 4v1M10 6v1M10 9v1M10 11v3M10 15v4M10 21v2M11 -3v4M11 2v1M11 6v2M11 9v2M11 12v1M11 19v3M11 23v1M11 25v1M11 28v4M12 1v1M12 3v1M12 5v1M12 7v1M12 16v1M12 21v1M13 1v1M13 14v1M13 16v1M13 18v2M13 21v1M13 24v1M13 26v6M14 3v1M14 5v1M14 9v1M14 13v1M14 15v2M14 18v1M14 25v1M15 -3v5M15 4v1M15 8v1M15 10v2M15 13v2M15 19v2M15 24v1M15 26v1M16 1v1M16 3v1M16 5v2M16 9v1M16 11v1M16 15v2M16 21v1M16 27v5M17 4v4M17 9v1M17 12v1M17 14v1M17 18v1M17 20v1M17 28v4M18 2v1M18 5v1M18 7v2M18 11v1M18 15v1M18 17v1M18 19v1M18 23v3M18 28v4M19 2v2M19 11v2M19 14v1M19 16v1M19 22v2M19 27v1M20 4v1M20 7v1M20 12v1M20 15v1M20 18v2M20 25v2M21 -3v4M21 5v1M21 10v2M21 15v1M21 18v6M22 -3v7M22 5v2M22 9v1M22 12v1M22 18v2M22 22v4M22 27v5M23 2v2M23 7v3M23 12v1M23 16v1M23 18v1M23 22v2M23 28v4M24 3v1M24 11v1M24 13v1M24 15v2M24 19v1M24 21v1M24 24v1M25 4v6M25 13v1M25 16v1M25 19v1M25 24v1M25 26v1M25 28v4M26 5v1M26 7v1M26 10v1M26 13v1M26 16v1M26 28v4M27 2v2M27 6v1M27 8v1M27 12v1M27 14v1M27 17v1M27 20v1M27 22v2M27 25v1M27 27v1M28 -3v4M28 3v1M28 5v2M28 8v2M28 14v2M28 17v4M28 23v2M29 2v1M29 4v1M29 6v1M29 9v2M29 12v1M29 14v2M29 18v1M29 21v1M30 10v2M30 13v1M30 15v4M30 23v1M30 25v2M30 28v4M31 -3v5M31 4v2M31 7v1M31 12v1M31 16v2M31 19v3M31 24v2M32 5v1M32 10v1M32 15v1M32 20v2M32 24v2M32 28v4M33 -3v4M33 2v5M33 10v1M33 13v1M33 16v4M33 21v1M33 26v6M34 1v1M34 3v1M34 7v1M34 9v1M34 11v1M34 13v5M34 21v1M34 28v4M35 -3v7M35 8v2M35 11v2M35 14v1M35 17v1M35 20v1M35 24v1M35 26v1M36 1v4M36 11v1M36 13v1M36 19v2M36 28v4M37 1v1M37 8v1M37 14v1M37 20v3M37 25v2M38 -3v4M38 6v1M38 9v1M38 12v1M38 15v3M38 23v3M39 2v4M39 7v1M39 9v1M39 13v2M39 17v1M39 20v1M39 27v1M40 1v1M40 3v1M40 5v2M40 8v1M40 17v1M40 25v1M41 -3v4M41 3v3M41 8v2M41 13v1M41 15v4M41 22v1M41 25v1M41 28v4M42 4v1M42 8v1M42 10v1M42 12v1M42 14v1M42 16v1M42 18v3M42 26v2M43 3v3M43 10v2M43 18v1M43 22v1M43 25v1M43 27v5M44 -3v5M44 7v1M44 9v2M44 14v4M44 20v1M44 22v2M44 25v7M45 -3v4M45 10v1M45 13v1M45 16v2M45 23v3M45 27v5M46 1v1M46 3v2M46 16v1M46 19v1M46 22v1M46 24v1M46 27v1M47 -3v4M47 3v1M47 6v1M47 8v1M47 13v1M47 15v2M47 18v2M47 27v1M48 -3v4M48 3v3M48 7v1M48 9v1M48 12v1M48 18v3M48 25v1M49 2v1M49 9v2M49 17v1M49 19v2M49 24v2M50 8v1M50 10v1M50 12v1M50 19v1M50 23v1M50 26v2M51 3v1M51 5v1M51 7v1M51 10v1M51 14v1M51 17v2M51 20v3M51 24v1M51 27v1M52 3v2M52 6v1M52 13v1M52 15v2M52 18v2M52 22v1M52 27v1M53 3v1M53 5v1M53 7v2M53 18v1M53 20v1M53 23v2M53 27v1M54 2v1M54 4v1M54 6v1M54 10v2M54 15v1M54 17v2M54 20v1M54 22v2M54 28v4M55 5v2M55 10v1M55 13v1M55 17v2M55 21v1M55 23v1M55 26v2M56 -3v5M56 3v2M56 7v1M56 12v1M56 14v2M56 19v3M56 24v1M56 28v4M57 -3v5M57 7v1M57 12v1M57 14v1M57 19v2M57 22v1M57 26v1M58 1v1M58 8v1M58 11v1M58 14v3M58 19v1M58 21v2M58 24v2M58 27v1M59 2v1M59 8v1M59 10v1M59 12v1M59 20v1M59 24v1M59 28v4M60 3v1M60 5v2M60 11v2M60 15v2M60 20v1M60 24v1M60 26v6M61 7v3M61 12v2M61 16v2M61 19v4M61 25v1M62 -3v7M62 5v1M62 14v1M62 18v1M62 21v1M63 2v1M63 5v1M63 8v2M63 11v1M63 15v1M63 22v1M63 28v4M64 1v4M64 13v1M64 17v2M64 20v1M64 27v1M65 1v2M65 17v2M65 20v1M65 22v5M66 2v1M66 4v2M66 11v1M66 14v1M66 17v1M66 20v2M66 24v8M67 -3v5M67 4v1M67 6v1M67 8v1M67 12v3M67 24v2M67 27v1M68 1v1M68 3v1M68 5v1M68 10v1M68 16v1M68 20v1M68 22v1M68 24v1M68 26v1M69 1v1M69 5v1M69 10v1M69 13v3M69 21v1M69 23v2M70 1v3M70 6v4M70 11v1M70 13v1M70 15v3M70 19v1M70 27v1M71 2v4M71 10v1M71 14v3M71 18v1M71 23v2M71 27v1M72 -3v4M72 14v1M72 16v3M72 23v2M73 2v1M73 6v1M73 10v4M73 16v4M73 21v3M73 25v1M73 27v5M74 -3v4M74 11v2M74 14v1M74 20v1M74 24v2M74 27v1M75 1v2M75 8v1M75 10v3M75 17v1M75 19v1M75 21v2M75 26v1M76 -3v5M76 13v4M76 18v1M76 22v1M76 25v2M77 1v1M77 6v1M77 10v1M77 12v2M77 21v3M77 27v1M78 1v1M78 3v1M78 7v1M78 13v1M78 15v1M78 17v1M78 20v2M78 23v1M78 28v4M79 2v1M79 7v1M79 11v1M79 18v3M79 26v6M80 2v1M80 5v1M80 7v2M80 11v2M80 16v1M80 21v1M80 24v1M80 28v4M81 5v1M81 7v1M81 12v1M81 24v2M81 27v1M82 -3v4M82 4v1M82 10v1M82 14v1M82 17v1M82 20v1M82 25v2M83 -3v4M83 2v1M83 17v5M83 23v3M84 -3v4M84 3v1M84 9v1M84 11v1M84 13v1M84 20v1M84 22v1M85 -3v7M85 9v1M85 15v3M85 20v2M85 23v4M85 28v4M86 -3v4M86 2v1M86 5v1M86 7v1M86 9v1M86 11v1M86 13v2M86 16v1M86 21v1M86 23v1M86 25v1M86 27v1M87 1v1M87 3v1M87 6v1M87 8v3M87 14v1M87 18v4M87 26v6M88 1v2M88 5v1M88 7v4M88 12v3M88 16v1M88 19v2M88 23v1M88 26v1M88 28v4M89 1v1M89 4v2M89 8v2M89 13v2M89 17v1M89 19v2M89 24v2M89 28v4M90 -3v5M90 8v2M90 13v2M90 16v1M90 19v4M90 24v2M91 -3v4M91 2v1M91 5v1M91 8v1M91 11v2M91 14v1M91 18v2M91 25v1M92 -3v4M92 6v1M92 8v1M92 12v2M92 18v1M92 21v1M92 27v1M93 1v1M93 3v4M93 14v2M93 17v2M93 24v3M94 4v2M94 7v2M94 15v1M94 18v2M94 22v3M94 26v1M94 28v4M95 1v1M95 4v1M95 6v1M95 13v1M95 16v2M95 22v1M95 24v1M95 28v4M96 3v1M96 5v3M96 10v1M96 12v1M96 14v1M96 26v2M97 -3v6M97 6v1M97 8v1M97 13v1M97 15v2M97 24v1M97 27v1M98 2v1M98 4v3M98 8v1M98 13v1M98 18v4M98 24v1M99 2v2M99 6v1M99 8v2M99 11v2M99 14v1M99 20v1M99 23v2M99 28v4M100 3v2M100 7v4M100 12v1M100 20v3M100 27v1M101 2v1M101 4v1M101 6v1M101 9v1M101 12v1M101 20v4M101 25v1M102 3v4M102 9v2M102 12v1M102 16v1M102 26v1M103 1v1M103 4v3M103 10v3M103 17v1M103 22v2M104 1v1M104 6v1M104 13v3M104 19v3M105 1v2M105 5v1M105 8v1M105 10v1M105 13v2M105 17v2M105 20v1M105 27v1M106 3v2M106 12v2M106 17v1M106 20v2M106 23v4M107 -3v6M107 9v1M107 13v1M107 16v1M107 22v1M107 24v1M108 1v1M108 6v1M108 9v1M108 11v3M108 16v1M108 19v2M108 23v3M109 5v4M109 11v1M109 13v1M109 15v1M109 17v1M109 23v1M109 25v2M110 4v1M110 8v1M110 23v2M110 26v1M110 28v4M111 -3v5M111 3v3M111 11v2M111 20v4M112 -3v5M112 3v3M112 11v2M112 20v4"/><path stroke="#868686" d="M-1 9v1M-1 15v1M-1 18v1M-1 20v1M-1 24v1M0 9v1M0 15v1M0 18v1M0 20v1M0 24v1M1 11v1M2 27v1M3 2v1M3 7v1M3 17v1M3 22v1M4 7v1M4 12v1M5 1v1M5 9v1M5 12v1M5 23v1M5 25v1M6 -3v4M6 2v1M6 8v1M6 13v2M7 1v1M7 5v2M8 16v1M9 3v1M10 7v1M12 15v1M12 18v1M13 2v1M13 4v1M13 6v1M13 15v1M14 4v1M14 11v1M14 19v1M14 28v4M16 -3v4M16 4v1M16 10v1M17 22v1M17 26v1M18 10v1M18 18v1M19 5v2M19 15v1M19 26v1M20 -3v5M20 22v1M21 1v2M21 27v1M22 10v1M22 13v1M23 4v1M23 10v1M23 15v1M23 25v2M24 -3v4M24 4v1M24 6v1M24 26v1M24 28v4M26 8v1M27 -3v5M27 7v1M27 9v1M27 16v1M27 19v1M28 12v2M29 -3v4M29 5v1M29 11v1M29 13v1M29 23v1M29 26v2M30 2v1M30 12v1M31 3v1M31 13v1M31 28v4M32 8v1M32 11v1M32 19v1M33 20v1M34 24v1M34 26v1M35 10v1M35 13v1M35 19v1M37 -3v4M38 3v1M38 26v2M39 12v1M39 18v1M40 16v1M41 7v1M42 1v1M42 6v1M42 11v1M44 6v1M45 1v1M45 4v1M45 14v1M45 22v1M46 7v1M46 21v1M47 17v1M47 28v4M48 11v1M48 13v2M48 24v1M48 27v1M49 -3v4M49 11v1M49 13v1M49 22v1M49 28v4M50 -3v4M50 3v1M50 15v2M50 22v1M50 25v1M51 -3v5M51 9v1M51 26v1M52 20v1M52 24v1M54 14v1M55 1v1M55 19v2M56 5v1M56 16v1M56 18v1M56 27v1M57 5v1M57 25v1M58 2v4M58 7v1M59 -3v4M59 3v1M59 5v1M60 9v1M60 21v1M61 2v1M62 10v1M62 19v1M62 23v1M62 25v1M63 -3v4M63 16v1M63 23v1M63 27v1M64 7v1M64 11v1M65 8v1M65 12v1M65 15v1M65 28v4M66 6v1M66 9v1M66 16v1M66 19v1M68 2v1M68 11v1M68 17v1M68 23v1M68 25v1M69 -3v4M69 3v1M69 17v1M70 21v1M72 11v1M72 22v1M73 24v1M74 5v1M74 23v1M74 28v4M75 -3v4M75 7v1M75 13v1M75 25v1M75 27v5M76 9v2M78 4v1M78 6v1M78 14v1M78 19v1M78 27v1M79 -3v4M79 10v1M79 15v1M79 17v1M79 24v1M80 1v1M80 10v1M80 22v2M81 17v2M82 2v2M82 6v1M82 11v1M82 18v2M83 7v1M83 10v1M83 28v4M84 2v1M84 5v1M84 8v1M84 10v1M84 14v1M84 27v1M85 5v1M85 8v1M85 13v2M86 17v1M86 26v1M87 13v1M88 3v1M88 6v1M88 24v2M89 6v1M90 6v1M90 11v1M91 1v1M91 13v1M91 15v2M91 21v3M93 9v1M93 23v1M94 9v1M94 14v1M95 2v1M95 9v2M95 18v1M95 20v1M95 26v1M96 1v1M96 4v1M96 15v1M96 20v1M97 9v1M97 17v1M97 19v1M99 16v1M100 1v1M100 14v1M100 24v1M100 28v4M101 1v1M101 7v1M101 10v1M101 14v1M103 13v1M104 7v1M104 10v1M104 16v2M104 28v4M105 4v1M105 9v1M105 24v2M106 2v1M106 7v3M106 18v1M107 10v1M107 17v1M107 25v1M108 28v4M109 27v1M110 6v1M110 15v1M111 19v1M111 26v1M112 19v1M112 26v1"/><path stroke="#8a8a8a" d="M10 26v1M40 18v1M43 19v1M44 13v1M46 9v1M61 11v1M91 28v4M93 16v1"/></g></g><path stroke="#b52a08" stroke-width=".75" stroke-opacity=".36" d="M26.3 10.9v2.6M69.1 8.5v1.8M102.6 11.1v2.6M56.6 8.9v2.6M80.6 17.3v1.8M28.9 8.1v1.8M37.1 7.8v0.8M17.3 7.0v1.2M7.9 11.5v2.6M83.5 12.8v1.8M102.5 13.3v0.8M39.7 7.1v0.8M5.4 13.7v0.8M53.4 9.5v1.2M15.1 8.7v1.8M39.5 14.5v1.2M47.8 16.1v1.2M44.7 10.9v2.6M64.8 19.2v1.2M0.5 10.7v2.6M34.1 9.0v1.8M0.5 11.7v0.8M49.2 9.5v2.6M41.5 16.4v1.8M64.4 18.5v2.6"/><path stroke="#1838c8" stroke-width=".75" stroke-opacity=".36" d="M39.0 16.9v2.6M111.5 13.4v1.2M71.5 16.4v1.8M21.4 14.1v1.2M31.5 17.6v2.6M29.9 12.6v1.2M89.2 14.6v2.6M47.6 13.8v1.8M85.3 13.3v2.6M56.9 7.9v0.8M73.1 14.7v1.8M100.5 6.4v2.6"/><path stroke="#d89000" stroke-width=".75" stroke-opacity=".36" d="M44.9 4.9v1.8M111.5 16.6v2.6M54.7 16.6v2.6M36.7 17.7v1.2M82.9 11.4v0.8M53.0 12.1v1.2M77.2 11.7v1.2M67.4 9.0v1.2"/><path stroke="#10a0c0" stroke-width=".75" stroke-opacity=".36" d="M107.5 19.9v1.8M66.0 12.1v1.2M71.1 12.4v0.8M61.0 15.0v1.2M25.8 14.0v0.8M65.6 10.1v0.8M33.6 13.8v2.6M73.6 13.6v1.8M33.4 16.2v2.6M70.9 12.6v0.8"/></svg>
<text x="197.35" y="161.55" font-size="4.08" text-anchor="middle" fill="#262626">dVTEC VR1 diff  1h (10E 40N)</text>
<text x="139.9" y="193.3" font-size="3.4" text-anchor="end" fill="#262626">0</text>
<text x="139.9" y="181.071" font-size="3.4" text-anchor="end" fill="#262626">10</text>
<text x="139.9" y="168.842" font-size="3.4" text-anchor="end" fill="#262626">20</text>
<rect x="260.2" y="162.65" width="1.9" height="29.35" fill="url(#jetg)"/>
<text x="263.6" y="188.408" font-size="3.42" text-anchor="start" fill="#262626">−5</text>
<text x="263.6" y="178.625" font-size="3.42" text-anchor="start" fill="#262626">0</text>
<text x="263.6" y="168.842" font-size="3.42" text-anchor="start" fill="#262626">5</text>
<svg x="16" y="196.5" width="112.6" height="29.35" viewBox="0 0 112 22" preserveAspectRatio="none" stroke-width="1.04" fill="none"><g filter="url(#f2)"><rect x="-4" y="-4" width="120" height="30" fill="#757575"/><g transform="translate(.5)"><path stroke="#393939" d="M2 4v1M7 5v1M8 5v1"/><path stroke="#3d3d3d" d="M7 16v1"/><path stroke="#414141" d="M-1 16v1M0 16v1M4 5v1M39 16v1M45 16v1M105 4v1"/><path stroke="#454545" d="M9 5v1M67 17v1M94 16v1M106 5v1"/><path stroke="#494949" d="M5 4v1M6 11v1M102 5v1M106 16v1"/><path stroke="#4d4d4d" d="M-1 5v1M0 5v1M2 8v1M3 4v1M6 5v1M6 16v1M7 17v1M10 5v1M12 16v1M23 17v1M39 17v1M46 16v1M50 16v1M56 16v1M78 17v1M89 16v1M93 17v1M110 5v1"/><path stroke="#515151" d="M1 8v1M2 17v1M3 5v1M4 4v1M5 11v1M7 4v1M11 5v1M17 17v1M23 16v1M55 17v1M63 16v1M72 16v1M83 17v1M94 17v1M100 17v1M103 5v1M104 5v1M107 5v1M111 4v2M111 16v1M112 4v2M112 16v1"/><path stroke="#555" d="M1 5v1M2 5v1M3 8v1M3 11v1M5 5v1M11 16v1M12 4v1M22 16v1M24 16v1M29 17v1M34 17v1M40 4v1M40 16v1M41 15v1M45 17v1M52 16v1M61 16v1M62 17v1M72 17v1M73 16v1M77 16v1M78 16v1M79 17v1M82 16v1M93 19v1M99 16v1M100 5v1M100 16v1M101 20v1M102 4v1M104 4v1M104 7v1M106 4v1M111 13v1M112 13v1"/><path stroke="#595959" d="M-1 6v1M-1 8v1M-1 17v1M0 6v1M0 8v1M0 17v1M2 11v1M17 20v1M18 17v1M22 17v1M25 19v1M32 16v1M33 16v1M40 17v1M43 4v1M50 17v2M51 16v1M54 7v1M55 16v1M56 17v1M61 19v1M62 16v1M63 21v4M66 16v1M73 17v1M82 17v1M88 16v1M90 1v1M95 5v1M95 16v2M98 17v1M100 6v1M101 17v1M104 21v4M105 6v1M107 4v1M108 4v1"/><path stroke="#5d5d5d" d="M-1 4v1M0 4v1M1 9v1M1 16v1M5 16v1M6 17v1M8 4v1M11 4v1M11 17v1M12 5v1M12 17v1M33 17v1M34 5v1M34 16v1M38 21v4M47 16v1M51 17v1M54 17v1M54 19v1M57 9v1M60 13v1M61 17v1M62 7v1M64 6v1M65 15v2M66 17v1M67 2v1M68 18v1M70 7v1M75 16v1M79 16v1M84 16v2M89 17v1M90 -3v4M90 16v1M91 5v1M93 -3v4M95 20v1M96 5v1M96 17v1M97 4v1M98 4v1M101 16v1M103 4v1M105 17v1M108 5v1M109 3v1M109 5v1M111 -3v4M111 14v1M112 -3v4M112 14v1"/><path stroke="#616161" d="M-1 10v1M0 10v1M1 11v1M1 17v1M3 10v1M4 11v1M6 15v1M7 7v1M10 18v1M11 -3v4M12 15v1M13 16v1M13 21v4M14 19v1M16 16v1M20 18v1M22 4v1M26 3v2M28 9v1M29 15v1M35 16v2M38 16v1M41 16v1M44 20v1M45 6v1M46 17v1M48 11v1M49 1v1M49 16v1M49 21v4M58 8v1M60 17v1M71 16v1M74 12v1M78 13v1M80 20v1M83 16v1M84 -3v4M90 17v1M92 18v2M99 12v1M99 20v1M101 5v1M102 3v1M102 8v1M104 18v1M105 2v1M105 5v1M107 16v1M108 16v1M110 4v1M111 17v1M112 17v1"/><path stroke="#656565" d="M1 4v1M1 19v1M2 12v1M4 19v1M6 4v1M7 6v1M7 11v1M10 4v1M11 6v1M12 13v1M13 5v1M14 21v4M15 17v1M15 21v4M16 18v1M28 4v1M28 16v2M30 8v1M31 16v1M33 18v1M34 11v1M34 18v1M38 -3v4M39 21v4M42 11v1M43 -3v4M43 9v1M43 17v1M44 17v1M45 18v1M46 9v1M48 21v4M49 18v1M51 1v1M55 7v1M55 15v1M57 6v1M57 16v1M58 17v1M59 -3v4M59 4v1M60 16v1M62 15v1M63 7v1M63 15v1M63 17v2M64 1v1M64 12v1M68 17v1M69 2v1M69 15v1M73 20v1M74 10v1M78 19v1M79 13v1M80 16v1M81 16v1M85 16v2M85 21v4M87 21v4M91 1v1M92 20v1M93 14v2M94 -3v4M94 21v4M95 4v1M99 5v2M100 4v1M100 19v1M101 4v1M101 12v1M103 16v1M106 6v2M106 17v1M109 8v2M110 8v1M110 14v1M110 16v1M111 6v1M111 19v1M112 6v1M112 19v1"/><path stroke="#696969" d="M-1 2v1M0 2v1M1 7v1M1 10v1M1 15v1M2 10v1M2 16v1M4 13v1M6 7v1M6 19v2M8 17v1M9 4v1M9 17v1M10 21v4M12 11v1M13 11v1M14 15v1M16 17v1M16 20v1M17 16v1M18 16v1M18 20v1M21 17v1M21 19v1M22 3v1M22 15v1M23 5v1M24 -3v4M24 18v1M26 1v1M26 8v1M27 15v1M27 17v1M29 16v1M30 17v1M33 12v1M39 15v1M40 9v1M40 20v1M41 17v1M41 19v2M42 13v1M43 12v1M43 19v1M44 13v1M44 16v1M44 18v1M45 9v1M47 7v1M50 -3v4M50 3v1M51 -3v4M51 13v1M51 15v1M52 3v1M52 19v1M53 1v1M55 3v1M57 14v1M57 17v1M58 16v1M59 5v1M59 7v1M61 -3v4M63 9v1M63 14v1M64 -3v4M64 2v1M64 5v1M64 9v1M64 19v1M65 10v1M65 19v1M65 21v4M67 21v4M68 2v1M68 14v3M71 15v1M72 8v1M72 15v1M78 1v1M80 -3v5M82 7v1M84 9v1M84 21v4M85 -3v4M90 12v1M91 20v1M92 15v1M93 16v1M93 21v4M94 18v2M95 -3v4M97 1v1M97 12v1M98 18v1M98 21v4M99 1v1M99 17v1M100 1v1M100 20v1M102 -3v4M102 6v1M103 2v1M103 7v2M104 6v1M104 12v1M104 16v1M105 18v1M106 3v1M107 3v1M107 11v1M108 9v2M108 14v1M108 20v1M109 4v1M109 10v1M110 1v1M110 3v1M110 7v1M110 18v1M111 8v1M112 8v1"/><path stroke="#6d6d6d" d="M-1 3v1M-1 7v1M-1 11v1M0 3v1M0 7v1M0 11v1M1 12v1M2 3v1M2 6v2M3 6v1M3 13v1M3 16v1M4 9v1M4 14v1M4 17v1M5 9v1M5 17v1M6 3v1M6 6v1M6 12v1M7 3v1M7 13v1M8 3v1M8 11v1M9 3v1M10 11v1M11 11v1M11 15v1M11 20v1M13 4v1M13 17v1M14 18v1M15 2v1M18 -3v4M18 18v1M19 3v1M19 16v1M19 18v1M20 3v1M22 18v1M22 21v4M23 1v1M23 4v1M24 19v1M25 17v1M26 16v1M26 18v2M28 10v1M28 18v1M29 10v1M30 19v1M31 12v1M31 14v1M31 18v1M33 15v1M35 2v1M37 15v2M37 20v5M38 6v1M38 15v1M39 14v1M39 20v1M40 5v1M40 12v1M41 5v2M41 10v1M42 3v1M42 10v1M43 13v2M45 -3v4M45 8v1M45 13v1M46 7v1M46 19v1M47 4v1M47 10v1M47 17v1M48 -3v4M48 4v1M48 7v1M48 9v1M48 15v2M49 3v1M49 11v1M50 1v1M50 6v1M50 11v1M52 12v1M52 17v1M52 20v5M53 7v1M53 16v1M54 5v2M54 11v1M54 15v1M54 21v4M55 -3v4M55 21v4M56 7v1M56 9v1M56 20v1M57 15v1M57 20v1M60 8v1M60 10v1M60 12v1M60 21v4M61 13v1M61 18v1M62 9v1M62 19v1M64 10v1M64 18v1M66 4v1M66 12v1M66 15v1M67 3v1M67 11v1M67 16v1M69 5v1M69 11v2M69 14v1M70 5v1M70 18v1M70 21v4M71 1v1M71 11v1M71 17v1M71 20v1M72 5v1M73 5v1M73 10v1M75 3v1M75 18v1M76 4v1M76 18v1M77 17v3M79 1v1M80 19v1M83 4v1M83 20v1M85 1v1M86 15v1M87 5v1M88 13v1M88 20v1M89 2v1M90 14v1M91 12v1M91 17v1M92 -3v4M93 8v1M94 1v1M94 5v1M94 11v1M94 14v1M95 3v1M95 11v1M96 4v1M96 18v1M97 3v1M97 20v1M98 12v1M99 19v1M100 18v1M101 6v1M101 9v1M101 15v1M102 14v1M103 3v1M103 17v3M104 3v1M105 8v1M105 11v1M105 13v1M105 15v2M105 19v1M105 21v4M106 19v1M107 6v1M107 12v1M107 18v1M108 6v1M110 6v1M110 11v1M110 17v1M111 18v1M112 18v1"/><path stroke="#717171" d="M-1 1v1M-1 9v1M-1 15v1M-1 21v4M0 1v1M0 9v1M0 15v1M0 21v4M1 3v1M2 1v1M2 9v1M3 7v1M3 9v1M4 6v3M4 10v1M5 3v1M5 8v1M6 2v1M6 8v1M7 8v1M8 10v1M9 7v1M10 6v1M10 16v1M11 3v1M11 14v1M12 1v1M12 6v1M14 -3v5M14 6v1M14 13v1M15 13v1M15 15v1M16 -3v5M16 3v1M17 3v1M17 8v1M17 11v1M18 14v1M19 17v1M20 -3v4M20 8v2M21 -3v4M21 3v1M22 14v1M23 3v1M23 8v1M25 3v1M25 11v1M25 21v4M26 14v1M28 8v1M28 15v1M29 11v1M30 -3v4M30 5v1M30 15v1M32 10v1M32 17v1M32 19v1M34 15v1M35 13v1M35 20v1M36 15v1M36 17v1M36 21v4M37 10v1M38 1v1M38 3v1M38 17v1M39 1v1M39 3v1M39 12v1M40 15v1M41 13v1M42 -3v4M42 2v1M42 15v1M43 11v1M43 15v1M44 11v1M44 21v4M45 12v1M45 14v1M45 20v1M46 1v1M46 11v1M47 8v1M47 11v1M47 18v1M47 20v1M48 3v1M48 6v1M48 12v1M48 18v1M49 -3v4M49 17v1M49 20v1M50 2v1M50 5v1M50 15v1M51 5v1M51 12v1M51 21v4M52 -3v4M52 9v1M52 14v2M52 18v1M53 19v2M54 16v1M54 18v1M56 1v1M57 10v1M57 18v1M57 21v4M58 -3v4M58 9v1M58 13v1M58 15v1M59 16v1M61 5v1M61 15v1M61 21v4M62 1v1M63 3v1M63 5v2M64 3v1M64 15v2M65 6v1M65 14v1M66 2v1M66 20v1M67 15v1M69 1v1M69 20v5M70 1v2M70 11v1M71 18v1M72 1v1M73 1v1M73 4v1M74 2v1M74 14v1M74 16v2M74 21v4M75 1v2M75 6v1M75 14v1M75 17v1M76 2v1M76 15v1M76 20v1M77 2v1M77 13v1M78 4v1M79 2v1M79 5v1M82 -3v4M82 14v1M82 20v5M83 14v1M83 21v4M84 15v1M85 18v1M86 11v1M86 18v1M87 15v1M88 14v1M88 17v1M89 7v1M89 15v1M91 2v1M91 16v1M92 1v1M93 4v2M94 3v2M94 9v1M94 20v1M95 12v1M96 1v2M96 14v2M96 19v1M97 5v1M97 21v4M98 6v1M98 9v1M99 11v1M100 3v1M100 13v1M101 2v2M101 7v1M101 13v1M102 10v1M103 6v1M104 2v1M104 8v1M104 15v1M104 17v1M104 20v1M105 1v1M105 7v1M105 10v1M106 8v2M107 9v1M109 6v1M109 16v2M110 19v2"/><path stroke="#797979" d="M-1 -3v4M-1 13v1M0 -3v4M0 13v1M1 2v1M1 21v4M2 13v1M2 15v1M2 21v4M3 -3v5M3 15v1M4 16v1M5 1v2M6 -3v4M7 12v1M7 18v1M8 6v2M8 15v1M9 19v6M10 3v1M11 7v1M11 10v1M12 3v1M12 18v1M12 21v4M13 6v2M13 20v1M14 12v1M14 16v1M15 -3v4M15 3v1M16 8v1M16 14v1M17 5v1M18 10v2M18 19v1M19 8v1M20 13v1M20 21v4M21 8v1M21 16v1M21 18v1M22 1v1M22 13v1M22 19v2M23 -3v4M24 2v2M24 7v1M24 14v1M24 20v1M25 4v2M25 14v1M25 18v1M25 20v1M26 21v4M27 -3v4M27 3v1M27 14v1M27 16v1M28 -3v4M29 -3v4M29 9v1M30 14v1M31 10v1M31 17v1M31 21v4M32 1v1M32 5v2M33 -3v4M33 10v2M34 -3v4M34 6v1M34 8v1M35 -3v4M35 5v1M35 7v1M35 18v1M36 5v2M36 16v1M36 20v1M37 6v1M37 9v1M38 2v1M38 7v1M38 11v1M39 -3v4M39 9v1M39 11v1M39 18v1M40 3v1M40 10v1M40 14v1M41 2v1M41 7v1M42 5v1M42 14v1M42 17v1M43 3v1M43 7v1M43 20v1M44 2v1M44 9v2M45 1v1M45 3v1M45 11v1M45 15v1M45 21v4M46 -3v4M46 4v1M46 6v1M46 10v1M46 14v1M46 18v1M47 6v1M47 9v1M47 14v1M47 21v4M48 5v1M48 8v1M48 19v1M49 8v1M49 13v1M49 15v1M50 7v1M50 10v1M50 19v1M51 6v1M52 2v1M52 5v1M52 13v1M53 9v1M55 6v1M55 19v1M56 2v1M56 6v1M56 11v1M56 15v1M56 19v1M56 21v4M57 -3v6M57 4v2M57 19v1M58 12v1M59 9v1M59 12v1M59 17v1M59 20v1M60 3v1M60 9v1M61 8v1M61 12v1M62 -3v4M63 -3v5M63 4v1M63 10v3M65 12v1M66 6v2M67 -3v4M67 4v1M67 20v1M68 -3v4M68 6v1M68 12v1M68 20v1M69 19v1M70 6v1M71 8v2M71 19v1M73 2v1M73 7v1M73 21v4M74 18v1M74 20v1M75 11v1M75 13v1M75 19v2M76 -3v5M76 3v1M76 12v2M77 5v1M77 11v2M78 -3v4M78 3v1M78 9v1M80 2v1M80 8v1M81 -3v4M81 3v1M81 5v1M81 13v2M81 17v1M82 6v1M83 -3v4M83 15v1M84 19v1M85 13v1M86 13v1M87 1v1M87 18v1M87 20v1M88 8v1M88 12v1M88 18v1M89 -3v4M89 14v1M89 18v1M89 20v5M90 18v7M91 -3v4M91 21v4M92 12v1M92 21v4M93 2v1M93 7v1M93 20v1M94 12v1M95 1v1M95 6v1M95 8v2M95 15v1M95 19v1M95 21v4M97 9v1M97 15v1M97 17v2M98 16v1M99 21v4M100 -3v4M100 2v1M100 9v1M100 11v1M101 11v1M101 18v1M102 7v1M102 11v1M102 13v1M102 17v2M103 13v1M103 15v1M103 20v1M105 -3v4M105 3v1M105 20v1M107 -3v4M107 10v1M107 14v1M107 20v1M108 17v1M108 19v1M109 11v1M109 14v2M109 18v1M109 21v4M110 15v1M111 2v1M111 20v5M112 2v1M112 20v5"/><path stroke="#7d7d7d" d="M1 13v1M2 19v1M3 19v1M3 21v4M5 12v2M5 19v1M6 21v4M7 10v1M7 15v1M7 19v1M8 2v1M8 8v1M8 13v2M8 19v1M9 16v1M10 7v1M11 13v1M12 7v1M12 14v1M13 3v1M14 2v1M14 11v1M14 14v1M15 1v1M15 11v2M15 18v1M16 10v1M16 12v1M17 2v1M17 6v1M17 13v1M17 15v1M19 -3v4M19 2v1M19 12v1M20 10v3M20 17v1M21 7v1M21 9v1M21 11v1M22 5v1M22 9v1M24 1v1M24 8v1M25 -3v4M25 8v1M26 10v1M26 15v1M27 13v1M27 19v1M28 20v5M29 5v1M30 9v1M30 18v1M30 20v5M31 8v1M31 11v1M31 15v1M32 13v1M33 1v1M33 5v2M33 8v2M33 21v4M34 13v1M35 6v1M35 10v1M35 15v1M35 21v4M37 1v1M37 13v1M37 18v1M38 5v1M38 9v1M38 13v1M40 1v1M40 19v1M41 4v1M41 11v1M41 14v1M41 18v1M42 4v1M42 8v2M42 12v1M42 19v1M43 10v1M44 8v1M44 14v1M45 2v1M45 5v1M46 20v5M47 3v1M47 12v1M49 2v1M49 14v1M49 19v1M50 14v1M51 2v1M51 4v1M51 9v2M52 1v1M52 4v1M53 3v1M53 5v1M53 12v1M53 17v1M53 21v4M54 3v1M54 14v1M55 4v2M55 20v1M56 3v3M56 18v1M57 3v1M57 8v1M57 13v1M58 1v2M58 7v1M58 14v1M58 21v4M59 6v1M59 10v1M59 13v1M59 19v1M60 2v1M60 5v2M60 14v2M60 18v1M60 20v1M61 9v2M62 13v1M62 18v1M63 13v1M63 19v2M64 11v1M64 13v1M64 17v1M65 5v1M65 9v1M65 13v1M65 20v1M66 8v1M66 10v1M66 21v4M67 5v1M67 9v1M68 1v1M68 7v1M68 9v2M69 6v1M69 8v2M70 8v1M70 16v1M70 19v1M71 4v1M71 6v1M72 -3v4M72 6v2M72 13v1M72 18v1M73 6v1M73 11v1M73 14v1M73 18v1M74 13v1M74 19v1M75 15v1M75 21v4M76 6v1M77 9v1M77 20v5M78 2v1M78 21v4M79 18v1M79 20v1M80 4v1M80 14v2M81 19v1M82 4v1M83 2v1M83 13v1M84 10v1M84 20v1M85 5v1M86 6v1M86 10v1M87 2v1M87 9v1M87 16v1M88 1v1M88 3v1M88 11v1M89 8v1M89 13v1M90 4v2M90 11v1M91 3v1M91 13v1M91 18v2M92 5v1M92 7v2M93 1v1M94 7v1M95 2v1M95 14v1M96 -3v4M96 11v1M96 20v1M97 -3v4M97 10v1M97 19v1M98 1v1M98 7v1M98 10v2M98 13v1M98 20v1M99 4v1M99 7v1M100 7v2M100 10v1M100 21v4M101 -3v4M101 8v1M101 14v1M101 19v1M102 2v1M102 21v4M103 1v1M103 9v1M106 -3v4M106 2v1M106 10v1M106 12v2M106 18v1M106 20v1M107 1v1M107 15v1M108 1v1M108 8v1M108 21v4M109 1v1M109 19v2M110 -3v4M110 2v1M111 3v1M111 7v1M112 3v1M112 7v1"/><path stroke="#828282" d="M-1 12v1M-1 14v1M-1 19v1M0 12v1M0 14v1M0 19v1M4 1v1M4 20v1M6 14v1M6 18v1M7 21v4M8 12v1M8 16v1M9 -3v4M9 13v1M9 18v1M10 14v1M10 17v1M12 -3v4M13 2v1M13 14v1M13 18v1M14 5v1M14 17v1M15 14v1M15 20v1M16 6v1M16 11v1M16 13v1M16 19v1M17 7v1M17 9v1M17 14v1M17 21v4M18 7v1M19 9v1M19 21v4M20 14v1M21 13v1M22 -3v4M22 8v1M23 14v2M23 19v1M24 4v1M26 -3v4M27 2v1M27 8v1M28 3v1M28 13v1M29 20v1M30 11v1M30 13v1M32 -3v4M32 8v1M32 11v1M32 20v1M33 3v1M33 7v1M33 19v2M34 2v1M34 4v1M34 19v1M35 14v1M36 4v1M36 11v1M36 13v1M36 19v1M37 14v1M37 17v1M37 19v1M38 12v1M38 14v1M39 2v1M39 13v1M39 19v1M40 -3v4M40 11v1M40 21v4M41 -3v4M41 21v4M43 1v1M43 8v1M43 18v1M44 3v1M44 12v1M45 4v1M48 20v1M49 5v1M49 9v1M50 9v1M51 3v1M51 11v1M51 14v1M51 20v1M52 11v1M53 6v1M53 10v1M53 18v1M54 2v1M54 12v1M55 2v1M56 -3v4M57 12v1M58 4v2M58 11v1M58 19v2M59 3v1M59 21v4M60 7v1M60 11v1M60 19v1M61 2v2M61 6v2M62 4v1M62 11v1M62 14v1M64 21v4M65 -3v4M66 14v1M66 18v1M67 6v1M68 4v1M68 21v4M69 3v1M70 13v1M71 3v1M71 21v4M72 14v1M73 9v1M74 5v1M74 9v1M74 15v1M75 -3v4M75 5v1M75 7v1M76 5v1M76 9v1M76 17v1M76 21v4M78 6v1M78 11v2M78 15v1M78 20v1M79 3v1M79 7v1M79 9v1M79 12v1M79 19v1M80 3v1M80 5v1M80 21v4M81 2v1M81 7v1M81 18v1M81 20v1M82 9v1M82 19v1M83 1v1M83 7v1M84 14v1M85 4v1M86 1v1M87 14v1M87 17v1M88 -3v4M88 6v1M89 5v1M90 2v1M90 8v1M93 11v1M93 13v1M94 2v1M96 21v4M98 3v1M99 2v2M99 8v1M99 13v2M100 12v1M102 9v1M102 12v1M102 15v1M102 20v1M103 -3v4M103 14v1M104 19v1M105 9v1M106 15v1M107 7v1M107 13v1M108 2v1M108 15v1M109 -3v4M109 12v1M110 10v1M110 12v1M110 21v4M111 1v1M111 12v1M112 1v1M112 12v1"/><path stroke="#868686" d="M1 18v1M2 14v1M3 2v1M3 20v1M4 12v1M4 15v1M4 21v4M5 -3v4M5 6v1M5 15v1M5 21v4M6 9v1M7 -3v4M8 1v1M8 20v1M9 2v1M9 11v1M9 14v2M10 -3v4M10 10v1M10 19v1M11 1v1M11 19v1M12 10v1M13 1v1M13 12v1M14 3v2M14 7v1M14 20v1M15 8v1M16 2v1M18 3v1M18 12v1M18 21v4M19 11v1M19 13v2M19 20v1M20 15v1M20 20v1M21 1v1M23 20v1M24 5v2M25 7v1M25 13v1M26 11v2M28 2v1M28 14v1M29 3v2M30 10v1M31 -3v4M31 13v1M31 20v1M34 12v1M34 20v1M35 4v1M35 11v1M36 10v1M36 18v1M38 4v1M38 10v1M39 5v2M39 8v1M40 8v1M40 13v1M41 12v1M42 16v1M42 18v1M42 21v4M44 6v2M44 19v1M45 7v1M47 2v1M48 1v1M48 10v1M49 6v1M49 12v1M50 8v1M50 12v1M51 8v1M51 19v1M52 8v1M53 2v1M53 11v1M54 9v1M54 20v1M55 8v1M57 11v1M59 1v1M59 11v1M59 15v1M60 1v1M64 4v1M65 3v1M65 8v1M65 11v1M65 17v2M66 11v1M68 5v1M69 13v1M70 -3v4M70 3v1M70 10v1M70 20v1M72 2v1M73 -3v4M73 8v1M73 19v1M74 6v1M75 8v2M76 11v1M76 14v1M77 -3v5M78 8v1M78 10v1M79 4v1M79 14v1M80 9v1M81 15v1M83 3v1M83 9v1M83 18v1M84 3v1M84 11v1M84 13v1M85 2v1M85 10v1M85 19v1M86 12v1M87 12v1M88 5v1M88 9v1M90 3v1M90 7v1M91 8v1M92 4v1M93 12v1M94 10v1M96 3v1M97 11v1M98 14v1M99 10v1M100 14v1M102 16v1M103 11v2M103 21v4M104 1v1M106 14v1M109 13v1M110 13v1M111 10v1M112 10v1"/><path stroke="#8a8a8a" d="M1 -3v4M1 14v1M4 18v1M5 7v1M6 10v1M7 1v1M9 1v1M9 10v1M9 12v1M10 2v1M10 12v1M10 20v1M11 2v1M16 9v1M16 15v1M17 4v1M17 18v1M20 7v1M22 12v1M23 6v2M24 11v2M24 15v1M26 7v1M27 9v1M27 20v5M28 12v1M29 1v2M29 12v1M31 2v1M32 7v1M32 9v1M33 2v1M33 4v1M33 13v1M34 9v1M34 14v1M35 8v2M35 12v1M36 -3v4M36 9v1M37 2v1M37 8v1M37 12v1M38 8v1M38 19v1M42 6v1M46 3v1M46 13v1M50 21v4M52 7v1M53 4v1M54 8v1M55 1v1M55 9v1M55 13v1M59 2v1M59 8v1M61 1v1M61 14v1M62 3v1M64 7v1M64 20v1M66 13v1M66 19v1M67 19v1M68 3v1M70 4v1M70 15v1M71 -3v4M72 12v1M74 8v1M77 3v1M77 7v1M77 10v1M77 14v1M80 7v1M81 4v1M81 8v1M81 21v4M82 3v1M84 4v1M84 6v1M85 20v1M86 4v2M86 9v1M86 14v1M87 4v1M87 11v1M87 13v1M88 7v1M89 3v1M89 12v1M91 4v1M91 6v1M92 14v1M93 10v1M94 13v1M95 13v1M96 6v1M96 8v1M96 10v1M96 13v1M97 7v1M98 19v1M99 -3v4M99 15v1M101 1v1M102 1v1M105 12v1M110 9v1"/><path stroke="#8e8e8e" d="M1 20v1M2 20v1M5 10v1M7 9v1M7 14v1M8 -3v4M9 9v1M14 9v1M15 10v1M18 2v1M18 5v1M18 9v1M19 1v1M19 15v1M19 19v1M20 2v1M21 10v1M22 7v1M22 10v1M24 21v4M25 1v1M27 12v1M29 19v1M30 12v1M32 2v1M34 1v1M40 7v1M44 -3v5M46 5v1M48 2v1M49 10v1M51 7v1M54 13v1M58 3v1M61 4v1M61 11v1M61 20v1M62 12v1M64 8v1M66 5v1M67 1v1M67 13v2M68 19v1M69 10v1M71 12v1M72 10v2M73 13v1M77 6v1M79 11v1M81 12v1M82 13v1M83 19v1M85 7v1M85 9v1M85 14v1M86 -3v4M86 19v2M87 6v1M87 8v1M89 11v1M89 19v1M91 11v1M92 6v1M93 6v1M95 10v1M96 12v1M97 16v1M106 11v1M108 12v1"/><path stroke="#929292" d="M2 -3v4M5 18v1M8 9v1M10 8v1M10 13v1M11 8v2M12 2v1M17 1v1M19 7v1M20 5v1M21 12v1M21 20v1M23 10v2M25 2v1M25 12v1M26 9v1M26 13v1M27 11v1M28 5v1M28 11v1M29 18v1M30 7v1M31 1v1M31 4v1M36 3v1M36 12v1M37 3v1M43 2v1M43 21v4M54 -3v4M56 14v1M66 3v1M74 -3v4M74 3v2M75 10v1M82 1v1M82 5v1M83 6v1M84 2v1M85 12v1M86 8v1M87 -3v4M87 3v1M87 7v1M88 19v1M90 6v1M93 9v1M95 7v1M97 8v1M98 15v1M107 21v4M111 11v1M112 11v1"/><path stroke="#969696" d="M9 8v1M10 9v1M12 9v1M13 8v1M18 6v1M19 6v1M20 6v1M20 16v1M23 9v1M25 9v1M26 2v1M27 5v1M28 1v1M30 2v1M30 6v1M31 6v1M32 3v1M55 12v1M55 14v1M74 7v1M75 4v1M76 7v1M77 8v1M80 11v1M81 1v1M81 11v1M82 11v2M83 5v1M86 3v1M87 10v1M90 13v1M94 6v1M97 13v1M98 -3v4M109 2v1"/><path stroke="#9a9a9a" d="M2 2v1M10 1v1M13 10v1M14 10v1M15 5v1M16 5v1M18 4v1M19 5v1M20 4v1M24 13v1M27 6v1M29 13v1M30 1v1M31 3v1M31 7v1M36 2v1M47 1v1M58 6v1M59 14v1M76 8v1M80 12v1M80 18v1M82 8v1M87 19v1M88 4v1M89 4v1M89 6v1M92 9v1M92 11v1"/><path stroke="#9e9e9e" d="M13 9v1M14 8v1M16 4v1M20 1v1M23 13v1M24 9v2M25 10v1M26 17v1M29 7v1M30 4v1M32 4v1M56 8v1M79 8v1M79 10v1M82 10v1M83 10v1M84 5v1M84 12v1M85 3v1"/><path stroke="#a2a2a2" d="M12 8v1M16 7v1M25 6v1M25 15v1M28 6v1M35 3v1M67 7v1M80 10v1M86 7v1M91 9v1"/><path stroke="#a6a6a6" d="M21 5v1M26 6v1M29 6v1M34 3v1M83 8v1M89 9v1M90 9v1M92 10v1"/><path stroke="#aaa" d="M15 7v1M22 6v1M23 12v1M27 7v1M30 3v1M85 8v1"/><path stroke="#aeaeae" d="M19 4v1M21 6v1M83 12v1"/><path stroke="#b2b2b2" d="M15 4v1"/><path stroke="#b6b6b6" d="M28 7v1M83 11v1M88 10v1"/><path stroke="#bababa" d="M84 8v1M91 10v1"/><path stroke="#bebebe" d="M81 10v1"/><path stroke="#c2c2c2" d="M90 10v1"/><path stroke="#e3e3e3" d="M89 10v1"/></g></g></svg>
<text x="72.3" y="195.4" font-size="4.08" text-anchor="middle" fill="#262626">dVTEC VR1 1h (10E 10N)</text>
<text x="14.6" y="227.15" font-size="3.4" text-anchor="end" fill="#262626">0</text>
<text x="14.6" y="214.921" font-size="3.4" text-anchor="end" fill="#262626">10</text>
<text x="14.6" y="202.692" font-size="3.4" text-anchor="end" fill="#262626">20</text>
<text x="31.4247" y="230.35" font-size="3.42" text-anchor="middle" fill="#262626">50</text>
<text x="46.8493" y="230.35" font-size="3.42" text-anchor="middle" fill="#262626">100</text>
<text x="62.274" y="230.35" font-size="3.42" text-anchor="middle" fill="#262626">150</text>
<text x="77.6986" y="230.35" font-size="3.42" text-anchor="middle" fill="#262626">200</text>
<text x="93.1233" y="230.35" font-size="3.42" text-anchor="middle" fill="#262626">250</text>
<text x="108.548" y="230.35" font-size="3.42" text-anchor="middle" fill="#262626">300</text>
<text x="123.973" y="230.35" font-size="3.42" text-anchor="middle" fill="#262626">350</text>
<text x="72.3" y="234.3" font-size="3.45" text-anchor="middle" fill="#262626">Days</text>
<svg x="141.3" y="197.5" width="112.1" height="29.35" viewBox="0 0 112 29" preserveAspectRatio="none" stroke-width="1.04" fill="none"><g filter="url(#f3)"><rect x="-4" y="-4" width="120" height="37" fill="#828282"/><g transform="translate(.5)"><path stroke="#757575" d="M23 14v1"/><path stroke="#797979" d="M2 9v1M4 5v1M6 11v1M6 22v1M7 23v1M7 28v4M9 22v1M11 23v1M12 7v1M13 10v1M17 19v1M18 11v1M18 20v1M20 26v1M21 7v1M22 22v1M24 10v1M25 8v1M25 28v4M26 13v1M29 24v1M33 3v1M34 19v1M35 -3v4M36 27v1M37 8v1M37 14v1M40 10v1M41 20v1M42 26v1M43 12v1M43 21v1M44 22v1M46 21v1M48 25v1M50 8v1M52 26v1M54 14v1M54 24v1M58 11v1M58 26v1M59 2v1M59 16v1M60 16v1M60 18v1M62 21v1M63 7v1M63 10v1M65 15v1M66 -3v4M67 2v1M67 8v1M71 16v1M73 3v1M73 10v1M73 13v2M73 26v1M76 -3v4M76 25v1M76 28v4M77 18v1M80 12v1M81 8v1M82 2v1M83 21v1M84 6v1M84 8v1M85 22v1M85 24v1M86 1v1M86 5v1M87 3v1M87 28v4M89 1v1M89 5v1M91 -3v4M91 19v1M92 8v1M93 1v1M95 25v1M97 6v1M98 10v1M99 23v1M100 7v1M100 13v1M100 26v1M101 19v1M102 11v1M104 5v1M104 12v1M105 11v1M107 16v1"/><path stroke="#7d7d7d" d="M-1 1v1M-1 4v2M-1 7v2M-1 12v1M-1 15v2M-1 25v2M-1 28v4M0 1v1M0 4v2M0 7v2M0 12v1M0 15v2M0 25v2M0 28v4M1 2v1M1 4v3M1 8v2M1 12v1M1 14v5M1 20v1M1 23v9M2 2v1M2 6v3M2 12v1M2 14v1M2 17v2M2 20v3M2 25v1M3 1v3M3 10v2M3 15v1M3 17v1M3 24v1M3 27v1M4 3v1M4 9v1M4 12v1M4 14v4M4 19v2M4 23v1M4 27v5M5 -3v4M5 3v2M5 8v2M5 11v2M5 15v1M5 20v1M5 23v3M6 7v1M6 12v3M6 16v2M6 20v1M7 7v1M7 13v1M7 18v1M7 20v1M8 3v1M8 5v2M8 8v1M8 10v2M8 19v2M8 22v1M8 25v1M8 27v1M9 -3v5M9 7v1M9 10v1M9 14v5M9 23v1M9 25v1M10 -3v4M10 7v2M10 13v2M10 19v1M10 21v1M10 23v2M11 -3v4M11 3v1M11 7v1M11 11v1M11 18v2M11 26v1M12 2v1M12 6v1M12 8v2M12 15v1M12 17v3M12 21v2M12 24v2M12 28v4M13 3v1M13 5v1M13 8v1M13 14v4M13 26v1M14 3v1M14 10v2M14 15v2M14 18v1M14 22v4M14 28v4M15 1v1M15 3v1M15 5v1M15 7v1M15 10v1M15 15v2M15 19v3M15 25v1M15 28v4M16 1v1M16 7v1M16 13v1M16 16v1M16 19v1M16 22v5M17 1v6M17 10v1M17 12v2M17 20v1M17 24v4M18 -3v7M18 5v1M18 12v6M18 21v1M18 23v2M18 27v1M19 2v1M19 7v1M19 9v2M19 16v4M19 26v1M20 -3v4M20 5v3M20 9v1M20 11v1M20 13v1M20 16v1M20 21v2M20 24v1M21 1v1M21 8v2M21 11v2M21 15v3M21 19v3M21 23v2M21 26v1M21 28v4M22 1v1M22 3v4M22 13v1M22 17v1M22 19v1M22 24v2M23 3v2M23 6v1M23 8v1M23 10v1M23 13v1M23 15v4M23 21v1M24 2v1M24 8v1M24 12v1M24 14v1M24 16v1M24 18v1M24 27v1M25 3v1M25 15v1M25 17v1M25 25v1M26 1v3M26 7v1M26 10v1M26 14v1M26 17v1M27 7v1M27 13v1M27 20v1M27 22v1M27 25v1M27 27v1M28 3v2M28 6v1M28 9v1M28 11v1M28 13v1M28 15v2M28 19v2M28 23v2M28 26v6M29 1v1M29 3v1M29 7v1M29 11v1M29 15v1M29 19v2M29 22v2M29 26v1M30 -3v4M30 4v4M30 18v1M30 20v1M30 22v1M30 26v1M30 28v4M31 -3v5M31 10v1M31 12v1M31 18v1M31 27v1M32 2v1M32 5v1M32 7v2M32 10v1M32 21v1M32 23v2M32 26v6M33 2v1M33 6v2M33 9v1M33 11v2M33 18v3M33 25v1M33 27v1M34 10v3M34 17v2M34 20v3M34 24v1M34 26v1M35 3v1M35 5v1M35 9v2M35 13v1M35 27v1M36 -3v5M36 3v5M36 11v1M36 13v5M36 20v1M37 2v1M37 5v1M37 9v2M37 12v2M37 15v1M37 17v1M37 21v1M37 23v4M38 -3v4M38 2v1M38 9v2M38 13v1M38 16v4M38 21v1M38 23v2M38 27v1M39 -3v4M39 3v4M39 9v1M39 11v1M39 13v1M39 16v2M39 19v2M39 22v1M39 24v3M40 1v1M40 9v1M40 11v1M40 24v2M40 27v1M41 2v2M41 5v1M41 11v1M41 13v1M41 15v4M41 28v4M42 3v2M42 6v1M42 12v2M42 16v1M42 18v2M42 21v2M43 -3v5M43 3v1M43 7v1M43 10v1M43 13v1M43 17v1M43 23v1M43 25v7M44 -3v4M44 2v1M44 9v1M44 17v3M44 21v1M44 23v1M44 26v1M45 1v2M45 5v2M45 10v2M45 13v2M45 17v1M45 25v2M45 28v4M46 3v1M46 6v1M46 13v1M46 18v3M46 23v1M46 26v6M47 -3v4M47 2v4M47 7v1M47 9v3M47 13v2M47 17v4M47 24v2M47 27v1M48 -3v4M48 6v1M48 12v2M48 15v1M48 17v1M48 20v2M49 -3v5M49 9v1M49 12v1M49 15v1M49 18v1M49 20v2M49 28v4M50 2v1M50 6v1M50 10v3M50 18v1M51 2v1M51 5v1M51 7v1M51 9v2M51 13v2M51 20v3M52 3v2M52 6v1M52 8v1M52 11v2M52 14v1M52 21v1M52 24v1M53 1v1M53 3v2M53 14v1M53 16v1M53 21v1M53 24v1M54 -3v4M54 3v1M54 5v1M54 9v3M54 16v1M54 18v2M54 26v2M55 1v1M55 12v1M55 19v1M55 23v1M55 25v2M56 4v2M56 8v2M56 13v1M56 15v1M56 21v1M56 23v2M56 26v1M56 28v4M57 5v2M57 8v1M57 10v1M57 12v1M57 14v2M57 19v1M57 21v3M57 25v1M57 28v4M58 3v2M58 7v1M58 9v2M58 18v2M58 23v2M58 28v4M59 9v1M59 12v1M59 22v1M60 -3v5M60 14v2M60 19v1M60 22v3M60 28v4M61 -3v5M61 5v1M61 9v1M61 11v1M61 14v1M61 16v1M61 18v3M61 22v2M62 3v1M62 9v3M62 19v2M62 22v1M62 28v4M63 4v3M63 13v1M63 16v2M63 22v3M63 26v1M64 -3v11M64 9v5M64 19v2M64 22v2M64 26v1M65 2v1M65 11v1M65 13v1M65 17v2M65 20v1M65 26v1M65 28v4M66 6v1M66 9v2M66 14v3M66 18v2M66 26v1M67 -3v4M67 5v2M67 13v1M67 17v1M67 20v1M67 23v1M68 5v5M68 11v2M68 17v1M68 20v1M69 1v1M69 9v1M69 17v1M69 19v1M69 22v3M70 -3v4M70 2v2M70 6v1M70 8v1M70 16v1M70 20v1M70 23v1M70 26v1M71 2v4M71 7v1M71 9v1M71 14v1M71 17v1M71 21v1M72 9v3M72 13v3M72 21v1M72 27v1M73 -3v4M73 2v1M73 4v1M73 6v1M73 15v2M73 18v1M73 25v1M73 28v4M74 -3v4M74 4v1M74 9v1M74 14v1M74 16v2M74 20v1M74 27v5M75 1v1M75 3v1M75 5v2M75 8v2M75 11v2M75 15v1M75 20v2M75 23v2M76 3v1M76 6v1M76 8v3M76 12v2M76 19v1M76 21v1M76 24v1M77 3v1M77 5v1M77 8v1M77 10v1M77 15v3M77 19v1M77 22v1M77 27v5M78 1v1M78 6v2M78 10v1M78 14v1M78 17v2M78 22v1M78 24v2M78 28v4M79 -3v6M79 11v1M79 16v2M79 22v2M79 25v2M80 9v3M80 16v1M80 18v1M80 20v1M80 23v1M80 25v1M80 27v1M81 4v1M81 9v2M81 12v1M81 18v1M81 20v1M81 25v1M82 1v1M82 4v5M82 12v2M82 18v2M82 21v2M82 25v1M83 4v1M83 6v2M83 11v1M83 13v3M83 19v2M83 25v2M83 28v4M84 3v3M84 7v1M84 10v1M84 12v1M84 15v1M84 17v2M84 25v1M84 28v4M85 -3v4M85 2v3M85 9v2M85 16v1M85 19v1M85 26v1M85 28v4M86 -3v4M86 3v2M86 9v1M86 12v2M86 16v1M86 19v2M86 23v1M86 25v1M86 27v1M87 1v1M87 4v2M87 9v1M87 12v1M87 15v1M87 17v1M87 20v1M87 22v1M87 24v1M87 26v2M88 3v1M88 7v2M88 15v2M88 26v1M89 -3v4M89 3v1M89 6v1M89 10v1M89 14v1M89 16v1M89 18v2M89 21v1M89 23v1M90 2v1M90 4v2M90 7v1M90 10v1M90 15v3M90 20v2M90 25v7M91 4v1M91 6v2M91 13v2M91 18v1M91 20v2M91 25v1M91 27v1M92 -3v5M92 4v4M92 9v1M92 16v1M92 20v3M92 24v3M92 28v4M93 3v5M93 9v1M93 11v2M93 17v1M93 23v2M93 26v1M94 1v2M94 10v1M94 14v4M94 19v1M94 25v2M95 10v1M95 12v1M95 16v2M95 22v1M95 26v1M96 -3v4M96 4v1M96 8v1M96 12v1M96 16v6M96 23v2M97 -3v4M97 2v1M97 5v1M97 9v2M97 12v1M97 14v2M97 20v1M97 28v4M98 -3v4M98 3v1M98 8v1M98 11v1M98 14v2M98 19v1M98 21v1M98 25v1M98 27v5M99 -3v6M99 4v1M99 8v2M99 24v1M99 28v4M100 3v1M100 5v2M100 10v2M100 14v2M100 18v2M100 22v2M100 28v4M101 1v1M101 4v1M101 8v1M101 11v2M101 15v4M101 24v1M102 2v1M102 4v1M102 7v1M102 9v2M102 14v1M102 19v1M103 4v1M103 6v2M103 11v4M103 17v1M103 19v1M103 21v1M103 26v1M104 -3v4M104 6v1M104 8v3M104 13v1M104 20v1M104 24v1M104 27v1M105 1v3M105 5v6M105 13v1M105 19v3M106 -3v4M106 5v1M106 8v1M106 18v1M106 21v2M106 26v1M107 3v1M107 9v1M107 14v1M107 17v1M107 25v1M107 28v4M108 3v1M108 12v1M108 17v1M108 19v1M108 25v3M109 1v1M109 8v3M109 14v1M109 17v1M109 19v2M109 22v1M109 27v1M110 3v1M110 5v2M110 10v1M110 12v1M110 18v2M110 21v2M110 27v5M111 -3v4M111 4v1M111 12v1M111 14v1M111 17v1M111 22v2M111 25v1M111 28v4M112 -3v4M112 4v1M112 12v1M112 14v1M112 17v1M112 22v2M112 25v1M112 28v4"/><path stroke="#868686" d="M-1 9v2M-1 27v1M0 9v2M0 27v1M2 15v1M3 19v2M3 22v1M4 1v2M4 26v1M5 6v1M5 13v1M5 19v1M5 22v1M5 27v1M6 5v1M6 9v1M7 6v1M7 11v1M7 21v1M8 2v1M8 9v1M8 14v1M8 17v1M9 9v1M9 21v1M10 1v1M10 20v1M11 17v1M11 27v1M12 16v1M13 2v1M13 9v1M13 12v1M13 23v1M13 25v1M14 7v1M14 12v2M14 27v1M15 23v1M16 2v1M16 6v1M16 18v1M16 28v4M17 8v1M17 15v1M18 6v1M18 25v1M18 28v4M19 5v1M20 1v2M20 10v1M20 12v1M20 23v1M21 14v1M22 14v1M22 21v1M22 28v4M23 2v1M23 5v1M23 12v1M23 24v1M24 17v1M25 2v1M25 18v1M25 27v1M26 5v1M26 11v1M27 10v1M27 14v1M28 18v1M28 21v1M29 8v2M30 9v1M30 13v1M31 4v1M31 23v2M32 -3v4M32 4v1M32 22v1M32 25v1M33 13v1M33 16v1M33 22v3M34 7v1M34 27v1M35 6v1M35 22v1M35 25v1M35 28v4M36 9v1M36 12v1M36 25v1M37 7v1M38 11v1M38 28v4M39 1v1M39 27v5M41 7v1M41 14v1M41 19v1M41 24v1M42 7v1M42 11v1M42 17v1M43 2v1M43 9v1M43 20v1M44 5v1M44 12v1M44 28v4M45 7v1M45 24v1M46 8v2M46 22v1M48 1v1M48 3v1M48 10v2M49 4v1M49 6v1M49 8v1M49 13v1M50 9v1M50 15v1M50 25v1M51 6v1M51 11v1M51 15v2M51 24v1M52 16v2M52 22v1M53 10v1M53 18v1M54 1v1M54 15v1M54 17v1M55 -3v4M55 6v1M55 17v1M56 10v1M56 27v1M57 3v1M58 5v1M58 15v1M58 22v1M58 27v1M59 3v1M59 7v1M59 11v1M59 14v1M59 28v4M60 7v2M60 11v1M61 3v1M61 6v1M62 5v1M62 12v2M62 15v1M62 23v1M62 27v1M63 -3v4M63 28v4M64 8v1M65 9v1M66 20v1M66 28v4M67 16v1M67 27v5M68 16v1M69 7v1M69 10v1M70 21v1M71 1v1M71 6v1M71 26v1M71 28v4M72 1v1M72 4v1M72 17v1M73 9v1M73 19v1M73 27v1M74 1v1M74 11v1M74 26v1M75 16v1M75 19v1M75 28v4M76 17v2M77 -3v4M77 7v1M77 12v2M77 26v1M78 13v1M78 23v1M79 3v1M79 7v1M79 12v1M79 24v1M80 17v1M80 19v1M80 21v1M81 22v1M82 3v1M82 28v4M83 2v1M84 2v1M84 11v1M86 17v1M87 -3v4M87 19v1M88 12v2M88 22v1M88 24v2M89 7v2M89 25v1M89 28v4M90 -3v4M90 12v1M90 19v1M90 23v1M91 16v1M92 10v1M92 12v1M92 14v1M93 22v1M94 8v1M94 12v1M94 28v4M95 1v1M95 8v1M95 19v1M96 1v1M96 6v2M96 10v1M97 4v1M97 13v1M98 12v1M99 14v1M99 16v2M99 21v1M100 12v1M100 20v1M101 2v1M101 27v1M102 6v1M102 12v2M102 16v1M102 22v1M102 27v1M103 -3v4M103 15v1M103 24v1M104 3v1M104 11v1M104 16v1M105 4v1M106 10v1M106 28v4M107 -3v4M107 15v1M107 19v1M108 13v1M108 21v2M109 6v1M109 11v1M109 15v1M109 25v1M110 7v1M110 14v1M111 2v1M111 9v2M111 19v1M112 2v1M112 9v2M112 19v1"/><path stroke="#8a8a8a" d="M13 24v1M31 9v1M46 12v1M47 8v1M48 5v1M55 16v1M56 3v1M73 11v1M83 12v1"/></g></g><path stroke="#b52a08" stroke-width=".75" stroke-opacity=".36" d="M26.8 1.0v1.2M97.4 2.6v0.8M92.6 12.9v1.8M74.4 4.3v2.6M73.5 7.2v1.8M103.4 12.1v2.6M14.1 6.9v1.2M35.7 12.8v2.6M109.2 4.5v0.8M107.7 15.8v0.8M104.2 6.0v1.2M72.9 18.1v0.8M96.8 1.0v0.8M90.6 14.3v1.2M84.6 0.2v0.8M11.4 4.9v1.2M81.2 8.5v2.6M108.2 2.1v1.2M20.2 4.9v0.8M9.0 9.9v2.6M31.1 8.8v0.8M56.7 5.1v1.8M39.8 10.7v1.8M23.4 2.2v1.2M84.4 2.8v1.2M40.7 3.1v0.8M85.0 10.4v1.8M86.6 13.9v1.8M18.0 1.4v2.6M91.0 13.4v1.8M102.8 10.0v2.6M51.9 13.3v1.8M6.9 6.6v1.2M73.0 15.6v1.8M95.2 0.5v2.6M37.0 10.9v2.6M22.9 17.7v0.8M78.1 4.5v1.8M3.3 4.6v1.8M19.5 11.3v1.8"/><path stroke="#1838c8" stroke-width=".75" stroke-opacity=".36" d="M72.8 3.0v0.8M32.9 5.8v1.8M36.2 12.0v0.8M91.9 10.0v2.6M38.7 1.9v2.6M96.6 6.4v1.2M86.6 0.2v0.8M64.3 11.1v0.8M77.2 5.3v1.8M84.4 14.2v1.2M13.5 7.0v1.8M7.3 7.7v0.8M87.8 10.5v1.2M87.7 15.2v2.6M84.4 1.9v0.8M111.1 5.6v2.6M9.7 23.0v1.8M90.9 4.5v1.8M38.1 15.8v1.8M39.2 5.3v1.8M21.6 1.1v0.8M44.1 8.2v2.6M91.7 6.5v2.6M84.9 4.9v1.8M94.3 13.0v1.2M31.7 2.3v0.8M26.4 13.0v0.8M33.2 7.9v1.8M60.1 20.1v1.8M84.1 0.3v1.8M37.6 16.9v2.6M83.2 1.2v1.8M81.0 11.6v2.6M31.9 8.1v0.8M62.0 5.9v1.2M79.1 4.5v1.8M91.2 0.4v2.6M38.1 3.9v0.8M80.6 4.5v1.2M75.6 16.3v2.6M23.0 3.6v1.2M94.9 1.0v1.8M77.1 8.7v0.8M26.4 3.6v0.8M6.4 7.5v0.8M11.6 3.7v1.2M19.8 5.7v1.2M32.4 0.7v1.8M31.6 5.9v0.8"/><path stroke="#d89000" stroke-width=".75" stroke-opacity=".36" d="M73.6 2.1v2.6M45.9 0.3v1.2M5.9 22.7v1.2M93.3 13.0v1.2M10.8 8.8v1.8M98.1 6.0v1.8M5.4 13.5v1.8M79.6 2.5v1.8M18.4 0.0v1.8M56.5 1.0v0.8M107.1 7.2v1.2M22.8 10.7v0.8M100.8 10.0v0.8M77.4 3.7v0.8M35.2 5.0v1.2M54.7 12.3v0.8M51.9 0.8v0.8M63.7 16.8v1.8M27.4 4.7v2.6M97.9 6.1v0.8M94.4 18.3v1.2"/><path stroke="#10a0c0" stroke-width=".75" stroke-opacity=".36" d="M29.1 2.2v1.2M56.1 14.1v0.8M37.7 3.6v1.2M41.4 16.8v1.2M22.1 5.4v0.8M25.9 21.6v0.8M26.9 6.3v1.2M82.4 11.6v1.2M70.5 7.7v1.8M25.1 12.6v0.8M76.5 7.6v0.8M20.8 12.7v1.2M86.6 4.1v1.8M84.8 9.4v2.6M84.3 19.8v1.2M90.0 3.1v1.2M97.5 0.7v1.2M11.3 4.6v1.2M28.1 2.7v1.8M23.9 11.1v1.2"/></svg>
<text x="197.35" y="196.4" font-size="4.08" text-anchor="middle" fill="#262626">dVTEC VR1 diff  1h (10E 10N)</text>
<text x="139.9" y="228.15" font-size="3.4" text-anchor="end" fill="#262626">0</text>
<text x="139.9" y="215.921" font-size="3.4" text-anchor="end" fill="#262626">10</text>
<text x="139.9" y="203.692" font-size="3.4" text-anchor="end" fill="#262626">20</text>
<text x="156.656" y="231.35" font-size="3.42" text-anchor="middle" fill="#262626">50</text>
<text x="172.012" y="231.35" font-size="3.42" text-anchor="middle" fill="#262626">100</text>
<text x="187.368" y="231.35" font-size="3.42" text-anchor="middle" fill="#262626">150</text>
<text x="202.725" y="231.35" font-size="3.42" text-anchor="middle" fill="#262626">200</text>
<text x="218.081" y="231.35" font-size="3.42" text-anchor="middle" fill="#262626">250</text>
<text x="233.437" y="231.35" font-size="3.42" text-anchor="middle" fill="#262626">300</text>
<text x="248.793" y="231.35" font-size="3.42" text-anchor="middle" fill="#262626">350</text>
<text x="197.35" y="235.3" font-size="3.45" text-anchor="middle" fill="#262626">Days</text>
<rect x="260.2" y="197.5" width="1.9" height="29.35" fill="url(#jetg)"/>
<text x="263.6" y="223.258" font-size="3.42" text-anchor="start" fill="#262626">−5</text>
<text x="263.6" y="213.475" font-size="3.42" text-anchor="start" fill="#262626">0</text>
<text x="263.6" y="203.692" font-size="3.42" text-anchor="start" fill="#262626">5</text>
<text x="9.8" y="176.325" font-size="3.5" text-anchor="middle" fill="#262626" transform="rotate(-90 9.8 176.325)">Time (hours)</text>
<svg x="288" y="11.75" width="112.2" height="29.35" viewBox="0 0 112 15" preserveAspectRatio="none" stroke-width="1.04" fill="none"><g filter="url(#f4)"><rect x="-4" y="-4" width="120" height="23" fill="#757575"/><g transform="translate(.5)"><path stroke="#1c1c1c" d="M97 14v4M98 11v7M101 11v7M102 11v7M105 12v6"/><path stroke="#202020" d="M15 13v5M20 13v5M22 13v5M82 13v5M88 12v6M89 13v5M90 13v5M91 14v4M93 12v6M94 11v7M95 11v7M96 11v7M97 11v3M98 10v1M99 11v7M100 11v7M101 10v1M102 10v1M103 11v7M104 11v7M105 10v2M106 10v8M107 10v8M108 10v8M109 10v8M110 10v8M111 10v8M112 10v8"/><path stroke="#242424" d="M-1 11v7M0 11v7M1 11v7M2 11v7M3 11v7M4 11v7M5 12v6M6 12v6M7 12v6M8 12v6M9 12v6M10 12v6M11 12v6M12 12v6M13 13v5M14 12v6M15 12v1M16 13v5M17 13v5M18 13v5M19 13v5M21 13v5M23 13v5M24 14v4M25 14v4M76 14v4M77 14v4M78 14v4M79 14v4M80 14v4M81 13v5M82 12v1M83 13v5M84 13v5M85 13v5M86 12v6M87 12v6M89 12v1M90 12v1M91 12v2M92 12v6M93 11v1M97 -3v7M97 10v1M98 -3v8M99 -3v7M99 10v1M100 -3v7M100 10v1M101 -3v9M102 -3v8M103 10v1M104 10v1M105 -3v8M106 -3v7M109 -3v7"/><path stroke="#282828" d="M-1 10v1M0 10v1M5 11v1M6 11v1M7 11v1M8 11v1M9 11v1M10 11v1M13 12v1M16 12v1M17 12v1M18 12v1M19 12v1M20 12v1M22 12v1M24 13v1M26 14v4M27 14v4M74 14v4M75 14v4M77 13v1M78 13v1M79 13v1M80 13v1M83 12v1M84 12v1M85 12v1M88 11v1M90 11v1M91 11v1M92 11v1M93 -3v7M94 -3v7M95 -3v7M96 -3v7M96 10v1M97 4v1M99 4v1M100 4v1M101 9v1M102 5v1M102 9v1M103 -3v8M104 -3v9M105 5v1M105 9v1M106 4v2M106 9v1M107 -3v9M107 9v1M108 -3v9M108 9v1M109 4v2M109 9v1M110 -3v9M110 9v1M111 -3v9M111 9v1M112 -3v9M112 9v1"/><path stroke="#2d2d2d" d="M-1 -3v8M0 -3v8M1 -3v8M1 10v1M2 -3v8M2 10v1M3 -3v8M3 10v1M4 -3v7M4 10v1M11 11v1M12 11v1M13 11v1M14 11v1M15 11v1M21 12v1M25 13v1M76 13v1M77 -3v4M81 12v1M87 11v1M89 -3v5M89 11v1M90 -3v6M92 -3v6M93 4v1M93 10v1M94 4v1M94 10v1M95 4v1M96 4v1M98 5v1M99 5v1M100 5v1M100 9v1M103 5v1M103 9v1M104 9v1M109 6v1"/><path stroke="#313131" d="M-1 5v1M0 5v1M1 5v1M2 5v1M4 4v1M5 -3v8M5 10v1M6 -3v7M6 10v1M7 -3v8M7 10v1M8 -3v6M9 -3v6M15 -3v5M16 11v1M20 -3v4M22 -3v4M23 12v1M73 14v4M75 -3v4M76 -3v4M78 -3v4M79 -3v4M79 12v1M80 12v1M82 -3v5M86 11v1M88 -3v6M89 2v2M90 3v1M91 -3v7M92 3v1M95 10v1M97 5v1M98 9v1M99 9v1M101 6v1M102 6v1M105 6v1M106 6v1M107 6v1M108 6v1M110 6v1M111 6v1M112 6v1"/><path stroke="#353535" d="M3 5v1M4 5v1M6 4v1M8 3v1M8 10v1M9 3v1M9 10v1M10 -3v7M11 -3v7M12 -3v6M13 -3v6M14 -3v6M15 2v1M16 -3v5M17 -3v5M17 11v1M18 -3v5M19 -3v5M20 1v1M21 -3v4M23 -3v4M26 13v1M74 -3v4M75 13v1M77 1v1M78 1v1M79 1v1M80 -3v5M81 -3v5M82 2v1M83 -3v5M85 11v1M87 -3v6M88 3v1M92 4v1M92 10v1M96 5v1M97 9v1M103 6v1M104 6v1M109 8v1M110 8v1M111 8v1M112 8v1"/><path stroke="#393939" d="M-1 6v1M-1 9v1M0 6v1M0 9v1M5 5v1M8 4v1M9 4v1M10 10v1M12 3v1M13 3v1M15 3v1M16 2v1M17 2v1M18 2v1M18 11v1M19 11v1M20 11v1M21 1v1M22 1v1M24 -3v4M24 12v1M25 -3v4M27 13v1M28 14v4M74 13v1M76 1v1M77 12v1M78 12v1M81 2v1M82 11v1M83 2v1M84 -3v5M84 11v1M85 -3v6M86 -3v6M87 3v1M89 4v1M90 4v1M91 4v1M91 10v1M94 5v1M95 5v1M98 6v1M99 6v1M100 6v1M101 8v1M102 8v1M105 8v1M106 8v1M107 8v1M108 7v2M109 7v1M110 7v1M111 7v1M112 7v1"/><path stroke="#3d3d3d" d="M1 6v1M1 9v1M2 6v1M2 9v1M3 9v1M6 5v1M7 5v1M10 4v1M11 4v1M11 10v1M12 10v1M14 3v1M19 2v1M20 2v1M22 11v1M25 12v1M72 14v4M79 2v1M80 2v1M82 3v1M83 11v1M84 2v1M85 3v1M86 3v1M88 4v1M93 5v1M96 9v1M101 7v1M102 7v1M103 8v1M104 8v1M105 7v1M106 7v1M107 7v1"/><path stroke="#414141" d="M3 6v1M4 9v1M12 4v1M13 10v1M16 3v1M17 3v1M21 11v1M22 2v1M23 1v1M27 -3v4M73 -3v4M74 1v1M75 1v1M76 12v1M77 2v1M81 11v1M83 3v1M84 3v1M88 10v1M90 10v1M97 6v1M100 8v1M103 7v1M104 7v1"/><path stroke="#454545" d="M-1 7v1M0 7v1M4 6v1M5 9v1M8 5v1M9 5v1M13 4v1M14 10v1M15 4v1M15 10v1M18 3v1M21 2v1M24 1v1M25 1v1M26 -3v4M28 13v1M73 13v1M78 2v1M81 3v1M86 4v1M87 4v1M89 10v1M92 5v1M94 9v1M98 8v1M99 8v1M100 7v1"/><path stroke="#494949" d="M-1 8v1M0 8v1M5 6v1M6 9v1M7 9v1M14 4v1M19 3v1M20 3v1M23 11v1M26 12v1M27 12v1M29 14v4M30 14v4M72 -3v4M72 13v1M76 2v1M79 11v1M80 11v1M87 10v1M91 5v1M93 9v1M96 6v1M98 7v1M99 7v1"/><path stroke="#4d4d4d" d="M1 7v2M2 7v2M10 5v1M16 10v1M22 3v1M23 2v1M24 11v1M27 1v2M28 -3v4M28 12v1M30 13v1M31 14v4M70 14v4M71 14v4M74 12v1M79 3v1M80 3v1M82 4v1M85 4v1M86 10v1M90 5v1M97 8v1"/><path stroke="#515151" d="M3 7v2M6 6v1M7 6v1M8 9v1M9 9v1M11 5v1M12 5v1M16 4v1M17 4v1M17 10v1M24 2v1M25 2v1M25 11v1M26 1v1M27 3v1M28 1v2M29 13v1M31 13v1M32 14v4M69 13v5M70 13v1M71 13v1M72 1v1M72 12v1M73 1v1M74 2v1M75 2v1M75 12v1M77 3v1M77 11v1M78 11v1M83 4v1M84 4v1M85 10v1M88 5v1M89 5v1M94 6v1M97 7v1"/><path stroke="#555" d="M4 7v2M10 9v1M15 5v1M18 4v1M20 4v1M20 10v1M21 3v1M22 4v1M23 3v1M25 3v1M27 11v1M28 3v1M29 12v1M30 -3v5M30 12v1M32 13v1M34 14v4M68 13v5M70 -3v5M70 12v1M72 2v1M73 12v1M78 3v1M81 4v1M82 10v1M92 9v1M93 6v1M95 9v1"/><path stroke="#595959" d="M5 7v2M8 6v1M9 6v1M11 9v1M13 5v1M14 5v1M18 10v1M19 4v1M19 10v1M22 10v1M24 3v1M26 2v1M27 4v1M28 11v1M29 -3v5M30 2v1M31 -3v5M31 12v1M32 -3v4M32 12v1M33 13v5M34 13v1M35 14v4M40 14v4M67 14v4M69 -3v5M69 12v1M70 2v1M71 -3v4M71 12v1M72 3v1M73 2v1M76 3v1M76 11v1M86 5v1M87 5v1M96 8v1"/><path stroke="#5d5d5d" d="M6 7v2M7 7v2M12 9v1M20 5v1M21 4v1M23 4v1M24 4v1M25 4v1M26 3v1M26 11v1M28 4v1M29 2v1M30 3v1M31 2v1M32 1v2M34 -3v4M35 13v1M38 14v4M40 13v1M61 14v4M62 14v4M66 14v4M67 13v1M68 -3v5M68 12v1M69 2v1M70 3v1M71 1v2M72 11v1M74 3v1M77 4v1M79 4v1M80 4v1M81 10v1M82 5v1M84 10v1M91 9v1M95 6v1M96 7v1"/><path stroke="#616161" d="M10 6v1M11 6v1M13 9v1M15 9v1M16 5v1M17 5v1M21 10v1M22 5v1M27 10v1M29 3v1M29 11v1M30 11v1M31 3v1M32 3v1M33 -3v4M33 12v1M34 1v2M34 12v1M36 14v4M37 14v4M38 13v1M39 14v4M40 -3v5M41 14v4M42 14v4M59 14v4M60 14v4M61 -3v4M61 13v1M62 13v1M65 14v4M66 13v1M68 2v1M69 3v1M70 11v1M71 3v1M72 4v1M73 3v1M73 11v1M74 11v1M75 3v1M78 4v1M85 5v1M92 6v1M94 7v2"/><path stroke="#656565" d="M8 7v2M9 8v1M12 6v1M14 9v1M15 6v1M18 5v1M19 5v1M23 10v1M24 10v1M25 10v1M26 4v1M27 5v1M30 4v1M31 11v1M32 11v1M33 1v2M35 -3v5M35 12v1M36 13v1M37 13v1M38 -3v4M39 13v1M40 2v1M40 12v1M41 -3v4M41 13v1M42 -3v5M42 13v1M43 14v4M47 14v4M52 14v4M56 14v4M57 14v4M59 -3v5M59 13v1M60 -3v4M60 13v1M61 1v1M62 -3v5M63 14v4M64 14v4M65 13v1M66 -3v5M67 -3v5M67 12v1M68 3v1M69 11v1M70 4v1M71 11v1M76 4v1M77 10v1M79 10v1M80 10v1M81 5v1M83 10v1M84 5v1M88 6v1M88 9v1M91 6v1M93 7v2"/><path stroke="#696969" d="M9 7v1M13 6v1M14 6v1M20 9v1M21 5v1M23 5v1M24 5v1M25 5v1M28 5v1M28 10v1M29 4v1M31 4v1M32 4v1M33 3v1M34 3v1M35 2v1M36 -3v5M38 1v2M38 12v1M39 -3v4M40 3v1M41 1v2M42 2v1M43 -3v5M43 13v1M45 14v4M47 -3v4M47 13v1M48 14v4M51 14v4M52 -3v5M52 13v1M54 14v4M56 -3v5M56 13v1M57 -3v5M57 13v1M59 2v1M60 1v2M61 2v1M61 12v1M62 2v1M62 12v1M63 13v1M64 13v1M66 2v1M66 12v1M67 2v1M68 4v1M68 11v1M69 4v1M71 4v1M73 4v1M74 4v1M75 11v1M77 5v1M83 5v1M87 9v1M90 6v1M90 9v1"/><path stroke="#6d6d6d" d="M10 7v2M11 8v1M16 9v1M17 9v1M20 6v1M22 6v1M22 9v1M26 10v1M30 10v1M34 11v1M35 3v1M36 2v1M36 12v1M37 -3v5M37 12v1M39 1v2M39 12v1M41 12v1M42 12v1M43 2v1M44 14v4M45 -3v4M45 13v1M47 1v2M48 -3v4M48 13v1M50 14v4M52 2v1M54 -3v5M54 13v1M55 14v4M56 2v1M57 2v1M58 14v4M59 12v1M60 12v1M61 3v1M62 3v1M63 -3v5M64 -3v5M65 -3v6M65 12v1M66 3v1M67 3v1M70 5v1M70 10v1M72 5v1M72 10v1M78 10v1M79 5v1M80 5v1M82 6v1M86 9v1M87 6v1M89 6v1M89 9v1"/><path stroke="#717171" d="M11 7v1M12 7v2M15 7v2M16 6v1M17 6v1M26 5v1M27 6v1M27 9v1M29 10v1M30 5v1M33 11v1M34 4v1M35 11v1M37 2v1M38 3v1M40 11v1M41 3v1M42 3v1M43 12v1M44 -3v5M44 13v1M45 1v1M46 14v4M47 12v1M48 1v1M49 14v4M50 -3v5M50 13v1M51 -3v5M51 13v1M52 12v1M53 14v4M54 2v1M55 -3v4M55 13v1M56 12v1M57 12v1M58 -3v5M58 13v1M59 3v1M60 3v1M62 11v1M63 2v1M63 12v1M64 2v1M64 12v1M66 11v1M67 11v1M69 5v1M69 10v1M75 4v1M76 5v1M76 10v1M78 5v1M82 9v1M86 6v1M92 7v2"/><path stroke="#797979" d="M20 8v1M21 6v1M21 9v1M22 8v1M23 6v1M23 9v1M24 6v1M24 9v1M27 7v1M32 5v1M36 11v1M38 4v1M41 4v1M42 4v1M44 12v1M45 3v1M46 2v1M48 3v1M48 12v1M49 1v1M50 12v1M51 12v1M54 3v1M55 2v1M58 12v1M59 4v1M60 4v1M60 11v1M65 11v1M70 6v1M70 9v1M72 6v1M72 9v1M74 5v1M74 10v1M77 6v1M77 9v1M81 9v1M88 8v1"/><path stroke="#7d7d7d" d="M16 7v2M17 7v2M25 7v1M26 6v1M27 8v1M28 7v1M30 6v1M30 9v1M34 5v1M34 10v1M36 4v1M37 11v1M39 4v1M39 11v1M43 4v1M43 11v1M44 3v1M46 12v1M47 4v1M47 11v1M49 2v1M50 3v1M51 3v1M52 4v1M52 11v1M53 2v1M53 12v1M55 3v1M55 12v1M56 4v1M56 11v1M57 4v1M57 11v1M58 3v1M59 11v1M63 4v1M63 11v1M64 4v1M64 11v1M65 4v1M67 5v1M67 10v1M69 6v1M69 9v1M79 6v1M79 9v1M80 6v1M80 9v1M82 7v2M86 7v1M87 7v2"/><path stroke="#828282" d="M19 7v2M23 7v1M24 7v1M25 8v1M26 9v1M28 8v1M29 6v1M29 9v1M31 6v1M37 4v1M40 5v1M40 10v1M42 5v1M46 3v1M49 3v1M49 12v1M53 3v1M54 4v1M54 11v1M61 5v1M61 10v1M62 5v1M62 10v1M66 5v1M66 10v1M68 6v1M68 9v1M70 7v2M71 6v1M71 9v1M72 7v2M73 6v1M76 6v1M78 6v1M83 6v1M84 6v1M84 9v1M86 8v1M89 7v1M90 7v1M95 7v2"/><path stroke="#868686" d="M18 7v2M21 7v2M23 8v1M24 8v1M30 7v1M31 9v1M32 6v1M33 5v1M33 10v1M35 5v1M35 10v1M38 5v1M38 10v1M41 5v1M41 10v1M42 10v1M44 4v1M44 11v1M45 4v1M45 11v1M48 4v1M48 11v1M51 4v1M51 11v1M60 5v1M65 10v1M69 7v2M73 9v1M75 5v1M75 10v1M76 9v1M77 7v2M78 9v1M81 7v2M83 9v1M85 7v2M89 8v1M90 8v1"/><path stroke="#8a8a8a" d="M26 7v2M30 8v1M32 9v1M36 5v1M36 10v1M43 5v1M43 10v1M46 4v1M46 11v1M47 5v1M47 10v1M50 4v1M50 11v1M52 5v1M52 10v1M55 4v1M55 11v1M56 5v1M56 10v1M57 5v1M57 10v1M58 4v1M58 11v1M59 5v1M60 10v1M61 6v1M62 6v1M63 5v1M63 10v1M64 5v1M64 10v1M65 5v1M67 6v1M67 9v1M68 7v2M71 7v1M74 6v1M79 7v2M80 7v1"/><path stroke="#8e8e8e" d="M29 7v2M31 7v2M34 6v1M37 5v1M37 10v1M39 5v1M39 10v1M40 6v1M40 9v1M42 6v1M49 4v1M49 11v1M53 4v1M53 11v1M54 5v1M54 10v1M59 10v1M61 9v1M62 9v1M66 6v1M66 9v1M71 8v1M73 7v2M74 9v1M76 7v1M78 7v1M80 8v1"/><path stroke="#929292" d="M32 7v2M34 9v1M35 6v1M38 6v1M41 6v1M41 9v1M42 9v1M43 6v1M44 5v1M45 5v1M45 10v1M48 5v1M51 5v1M52 6v1M56 6v1M61 7v2M62 7v2M65 6v1M66 7v1M67 7v2M76 8v1M78 8v1M84 7v1"/><path stroke="#969696" d="M33 6v1M34 7v1M35 9v1M38 9v1M40 7v2M41 7v1M42 7v2M43 9v1M44 10v1M46 5v1M47 6v1M47 9v1M48 10v1M50 5v1M51 10v1M52 9v1M55 5v1M55 10v1M56 9v1M57 6v1M57 9v1M58 5v1M60 6v1M60 9v1M63 6v1M63 9v1M64 6v1M64 9v1M65 9v1M66 8v1M83 7v1M84 8v1"/><path stroke="#9a9a9a" d="M33 9v1M34 8v1M36 6v1M36 9v1M37 6v1M38 7v1M39 6v1M41 8v1M43 7v1M46 10v1M50 10v1M52 7v2M53 5v1M53 10v1M54 6v1M54 9v1M56 7v2M57 7v1M58 10v1M59 6v1M65 7v2M74 7v2M83 8v1"/><path stroke="#9e9e9e" d="M35 7v2M37 9v1M38 8v1M39 9v1M43 8v1M44 6v1M45 6v1M47 7v2M49 5v1M57 8v1M60 7v2M63 7v2M64 7v2M75 6v1"/><path stroke="#a2a2a2" d="M33 7v2M36 7v1M44 9v1M45 9v1M46 6v1M48 6v1M49 10v1M51 6v1M51 9v1M54 7v2M55 6v1M55 9v1M58 6v1M59 9v1M75 9v1"/><path stroke="#a6a6a6" d="M36 8v1M37 7v2M39 7v2M44 7v1M46 9v1M48 9v1M50 6v1M53 6v1M58 9v1"/><path stroke="#aaa" d="M44 8v1M45 7v2M46 7v1M48 7v1M49 6v1M50 9v1M51 7v2M53 9v1M55 7v2M59 7v1"/><path stroke="#aeaeae" d="M46 8v1M48 8v1M50 7v1M53 7v2M58 7v2M59 8v1M75 7v2"/><path stroke="#b2b2b2" d="M49 9v1M50 8v1"/><path stroke="#b6b6b6" d="M49 7v1"/><path stroke="#bababa" d="M49 8v1"/></g></g></svg>
<text x="344.1" y="10.25" font-size="4.08" text-anchor="middle" fill="#262626">VTEC VR1 24h (10E 70N)</text>
<text x="286.6" y="42.4" font-size="3.4" text-anchor="end" fill="#262626">0</text>
<text x="286.6" y="30.1708" font-size="3.4" text-anchor="end" fill="#262626">10</text>
<text x="286.6" y="17.9417" font-size="3.4" text-anchor="end" fill="#262626">20</text>
<svg x="414.1" y="11.75" width="111.6" height="29.35" viewBox="0 0 112 15" preserveAspectRatio="none" stroke-width="1.04" fill="none"><g filter="url(#f5)"><rect x="-4" y="-4" width="120" height="23" fill="#757575"/><g transform="translate(.5)"><path stroke="#1c1c1c" d="M97 14v4M98 11v7M101 11v7M102 11v7M105 12v6"/><path stroke="#202020" d="M15 13v5M20 13v5M22 13v5M82 13v5M88 12v6M89 13v5M90 13v5M91 14v4M93 12v6M94 11v7M95 11v7M96 11v7M97 11v3M98 10v1M99 11v7M100 11v7M101 10v1M102 10v1M103 11v7M104 11v7M105 10v2M106 10v8M107 10v8M108 10v8M109 10v8M110 10v8M111 10v8M112 10v8"/><path stroke="#242424" d="M-1 11v7M0 11v7M1 11v7M2 11v7M3 11v7M4 11v7M5 12v6M6 12v6M7 12v6M8 12v6M9 12v6M10 12v6M11 12v6M12 12v6M13 13v5M14 12v6M15 12v1M16 13v5M17 13v5M18 13v5M19 13v5M21 13v5M23 13v5M24 14v4M25 14v4M76 14v4M77 14v4M78 14v4M79 14v4M80 14v4M81 13v5M82 12v1M83 13v5M84 13v5M85 13v5M86 12v6M87 12v6M89 12v1M90 12v1M91 12v2M92 12v6M93 11v1M97 -3v7M97 10v1M98 -3v8M99 -3v7M99 10v1M100 -3v7M100 10v1M101 -3v9M102 -3v8M103 10v1M104 10v1M105 -3v8M106 -3v7M109 -3v7"/><path stroke="#282828" d="M-1 10v1M0 10v1M5 11v1M6 11v1M7 11v1M8 11v1M9 11v1M10 11v1M13 12v1M16 12v1M17 12v1M18 12v1M19 12v1M20 12v1M22 12v1M24 13v1M26 14v4M27 14v4M74 14v4M75 14v4M77 13v1M78 13v1M79 13v1M80 13v1M83 12v1M84 12v1M85 12v1M88 11v1M90 11v1M91 11v1M92 11v1M93 -3v7M94 -3v7M95 -3v7M96 -3v7M96 10v1M97 4v1M99 4v1M100 4v1M101 9v1M102 5v1M102 9v1M103 -3v8M104 -3v9M105 5v1M105 9v1M106 4v2M106 9v1M107 -3v9M107 9v1M108 -3v9M108 9v1M109 4v2M109 9v1M110 -3v9M110 9v1M111 -3v9M111 9v1M112 -3v9M112 9v1"/><path stroke="#2d2d2d" d="M-1 -3v8M0 -3v8M1 -3v8M1 10v1M2 -3v8M2 10v1M3 -3v8M3 10v1M4 -3v7M4 10v1M11 11v1M12 11v1M13 11v1M14 11v1M15 11v1M21 12v1M25 13v1M76 13v1M77 -3v4M81 12v1M87 11v1M89 -3v5M89 11v1M90 -3v6M92 -3v6M93 4v1M93 10v1M94 4v1M94 10v1M95 4v1M96 4v1M98 5v1M99 5v1M100 5v1M100 9v1M103 5v1M103 9v1M104 9v1M109 6v1"/><path stroke="#313131" d="M-1 5v1M0 5v1M1 5v1M2 5v1M4 4v1M5 -3v8M5 10v1M6 -3v7M6 10v1M7 -3v8M7 10v1M8 -3v6M9 -3v6M15 -3v5M16 11v1M20 -3v4M22 -3v4M23 12v1M73 14v4M75 -3v4M76 -3v4M78 -3v4M79 -3v4M79 12v1M80 12v1M82 -3v5M86 11v1M88 -3v6M89 2v2M90 3v1M91 -3v7M92 3v1M95 10v1M97 5v1M98 9v1M99 9v1M101 6v1M102 6v1M105 6v1M106 6v1M107 6v1M108 6v1M110 6v1M111 6v1M112 6v1"/><path stroke="#353535" d="M3 5v1M4 5v1M6 4v1M8 3v1M8 10v1M9 3v1M9 10v1M10 -3v7M11 -3v7M12 -3v6M13 -3v6M14 -3v6M15 2v1M16 -3v5M17 -3v5M17 11v1M18 -3v5M19 -3v5M20 1v1M21 -3v4M23 -3v4M26 13v1M74 -3v4M75 13v1M77 1v1M78 1v1M79 1v1M80 -3v5M81 -3v5M82 2v1M83 -3v5M85 11v1M87 -3v6M88 3v1M92 4v1M92 10v1M96 5v1M97 9v1M103 6v1M104 6v1M109 8v1M110 8v1M111 8v1M112 8v1"/><path stroke="#393939" d="M-1 6v1M-1 9v1M0 6v1M0 9v1M5 5v1M8 4v1M9 4v1M10 10v1M12 3v1M13 3v1M15 3v1M16 2v1M17 2v1M18 2v1M18 11v1M19 11v1M20 11v1M21 1v1M22 1v1M24 -3v4M24 12v1M25 -3v4M27 13v1M28 14v4M74 13v1M76 1v1M77 12v1M78 12v1M81 2v1M82 11v1M83 2v1M84 -3v5M84 11v1M85 -3v6M86 -3v6M87 3v1M89 4v1M90 4v1M91 4v1M91 10v1M94 5v1M95 5v1M98 6v1M99 6v1M100 6v1M101 8v1M102 8v1M105 8v1M106 8v1M107 8v1M108 7v2M109 7v1M110 7v1M111 7v1M112 7v1"/><path stroke="#3d3d3d" d="M1 6v1M1 9v1M2 6v1M2 9v1M3 9v1M6 5v1M7 5v1M10 4v1M11 4v1M11 10v1M12 10v1M14 3v1M19 2v1M20 2v1M22 11v1M25 12v1M72 14v4M79 2v1M80 2v1M82 3v1M83 11v1M84 2v1M85 3v1M86 3v1M88 4v1M93 5v1M96 9v1M101 7v1M102 7v1M103 8v1M104 8v1M105 7v1M106 7v1M107 7v1"/><path stroke="#414141" d="M3 6v1M4 9v1M12 4v1M13 10v1M16 3v1M17 3v1M21 11v1M22 2v1M23 1v1M27 -3v4M73 -3v4M74 1v1M75 1v1M76 12v1M77 2v1M81 11v1M83 3v1M84 3v1M88 10v1M90 10v1M97 6v1M100 8v1M103 7v1M104 7v1"/><path stroke="#454545" d="M-1 7v1M0 7v1M4 6v1M5 9v1M8 5v1M9 5v1M13 4v1M14 10v1M15 4v1M15 10v1M18 3v1M21 2v1M24 1v1M25 1v1M26 -3v4M28 13v1M73 13v1M78 2v1M81 3v1M86 4v1M87 4v1M89 10v1M92 5v1M94 9v1M98 8v1M99 8v1M100 7v1"/><path stroke="#494949" d="M-1 8v1M0 8v1M5 6v1M6 9v1M7 9v1M14 4v1M19 3v1M20 3v1M23 11v1M26 12v1M27 12v1M29 14v4M30 14v4M72 -3v4M72 13v1M76 2v1M79 11v1M80 11v1M87 10v1M91 5v1M93 9v1M96 6v1M98 7v1M99 7v1"/><path stroke="#4d4d4d" d="M1 7v2M2 7v2M10 5v1M16 10v1M22 3v1M23 2v1M24 11v1M27 1v2M28 -3v4M28 12v1M30 13v1M31 14v4M70 14v4M71 14v4M74 12v1M79 3v1M80 3v1M82 4v1M85 4v1M86 10v1M90 5v1M97 8v1"/><path stroke="#515151" d="M3 7v2M6 6v1M7 6v1M8 9v1M9 9v1M11 5v1M12 5v1M16 4v1M17 4v1M17 10v1M24 2v1M25 2v1M25 11v1M26 1v1M27 3v1M28 1v2M29 13v1M31 13v1M32 14v4M69 13v5M70 13v1M71 13v1M72 1v1M72 12v1M73 1v1M74 2v1M75 2v1M75 12v1M77 3v1M77 11v1M78 11v1M83 4v1M84 4v1M85 10v1M88 5v1M89 5v1M94 6v1M97 7v1"/><path stroke="#555" d="M4 7v2M10 9v1M15 5v1M18 4v1M20 4v1M20 10v1M21 3v1M22 4v1M23 3v1M25 3v1M27 11v1M28 3v1M29 12v1M30 -3v5M30 12v1M32 13v1M34 14v4M68 13v5M70 -3v5M70 12v1M72 2v1M73 12v1M78 3v1M81 4v1M82 10v1M92 9v1M93 6v1M95 9v1"/><path stroke="#595959" d="M5 7v2M8 6v1M9 6v1M11 9v1M13 5v1M14 5v1M18 10v1M19 4v1M19 10v1M22 10v1M24 3v1M26 2v1M27 4v1M28 11v1M29 -3v5M30 2v1M31 -3v5M31 12v1M32 -3v4M32 12v1M33 13v5M34 13v1M35 14v4M40 14v4M67 14v4M69 -3v5M69 12v1M70 2v1M71 -3v4M71 12v1M72 3v1M73 2v1M76 3v1M76 11v1M86 5v1M87 5v1M96 8v1"/><path stroke="#5d5d5d" d="M6 7v2M7 7v2M12 9v1M20 5v1M21 4v1M23 4v1M24 4v1M25 4v1M26 3v1M26 11v1M28 4v1M29 2v1M30 3v1M31 2v1M32 1v2M34 -3v4M35 13v1M38 14v4M40 13v1M61 14v4M62 14v4M66 14v4M67 13v1M68 -3v5M68 12v1M69 2v1M70 3v1M71 1v2M72 11v1M74 3v1M77 4v1M79 4v1M80 4v1M81 10v1M82 5v1M84 10v1M91 9v1M95 6v1M96 7v1"/><path stroke="#616161" d="M10 6v1M11 6v1M13 9v1M15 9v1M16 5v1M17 5v1M21 10v1M22 5v1M27 10v1M29 3v1M29 11v1M30 11v1M31 3v1M32 3v1M33 -3v4M33 12v1M34 1v2M34 12v1M36 14v4M37 14v4M38 13v1M39 14v4M40 -3v5M41 14v4M42 14v4M59 14v4M60 14v4M61 -3v4M61 13v1M62 13v1M65 14v4M66 13v1M68 2v1M69 3v1M70 11v1M71 3v1M72 4v1M73 3v1M73 11v1M74 11v1M75 3v1M78 4v1M85 5v1M92 6v1M94 7v2"/><path stroke="#656565" d="M8 7v2M9 8v1M12 6v1M14 9v1M15 6v1M18 5v1M19 5v1M23 10v1M24 10v1M25 10v1M26 4v1M27 5v1M30 4v1M31 11v1M32 11v1M33 1v2M35 -3v5M35 12v1M36 13v1M37 13v1M38 -3v4M39 13v1M40 2v1M40 12v1M41 -3v4M41 13v1M42 -3v5M42 13v1M43 14v4M47 14v4M52 14v4M56 14v4M57 14v4M59 -3v5M59 13v1M60 -3v4M60 13v1M61 1v1M62 -3v5M63 14v4M64 14v4M65 13v1M66 -3v5M67 -3v5M67 12v1M68 3v1M69 11v1M70 4v1M71 11v1M76 4v1M77 10v1M79 10v1M80 10v1M81 5v1M83 10v1M84 5v1M88 6v1M88 9v1M91 6v1M93 7v2"/><path stroke="#696969" d="M9 7v1M13 6v1M14 6v1M20 9v1M21 5v1M23 5v1M24 5v1M25 5v1M28 5v1M28 10v1M29 4v1M31 4v1M32 4v1M33 3v1M34 3v1M35 2v1M36 -3v5M38 1v2M38 12v1M39 -3v4M40 3v1M41 1v2M42 2v1M43 -3v5M43 13v1M45 14v4M47 -3v4M47 13v1M48 14v4M51 14v4M52 -3v5M52 13v1M54 14v4M56 -3v5M56 13v1M57 -3v5M57 13v1M59 2v1M60 1v2M61 2v1M61 12v1M62 2v1M62 12v1M63 13v1M64 13v1M66 2v1M66 12v1M67 2v1M68 4v1M68 11v1M69 4v1M71 4v1M73 4v1M74 4v1M75 11v1M77 5v1M83 5v1M87 9v1M90 6v1M90 9v1"/><path stroke="#6d6d6d" d="M10 7v2M11 8v1M16 9v1M17 9v1M20 6v1M22 6v1M22 9v1M26 10v1M30 10v1M34 11v1M35 3v1M36 2v1M36 12v1M37 -3v5M37 12v1M39 1v2M39 12v1M41 12v1M42 12v1M43 2v1M44 14v4M45 -3v4M45 13v1M47 1v2M48 -3v4M48 13v1M50 14v4M52 2v1M54 -3v5M54 13v1M55 14v4M56 2v1M57 2v1M58 14v4M59 12v1M60 12v1M61 3v1M62 3v1M63 -3v5M64 -3v5M65 -3v6M65 12v1M66 3v1M67 3v1M70 5v1M70 10v1M72 5v1M72 10v1M78 10v1M79 5v1M80 5v1M82 6v1M86 9v1M87 6v1M89 6v1M89 9v1"/><path stroke="#717171" d="M11 7v1M12 7v2M15 7v2M16 6v1M17 6v1M26 5v1M27 6v1M27 9v1M29 10v1M30 5v1M33 11v1M34 4v1M35 11v1M37 2v1M38 3v1M40 11v1M41 3v1M42 3v1M43 12v1M44 -3v5M44 13v1M45 1v1M46 14v4M47 12v1M48 1v1M49 14v4M50 -3v5M50 13v1M51 -3v5M51 13v1M52 12v1M53 14v4M54 2v1M55 -3v4M55 13v1M56 12v1M57 12v1M58 -3v5M58 13v1M59 3v1M60 3v1M62 11v1M63 2v1M63 12v1M64 2v1M64 12v1M66 11v1M67 11v1M69 5v1M69 10v1M75 4v1M76 5v1M76 10v1M78 5v1M82 9v1M86 6v1M92 7v2"/><path stroke="#797979" d="M20 8v1M21 6v1M21 9v1M22 8v1M23 6v1M23 9v1M24 6v1M24 9v1M27 7v1M32 5v1M36 11v1M38 4v1M41 4v1M42 4v1M44 12v1M45 3v1M46 2v1M48 3v1M48 12v1M49 1v1M50 12v1M51 12v1M54 3v1M55 2v1M58 12v1M59 4v1M60 4v1M60 11v1M65 11v1M70 6v1M70 9v1M72 6v1M72 9v1M74 5v1M74 10v1M77 6v1M77 9v1M81 9v1M88 8v1"/><path stroke="#7d7d7d" d="M16 7v2M17 7v2M25 7v1M26 6v1M27 8v1M28 7v1M30 6v1M30 9v1M34 5v1M34 10v1M36 4v1M37 11v1M39 4v1M39 11v1M43 4v1M43 11v1M44 3v1M46 12v1M47 4v1M47 11v1M49 2v1M50 3v1M51 3v1M52 4v1M52 11v1M53 2v1M53 12v1M55 3v1M55 12v1M56 4v1M56 11v1M57 4v1M57 11v1M58 3v1M59 11v1M63 4v1M63 11v1M64 4v1M64 11v1M65 4v1M67 5v1M67 10v1M69 6v1M69 9v1M79 6v1M79 9v1M80 6v1M80 9v1M82 7v2M86 7v1M87 7v2"/><path stroke="#828282" d="M19 7v2M23 7v1M24 7v1M25 8v1M26 9v1M28 8v1M29 6v1M29 9v1M31 6v1M37 4v1M40 5v1M40 10v1M42 5v1M46 3v1M49 3v1M49 12v1M53 3v1M54 4v1M54 11v1M61 5v1M61 10v1M62 5v1M62 10v1M66 5v1M66 10v1M68 6v1M68 9v1M70 7v2M71 6v1M71 9v1M72 7v2M73 6v1M76 6v1M78 6v1M83 6v1M84 6v1M84 9v1M86 8v1M89 7v1M90 7v1M95 7v2"/><path stroke="#868686" d="M18 7v2M21 7v2M23 8v1M24 8v1M30 7v1M31 9v1M32 6v1M33 5v1M33 10v1M35 5v1M35 10v1M38 5v1M38 10v1M41 5v1M41 10v1M42 10v1M44 4v1M44 11v1M45 4v1M45 11v1M48 4v1M48 11v1M51 4v1M51 11v1M60 5v1M65 10v1M69 7v2M73 9v1M75 5v1M75 10v1M76 9v1M77 7v2M78 9v1M81 7v2M83 9v1M85 7v2M89 8v1M90 8v1"/><path stroke="#8a8a8a" d="M26 7v2M30 8v1M32 9v1M36 5v1M36 10v1M43 5v1M43 10v1M46 4v1M46 11v1M47 5v1M47 10v1M50 4v1M50 11v1M52 5v1M52 10v1M55 4v1M55 11v1M56 5v1M56 10v1M57 5v1M57 10v1M58 4v1M58 11v1M59 5v1M60 10v1M61 6v1M62 6v1M63 5v1M63 10v1M64 5v1M64 10v1M65 5v1M67 6v1M67 9v1M68 7v2M71 7v1M74 6v1M79 7v2M80 7v1"/><path stroke="#8e8e8e" d="M29 7v2M31 7v2M34 6v1M37 5v1M37 10v1M39 5v1M39 10v1M40 6v1M40 9v1M42 6v1M49 4v1M49 11v1M53 4v1M53 11v1M54 5v1M54 10v1M59 10v1M61 9v1M62 9v1M66 6v1M66 9v1M71 8v1M73 7v2M74 9v1M76 7v1M78 7v1M80 8v1"/><path stroke="#929292" d="M32 7v2M34 9v1M35 6v1M38 6v1M41 6v1M41 9v1M42 9v1M43 6v1M44 5v1M45 5v1M45 10v1M48 5v1M51 5v1M52 6v1M56 6v1M61 7v2M62 7v2M65 6v1M66 7v1M67 7v2M76 8v1M78 8v1M84 7v1"/><path stroke="#969696" d="M33 6v1M34 7v1M35 9v1M38 9v1M40 7v2M41 7v1M42 7v2M43 9v1M44 10v1M46 5v1M47 6v1M47 9v1M48 10v1M50 5v1M51 10v1M52 9v1M55 5v1M55 10v1M56 9v1M57 6v1M57 9v1M58 5v1M60 6v1M60 9v1M63 6v1M63 9v1M64 6v1M64 9v1M65 9v1M66 8v1M83 7v1M84 8v1"/><path stroke="#9a9a9a" d="M33 9v1M34 8v1M36 6v1M36 9v1M37 6v1M38 7v1M39 6v1M41 8v1M43 7v1M46 10v1M50 10v1M52 7v2M53 5v1M53 10v1M54 6v1M54 9v1M56 7v2M57 7v1M58 10v1M59 6v1M65 7v2M74 7v2M83 8v1"/><path stroke="#9e9e9e" d="M35 7v2M37 9v1M38 8v1M39 9v1M43 8v1M44 6v1M45 6v1M47 7v2M49 5v1M57 8v1M60 7v2M63 7v2M64 7v2M75 6v1"/><path stroke="#a2a2a2" d="M33 7v2M36 7v1M44 9v1M45 9v1M46 6v1M48 6v1M49 10v1M51 6v1M51 9v1M54 7v2M55 6v1M55 9v1M58 6v1M59 9v1M75 9v1"/><path stroke="#a6a6a6" d="M36 8v1M37 7v2M39 7v2M44 7v1M46 9v1M48 9v1M50 6v1M53 6v1M58 9v1"/><path stroke="#aaa" d="M44 8v1M45 7v2M46 7v1M48 7v1M49 6v1M50 9v1M51 7v2M53 9v1M55 7v2M59 7v1"/><path stroke="#aeaeae" d="M46 8v1M48 8v1M50 7v1M53 7v2M58 7v2M59 8v1M75 7v2"/><path stroke="#b2b2b2" d="M49 9v1M50 8v1"/><path stroke="#b6b6b6" d="M49 7v1"/><path stroke="#bababa" d="M49 8v1"/></g></g></svg>
<text x="469.9" y="10.25" font-size="4.08" text-anchor="middle" fill="#262626">VTEC VR1 diff  24h (10E 70N)</text>
<text x="412.7" y="42.4" font-size="3.4" text-anchor="end" fill="#262626">0</text>
<text x="412.7" y="30.1708" font-size="3.4" text-anchor="end" fill="#262626">10</text>
<text x="412.7" y="17.9417" font-size="3.4" text-anchor="end" fill="#262626">20</text>
<rect x="532.5" y="11.75" width="2" height="29.35" fill="url(#jetg)"/>
<text x="536" y="42.4" font-size="3.42" text-anchor="start" fill="#262626">0</text>
<text x="536" y="32.8085" font-size="3.42" text-anchor="start" fill="#262626">5</text>
<text x="536" y="23.217" font-size="3.42" text-anchor="start" fill="#262626">10</text>
<text x="536" y="13.6255" font-size="3.42" text-anchor="start" fill="#262626">15</text>
<text x="534.7" y="8.3" font-size="3.55" text-anchor="middle" fill="#262626">TECU</text>
<svg x="288" y="46.6" width="112.2" height="29.35" viewBox="0 0 112 15" preserveAspectRatio="none" stroke-width="1.04" fill="none"><g filter="url(#f4)"><rect x="-4" y="-4" width="120" height="23" fill="#2d2d2d"/><g transform="translate(.5)"><path stroke="#242424" d="M95 12v6M98 13v5M99 13v5M107 13v5M108 12v6M109 12v6"/><path stroke="#282828" d="M-1 12v6M0 12v6M1 12v6M2 12v6M9 12v6M10 12v6M32 14v4M36 13v5M38 14v4M39 13v5M55 13v5M56 13v5M59 13v5M61 13v5M85 13v5M88 13v5M89 13v5M91 12v6M93 12v6M94 12v6M96 12v6M97 12v6M98 12v1M99 12v1M100 12v6M101 12v6M102 12v6M104 12v6M105 12v6M106 12v6M107 12v1M108 11v1M110 12v6M111 12v6M112 12v6"/><path stroke="#313131" d="M1 11v1M2 11v1M3 11v1M4 11v1M5 12v6M6 12v1M7 11v1M8 11v1M9 11v1M10 11v1M11 12v6M12 12v1M13 11v1M14 11v1M15 12v6M16 12v1M24 12v6M25 12v6M28 12v6M34 12v6M35 12v6M40 12v1M41 12v6M43 12v6M45 12v6M46 12v6M47 12v1M48 13v5M49 13v5M50 12v1M51 12v1M52 12v1M53 12v1M54 12v1M57 12v1M58 12v1M60 12v1M62 12v1M63 12v1M64 12v6M65 12v1M66 12v6M67 12v1M68 12v1M71 12v1M72 12v6M73 12v6M74 14v4M75 13v5M76 12v6M78 12v1M79 12v1M80 12v1M81 12v6M82 12v1M83 12v1M84 12v6M96 11v1M97 11v1M98 11v1M99 11v1M100 11v1M101 11v1M104 11v1"/><path stroke="#353535" d="M5 11v1M6 11v1M11 11v1M12 11v1M17 11v1M18 11v1M19 11v1M20 11v1M22 11v1M48 12v1M49 12v1M74 12v2M75 12v1M93 11v1M94 11v1M95 -3v5M103 11v1M108 -3v6"/><path stroke="#393939" d="M15 11v1M16 11v1M21 11v1M23 11v1M24 11v1M26 11v1M27 11v1M29 11v1M32 11v1M88 11v1M89 11v1M91 11v1M95 2v2M107 -3v6M108 3v1M109 -3v7M110 -3v7"/><path stroke="#3d3d3d" d="M-1 -3v6M0 -3v6M7 -3v6M8 -3v6M9 -3v7M10 -3v7M13 -3v5M14 -3v5M17 -3v5M25 11v1M28 11v1M30 11v1M31 11v1M33 11v1M85 11v1M86 11v1M87 11v1M90 11v1M91 -3v5M92 11v1M96 -3v6M97 -3v6M98 -3v6M99 -3v6M100 -3v6M101 -3v5M102 -3v6M104 -3v6M105 -3v6M106 -3v7M107 3v1M111 -3v7M112 -3v7"/><path stroke="#414141" d="M-1 3v1M0 3v1M1 -3v6M2 -3v6M3 -3v5M4 -3v7M6 -3v5M7 3v1M8 3v1M11 -3v4M12 -3v6M13 2v2M14 2v2M16 -3v5M17 2v2M18 -3v6M19 -3v6M20 -3v6M21 -3v5M22 -3v6M23 -3v4M26 -3v5M27 -3v5M29 -3v4M30 -3v4M32 -3v4M36 11v1M38 11v1M39 11v1M82 11v1M83 11v1M84 11v1M85 -3v5M86 -3v5M87 -3v5M88 -3v6M89 -3v6M90 -3v4M91 2v1M93 -3v6M94 -3v6M96 3v1M97 3v1M98 3v1M99 3v1M100 3v1M101 2v2M102 3v1M103 -3v5M104 3v1M105 3v1M108 4v1M109 4v1M110 4v1"/><path stroke="#454545" d="M1 3v1M2 3v1M3 2v2M5 -3v6M6 2v2M11 1v3M12 3v1M15 -3v6M16 2v2M18 3v1M19 3v1M20 3v1M21 2v1M23 1v2M24 -3v5M25 -3v5M26 2v1M27 2v1M29 1v1M30 1v1M31 -3v5M32 1v1M33 -3v4M34 11v1M35 11v1M36 -3v4M37 11v1M38 -3v4M39 -3v4M77 -3v4M77 11v1M78 11v1M79 11v1M80 -3v4M80 11v1M81 11v1M82 -3v4M83 -3v4M84 -3v4M85 2v1M86 2v1M87 2v1M90 1v2M92 -3v6M93 3v1M94 3v1M95 4v1M103 2v2M106 4v1M107 4v1M108 10v1M111 4v1M112 4v1"/><path stroke="#494949" d="M-1 4v1M0 4v1M5 3v1M7 4v1M8 4v1M9 4v1M10 4v1M15 3v1M21 3v1M22 3v1M24 2v1M25 2v1M28 -3v5M33 1v1M34 -3v4M35 -3v4M37 -3v4M40 11v1M42 11v1M69 -3v4M70 -3v4M71 -3v4M77 1v1M78 -3v5M79 -3v5M80 1v1M81 -3v5M82 1v1M83 1v1M84 1v1M91 3v1M99 4v1M102 4v1M104 4v1M105 4v1M109 10v1M110 10v1"/><path stroke="#4d4d4d" d="M-1 10v1M0 10v1M1 4v1M2 4v1M4 4v1M13 4v1M14 4v1M23 3v1M29 2v1M30 2v1M36 1v1M40 -3v4M41 11v1M42 -3v4M44 -3v4M44 11v1M55 -3v4M56 -3v4M59 -3v4M61 -3v4M68 -3v4M69 11v1M70 11v1M71 11v1M72 -3v4M72 11v1M73 -3v4M76 -3v4M76 11v1M83 2v1M84 2v1M88 3v1M89 3v1M90 3v1M92 3v1M96 4v1M97 4v1M98 4v1M100 4v1M101 4v1M106 10v1M107 10v1M108 5v1M111 10v1M112 10v1"/><path stroke="#515151" d="M1 10v1M2 10v1M3 4v1M4 10v1M6 4v1M7 10v1M8 10v1M9 10v1M10 10v1M11 4v1M12 4v1M17 4v1M18 4v1M19 4v1M28 2v1M31 2v1M32 2v1M34 1v1M35 1v1M37 1v1M38 1v1M39 1v1M41 -3v4M43 -3v4M43 11v1M51 -3v4M58 -3v4M60 -3v4M61 11v1M62 -3v4M63 -3v4M65 -3v4M67 -3v4M68 11v1M71 1v1M73 11v1M74 -3v4M75 -3v4M75 11v1M76 1v1M80 2v1M81 2v1M82 2v1M95 10v1M102 10v1M103 4v1M105 10v1M107 5v1M109 5v1M110 5v1"/><path stroke="#555" d="M3 10v1M5 4v1M13 10v1M14 10v1M15 4v1M16 4v1M20 4v1M24 3v1M26 3v1M45 -3v4M45 11v1M46 -3v4M46 11v1M47 -3v4M47 11v1M50 -3v4M52 -3v4M53 -3v4M54 -3v4M55 11v1M56 11v1M57 -3v4M59 11v1M62 11v1M63 11v1M64 -3v4M65 11v1M66 -3v4M66 11v1M67 11v1M69 1v1M70 1v1M72 1v1M73 1v1M75 1v1M77 2v1M78 2v1M85 3v1M86 3v1M87 3v1M93 4v1M94 4v1M95 5v1M99 10v1M100 10v1M101 10v1M104 10v1M106 5v1M108 6v4M109 6v1M109 9v1M110 6v1M110 9v1M111 5v1M112 5v1"/><path stroke="#595959" d="M-1 5v1M0 5v1M6 10v1M7 5v1M8 5v1M9 5v1M10 5v1M11 10v1M12 10v1M17 10v1M19 10v1M25 3v1M27 3v1M33 2v1M40 1v1M42 1v1M48 -3v4M48 11v1M49 -3v4M51 11v1M54 11v1M58 11v1M60 11v1M64 11v1M68 1v1M74 1v1M74 11v1M79 2v1M95 6v1M95 9v1M96 10v1M97 10v1M98 10v1M99 5v1M102 5v1M103 10v1M104 5v1M105 5v1M107 6v4M109 7v2M110 7v2"/><path stroke="#5d5d5d" d="M-1 9v1M0 9v1M1 5v1M2 5v1M4 5v1M5 10v1M9 6v1M9 9v1M10 6v1M10 9v1M13 5v1M14 5v1M18 10v1M20 10v1M21 4v1M22 4v1M22 10v1M36 2v1M44 1v1M49 11v1M50 11v1M52 11v1M53 11v1M56 1v1M57 11v1M59 1v1M61 1v1M67 1v1M91 4v1M94 10v1M95 7v2M96 5v1M98 5v1M100 5v1M101 5v1M106 6v4M111 6v4M112 6v4"/><path stroke="#616161" d="M-1 6v3M0 6v3M3 5v1M4 6v1M4 9v1M6 5v1M7 6v4M8 6v4M9 7v2M10 7v2M11 5v1M12 5v1M13 6v1M13 9v1M15 10v1M16 10v1M17 5v1M18 5v1M19 5v1M21 10v1M23 4v1M23 10v1M27 10v1M29 3v1M30 3v1M38 2v1M41 1v1M43 1v1M55 1v1M60 1v1M62 1v1M63 1v1M65 1v1M66 1v1M76 2v1M83 3v1M84 3v1M88 4v1M89 4v1M92 4v1M93 10v1M97 5v1M99 6v4M100 6v1M100 9v1M102 6v4M103 5v1M104 6v4M105 6v4"/><path stroke="#656565" d="M1 6v4M2 6v4M4 7v2M5 5v1M13 7v2M14 6v4M19 6v1M19 9v1M20 5v1M22 5v1M24 4v1M24 10v1M26 10v1M27 4v1M28 3v1M29 10v1M31 3v1M32 3v1M32 10v1M34 2v1M35 2v1M37 2v1M39 2v1M45 1v1M46 1v1M47 1v1M51 1v1M54 1v1M56 2v1M57 1v1M58 1v1M61 2v1M64 1v1M69 2v1M70 2v1M71 2v1M82 3v1M85 4v1M85 10v1M88 10v1M89 10v1M90 4v1M91 10v1M93 5v1M94 5v1M96 6v4M98 9v1M100 7v2M101 6v4"/><path stroke="#696969" d="M3 6v4M6 6v4M11 6v4M12 6v4M15 5v1M16 5v1M17 9v1M18 6v1M18 9v1M19 7v2M20 6v4M21 5v1M22 6v4M25 4v1M25 10v1M26 4v1M27 5v1M30 10v1M31 10v1M32 4v1M33 3v1M33 10v1M36 3v1M39 10v1M48 1v1M50 1v1M52 1v1M53 1v1M55 2v1M56 3v2M56 10v1M59 2v1M61 3v2M61 10v1M72 2v1M73 2v1M75 2v1M77 3v1M80 3v1M81 3v1M87 4v1M92 10v1M93 9v1M94 6v4M97 6v4M98 6v3M103 6v4"/><path stroke="#6d6d6d" d="M5 6v4M17 6v1M17 8v1M18 7v2M21 6v4M23 5v2M23 9v1M24 5v1M26 5v1M26 9v1M27 6v4M28 10v1M29 4v1M30 4v1M31 4v1M32 5v5M33 4v1M36 10v1M38 3v2M38 10v1M39 3v2M40 2v1M42 2v1M44 2v1M49 1v1M55 3v3M55 10v1M56 5v5M58 2v1M59 3v1M60 2v1M61 5v5M62 2v1M63 2v1M68 2v1M69 3v1M69 10v1M74 2v1M77 10v1M78 3v1M79 3v1M85 5v1M86 4v1M87 10v1M88 5v1M89 5v1M89 9v1M90 10v1M91 5v1M93 6v3"/><path stroke="#717171" d="M15 6v1M15 9v1M16 6v1M16 9v1M17 7v1M23 7v2M24 6v4M25 5v1M26 6v3M29 5v5M31 5v1M33 5v5M36 4v1M37 3v1M37 10v1M38 5v1M38 9v1M39 5v5M40 10v1M42 3v1M42 10v1M44 3v1M44 10v1M51 2v2M52 2v1M54 2v2M55 6v4M57 2v1M58 3v3M58 10v1M59 4v1M59 10v1M60 3v1M62 3v2M62 10v1M63 3v1M63 10v1M65 2v1M67 2v1M69 4v2M70 3v2M70 10v1M71 3v1M71 10v1M77 4v1M78 10v1M80 10v1M82 4v1M82 10v1M83 4v1M83 10v1M84 4v1M84 10v1M85 6v1M85 9v1M86 10v1M88 6v4M89 6v3M92 5v1"/><path stroke="#757575" d="M15 7v2M16 7v2M25 6v4M28 4v1M30 5v1M30 9v1M31 6v4M34 3v1M34 10v1M35 3v1M35 10v1M36 5v1M37 4v1M38 6v3M40 3v2M41 2v1M42 4v6M43 2v1M44 4v3M44 9v1M45 2v1M46 2v1M47 2v1M50 2v1M51 4v1M51 10v1M52 3v2M52 10v1M53 2v2M54 4v3M54 9v2M57 3v3M57 10v1M58 6v4M59 5v1M62 5v5M63 4v6M64 2v1M66 2v1M67 3v1M68 3v2M68 10v1M69 6v4M70 5v5M71 4v2M71 9v1M72 3v1M72 10v1M76 3v1M77 5v5M78 4v1M79 10v1M81 10v1M83 5v1M85 7v2M87 5v1M90 5v1M91 9v1M92 9v1"/><path stroke="#797979" d="M28 5v2M28 9v1M30 6v1M34 4v1M35 4v1M36 6v1M36 9v1M37 5v1M40 5v5M41 3v1M41 10v1M43 3v1M43 10v1M44 7v2M45 3v1M46 3v1M47 3v2M47 10v1M48 2v1M49 2v1M50 3v1M51 5v2M51 9v1M52 5v5M53 4v3M53 9v2M54 7v2M57 6v4M59 9v1M60 4v1M60 10v1M64 3v1M64 10v1M65 3v3M65 10v1M66 3v1M66 10v1M67 4v2M67 10v1M68 5v5M71 6v3M72 4v1M73 3v1M73 10v1M76 4v1M76 10v1M78 5v5M80 4v1M81 4v1M82 5v5M83 6v4M84 5v2M84 9v1M86 5v1M90 9v1M91 6v1M92 6v3"/><path stroke="#7d7d7d" d="M28 7v2M30 7v2M34 5v5M35 5v1M35 9v1M36 7v2M37 6v1M37 9v1M41 4v2M43 4v3M43 9v1M45 4v1M45 10v1M46 4v1M46 10v1M47 5v5M48 3v2M48 10v1M49 3v2M49 10v1M50 4v1M50 10v1M51 7v2M53 7v2M59 6v3M64 4v6M65 6v4M66 4v3M66 8v2M67 6v4M72 5v5M73 4v1M75 3v1M76 5v2M76 9v1M79 4v1M79 9v1M80 9v1M81 9v1M84 7v2M86 9v1M87 6v1M87 9v1M90 6v1M90 8v1M91 7v2"/><path stroke="#828282" d="M35 6v3M37 7v2M41 6v4M43 7v2M45 5v1M46 5v1M48 5v5M49 5v2M49 9v1M50 5v1M60 5v1M66 7v1M73 5v2M73 9v1M74 3v1M75 4v1M75 10v1M76 7v2M79 5v1M81 5v1M81 8v1M86 6v1M87 7v2M90 7v1"/><path stroke="#868686" d="M45 6v1M45 8v2M46 6v1M46 8v2M49 7v2M50 6v1M50 9v1M73 7v2M75 5v1M79 6v3M80 5v1M80 8v1M81 6v2M86 7v2"/><path stroke="#8a8a8a" d="M45 7v1M46 7v1M50 7v2M60 9v1M74 4v1M75 6v1M75 9v1M80 6v2"/><path stroke="#8e8e8e" d="M60 6v1M74 10v1M75 7v2"/><path stroke="#929292" d="M60 7v2"/><path stroke="#9a9a9a" d="M74 5v1"/><path stroke="#a2a2a2" d="M74 9v1"/><path stroke="#aaa" d="M74 6v1"/><path stroke="#b2b2b2" d="M74 7v2"/></g></g></svg>
<text x="344.1" y="45.1" font-size="4.08" text-anchor="middle" fill="#262626">VTEC VR1 24h (10E 40N)</text>
<text x="286.6" y="77.25" font-size="3.4" text-anchor="end" fill="#262626">0</text>
<text x="286.6" y="65.0208" font-size="3.4" text-anchor="end" fill="#262626">10</text>
<text x="286.6" y="52.7917" font-size="3.4" text-anchor="end" fill="#262626">20</text>
<svg x="414.1" y="46.6" width="111.6" height="29.35" viewBox="0 0 112 15" preserveAspectRatio="none" stroke-width="1.04" fill="none"><g filter="url(#f5)"><rect x="-4" y="-4" width="120" height="23" fill="#2d2d2d"/><g transform="translate(.5)"><path stroke="#242424" d="M95 12v6M98 13v5M99 13v5M107 13v5M108 12v6M109 12v6"/><path stroke="#282828" d="M-1 12v6M0 12v6M1 12v6M2 12v6M9 12v6M10 12v6M32 14v4M36 13v5M38 14v4M39 13v5M55 13v5M56 13v5M59 13v5M61 13v5M85 13v5M88 13v5M89 13v5M91 12v6M93 12v6M94 12v6M96 12v6M97 12v6M98 12v1M99 12v1M100 12v6M101 12v6M102 12v6M104 12v6M105 12v6M106 12v6M107 12v1M108 11v1M110 12v6M111 12v6M112 12v6"/><path stroke="#313131" d="M1 11v1M2 11v1M3 11v1M4 11v1M5 12v6M6 12v1M7 11v1M8 11v1M9 11v1M10 11v1M11 12v6M12 12v1M13 11v1M14 11v1M15 12v6M16 12v1M24 12v6M25 12v6M28 12v6M34 12v6M35 12v6M40 12v1M41 12v6M43 12v6M45 12v6M46 12v6M47 12v1M48 13v5M49 13v5M50 12v1M51 12v1M52 12v1M53 12v1M54 12v1M57 12v1M58 12v1M60 12v1M62 12v1M63 12v1M64 12v6M65 12v1M66 12v6M67 12v1M68 12v1M71 12v1M72 12v6M73 12v6M74 14v4M75 13v5M76 12v6M78 12v1M79 12v1M80 12v1M81 12v6M82 12v1M83 12v1M84 12v6M96 11v1M97 11v1M98 11v1M99 11v1M100 11v1M101 11v1M104 11v1"/><path stroke="#353535" d="M5 11v1M6 11v1M11 11v1M12 11v1M17 11v1M18 11v1M19 11v1M20 11v1M22 11v1M48 12v1M49 12v1M74 12v2M75 12v1M93 11v1M94 11v1M95 -3v5M103 11v1M108 -3v6"/><path stroke="#393939" d="M15 11v1M16 11v1M21 11v1M23 11v1M24 11v1M26 11v1M27 11v1M29 11v1M32 11v1M88 11v1M89 11v1M91 11v1M95 2v2M107 -3v6M108 3v1M109 -3v7M110 -3v7"/><path stroke="#3d3d3d" d="M-1 -3v6M0 -3v6M7 -3v6M8 -3v6M9 -3v7M10 -3v7M13 -3v5M14 -3v5M17 -3v5M25 11v1M28 11v1M30 11v1M31 11v1M33 11v1M85 11v1M86 11v1M87 11v1M90 11v1M91 -3v5M92 11v1M96 -3v6M97 -3v6M98 -3v6M99 -3v6M100 -3v6M101 -3v5M102 -3v6M104 -3v6M105 -3v6M106 -3v7M107 3v1M111 -3v7M112 -3v7"/><path stroke="#414141" d="M-1 3v1M0 3v1M1 -3v6M2 -3v6M3 -3v5M4 -3v7M6 -3v5M7 3v1M8 3v1M11 -3v4M12 -3v6M13 2v2M14 2v2M16 -3v5M17 2v2M18 -3v6M19 -3v6M20 -3v6M21 -3v5M22 -3v6M23 -3v4M26 -3v5M27 -3v5M29 -3v4M30 -3v4M32 -3v4M36 11v1M38 11v1M39 11v1M82 11v1M83 11v1M84 11v1M85 -3v5M86 -3v5M87 -3v5M88 -3v6M89 -3v6M90 -3v4M91 2v1M93 -3v6M94 -3v6M96 3v1M97 3v1M98 3v1M99 3v1M100 3v1M101 2v2M102 3v1M103 -3v5M104 3v1M105 3v1M108 4v1M109 4v1M110 4v1"/><path stroke="#454545" d="M1 3v1M2 3v1M3 2v2M5 -3v6M6 2v2M11 1v3M12 3v1M15 -3v6M16 2v2M18 3v1M19 3v1M20 3v1M21 2v1M23 1v2M24 -3v5M25 -3v5M26 2v1M27 2v1M29 1v1M30 1v1M31 -3v5M32 1v1M33 -3v4M34 11v1M35 11v1M36 -3v4M37 11v1M38 -3v4M39 -3v4M77 -3v4M77 11v1M78 11v1M79 11v1M80 -3v4M80 11v1M81 11v1M82 -3v4M83 -3v4M84 -3v4M85 2v1M86 2v1M87 2v1M90 1v2M92 -3v6M93 3v1M94 3v1M95 4v1M103 2v2M106 4v1M107 4v1M108 10v1M111 4v1M112 4v1"/><path stroke="#494949" d="M-1 4v1M0 4v1M5 3v1M7 4v1M8 4v1M9 4v1M10 4v1M15 3v1M21 3v1M22 3v1M24 2v1M25 2v1M28 -3v5M33 1v1M34 -3v4M35 -3v4M37 -3v4M40 11v1M42 11v1M69 -3v4M70 -3v4M71 -3v4M77 1v1M78 -3v5M79 -3v5M80 1v1M81 -3v5M82 1v1M83 1v1M84 1v1M91 3v1M99 4v1M102 4v1M104 4v1M105 4v1M109 10v1M110 10v1"/><path stroke="#4d4d4d" d="M-1 10v1M0 10v1M1 4v1M2 4v1M4 4v1M13 4v1M14 4v1M23 3v1M29 2v1M30 2v1M36 1v1M40 -3v4M41 11v1M42 -3v4M44 -3v4M44 11v1M55 -3v4M56 -3v4M59 -3v4M61 -3v4M68 -3v4M69 11v1M70 11v1M71 11v1M72 -3v4M72 11v1M73 -3v4M76 -3v4M76 11v1M83 2v1M84 2v1M88 3v1M89 3v1M90 3v1M92 3v1M96 4v1M97 4v1M98 4v1M100 4v1M101 4v1M106 10v1M107 10v1M108 5v1M111 10v1M112 10v1"/><path stroke="#515151" d="M1 10v1M2 10v1M3 4v1M4 10v1M6 4v1M7 10v1M8 10v1M9 10v1M10 10v1M11 4v1M12 4v1M17 4v1M18 4v1M19 4v1M28 2v1M31 2v1M32 2v1M34 1v1M35 1v1M37 1v1M38 1v1M39 1v1M41 -3v4M43 -3v4M43 11v1M51 -3v4M58 -3v4M60 -3v4M61 11v1M62 -3v4M63 -3v4M65 -3v4M67 -3v4M68 11v1M71 1v1M73 11v1M74 -3v4M75 -3v4M75 11v1M76 1v1M80 2v1M81 2v1M82 2v1M95 10v1M102 10v1M103 4v1M105 10v1M107 5v1M109 5v1M110 5v1"/><path stroke="#555" d="M3 10v1M5 4v1M13 10v1M14 10v1M15 4v1M16 4v1M20 4v1M24 3v1M26 3v1M45 -3v4M45 11v1M46 -3v4M46 11v1M47 -3v4M47 11v1M50 -3v4M52 -3v4M53 -3v4M54 -3v4M55 11v1M56 11v1M57 -3v4M59 11v1M62 11v1M63 11v1M64 -3v4M65 11v1M66 -3v4M66 11v1M67 11v1M69 1v1M70 1v1M72 1v1M73 1v1M75 1v1M77 2v1M78 2v1M85 3v1M86 3v1M87 3v1M93 4v1M94 4v1M95 5v1M99 10v1M100 10v1M101 10v1M104 10v1M106 5v1M108 6v4M109 6v1M109 9v1M110 6v1M110 9v1M111 5v1M112 5v1"/><path stroke="#595959" d="M-1 5v1M0 5v1M6 10v1M7 5v1M8 5v1M9 5v1M10 5v1M11 10v1M12 10v1M17 10v1M19 10v1M25 3v1M27 3v1M33 2v1M40 1v1M42 1v1M48 -3v4M48 11v1M49 -3v4M51 11v1M54 11v1M58 11v1M60 11v1M64 11v1M68 1v1M74 1v1M74 11v1M79 2v1M95 6v1M95 9v1M96 10v1M97 10v1M98 10v1M99 5v1M102 5v1M103 10v1M104 5v1M105 5v1M107 6v4M109 7v2M110 7v2"/><path stroke="#5d5d5d" d="M-1 9v1M0 9v1M1 5v1M2 5v1M4 5v1M5 10v1M9 6v1M9 9v1M10 6v1M10 9v1M13 5v1M14 5v1M18 10v1M20 10v1M21 4v1M22 4v1M22 10v1M36 2v1M44 1v1M49 11v1M50 11v1M52 11v1M53 11v1M56 1v1M57 11v1M59 1v1M61 1v1M67 1v1M91 4v1M94 10v1M95 7v2M96 5v1M98 5v1M100 5v1M101 5v1M106 6v4M111 6v4M112 6v4"/><path stroke="#616161" d="M-1 6v3M0 6v3M3 5v1M4 6v1M4 9v1M6 5v1M7 6v4M8 6v4M9 7v2M10 7v2M11 5v1M12 5v1M13 6v1M13 9v1M15 10v1M16 10v1M17 5v1M18 5v1M19 5v1M21 10v1M23 4v1M23 10v1M27 10v1M29 3v1M30 3v1M38 2v1M41 1v1M43 1v1M55 1v1M60 1v1M62 1v1M63 1v1M65 1v1M66 1v1M76 2v1M83 3v1M84 3v1M88 4v1M89 4v1M92 4v1M93 10v1M97 5v1M99 6v4M100 6v1M100 9v1M102 6v4M103 5v1M104 6v4M105 6v4"/><path stroke="#656565" d="M1 6v4M2 6v4M4 7v2M5 5v1M13 7v2M14 6v4M19 6v1M19 9v1M20 5v1M22 5v1M24 4v1M24 10v1M26 10v1M27 4v1M28 3v1M29 10v1M31 3v1M32 3v1M32 10v1M34 2v1M35 2v1M37 2v1M39 2v1M45 1v1M46 1v1M47 1v1M51 1v1M54 1v1M56 2v1M57 1v1M58 1v1M61 2v1M64 1v1M69 2v1M70 2v1M71 2v1M82 3v1M85 4v1M85 10v1M88 10v1M89 10v1M90 4v1M91 10v1M93 5v1M94 5v1M96 6v4M98 9v1M100 7v2M101 6v4"/><path stroke="#696969" d="M3 6v4M6 6v4M11 6v4M12 6v4M15 5v1M16 5v1M17 9v1M18 6v1M18 9v1M19 7v2M20 6v4M21 5v1M22 6v4M25 4v1M25 10v1M26 4v1M27 5v1M30 10v1M31 10v1M32 4v1M33 3v1M33 10v1M36 3v1M39 10v1M48 1v1M50 1v1M52 1v1M53 1v1M55 2v1M56 3v2M56 10v1M59 2v1M61 3v2M61 10v1M72 2v1M73 2v1M75 2v1M77 3v1M80 3v1M81 3v1M87 4v1M92 10v1M93 9v1M94 6v4M97 6v4M98 6v3M103 6v4"/><path stroke="#6d6d6d" d="M5 6v4M17 6v1M17 8v1M18 7v2M21 6v4M23 5v2M23 9v1M24 5v1M26 5v1M26 9v1M27 6v4M28 10v1M29 4v1M30 4v1M31 4v1M32 5v5M33 4v1M36 10v1M38 3v2M38 10v1M39 3v2M40 2v1M42 2v1M44 2v1M49 1v1M55 3v3M55 10v1M56 5v5M58 2v1M59 3v1M60 2v1M61 5v5M62 2v1M63 2v1M68 2v1M69 3v1M69 10v1M74 2v1M77 10v1M78 3v1M79 3v1M85 5v1M86 4v1M87 10v1M88 5v1M89 5v1M89 9v1M90 10v1M91 5v1M93 6v3"/><path stroke="#717171" d="M15 6v1M15 9v1M16 6v1M16 9v1M17 7v1M23 7v2M24 6v4M25 5v1M26 6v3M29 5v5M31 5v1M33 5v5M36 4v1M37 3v1M37 10v1M38 5v1M38 9v1M39 5v5M40 10v1M42 3v1M42 10v1M44 3v1M44 10v1M51 2v2M52 2v1M54 2v2M55 6v4M57 2v1M58 3v3M58 10v1M59 4v1M59 10v1M60 3v1M62 3v2M62 10v1M63 3v1M63 10v1M65 2v1M67 2v1M69 4v2M70 3v2M70 10v1M71 3v1M71 10v1M77 4v1M78 10v1M80 10v1M82 4v1M82 10v1M83 4v1M83 10v1M84 4v1M84 10v1M85 6v1M85 9v1M86 10v1M88 6v4M89 6v3M92 5v1"/><path stroke="#757575" d="M15 7v2M16 7v2M25 6v4M28 4v1M30 5v1M30 9v1M31 6v4M34 3v1M34 10v1M35 3v1M35 10v1M36 5v1M37 4v1M38 6v3M40 3v2M41 2v1M42 4v6M43 2v1M44 4v3M44 9v1M45 2v1M46 2v1M47 2v1M50 2v1M51 4v1M51 10v1M52 3v2M52 10v1M53 2v2M54 4v3M54 9v2M57 3v3M57 10v1M58 6v4M59 5v1M62 5v5M63 4v6M64 2v1M66 2v1M67 3v1M68 3v2M68 10v1M69 6v4M70 5v5M71 4v2M71 9v1M72 3v1M72 10v1M76 3v1M77 5v5M78 4v1M79 10v1M81 10v1M83 5v1M85 7v2M87 5v1M90 5v1M91 9v1M92 9v1"/><path stroke="#797979" d="M28 5v2M28 9v1M30 6v1M34 4v1M35 4v1M36 6v1M36 9v1M37 5v1M40 5v5M41 3v1M41 10v1M43 3v1M43 10v1M44 7v2M45 3v1M46 3v1M47 3v2M47 10v1M48 2v1M49 2v1M50 3v1M51 5v2M51 9v1M52 5v5M53 4v3M53 9v2M54 7v2M57 6v4M59 9v1M60 4v1M60 10v1M64 3v1M64 10v1M65 3v3M65 10v1M66 3v1M66 10v1M67 4v2M67 10v1M68 5v5M71 6v3M72 4v1M73 3v1M73 10v1M76 4v1M76 10v1M78 5v5M80 4v1M81 4v1M82 5v5M83 6v4M84 5v2M84 9v1M86 5v1M90 9v1M91 6v1M92 6v3"/><path stroke="#7d7d7d" d="M28 7v2M30 7v2M34 5v5M35 5v1M35 9v1M36 7v2M37 6v1M37 9v1M41 4v2M43 4v3M43 9v1M45 4v1M45 10v1M46 4v1M46 10v1M47 5v5M48 3v2M48 10v1M49 3v2M49 10v1M50 4v1M50 10v1M51 7v2M53 7v2M59 6v3M64 4v6M65 6v4M66 4v3M66 8v2M67 6v4M72 5v5M73 4v1M75 3v1M76 5v2M76 9v1M79 4v1M79 9v1M80 9v1M81 9v1M84 7v2M86 9v1M87 6v1M87 9v1M90 6v1M90 8v1M91 7v2"/><path stroke="#828282" d="M35 6v3M37 7v2M41 6v4M43 7v2M45 5v1M46 5v1M48 5v5M49 5v2M49 9v1M50 5v1M60 5v1M66 7v1M73 5v2M73 9v1M74 3v1M75 4v1M75 10v1M76 7v2M79 5v1M81 5v1M81 8v1M86 6v1M87 7v2M90 7v1"/><path stroke="#868686" d="M45 6v1M45 8v2M46 6v1M46 8v2M49 7v2M50 6v1M50 9v1M73 7v2M75 5v1M79 6v3M80 5v1M80 8v1M81 6v2M86 7v2"/><path stroke="#8a8a8a" d="M45 7v1M46 7v1M50 7v2M60 9v1M74 4v1M75 6v1M75 9v1M80 6v2"/><path stroke="#8e8e8e" d="M60 6v1M74 10v1M75 7v2"/><path stroke="#929292" d="M60 7v2"/><path stroke="#9a9a9a" d="M74 5v1"/><path stroke="#a2a2a2" d="M74 9v1"/><path stroke="#aaa" d="M74 6v1"/><path stroke="#b2b2b2" d="M74 7v2"/></g></g></svg>
<text x="469.9" y="45.1" font-size="4.08" text-anchor="middle" fill="#262626">VTEC VR1 diff  24h (10E 40N)</text>
<text x="412.7" y="77.25" font-size="3.4" text-anchor="end" fill="#262626">0</text>
<text x="412.7" y="65.0208" font-size="3.4" text-anchor="end" fill="#262626">10</text>
<text x="412.7" y="52.7917" font-size="3.4" text-anchor="end" fill="#262626">20</text>
<rect x="532.5" y="46.6" width="2" height="29.35" fill="url(#jetg)"/>
<text x="536" y="77.25" font-size="3.42" text-anchor="start" fill="#262626">0</text>
<text x="536" y="69.0972" font-size="3.42" text-anchor="start" fill="#262626">10</text>
<text x="536" y="60.9444" font-size="3.42" text-anchor="start" fill="#262626">20</text>
<text x="536" y="52.7917" font-size="3.42" text-anchor="start" fill="#262626">30</text>
<svg x="288" y="81.45" width="112.2" height="29.35" viewBox="0 0 112 15" preserveAspectRatio="none" stroke-width="1.04" fill="none"><g filter="url(#f4)"><rect x="-4" y="-4" width="120" height="23" fill="#181818"/><g transform="translate(.5)"><path stroke="#141414" d="M9 12v6M17 13v5M18 13v5M19 13v5M20 12v6M21 13v5M24 14v4M27 12v6M28 12v6M29 13v5M30 13v5M31 12v6M32 12v6M33 13v5M35 13v5M36 13v5M39 14v4M55 12v6M58 12v6M61 13v5M65 12v6M69 13v5M72 13v5M76 12v6M77 12v6M78 13v5M79 13v5M80 13v5M82 12v6M85 12v6M86 13v5M87 12v6M88 12v6M91 13v5M95 13v5M96 13v5M99 14v4M100 13v5M108 12v6M109 12v6M111 13v5M112 13v5"/><path stroke="#202020" d="M9 11v1M55 11v1M58 11v1M61 11v1M65 11v1M108 11v1M109 11v1M111 11v1M112 11v1"/><path stroke="#242424" d="M-1 11v1M0 11v1M1 11v1M2 11v1M3 11v1M4 11v1M5 11v1M6 11v1M7 11v1M8 11v1M10 11v1M11 11v1M18 11v1M20 11v1M21 11v1M27 11v1M28 11v1M29 11v1M31 11v1M32 11v1M35 11v1M36 11v1M37 11v1M38 11v1M39 11v1M40 11v1M41 11v1M42 11v1M43 11v1M44 11v1M45 11v1M46 11v1M47 11v1M48 11v1M49 11v1M50 11v1M51 11v1M52 11v1M53 11v1M54 11v1M56 11v1M57 11v1M59 11v1M60 11v1M62 11v1M63 11v1M64 11v1M66 11v1M67 11v1M68 11v1M69 11v1M70 11v1M71 11v1M72 11v1M76 11v1M77 11v1M80 11v1M82 11v1M85 11v1M87 11v1M88 11v1M95 11v1M96 11v1M98 11v1M99 11v1M100 11v1M101 11v1M102 11v1M103 11v1M104 11v1M105 11v1M106 11v1M107 11v1M110 11v1"/><path stroke="#282828" d="M12 11v1M13 11v1M14 11v1M15 11v1M16 11v1M17 11v1M19 11v1M22 11v1M23 11v1M24 11v1M25 11v1M26 11v1M30 11v1M33 11v1M34 11v1M55 -3v5M73 11v1M74 11v1M75 11v1M78 11v1M79 11v1M81 11v1M83 11v1M84 11v1M86 11v1M89 11v1M91 11v1M92 11v1M93 11v1M94 11v1M97 11v1M109 -3v5"/><path stroke="#2d2d2d" d="M3 -3v4M9 -3v6M49 -3v4M53 -3v5M54 -3v5M55 2v1M56 -3v6M57 -3v5M58 -3v6M61 -3v6M62 -3v4M63 -3v4M65 -3v6M69 -3v4M90 11v1M100 -3v4M105 -3v4M108 -3v6M109 2v1M110 -3v4M111 -3v6M112 -3v6"/><path stroke="#313131" d="M-1 -3v6M0 -3v6M1 -3v6M2 -3v6M3 1v2M4 -3v6M5 -3v6M6 -3v4M6 2v1M7 -3v6M8 -3v6M10 -3v4M10 2v1M11 -3v4M11 2v1M17 -3v4M18 -3v4M20 -3v4M21 -3v4M27 -3v4M28 -3v4M29 -3v4M31 -3v4M32 -3v4M33 -3v4M34 -3v4M35 -3v4M36 -3v4M37 -3v4M38 -3v4M38 2v1M39 -3v6M40 -3v4M40 2v1M41 -3v6M42 -3v4M42 2v1M43 -3v6M44 -3v6M45 -3v6M46 -3v6M47 -3v6M48 -3v6M49 1v2M50 -3v5M51 -3v6M52 -3v6M53 2v1M54 2v1M57 2v1M59 -3v6M60 -3v6M62 1v2M63 1v2M64 -3v6M66 -3v6M67 -3v6M68 -3v6M69 1v2M70 -3v4M71 -3v4M72 -3v4M73 -3v4M74 -3v4M76 -3v4M77 -3v4M78 -3v4M80 -3v4M82 -3v4M85 -3v4M87 -3v4M88 -3v4M95 -3v4M96 -3v4M97 -3v4M98 -3v4M99 -3v4M100 1v2M101 -3v6M102 -3v6M103 -3v6M104 -3v6M105 1v2M106 -3v6M107 -3v6M110 1v2"/><path stroke="#353535" d="M6 1v1M9 3v1M10 1v1M11 1v1M12 -3v4M12 2v1M13 -3v4M14 -3v4M15 -3v4M16 -3v4M19 -3v4M24 -3v4M26 -3v4M30 -3v4M35 1v1M36 1v2M37 1v2M38 1v1M40 1v1M42 1v1M50 2v1M55 3v1M58 3v1M70 1v2M71 1v2M72 1v2M73 1v1M75 -3v4M76 1v1M77 1v1M79 -3v4M81 -3v4M83 -3v4M86 -3v4M91 -3v4M92 -3v4M93 -3v4M96 1v2M98 1v2M99 1v2M108 3v1M109 3v1"/><path stroke="#393939" d="M3 3v1M7 3v1M12 1v1M13 1v2M14 1v2M17 1v1M22 -3v4M23 -3v4M25 -3v4M31 1v1M32 1v1M33 1v1M34 1v1M35 2v1M43 3v1M46 3v1M49 3v1M52 3v1M53 3v1M54 3v1M56 3v1M57 3v1M60 3v1M61 3v1M62 3v1M63 3v1M64 3v1M65 3v1M66 3v1M67 3v1M73 2v1M74 1v1M77 2v1M78 1v1M84 -3v4M89 -3v4M90 -3v4M94 -3v4M95 1v2M97 1v2M105 3v1M106 3v1M110 3v1M111 3v1M112 3v1"/><path stroke="#3d3d3d" d="M-1 3v1M0 3v1M1 3v1M2 3v1M4 3v1M5 3v1M6 3v1M8 3v1M10 3v1M15 1v2M16 1v1M18 1v1M19 1v1M20 1v2M21 1v2M27 1v2M28 1v1M29 1v2M30 1v2M31 2v1M32 2v1M39 3v1M40 3v1M41 3v1M42 3v1M44 3v1M45 3v1M47 3v1M48 3v1M50 3v1M51 3v1M59 3v1M68 3v1M74 2v1M75 1v1M76 2v1M78 2v1M79 1v2M80 1v2M82 1v1M85 1v1M87 1v1M88 1v1M91 1v1M92 1v2M102 3v1M103 3v1M104 3v1M107 3v1"/><path stroke="#414141" d="M11 3v1M16 2v1M17 2v1M18 2v1M19 2v1M22 1v2M23 1v2M24 1v2M26 1v1M28 2v1M33 2v1M34 2v1M38 3v1M69 3v1M81 1v2M82 2v1M83 1v1M85 2v1M86 1v2M87 2v1M88 2v1M89 1v2M91 2v1M93 1v2M94 1v2M100 3v1M101 3v1"/><path stroke="#454545" d="M25 1v2M26 2v1M75 2v1M84 1v1M90 1v2"/><path stroke="#494949" d="M83 2v1M84 2v1M99 3v1"/><path stroke="#4d4d4d" d="M12 3v1M37 3v1M70 3v1M98 3v1"/><path stroke="#515151" d="M55 10v1M97 3v1M109 10v1"/><path stroke="#555" d="M9 10v1M13 3v1M36 3v1M58 10v1M96 3v1M108 10v1M111 10v1M112 10v1"/><path stroke="#595959" d="M49 10v1M53 10v1M54 10v1M55 4v1M56 10v1M57 10v1M61 10v1M62 10v1M65 10v1M71 3v1M95 3v1M109 4v1M110 10v1"/><path stroke="#5d5d5d" d="M3 10v1M7 10v1M9 4v1M39 10v1M41 10v1M43 10v1M46 10v1M51 10v1M52 10v1M58 4v1M59 10v1M60 10v1M63 10v1M64 10v1M66 10v1M67 10v1M69 10v1M105 10v1M106 10v1M107 10v1M108 4v1M111 4v1M112 4v1"/><path stroke="#616161" d="M-1 10v1M0 10v1M4 10v1M5 10v1M6 10v1M8 10v1M10 10v1M11 10v1M14 3v1M35 3v1M38 10v1M40 10v1M42 10v1M44 10v1M45 10v1M47 10v1M48 10v1M50 10v1M53 4v1M54 4v1M56 4v1M61 4v1M62 4v1M65 4v1M68 10v1M72 3v1M100 10v1M102 10v1M103 10v1M104 10v1M110 4v1"/><path stroke="#656565" d="M1 10v1M2 10v1M3 4v1M7 4v1M41 4v1M43 4v1M46 4v1M49 4v1M52 4v1M57 4v1M59 4v1M60 4v1M63 4v1M64 4v1M66 4v1M67 4v1M99 10v1M101 10v1M105 4v1M106 4v1M109 9v1"/><path stroke="#696969" d="M-1 4v1M0 4v1M4 4v1M5 4v1M8 4v1M36 10v1M37 10v1M39 4v1M40 4v1M42 4v1M44 4v1M45 4v1M47 4v1M48 4v1M50 4v1M51 4v1M55 9v1M58 9v1M70 10v1M73 3v1M77 3v1M94 3v1M98 10v1M104 4v1M107 4v1M109 5v1M109 8v1"/><path stroke="#6d6d6d" d="M1 4v1M2 4v1M6 4v1M9 9v1M10 4v1M12 10v1M13 10v1M20 3v1M21 3v1M27 10v1M28 10v1M31 3v1M32 3v1M32 10v1M35 10v1M55 5v4M65 9v1M68 4v1M71 10v1M72 10v1M76 10v1M77 10v1M92 3v1M93 3v1M95 10v1M96 10v1M97 10v1M103 4v1M108 9v1M109 6v2M111 9v1M112 9v1"/><path stroke="#717171" d="M9 5v1M9 8v1M14 10v1M15 3v1M18 10v1M19 3v1M20 10v1M21 10v1M27 3v1M29 3v1M29 10v1M30 3v1M31 10v1M49 9v1M53 9v1M54 9v1M56 9v1M57 9v1M58 5v4M61 9v1M62 9v1M63 9v1M65 5v1M65 8v1M69 4v1M73 10v1M74 3v1M78 3v1M78 10v1M79 3v1M80 3v1M80 10v1M82 10v1M85 10v1M86 3v1M87 10v1M88 10v1M102 4v1M108 5v4M110 9v1M111 5v4M112 5v4"/><path stroke="#757575" d="M3 9v1M9 6v2M11 4v1M17 10v1M19 10v1M22 3v1M23 3v1M24 3v1M24 10v1M28 3v1M30 10v1M33 10v1M34 10v1M38 4v1M39 9v1M41 9v1M43 9v1M46 9v1M49 5v1M49 8v1M52 9v1M53 5v1M53 8v1M54 5v1M54 8v1M56 5v1M56 8v1M57 5v1M57 8v1M59 9v1M60 9v1M61 5v4M62 5v1M62 8v1M63 8v1M64 9v1M65 6v2M66 9v1M67 9v1M74 10v1M79 10v1M82 3v1M85 3v1M86 10v1M87 3v1M88 3v1M89 3v1M91 10v1M92 10v1M100 4v1M101 4v1M105 9v1M106 9v1M110 5v1M110 7v2"/><path stroke="#797979" d="M-1 9v1M0 9v1M4 9v1M5 9v1M7 9v1M8 9v1M15 10v1M16 3v1M16 10v1M17 3v1M22 10v1M23 10v1M26 10v1M40 9v1M42 9v1M43 5v4M44 9v1M45 9v1M46 5v1M46 7v2M47 9v1M48 9v1M49 6v2M50 9v1M51 9v1M52 5v1M52 8v1M53 6v2M54 6v2M56 6v2M57 6v2M59 5v1M59 8v1M60 5v4M62 6v2M63 5v3M64 5v4M66 5v1M66 8v1M67 5v1M67 8v1M68 9v1M69 9v1M76 3v1M81 3v1M81 10v1M83 10v1M91 3v1M93 10v1M94 10v1M103 9v1M104 9v1M105 5v4M106 5v4M107 9v1M110 6v1"/><path stroke="#7d7d7d" d="M2 9v1M3 5v4M4 5v1M4 8v1M5 5v1M5 8v1M6 9v1M7 5v4M8 5v1M8 8v1M10 9v1M11 9v1M18 3v1M25 10v1M26 3v1M33 3v1M34 3v1M38 9v1M39 5v1M39 7v2M40 5v1M40 8v1M41 5v4M42 5v1M42 8v1M44 5v1M44 8v1M45 5v1M45 8v1M46 6v1M47 5v1M47 8v1M48 5v1M48 7v2M51 5v4M52 6v2M59 6v2M66 6v2M67 6v2M75 10v1M84 10v1M89 10v1M90 3v1M99 4v1M100 9v1M101 9v1M102 9v1M103 8v1M104 5v1M104 8v1M107 5v4"/><path stroke="#828282" d="M-1 5v4M0 5v4M1 9v1M2 5v1M2 8v1M4 6v2M5 6v2M6 5v1M6 8v1M8 6v2M10 5v1M10 8v1M25 3v1M39 6v1M40 6v2M42 6v2M44 6v2M45 6v2M47 6v2M48 6v1M50 5v4M68 5v1M68 8v1M69 8v1M75 3v1M90 10v1M102 8v1M103 5v3M104 6v2"/><path stroke="#868686" d="M1 5v1M1 7v2M2 6v2M6 6v2M10 6v2M11 5v1M11 8v1M12 4v1M37 4v1M38 5v1M38 8v1M68 6v2M69 5v3M70 4v1M98 4v1M99 9v1M100 5v1M100 8v1M101 8v1M102 5v3"/><path stroke="#8a8a8a" d="M1 6v1M11 6v2M12 9v1M37 9v1M38 6v2M70 9v1M83 3v1M98 9v1M99 8v1M100 6v2M101 5v3"/><path stroke="#8e8e8e" d="M35 9v1M36 4v1M36 9v1M71 9v1M72 9v1M84 3v1M96 4v1M96 9v1M97 4v1M97 9v1"/><path stroke="#929292" d="M12 8v1M13 4v1M13 9v1M37 8v1M70 8v1M71 4v1M77 9v1M95 9v1M98 8v1M99 5v3"/><path stroke="#969696" d="M14 9v1M20 9v1M21 9v1M27 9v1M31 9v1M32 9v1M35 4v1M36 8v1M37 5v1M37 7v1M70 5v1M70 7v1M72 4v1M73 9v1M80 9v1M95 4v1M96 8v1M98 5v1M98 7v1"/><path stroke="#9a9a9a" d="M12 5v3M13 8v1M19 9v1M28 9v1M29 9v1M30 9v1M35 8v1M37 6v1M70 6v1M71 8v1M72 8v1M76 9v1M78 9v1M79 9v1M82 9v1M85 9v1M86 9v1M87 9v1M88 9v1M97 8v1M98 6v1"/><path stroke="#9e9e9e" d="M14 4v1M17 9v1M18 9v1M20 4v1M21 4v1M24 9v1M36 5v3M71 5v1M71 7v1M73 4v1M74 9v1M77 4v1M91 9v1M92 9v1M95 8v1"/><path stroke="#a2a2a2" d="M13 5v1M13 7v1M15 9v1M20 8v1M21 8v1M22 9v1M23 9v1M31 4v1M32 4v1M32 8v1M33 9v1M71 6v1M72 5v1M72 7v1M73 8v1M77 8v1M81 9v1M89 9v1M93 9v1M94 9v1M96 5v1M96 7v1M97 5v3"/><path stroke="#a6a6a6" d="M13 6v1M14 8v1M16 9v1M26 9v1M30 4v1M31 8v1M34 9v1M35 5v1M35 7v1M72 6v1M74 4v1M78 4v1M80 4v1M80 8v1M86 4v1M92 4v1M95 5v1M95 7v1M96 6v1"/><path stroke="#aaa" d="M19 4v1M21 5v1M21 7v1M23 4v1M24 4v1M25 9v1M27 4v1M27 8v1M29 4v1M29 8v1M30 8v1M35 6v1M74 8v1M75 9v1M78 8v1M79 4v1M79 8v1M83 9v1M86 8v1M90 9v1M92 8v1M93 4v1M94 4v1M95 6v1"/><path stroke="#aeaeae" d="M14 5v1M14 7v1M15 4v1M19 8v1M20 5v1M20 7v1M21 6v1M22 4v1M23 8v1M24 8v1M28 8v1M73 5v1M73 7v1M77 5v1M77 7v1M82 4v1M82 8v1M84 9v1M85 8v1M87 4v1M87 8v1M88 8v1M89 4v1M93 8v1M94 8v1"/><path stroke="#b2b2b2" d="M14 6v1M15 8v1M17 8v1M20 6v1M22 8v1M28 4v1M31 5v1M31 7v1M32 7v1M73 6v1M77 6v1M81 4v1M85 4v1M88 4v1M89 8v1"/><path stroke="#b6b6b6" d="M17 4v1M30 5v1M30 7v1M32 5v1M74 5v1M74 7v1M76 8v1M78 7v1M80 5v1M80 7v1M81 8v1M86 5v1M86 7v1M91 8v1M92 5v1M92 7v1"/><path stroke="#bababa" d="M16 4v1M16 8v1M18 8v1M19 7v1M22 5v1M22 7v1M23 5v1M23 7v1M24 7v1M29 7v1M30 6v1M31 6v1M32 6v1M74 6v1M76 4v1M78 5v1M79 5v1M79 7v1M80 6v1M86 6v1M89 7v1M90 4v1M91 4v1M92 6v1M93 5v1M93 7v1M94 5v1M94 7v1"/><path stroke="#bebebe" d="M15 7v1M19 5v1M22 6v1M23 6v1M24 5v1M26 4v1M26 8v1M27 7v1M29 5v1M33 8v1M78 6v1M87 7v1M89 5v1M90 8v1M93 6v1"/><path stroke="#c2c2c2" d="M15 5v1M18 4v1M19 6v1M24 6v1M25 8v1M27 5v1M29 6v1M33 4v1M34 8v1M75 8v1M79 6v1M81 7v1M82 7v1M85 7v1M87 5v1M89 6v1M94 6v1"/><path stroke="#c6c6c6" d="M15 6v1M25 4v1M27 6v1M28 7v1M34 4v1M75 4v1M81 5v1M82 5v1M88 7v1"/><path stroke="#cacaca" d="M16 7v1M17 7v1M28 5v1M81 6v1M83 8v1M85 5v1M87 6v1M88 5v1M90 7v1"/><path stroke="#cecece" d="M16 5v1M17 5v1M82 6v1M85 6v1M88 6v1M90 5v1M91 7v1"/><path stroke="#d2d2d2" d="M26 7v1M28 6v1M76 7v1M83 4v1M84 8v1M90 6v1"/><path stroke="#d7d7d7" d="M16 6v1M17 6v1M26 5v1M91 5v1"/><path stroke="#dbdbdb" d="M18 7v1M25 7v1M33 7v1M75 7v1M76 5v1M84 4v1"/><path stroke="#dfdfdf" d="M25 5v1M26 6v1M34 7v1M91 6v1"/><path stroke="#e3e3e3" d="M18 5v1M33 5v1M75 5v1M76 6v1"/><path stroke="#e7e7e7" d="M25 6v1M34 5v1"/><path stroke="#ebebeb" d="M18 6v1M33 6v1M75 6v1"/><path stroke="#efefef" d="M34 6v1M83 7v1"/><path stroke="#f7f7f7" d="M83 5v1M84 7v1"/><path stroke="#fff" d="M83 6v1M84 5v2"/></g></g></svg>
<text x="344.1" y="79.95" font-size="4.08" text-anchor="middle" fill="#262626">VTEC VR1 24h (10E 10N)</text>
<text x="286.6" y="112.1" font-size="3.4" text-anchor="end" fill="#262626">0</text>
<text x="286.6" y="99.8708" font-size="3.4" text-anchor="end" fill="#262626">10</text>
<text x="286.6" y="87.6417" font-size="3.4" text-anchor="end" fill="#262626">20</text>
<text x="303.37" y="115.3" font-size="3.42" text-anchor="middle" fill="#262626">50</text>
<text x="318.74" y="115.3" font-size="3.42" text-anchor="middle" fill="#262626">100</text>
<text x="334.11" y="115.3" font-size="3.42" text-anchor="middle" fill="#262626">150</text>
<text x="349.479" y="115.3" font-size="3.42" text-anchor="middle" fill="#262626">200</text>
<text x="364.849" y="115.3" font-size="3.42" text-anchor="middle" fill="#262626">250</text>
<text x="380.219" y="115.3" font-size="3.42" text-anchor="middle" fill="#262626">300</text>
<text x="395.589" y="115.3" font-size="3.42" text-anchor="middle" fill="#262626">350</text>
<text x="344.1" y="119.25" font-size="3.45" text-anchor="middle" fill="#262626">Days</text>
<svg x="414.1" y="81.45" width="111.6" height="29.35" viewBox="0 0 112 15" preserveAspectRatio="none" stroke-width="1.04" fill="none"><g filter="url(#f5)"><rect x="-4" y="-4" width="120" height="23" fill="#181818"/><g transform="translate(.5)"><path stroke="#141414" d="M9 12v6M17 13v5M18 13v5M19 13v5M20 12v6M21 13v5M24 14v4M27 12v6M28 12v6M29 13v5M30 13v5M31 12v6M32 12v6M33 13v5M35 13v5M36 13v5M39 14v4M55 12v6M58 12v6M61 13v5M65 12v6M69 13v5M72 13v5M76 12v6M77 12v6M78 13v5M79 13v5M80 13v5M82 12v6M85 12v6M86 13v5M87 12v6M88 12v6M91 13v5M95 13v5M96 13v5M99 14v4M100 13v5M108 12v6M109 12v6M111 13v5M112 13v5"/><path stroke="#202020" d="M9 11v1M55 11v1M58 11v1M61 11v1M65 11v1M108 11v1M109 11v1M111 11v1M112 11v1"/><path stroke="#242424" d="M-1 11v1M0 11v1M1 11v1M2 11v1M3 11v1M4 11v1M5 11v1M6 11v1M7 11v1M8 11v1M10 11v1M11 11v1M18 11v1M20 11v1M21 11v1M27 11v1M28 11v1M29 11v1M31 11v1M32 11v1M35 11v1M36 11v1M37 11v1M38 11v1M39 11v1M40 11v1M41 11v1M42 11v1M43 11v1M44 11v1M45 11v1M46 11v1M47 11v1M48 11v1M49 11v1M50 11v1M51 11v1M52 11v1M53 11v1M54 11v1M56 11v1M57 11v1M59 11v1M60 11v1M62 11v1M63 11v1M64 11v1M66 11v1M67 11v1M68 11v1M69 11v1M70 11v1M71 11v1M72 11v1M76 11v1M77 11v1M80 11v1M82 11v1M85 11v1M87 11v1M88 11v1M95 11v1M96 11v1M98 11v1M99 11v1M100 11v1M101 11v1M102 11v1M103 11v1M104 11v1M105 11v1M106 11v1M107 11v1M110 11v1"/><path stroke="#282828" d="M12 11v1M13 11v1M14 11v1M15 11v1M16 11v1M17 11v1M19 11v1M22 11v1M23 11v1M24 11v1M25 11v1M26 11v1M30 11v1M33 11v1M34 11v1M55 -3v5M73 11v1M74 11v1M75 11v1M78 11v1M79 11v1M81 11v1M83 11v1M84 11v1M86 11v1M89 11v1M91 11v1M92 11v1M93 11v1M94 11v1M97 11v1M109 -3v5"/><path stroke="#2d2d2d" d="M3 -3v4M9 -3v6M49 -3v4M53 -3v5M54 -3v5M55 2v1M56 -3v6M57 -3v5M58 -3v6M61 -3v6M62 -3v4M63 -3v4M65 -3v6M69 -3v4M90 11v1M100 -3v4M105 -3v4M108 -3v6M109 2v1M110 -3v4M111 -3v6M112 -3v6"/><path stroke="#313131" d="M-1 -3v6M0 -3v6M1 -3v6M2 -3v6M3 1v2M4 -3v6M5 -3v6M6 -3v4M6 2v1M7 -3v6M8 -3v6M10 -3v4M10 2v1M11 -3v4M11 2v1M17 -3v4M18 -3v4M20 -3v4M21 -3v4M27 -3v4M28 -3v4M29 -3v4M31 -3v4M32 -3v4M33 -3v4M34 -3v4M35 -3v4M36 -3v4M37 -3v4M38 -3v4M38 2v1M39 -3v6M40 -3v4M40 2v1M41 -3v6M42 -3v4M42 2v1M43 -3v6M44 -3v6M45 -3v6M46 -3v6M47 -3v6M48 -3v6M49 1v2M50 -3v5M51 -3v6M52 -3v6M53 2v1M54 2v1M57 2v1M59 -3v6M60 -3v6M62 1v2M63 1v2M64 -3v6M66 -3v6M67 -3v6M68 -3v6M69 1v2M70 -3v4M71 -3v4M72 -3v4M73 -3v4M74 -3v4M76 -3v4M77 -3v4M78 -3v4M80 -3v4M82 -3v4M85 -3v4M87 -3v4M88 -3v4M95 -3v4M96 -3v4M97 -3v4M98 -3v4M99 -3v4M100 1v2M101 -3v6M102 -3v6M103 -3v6M104 -3v6M105 1v2M106 -3v6M107 -3v6M110 1v2"/><path stroke="#353535" d="M6 1v1M9 3v1M10 1v1M11 1v1M12 -3v4M12 2v1M13 -3v4M14 -3v4M15 -3v4M16 -3v4M19 -3v4M24 -3v4M26 -3v4M30 -3v4M35 1v1M36 1v2M37 1v2M38 1v1M40 1v1M42 1v1M50 2v1M55 3v1M58 3v1M70 1v2M71 1v2M72 1v2M73 1v1M75 -3v4M76 1v1M77 1v1M79 -3v4M81 -3v4M83 -3v4M86 -3v4M91 -3v4M92 -3v4M93 -3v4M96 1v2M98 1v2M99 1v2M108 3v1M109 3v1"/><path stroke="#393939" d="M3 3v1M7 3v1M12 1v1M13 1v2M14 1v2M17 1v1M22 -3v4M23 -3v4M25 -3v4M31 1v1M32 1v1M33 1v1M34 1v1M35 2v1M43 3v1M46 3v1M49 3v1M52 3v1M53 3v1M54 3v1M56 3v1M57 3v1M60 3v1M61 3v1M62 3v1M63 3v1M64 3v1M65 3v1M66 3v1M67 3v1M73 2v1M74 1v1M77 2v1M78 1v1M84 -3v4M89 -3v4M90 -3v4M94 -3v4M95 1v2M97 1v2M105 3v1M106 3v1M110 3v1M111 3v1M112 3v1"/><path stroke="#3d3d3d" d="M-1 3v1M0 3v1M1 3v1M2 3v1M4 3v1M5 3v1M6 3v1M8 3v1M10 3v1M15 1v2M16 1v1M18 1v1M19 1v1M20 1v2M21 1v2M27 1v2M28 1v1M29 1v2M30 1v2M31 2v1M32 2v1M39 3v1M40 3v1M41 3v1M42 3v1M44 3v1M45 3v1M47 3v1M48 3v1M50 3v1M51 3v1M59 3v1M68 3v1M74 2v1M75 1v1M76 2v1M78 2v1M79 1v2M80 1v2M82 1v1M85 1v1M87 1v1M88 1v1M91 1v1M92 1v2M102 3v1M103 3v1M104 3v1M107 3v1"/><path stroke="#414141" d="M11 3v1M16 2v1M17 2v1M18 2v1M19 2v1M22 1v2M23 1v2M24 1v2M26 1v1M28 2v1M33 2v1M34 2v1M38 3v1M69 3v1M81 1v2M82 2v1M83 1v1M85 2v1M86 1v2M87 2v1M88 2v1M89 1v2M91 2v1M93 1v2M94 1v2M100 3v1M101 3v1"/><path stroke="#454545" d="M25 1v2M26 2v1M75 2v1M84 1v1M90 1v2"/><path stroke="#494949" d="M83 2v1M84 2v1M99 3v1"/><path stroke="#4d4d4d" d="M12 3v1M37 3v1M70 3v1M98 3v1"/><path stroke="#515151" d="M55 10v1M97 3v1M109 10v1"/><path stroke="#555" d="M9 10v1M13 3v1M36 3v1M58 10v1M96 3v1M108 10v1M111 10v1M112 10v1"/><path stroke="#595959" d="M49 10v1M53 10v1M54 10v1M55 4v1M56 10v1M57 10v1M61 10v1M62 10v1M65 10v1M71 3v1M95 3v1M109 4v1M110 10v1"/><path stroke="#5d5d5d" d="M3 10v1M7 10v1M9 4v1M39 10v1M41 10v1M43 10v1M46 10v1M51 10v1M52 10v1M58 4v1M59 10v1M60 10v1M63 10v1M64 10v1M66 10v1M67 10v1M69 10v1M105 10v1M106 10v1M107 10v1M108 4v1M111 4v1M112 4v1"/><path stroke="#616161" d="M-1 10v1M0 10v1M4 10v1M5 10v1M6 10v1M8 10v1M10 10v1M11 10v1M14 3v1M35 3v1M38 10v1M40 10v1M42 10v1M44 10v1M45 10v1M47 10v1M48 10v1M50 10v1M53 4v1M54 4v1M56 4v1M61 4v1M62 4v1M65 4v1M68 10v1M72 3v1M100 10v1M102 10v1M103 10v1M104 10v1M110 4v1"/><path stroke="#656565" d="M1 10v1M2 10v1M3 4v1M7 4v1M41 4v1M43 4v1M46 4v1M49 4v1M52 4v1M57 4v1M59 4v1M60 4v1M63 4v1M64 4v1M66 4v1M67 4v1M99 10v1M101 10v1M105 4v1M106 4v1M109 9v1"/><path stroke="#696969" d="M-1 4v1M0 4v1M4 4v1M5 4v1M8 4v1M36 10v1M37 10v1M39 4v1M40 4v1M42 4v1M44 4v1M45 4v1M47 4v1M48 4v1M50 4v1M51 4v1M55 9v1M58 9v1M70 10v1M73 3v1M77 3v1M94 3v1M98 10v1M104 4v1M107 4v1M109 5v1M109 8v1"/><path stroke="#6d6d6d" d="M1 4v1M2 4v1M6 4v1M9 9v1M10 4v1M12 10v1M13 10v1M20 3v1M21 3v1M27 10v1M28 10v1M31 3v1M32 3v1M32 10v1M35 10v1M55 5v4M65 9v1M68 4v1M71 10v1M72 10v1M76 10v1M77 10v1M92 3v1M93 3v1M95 10v1M96 10v1M97 10v1M103 4v1M108 9v1M109 6v2M111 9v1M112 9v1"/><path stroke="#717171" d="M9 5v1M9 8v1M14 10v1M15 3v1M18 10v1M19 3v1M20 10v1M21 10v1M27 3v1M29 3v1M29 10v1M30 3v1M31 10v1M49 9v1M53 9v1M54 9v1M56 9v1M57 9v1M58 5v4M61 9v1M62 9v1M63 9v1M65 5v1M65 8v1M69 4v1M73 10v1M74 3v1M78 3v1M78 10v1M79 3v1M80 3v1M80 10v1M82 10v1M85 10v1M86 3v1M87 10v1M88 10v1M102 4v1M108 5v4M110 9v1M111 5v4M112 5v4"/><path stroke="#757575" d="M3 9v1M9 6v2M11 4v1M17 10v1M19 10v1M22 3v1M23 3v1M24 3v1M24 10v1M28 3v1M30 10v1M33 10v1M34 10v1M38 4v1M39 9v1M41 9v1M43 9v1M46 9v1M49 5v1M49 8v1M52 9v1M53 5v1M53 8v1M54 5v1M54 8v1M56 5v1M56 8v1M57 5v1M57 8v1M59 9v1M60 9v1M61 5v4M62 5v1M62 8v1M63 8v1M64 9v1M65 6v2M66 9v1M67 9v1M74 10v1M79 10v1M82 3v1M85 3v1M86 10v1M87 3v1M88 3v1M89 3v1M91 10v1M92 10v1M100 4v1M101 4v1M105 9v1M106 9v1M110 5v1M110 7v2"/><path stroke="#797979" d="M-1 9v1M0 9v1M4 9v1M5 9v1M7 9v1M8 9v1M15 10v1M16 3v1M16 10v1M17 3v1M22 10v1M23 10v1M26 10v1M40 9v1M42 9v1M43 5v4M44 9v1M45 9v1M46 5v1M46 7v2M47 9v1M48 9v1M49 6v2M50 9v1M51 9v1M52 5v1M52 8v1M53 6v2M54 6v2M56 6v2M57 6v2M59 5v1M59 8v1M60 5v4M62 6v2M63 5v3M64 5v4M66 5v1M66 8v1M67 5v1M67 8v1M68 9v1M69 9v1M76 3v1M81 3v1M81 10v1M83 10v1M91 3v1M93 10v1M94 10v1M103 9v1M104 9v1M105 5v4M106 5v4M107 9v1M110 6v1"/><path stroke="#7d7d7d" d="M2 9v1M3 5v4M4 5v1M4 8v1M5 5v1M5 8v1M6 9v1M7 5v4M8 5v1M8 8v1M10 9v1M11 9v1M18 3v1M25 10v1M26 3v1M33 3v1M34 3v1M38 9v1M39 5v1M39 7v2M40 5v1M40 8v1M41 5v4M42 5v1M42 8v1M44 5v1M44 8v1M45 5v1M45 8v1M46 6v1M47 5v1M47 8v1M48 5v1M48 7v2M51 5v4M52 6v2M59 6v2M66 6v2M67 6v2M75 10v1M84 10v1M89 10v1M90 3v1M99 4v1M100 9v1M101 9v1M102 9v1M103 8v1M104 5v1M104 8v1M107 5v4"/><path stroke="#828282" d="M-1 5v4M0 5v4M1 9v1M2 5v1M2 8v1M4 6v2M5 6v2M6 5v1M6 8v1M8 6v2M10 5v1M10 8v1M25 3v1M39 6v1M40 6v2M42 6v2M44 6v2M45 6v2M47 6v2M48 6v1M50 5v4M68 5v1M68 8v1M69 8v1M75 3v1M90 10v1M102 8v1M103 5v3M104 6v2"/><path stroke="#868686" d="M1 5v1M1 7v2M2 6v2M6 6v2M10 6v2M11 5v1M11 8v1M12 4v1M37 4v1M38 5v1M38 8v1M68 6v2M69 5v3M70 4v1M98 4v1M99 9v1M100 5v1M100 8v1M101 8v1M102 5v3"/><path stroke="#8a8a8a" d="M1 6v1M11 6v2M12 9v1M37 9v1M38 6v2M70 9v1M83 3v1M98 9v1M99 8v1M100 6v2M101 5v3"/><path stroke="#8e8e8e" d="M35 9v1M36 4v1M36 9v1M71 9v1M72 9v1M84 3v1M96 4v1M96 9v1M97 4v1M97 9v1"/><path stroke="#929292" d="M12 8v1M13 4v1M13 9v1M37 8v1M70 8v1M71 4v1M77 9v1M95 9v1M98 8v1M99 5v3"/><path stroke="#969696" d="M14 9v1M20 9v1M21 9v1M27 9v1M31 9v1M32 9v1M35 4v1M36 8v1M37 5v1M37 7v1M70 5v1M70 7v1M72 4v1M73 9v1M80 9v1M95 4v1M96 8v1M98 5v1M98 7v1"/><path stroke="#9a9a9a" d="M12 5v3M13 8v1M19 9v1M28 9v1M29 9v1M30 9v1M35 8v1M37 6v1M70 6v1M71 8v1M72 8v1M76 9v1M78 9v1M79 9v1M82 9v1M85 9v1M86 9v1M87 9v1M88 9v1M97 8v1M98 6v1"/><path stroke="#9e9e9e" d="M14 4v1M17 9v1M18 9v1M20 4v1M21 4v1M24 9v1M36 5v3M71 5v1M71 7v1M73 4v1M74 9v1M77 4v1M91 9v1M92 9v1M95 8v1"/><path stroke="#a2a2a2" d="M13 5v1M13 7v1M15 9v1M20 8v1M21 8v1M22 9v1M23 9v1M31 4v1M32 4v1M32 8v1M33 9v1M71 6v1M72 5v1M72 7v1M73 8v1M77 8v1M81 9v1M89 9v1M93 9v1M94 9v1M96 5v1M96 7v1M97 5v3"/><path stroke="#a6a6a6" d="M13 6v1M14 8v1M16 9v1M26 9v1M30 4v1M31 8v1M34 9v1M35 5v1M35 7v1M72 6v1M74 4v1M78 4v1M80 4v1M80 8v1M86 4v1M92 4v1M95 5v1M95 7v1M96 6v1"/><path stroke="#aaa" d="M19 4v1M21 5v1M21 7v1M23 4v1M24 4v1M25 9v1M27 4v1M27 8v1M29 4v1M29 8v1M30 8v1M35 6v1M74 8v1M75 9v1M78 8v1M79 4v1M79 8v1M83 9v1M86 8v1M90 9v1M92 8v1M93 4v1M94 4v1M95 6v1"/><path stroke="#aeaeae" d="M14 5v1M14 7v1M15 4v1M19 8v1M20 5v1M20 7v1M21 6v1M22 4v1M23 8v1M24 8v1M28 8v1M73 5v1M73 7v1M77 5v1M77 7v1M82 4v1M82 8v1M84 9v1M85 8v1M87 4v1M87 8v1M88 8v1M89 4v1M93 8v1M94 8v1"/><path stroke="#b2b2b2" d="M14 6v1M15 8v1M17 8v1M20 6v1M22 8v1M28 4v1M31 5v1M31 7v1M32 7v1M73 6v1M77 6v1M81 4v1M85 4v1M88 4v1M89 8v1"/><path stroke="#b6b6b6" d="M17 4v1M30 5v1M30 7v1M32 5v1M74 5v1M74 7v1M76 8v1M78 7v1M80 5v1M80 7v1M81 8v1M86 5v1M86 7v1M91 8v1M92 5v1M92 7v1"/><path stroke="#bababa" d="M16 4v1M16 8v1M18 8v1M19 7v1M22 5v1M22 7v1M23 5v1M23 7v1M24 7v1M29 7v1M30 6v1M31 6v1M32 6v1M74 6v1M76 4v1M78 5v1M79 5v1M79 7v1M80 6v1M86 6v1M89 7v1M90 4v1M91 4v1M92 6v1M93 5v1M93 7v1M94 5v1M94 7v1"/><path stroke="#bebebe" d="M15 7v1M19 5v1M22 6v1M23 6v1M24 5v1M26 4v1M26 8v1M27 7v1M29 5v1M33 8v1M78 6v1M87 7v1M89 5v1M90 8v1M93 6v1"/><path stroke="#c2c2c2" d="M15 5v1M18 4v1M19 6v1M24 6v1M25 8v1M27 5v1M29 6v1M33 4v1M34 8v1M75 8v1M79 6v1M81 7v1M82 7v1M85 7v1M87 5v1M89 6v1M94 6v1"/><path stroke="#c6c6c6" d="M15 6v1M25 4v1M27 6v1M28 7v1M34 4v1M75 4v1M81 5v1M82 5v1M88 7v1"/><path stroke="#cacaca" d="M16 7v1M17 7v1M28 5v1M81 6v1M83 8v1M85 5v1M87 6v1M88 5v1M90 7v1"/><path stroke="#cecece" d="M16 5v1M17 5v1M82 6v1M85 6v1M88 6v1M90 5v1M91 7v1"/><path stroke="#d2d2d2" d="M26 7v1M28 6v1M76 7v1M83 4v1M84 8v1M90 6v1"/><path stroke="#d7d7d7" d="M16 6v1M17 6v1M26 5v1M91 5v1"/><path stroke="#dbdbdb" d="M18 7v1M25 7v1M33 7v1M75 7v1M76 5v1M84 4v1"/><path stroke="#dfdfdf" d="M25 5v1M26 6v1M34 7v1M91 6v1"/><path stroke="#e3e3e3" d="M18 5v1M33 5v1M75 5v1M76 6v1"/><path stroke="#e7e7e7" d="M25 6v1M34 5v1"/><path stroke="#ebebeb" d="M18 6v1M33 6v1M75 6v1"/><path stroke="#efefef" d="M34 6v1M83 7v1"/><path stroke="#f7f7f7" d="M83 5v1M84 7v1"/><path stroke="#fff" d="M83 6v1M84 5v2"/></g></g></svg>
<text x="469.9" y="79.95" font-size="4.08" text-anchor="middle" fill="#262626">VTEC VR1 diff  24h (10E 10N)</text>
<text x="412.7" y="112.1" font-size="3.4" text-anchor="end" fill="#262626">0</text>
<text x="412.7" y="99.8708" font-size="3.4" text-anchor="end" fill="#262626">10</text>
<text x="412.7" y="87.6417" font-size="3.4" text-anchor="end" fill="#262626">20</text>
<text x="429.388" y="115.3" font-size="3.42" text-anchor="middle" fill="#262626">50</text>
<text x="444.675" y="115.3" font-size="3.42" text-anchor="middle" fill="#262626">100</text>
<text x="459.963" y="115.3" font-size="3.42" text-anchor="middle" fill="#262626">150</text>
<text x="475.251" y="115.3" font-size="3.42" text-anchor="middle" fill="#262626">200</text>
<text x="490.538" y="115.3" font-size="3.42" text-anchor="middle" fill="#262626">250</text>
<text x="505.826" y="115.3" font-size="3.42" text-anchor="middle" fill="#262626">300</text>
<text x="521.114" y="115.3" font-size="3.42" text-anchor="middle" fill="#262626">350</text>
<text x="469.9" y="119.25" font-size="3.45" text-anchor="middle" fill="#262626">Days</text>
<rect x="532.5" y="81.45" width="2" height="29.35" fill="url(#jetg)"/>
<text x="536" y="112.1" font-size="3.42" text-anchor="start" fill="#262626">0</text>
<text x="536" y="100.36" font-size="3.42" text-anchor="start" fill="#262626">20</text>
<text x="536" y="88.62" font-size="3.42" text-anchor="start" fill="#262626">40</text>
<text x="281" y="61.275" font-size="3.5" text-anchor="middle" fill="#262626" transform="rotate(-90 281 61.275)">Time (hours)</text>
<svg x="288" y="128" width="112.3" height="29.35" viewBox="0 0 112 10" preserveAspectRatio="none" stroke-width="1.04" fill="none"><g filter="url(#f6)"><rect x="-4" y="-4" width="120" height="18" fill="#797979"/><g transform="translate(.5)"><path stroke="#5d5d5d" d="M102 9v4"/><path stroke="#616161" d="M-1 6v1M0 6v1M75 -3v4M87 3v1M92 9v4M110 4v1"/><path stroke="#656565" d="M2 6v1M11 -3v4M11 9v4M90 1v1M97 3v1M102 3v2M106 -3v4M106 2v1M106 5v2M107 5v1M107 8v5M109 9v4"/><path stroke="#696969" d="M1 -3v5M1 6v1M4 6v1M5 6v1M6 -3v4M6 6v2M7 6v1M8 6v1M9 6v1M12 6v1M13 6v1M14 -3v5M20 -3v5M38 8v1M75 1v1M80 5v2M82 8v5M84 9v4M87 1v2M90 -3v4M92 8v1M95 -3v4M97 2v1M97 4v1M99 9v4M100 4v1M102 8v1M106 4v1M106 7v1M107 3v2M107 6v2M108 1v1M108 5v2M108 9v4M109 1v1M109 3v1M110 5v1M111 5v1M112 5v1"/><path stroke="#6d6d6d" d="M-1 7v1M0 7v1M1 3v1M1 8v5M2 7v1M3 6v1M4 2v1M6 1v1M6 8v5M10 6v1M11 1v1M11 8v1M12 1v3M13 1v1M14 2v1M14 6v1M17 3v1M17 6v1M18 6v1M20 2v1M20 7v1M21 9v4M23 1v1M38 9v4M56 4v2M79 9v4M82 6v1M84 8v1M87 -3v4M89 7v1M93 6v1M94 2v4M96 -3v4M96 4v1M96 6v1M97 1v1M97 5v1M97 7v6M98 3v1M99 3v1M100 3v1M101 4v2M101 7v1M102 5v3M103 7v1M103 9v4M104 5v1M105 1v2M105 6v2M106 1v1M106 3v1M106 8v1M108 2v1M108 7v2M109 -3v4M109 2v1M109 4v1M109 8v1M110 6v2M110 9v4M111 4v1M111 6v1M112 4v1M112 6v1"/><path stroke="#717171" d="M-1 -3v5M-1 5v1M-1 8v5M0 -3v5M0 5v1M0 8v5M1 2v1M1 4v1M1 7v1M2 8v5M3 7v1M4 -3v5M5 8v5M6 4v1M7 7v1M8 -3v5M8 7v1M10 8v1M12 5v1M12 7v1M13 -3v4M13 4v1M13 7v2M14 3v1M14 8v1M16 6v2M17 1v1M17 8v5M18 7v1M20 6v1M20 8v5M21 8v1M22 8v1M23 -3v4M23 2v1M23 7v1M26 -3v5M29 6v1M29 8v5M30 3v1M31 1v1M34 8v1M37 9v4M38 -3v6M43 -3v4M45 9v4M49 9v4M56 -3v4M60 2v2M69 6v1M76 4v2M78 2v1M78 5v1M78 7v1M79 8v1M80 3v2M80 7v1M82 7v1M84 5v3M87 4v1M89 5v2M91 -3v4M92 3v1M92 7v1M93 -3v4M93 7v1M94 -3v5M96 2v2M96 5v1M97 -3v4M97 6v1M98 2v1M99 2v1M99 7v1M100 -3v5M101 3v1M101 6v1M102 2v1M103 6v1M103 8v1M104 -3v4M104 3v2M105 -3v4M105 4v2M105 8v5M106 9v4M107 -3v6M108 -3v4M108 3v2M109 5v1M110 1v3M110 8v1M111 3v1M111 7v1M112 3v1M112 7v1"/><path stroke="#757575" d="M-1 2v1M-1 4v1M0 2v1M0 4v1M1 5v1M2 -3v5M2 5v1M3 2v1M3 4v2M3 9v4M4 5v1M4 9v4M5 -3v6M5 7v1M6 2v2M6 5v1M8 2v2M8 5v1M8 8v1M9 5v1M9 7v1M10 -3v4M10 2v1M11 6v1M12 -3v4M12 8v1M13 5v1M13 9v4M15 -3v4M15 2v1M16 -3v5M16 8v1M17 -3v4M17 2v1M17 4v1M19 1v2M19 7v1M21 6v1M23 3v1M23 6v1M24 4v1M25 -3v4M25 2v1M25 6v2M26 5v1M29 5v1M30 2v1M30 4v1M31 -3v4M31 2v2M32 9v4M34 6v1M34 9v4M38 7v1M40 6v1M42 1v1M45 8v1M52 -3v5M52 4v1M52 6v1M56 3v1M60 1v1M60 4v1M65 -3v4M69 5v1M69 7v6M72 -3v4M74 3v1M76 1v3M77 -3v4M78 -3v4M78 3v1M78 6v1M78 8v5M79 7v1M80 8v5M82 3v1M83 2v1M84 3v2M85 1v1M85 4v1M86 1v3M86 7v1M88 3v1M88 5v1M89 -3v6M89 8v5M90 2v6M91 1v3M92 2v1M92 4v2M93 2v2M93 5v1M94 9v4M95 1v2M98 -3v5M98 4v4M99 4v2M99 8v1M100 2v1M100 8v5M101 -3v6M101 8v5M102 -3v5M103 4v2M104 1v2M105 3v1M110 -3v4M111 1v2M112 1v2"/><path stroke="#7d7d7d" d="M2 2v1M3 -3v5M3 3v1M7 8v1M8 4v1M9 1v1M9 3v1M10 3v1M10 9v4M11 5v1M16 2v2M16 5v1M18 1v1M19 -3v4M19 5v1M19 9v4M20 3v1M20 5v1M21 3v1M22 5v1M23 4v1M25 3v1M25 5v1M26 9v4M27 -3v5M28 8v1M29 2v1M30 1v1M30 5v2M30 9v4M31 4v2M31 8v1M32 3v5M33 8v1M34 1v1M35 5v2M36 4v1M36 6v1M37 3v1M37 5v2M38 3v1M39 -3v4M39 4v1M40 -3v4M40 4v1M40 8v5M41 5v1M41 7v6M42 4v1M43 3v2M43 9v4M44 1v4M44 6v2M45 5v3M46 8v5M48 6v3M49 6v2M51 -3v5M51 4v1M52 7v1M53 -3v4M53 2v1M53 4v2M54 -3v4M54 4v1M55 -3v6M55 6v1M56 2v1M56 7v6M57 3v1M59 8v1M60 -3v4M60 6v3M61 1v1M61 3v1M61 7v1M62 -3v4M62 2v1M62 4v1M62 6v1M63 8v1M64 1v1M64 9v4M65 1v2M65 5v8M66 4v2M67 3v2M68 7v6M69 4v1M70 -3v4M71 4v2M72 4v1M73 -3v4M73 3v2M73 7v6M74 1v2M74 4v1M76 -3v4M77 3v1M77 5v1M77 7v1M79 1v1M79 4v1M81 7v1M82 5v1M83 1v1M83 5v1M83 9v4M84 1v1M85 2v2M85 7v6M86 6v1M86 9v4M87 8v1M88 -3v5M88 9v4M90 8v1M94 8v1M95 5v1M96 8v1M99 -3v4M100 6v1M103 -3v5M104 8v1M111 9v4M112 9v4"/><path stroke="#828282" d="M2 3v1M5 5v1M7 1v2M7 4v1M7 9v4M9 -3v4M9 9v4M10 4v1M11 3v2M15 3v4M15 8v1M16 4v1M18 4v2M18 9v4M19 4v1M21 -3v4M21 2v1M21 4v1M22 4v1M23 5v1M23 9v4M24 1v2M24 8v5M25 9v4M26 3v1M26 7v2M27 3v1M27 5v8M28 6v1M28 9v4M30 -3v4M30 7v2M32 1v1M33 2v1M33 9v4M34 2v1M34 4v2M35 4v1M35 7v2M36 -3v5M36 7v1M37 4v1M39 1v1M39 3v1M39 5v1M40 1v2M40 7v1M41 -3v5M41 6v1M42 2v2M42 7v2M43 2v1M43 6v1M44 5v1M44 8v5M47 -3v5M47 7v6M48 4v2M49 3v2M50 8v1M51 3v1M51 7v2M53 3v1M53 6v2M54 1v2M54 6v1M57 1v1M57 7v1M57 9v4M58 -3v5M59 7v1M61 -3v4M61 4v1M62 1v1M62 3v1M62 5v1M62 7v6M63 1v1M63 4v2M64 2v1M64 4v1M64 7v2M65 4v1M66 2v2M67 -3v6M67 6v2M67 9v4M68 4v1M68 6v1M70 1v2M70 4v1M70 8v1M71 8v5M72 8v1M73 1v1M74 5v1M74 7v2M75 3v1M77 2v1M77 4v1M77 8v5M79 2v1M79 5v1M81 1v1M81 6v1M81 9v4M83 6v2M88 2v1M89 4v1M91 5v3M94 6v1"/><path stroke="#868686" d="M5 4v1M7 -3v4M15 7v1M18 2v2M20 4v1M22 -3v5M22 3v1M24 -3v4M24 6v1M27 2v1M27 4v1M28 5v1M29 1v1M31 7v1M31 9v4M32 -3v4M33 -3v5M33 4v4M34 3v1M35 9v4M36 3v1M36 8v5M39 6v1M39 8v5M40 3v1M42 5v1M43 7v1M46 -3v4M46 2v1M46 7v1M47 2v1M47 6v1M48 2v2M48 9v4M49 2v1M49 5v1M51 2v1M51 9v4M53 1v1M53 8v1M54 3v1M54 8v1M55 7v1M57 2v1M57 4v1M57 8v1M59 2v1M59 6v1M60 5v1M61 6v1M63 2v1M63 7v1M64 3v1M66 -3v5M66 7v2M67 5v1M67 8v1M68 -3v7M68 5v1M70 5v1M70 7v1M72 7v1M72 9v4M76 7v1M79 -3v4M79 3v1M81 5v1M81 8v1M82 -3v4M86 4v1M87 6v2M91 8v5M95 6v1"/><path stroke="#8a8a8a" d="M21 1v1M22 2v1M24 7v1M28 1v1M28 3v2M29 -3v4M33 3v1M35 3v1M39 7v1M41 2v2M46 1v1M46 6v1M47 3v3M50 -3v5M50 6v2M50 9v4M53 9v4M55 9v4M57 -3v4M58 2v2M58 8v1M59 -3v5M61 5v1M63 6v1M70 9v4M72 6v1M73 6v1M74 -3v4M75 4v3M76 8v1M80 1v1M81 2v3M86 5v1M94 7v1M95 7v6"/><path stroke="#8e8e8e" d="M28 -3v4M28 2v1M35 -3v5M41 4v1M42 9v4M46 3v1M49 -3v5M50 5v1M54 9v4M55 8v1M57 5v2M58 6v2M58 9v4M59 3v1M75 7v1M75 9v4M76 9v4"/><path stroke="#929292" d="M35 2v1M46 4v1M48 -3v5M50 4v1M58 4v2M59 5v1M66 9v4M75 8v1"/><path stroke="#969696" d="M46 5v1M50 2v2M59 4v1M80 -3v4"/></g></g><path stroke="#d02800" stroke-width=".8" stroke-opacity="0.28" d="M92.0 3.8v1.0M76.8 8.6v0.7M86.0 3.8v1.0M88.5 6.0v0.7M90.2 4.2v0.7M14.0 3.9v1.7M80.6 0.0v1.7M105.0 3.8v1.7M42.7 0.6v1.0M93.0 0.0v1.7M91.6 2.2v0.7M79.1 3.3v1.7"/><path stroke="#1030d8" stroke-width=".8" stroke-opacity="0.28" d="M91.3 4.7v1.0M98.2 5.7v1.7M29.6 4.9v1.0M87.7 4.2v1.7M65.3 4.3v0.7M58.6 3.4v1.7M47.2 0.6v1.7M22.1 3.5v1.7M0.5 7.0v1.7"/><path stroke="#f09000" stroke-width=".8" stroke-opacity="0.28" d="M85.1 8.1v0.7"/></svg>
<text x="344.15" y="126.5" font-size="4.08" text-anchor="middle" fill="#262626">dVTEC VR1 24h (10E 70N)</text>
<text x="286.6" y="158.65" font-size="3.4" text-anchor="end" fill="#262626">0</text>
<text x="286.6" y="146.421" font-size="3.4" text-anchor="end" fill="#262626">10</text>
<text x="286.6" y="134.192" font-size="3.4" text-anchor="end" fill="#262626">20</text>
<svg x="414.2" y="128" width="111.5" height="29.35" viewBox="0 0 112 10" preserveAspectRatio="none" stroke-width="1.04" fill="none"><g filter="url(#f7)"><rect x="-4" y="-4" width="120" height="18" fill="#828282"/><g transform="translate(.5)"><path stroke="#5d5d5d" d="M108 8v1"/><path stroke="#616161" d="M63 9v4M108 9v4"/><path stroke="#656565" d="M6 9v4M75 6v1M106 4v2M106 8v1M109 6v1"/><path stroke="#696969" d="M6 8v1M7 4v1M8 5v1M12 7v2M67 -3v5M75 5v1M77 -3v4M91 7v2M98 9v4M100 -3v4M103 1v1M103 3v2M106 -3v6M106 7v1M108 7v1M109 1v1M109 3v1M109 7v1M110 -3v4"/><path stroke="#6d6d6d" d="M3 8v1M6 3v1M7 3v1M22 -3v4M57 6v1M63 8v1M77 1v1M81 6v2M85 1v1M91 9v4M92 9v4M94 9v4M98 7v2M100 5v1M102 2v1M103 2v1M104 4v1M106 3v1M106 6v1M107 5v1M108 2v1M109 2v1M109 4v2M109 9v4M110 1v3M111 2v2M112 2v2"/><path stroke="#717171" d="M-1 -3v4M0 -3v4M1 3v2M3 6v1M6 -3v4M6 2v1M6 6v2M7 -3v6M7 5v3M12 6v1M17 1v2M18 2v1M34 4v1M57 5v1M68 9v4M75 4v1M75 7v1M81 5v1M83 2v1M85 -3v4M85 2v1M85 4v1M88 4v1M92 3v1M92 6v1M92 8v1M93 2v1M93 9v4M94 5v1M98 4v1M100 1v1M100 7v1M100 9v4M102 1v1M102 3v3M104 3v1M104 5v1M104 9v4M105 3v2M106 9v4M107 1v1M107 4v1M107 6v1M108 -3v5M109 -3v4M110 6v2M110 9v4M111 -3v4M111 4v1M111 7v1M112 -3v4M112 4v1M112 7v1"/><path stroke="#757575" d="M1 -3v6M1 8v5M3 3v1M3 7v1M3 9v4M4 7v1M4 9v4M6 1v1M6 4v2M8 3v2M8 6v2M10 2v1M10 4v1M10 6v7M12 9v4M15 5v1M16 -3v4M17 -3v4M17 3v1M18 3v1M22 1v1M24 -3v4M30 3v1M31 9v4M33 1v1M34 5v2M40 4v2M44 3v2M44 8v1M47 7v1M57 7v2M60 2v1M63 7v1M67 2v2M67 7v1M69 4v1M72 4v1M74 2v1M74 5v2M77 5v1M80 3v1M80 9v4M83 3v2M85 3v1M85 9v4M88 3v1M89 2v2M90 2v2M91 6v1M92 1v1M92 4v2M92 7v1M93 1v1M93 8v1M94 6v3M95 5v1M96 6v1M96 8v5M97 5v1M97 9v4M98 1v1M98 5v2M99 -3v4M99 2v3M100 2v2M100 8v1M102 -3v4M102 6v1M103 -3v4M103 5v2M104 2v1M104 6v3M105 1v2M107 -3v4M107 2v1M107 7v1M108 3v1M108 5v2M109 8v1M110 4v2M111 1v1M111 6v1M111 8v1M112 1v1M112 6v1M112 8v1"/><path stroke="#797979" d="M-1 1v1M-1 8v5M0 1v1M0 8v5M2 -3v4M3 1v2M3 4v1M4 2v1M4 6v1M4 8v1M5 3v4M5 9v4M7 8v5M8 1v2M8 8v5M10 1v1M10 3v1M10 5v1M11 7v6M12 5v1M15 4v1M16 3v1M16 7v6M17 8v1M18 -3v5M18 6v7M19 1v1M19 6v2M20 2v1M20 6v2M20 9v4M24 9v4M26 -3v6M26 4v1M26 9v4M28 3v1M29 4v1M29 6v1M30 4v2M31 2v2M31 5v2M31 8v1M32 3v1M33 2v1M34 3v1M34 7v1M35 5v1M38 9v4M40 3v1M40 6v2M42 -3v4M42 4v2M43 8v1M44 9v4M45 -3v5M47 3v1M47 6v1M53 5v1M57 9v4M58 2v1M60 1v1M60 3v1M67 4v1M68 7v2M69 3v1M69 5v1M72 -3v4M72 5v1M74 1v1M74 3v1M74 9v4M75 3v1M75 8v1M77 3v1M78 -3v4M79 2v1M79 8v1M80 2v1M80 8v1M81 3v2M81 8v5M83 1v1M83 5v1M83 8v5M84 1v3M85 5v4M87 3v1M87 6v1M88 -3v4M88 6v7M89 4v1M90 -3v5M92 2v1M93 -3v4M93 4v1M93 7v1M94 2v1M94 4v1M95 -3v5M95 6v2M96 5v1M96 7v1M97 6v3M98 -3v4M98 2v2M99 1v1M99 5v1M100 4v1M100 6v1M101 1v1M101 6v2M102 7v1M102 9v4M103 7v1M105 7v1M105 9v4M107 3v1M108 4v1M110 8v1M111 5v1M112 5v1"/><path stroke="#7d7d7d" d="M-1 5v1M-1 7v1M0 5v1M0 7v1M1 5v3M2 1v2M3 5v1M4 -3v5M4 3v1M4 5v1M5 2v1M5 8v1M8 -3v4M9 3v1M9 5v1M9 8v5M10 -3v4M11 3v1M11 6v1M13 -3v6M14 9v4M15 3v1M16 2v1M16 5v1M17 4v2M17 7v1M17 9v4M18 4v2M19 -3v4M19 2v3M19 9v4M20 -3v5M20 3v1M20 8v1M22 2v2M22 5v2M23 1v1M24 2v1M24 5v1M24 8v1M25 2v1M25 9v4M26 3v1M26 6v2M27 5v3M28 4v1M28 8v1M29 2v1M29 5v1M29 7v1M29 9v4M30 -3v6M30 9v4M31 4v1M31 7v1M32 2v1M33 -3v4M33 3v1M34 2v1M34 8v5M35 -3v4M35 3v1M37 5v1M37 7v6M38 -3v4M38 3v4M38 8v1M39 4v1M40 8v1M42 1v1M42 3v1M42 6v2M43 7v1M44 5v1M44 7v1M45 2v1M47 1v1M49 2v2M50 9v4M51 4v3M52 4v1M56 6v1M58 3v3M60 -3v4M60 7v1M62 -3v4M64 8v1M65 -3v4M66 -3v4M66 5v3M66 9v4M68 6v1M69 1v2M69 6v1M69 8v5M70 3v1M71 9v4M72 3v1M72 9v4M73 8v1M74 -3v4M74 7v2M75 1v2M76 -3v4M77 2v1M77 4v1M77 6v2M78 9v4M79 7v1M81 2v1M82 -3v5M82 7v2M83 -3v4M83 6v2M84 -3v4M84 4v2M86 1v1M86 3v1M87 -3v6M87 4v2M87 7v1M88 1v2M88 5v1M89 -3v5M90 5v1M90 7v6M91 2v1M91 5v1M92 -3v4M93 3v1M94 3v1M95 2v3M95 8v5M96 4v1M97 -3v6M97 4v1M99 6v1M99 8v1M101 -3v4M101 5v1M101 8v1M104 -3v5M105 -3v4M105 6v1M107 8v1M111 9v4M112 9v4"/><path stroke="#868686" d="M2 3v2M2 7v1M9 2v1M9 6v2M11 2v1M13 3v1M13 5v2M13 9v4M14 1v1M14 3v1M15 6v1M20 5v1M21 1v1M21 5v1M21 8v1M22 4v1M22 7v1M22 9v4M23 -3v4M23 4v3M24 4v1M24 7v1M25 5v1M27 -3v4M29 -3v4M30 8v1M31 -3v4M32 8v5M34 -3v5M36 -3v6M36 5v8M39 3v1M39 5v1M39 8v1M41 4v1M41 8v1M43 -3v4M43 2v1M45 5v1M46 3v1M46 6v1M46 8v5M47 9v4M48 1v2M48 5v1M49 -3v4M49 5v1M49 8v5M50 2v1M50 7v2M51 2v2M51 9v4M52 1v1M52 6v1M53 -3v4M53 6v1M54 2v2M54 5v1M54 9v4M55 -3v4M55 2v1M56 7v1M57 2v1M58 -3v4M58 6v1M58 9v4M59 1v1M59 3v1M59 7v1M60 8v1M61 1v1M61 8v1M62 1v3M63 -3v7M64 2v2M64 5v1M64 7v1M65 1v3M66 4v1M69 7v1M70 7v1M71 4v2M76 1v1M76 4v2M77 8v1M78 2v1M78 5v1M78 8v1M79 -3v4M79 3v1M80 -3v5M80 5v1M81 -3v4M82 2v1M82 4v2M84 9v4M89 5v1M89 7v2M91 3v1M94 -3v4M96 2v1M102 8v1"/><path stroke="#8a8a8a" d="M-1 4v1M0 4v1M2 6v1M5 1v1M12 4v1M14 2v1M15 -3v4M21 2v3M21 6v1M21 9v4M22 8v1M23 7v1M25 3v2M29 8v1M32 7v1M33 5v1M35 8v1M36 3v2M37 4v1M39 9v4M41 3v1M41 5v1M41 7v1M41 9v4M42 8v1M43 1v1M43 4v1M45 3v1M45 7v1M48 -3v4M48 4v1M48 6v1M48 8v1M49 7v1M50 6v1M51 8v1M52 -3v4M52 2v1M53 2v2M53 7v1M54 -3v5M54 7v1M55 3v1M55 5v1M55 9v4M56 1v1M56 8v1M57 1v1M58 7v1M60 9v4M61 -3v4M61 6v2M62 4v1M62 8v5M64 1v1M65 4v1M65 9v4M67 5v1M70 1v2M72 6v1M73 3v1M73 6v1M76 3v1M76 6v7M77 9v4M78 3v1M78 6v2M80 6v1M82 3v1M86 6v2M86 9v4M89 9v4M91 4v1M103 9v4"/><path stroke="#8e8e8e" d="M12 2v1M15 7v1M21 7v1M28 -3v5M33 8v5M37 -3v6M39 1v1M41 1v2M42 9v4M46 2v1M48 7v1M50 1v1M51 1v1M52 7v1M53 8v5M55 4v1M55 6v3M56 -3v4M56 2v1M56 4v1M58 8v1M59 8v5M61 3v1M61 5v1M61 9v4M64 -3v4M65 5v1M65 8v1M68 -3v4M70 8v1M73 -3v5M78 4v1M86 5v1"/><path stroke="#929292" d="M9 1v1M12 -3v5M12 3v1M13 4v1M39 7v1M41 -3v4M48 9v4M50 -3v4M56 3v1M56 5v1M56 9v4M61 4v1M62 5v3M65 6v2M68 1v1M68 3v1M70 9v4M73 2v1M73 4v2M86 4v1"/><path stroke="#969696" d="M5 -3v4M9 -3v4M11 -3v5M39 -3v4M46 -3v4M52 8v1M61 2v1M68 2v1"/><path stroke="#9a9a9a" d="M46 1v1"/><path stroke="#9e9e9e" d="M52 9v4"/></g></g><path stroke="#d02800" stroke-width=".8" stroke-opacity="0.28" d="M106.8 5.3v1.7M34.3 4.4v1.7M85.5 1.4v0.7M8.4 4.5v1.0M93.9 8.8v0.7M103.1 4.0v1.0M97.4 5.9v0.7M58.2 8.7v0.7"/><path stroke="#1030d8" stroke-width=".8" stroke-opacity="0.28" d="M63.2 3.2v0.7M16.7 2.7v0.7M40.1 3.0v1.0M93.8 0.7v0.7M80.7 5.1v0.7M108.8 4.2v1.0M94.4 0.0v1.7"/><path stroke="#f09000" stroke-width=".8" stroke-opacity="0.28" d="M52.9 3.9v1.0M66.1 0.0v0.7M73.0 2.2v1.0M2.1 6.5v0.7M85.8 6.0v1.7M39.8 3.0v1.0M66.0 3.5v0.7"/></svg>
<text x="469.95" y="126.5" font-size="4.08" text-anchor="middle" fill="#262626">dVTEC VR1 diff  24h (10E 70N)</text>
<text x="412.8" y="158.65" font-size="3.4" text-anchor="end" fill="#262626">0</text>
<text x="412.8" y="146.421" font-size="3.4" text-anchor="end" fill="#262626">10</text>
<text x="412.8" y="134.192" font-size="3.4" text-anchor="end" fill="#262626">20</text>
<rect x="532.5" y="128" width="2" height="29.35" fill="url(#jetg)"/>
<text x="536" y="153.147" font-size="3.42" text-anchor="start" fill="#262626">−5</text>
<text x="536" y="143.975" font-size="3.42" text-anchor="start" fill="#262626">0</text>
<text x="536" y="134.803" font-size="3.42" text-anchor="start" fill="#262626">5</text>
<svg x="288" y="162.85" width="112.3" height="29.35" viewBox="0 0 112 10" preserveAspectRatio="none" stroke-width="1.04" fill="none"><g filter="url(#f6)"><rect x="-4" y="-4" width="120" height="18" fill="#7d7d7d"/><g transform="translate(.5)"><path stroke="#4d4d4d" d="M99 -3v4"/><path stroke="#515151" d="M99 1v1"/><path stroke="#555" d="M54 -3v4"/><path stroke="#616161" d="M46 -3v4M52 4v2M54 1v1M99 2v1"/><path stroke="#656565" d="M5 5v1M31 5v1M39 3v1M60 -3v4M63 3v1M72 3v1"/><path stroke="#696969" d="M3 1v1M5 6v1M20 -3v4M31 4v1M39 2v1M52 3v1M58 5v1M72 4v1M73 6v1M74 -3v4M79 1v2M80 -3v6M81 4v1M92 6v1M95 -3v4M104 -3v4"/><path stroke="#6d6d6d" d="M2 3v1M3 -3v4M3 2v1M3 5v3M4 5v1M5 4v1M8 3v2M16 -3v5M46 1v1M49 -3v6M58 4v1M58 6v1M60 1v1M60 4v1M65 3v1M65 5v1M72 2v1M83 7v1M92 5v1M95 1v1M98 6v1M99 3v1M104 1v1M105 -3v5"/><path stroke="#717171" d="M-1 9v4M0 9v4M1 4v1M1 8v1M2 2v1M2 4v2M3 3v2M4 -3v4M4 2v1M4 6v1M5 1v1M5 3v1M5 8v1M6 2v1M7 1v1M8 1v2M8 6v1M9 5v1M10 5v1M10 7v1M14 -3v7M15 -3v4M16 2v1M16 4v1M20 1v1M24 -3v5M30 6v1M31 3v1M31 6v1M32 -3v4M32 7v1M36 -3v4M37 6v1M39 -3v4M39 4v1M48 2v1M52 2v1M60 5v2M61 3v1M62 5v2M63 4v1M65 4v1M68 -3v5M73 5v1M74 1v1M79 -3v4M79 3v1M81 1v1M81 3v1M81 5v2M83 8v1M87 5v1M88 -3v4M90 3v1M91 -3v4M93 1v1M94 5v1M98 5v1M99 4v2M106 4v1M110 -3v4M110 6v1"/><path stroke="#757575" d="M-1 1v3M-1 7v2M0 1v3M0 7v2M1 -3v4M1 3v1M1 5v3M1 9v4M2 -3v5M2 6v7M3 8v5M4 1v1M4 3v2M4 7v6M5 2v1M5 7v1M5 9v4M6 -3v5M6 5v4M7 -3v4M7 3v1M7 7v6M8 -3v4M8 5v1M8 7v2M9 2v1M9 4v1M9 6v1M9 9v4M10 1v1M10 3v2M10 6v1M10 8v1M11 6v1M11 8v5M12 2v2M14 4v1M14 6v2M15 1v2M16 3v1M17 3v1M17 7v1M18 8v1M21 -3v4M23 1v1M23 6v2M25 1v1M25 6v1M25 8v1M27 2v1M28 3v1M31 2v1M32 1v1M32 8v1M33 8v1M35 9v4M36 1v1M37 4v1M37 8v1M38 -3v4M38 3v1M39 1v1M39 5v1M39 8v5M40 6v1M42 2v1M50 2v1M52 1v1M52 8v5M53 -3v4M53 2v1M53 8v1M55 7v2M58 3v1M58 7v1M59 -3v5M60 2v1M61 8v1M62 -3v4M62 7v2M63 2v1M65 6v1M68 8v1M69 -3v4M69 4v2M72 5v2M74 8v1M75 2v1M75 5v2M77 1v1M77 9v4M79 4v1M80 9v4M81 2v1M82 8v1M83 5v2M84 8v1M86 3v1M87 1v1M87 4v1M87 6v2M89 -3v5M90 1v2M90 5v1M90 7v1M92 7v1M93 -3v4M93 2v1M94 6v1M94 8v1M95 3v1M96 9v4M97 -3v4M97 2v4M98 -3v4M98 3v1M98 8v1M99 6v1M101 6v1M102 1v1M102 3v2M102 8v1M103 -3v5M103 5v1M104 5v1M106 1v1M106 3v1M107 8v1M108 -3v4M108 5v1M110 1v1M110 7v1M111 2v1M112 2v1"/><path stroke="#797979" d="M-1 -3v4M-1 4v2M0 -3v4M0 4v2M1 1v1M5 -3v4M6 3v2M6 9v4M7 2v1M7 4v1M8 9v4M9 1v1M9 3v1M9 8v1M10 -3v4M10 2v1M11 5v1M11 7v1M12 4v9M13 2v1M13 8v1M15 8v5M16 5v2M16 8v1M17 -3v6M17 4v2M17 8v1M18 -3v5M18 6v2M18 9v4M19 2v1M19 5v1M19 9v4M20 2v1M20 6v2M21 1v2M21 4v1M21 8v1M22 5v1M23 -3v4M23 9v4M24 2v5M25 7v1M25 9v4M26 3v1M27 -3v5M27 3v1M27 6v1M28 5v1M28 9v4M29 3v4M29 9v4M30 4v2M30 9v4M31 -3v4M32 2v2M32 6v1M32 9v4M33 2v1M33 9v4M34 1v1M34 4v1M35 2v1M35 8v1M36 4v1M36 6v1M36 8v1M37 5v1M37 7v1M38 1v1M38 7v2M39 6v2M40 4v1M41 3v1M42 3v2M42 8v5M43 -3v4M43 9v4M44 8v5M45 2v1M46 2v1M46 8v1M48 -3v5M48 3v2M48 6v1M48 9v4M49 3v2M49 9v4M50 3v3M51 -3v4M52 -3v4M52 6v1M53 1v1M53 9v4M54 8v1M55 6v1M55 9v4M56 -3v7M56 7v1M57 5v3M57 9v4M58 -3v4M58 2v1M59 2v1M59 4v1M59 9v4M60 3v1M60 7v2M61 2v1M62 3v2M63 1v1M63 7v2M64 1v5M64 7v6M65 2v1M65 7v1M66 8v5M67 8v5M68 5v3M69 1v3M69 7v1M70 -3v7M70 6v1M71 8v5M72 -3v5M72 7v1M73 7v2M74 6v1M74 9v4M75 4v1M75 7v2M76 9v4M77 2v3M78 6v1M78 9v4M79 7v6M80 3v1M81 -3v4M83 4v1M83 9v4M84 -3v6M85 3v1M85 7v1M86 4v1M87 -3v4M87 3v1M88 1v1M88 7v2M89 3v1M89 8v5M90 -3v4M90 8v5M91 1v1M93 7v6M94 -3v5M94 4v1M94 7v1M95 2v1M95 4v1M95 9v4M96 1v1M97 1v1M97 6v2M97 9v4M98 1v2M98 4v1M98 9v4M99 7v2M100 7v1M101 -3v4M101 5v1M101 7v6M102 -3v4M102 6v1M103 6v1M104 2v3M104 6v1M104 8v5M105 2v1M105 5v2M106 7v1M107 5v1M108 1v1M108 3v2M108 6v1M108 9v4M109 -3v4M109 3v1M109 5v1M109 9v4M110 2v1M110 5v1M110 8v1M111 -3v5M111 3v1M112 -3v5M112 3v1"/><path stroke="#828282" d="M1 2v1M7 5v1M11 2v2M12 1v1M13 1v1M13 5v3M15 4v1M15 6v1M16 7v1M18 2v3M19 -3v4M19 6v1M20 4v2M21 6v1M22 4v1M23 3v2M24 9v4M26 5v1M26 9v4M27 4v1M28 2v1M29 1v1M29 7v1M30 2v2M33 -3v4M33 5v1M34 2v1M35 -3v4M35 4v1M36 7v1M38 5v1M40 2v1M42 -3v4M43 4v1M43 6v2M44 2v2M44 6v1M45 1v1M45 7v1M46 4v1M47 -3v4M49 5v3M50 -3v4M50 8v1M51 1v1M51 5v1M53 4v1M53 6v2M54 5v1M54 7v1M55 3v2M57 -3v5M57 8v1M58 1v1M61 7v1M64 6v1M65 -3v5M66 6v1M67 2v1M67 6v2M69 8v1M70 4v1M71 6v1M73 2v2M74 2v1M74 4v1M76 -3v5M77 5v2M77 8v1M78 1v1M78 3v3M78 8v1M81 7v1M82 2v1M82 4v1M82 6v1M82 9v4M84 3v1M85 -3v5M85 6v1M86 5v1M86 8v1M88 2v1M88 5v2M89 7v1M91 4v2M91 7v1M92 3v1M93 4v3M95 5v1M96 2v1M96 4v1M96 7v1M100 -3v4M100 3v2M100 9v4M101 4v1M103 9v4M105 7v1M106 9v4M107 -3v5M107 3v2M107 6v2M108 7v1M109 2v1M109 6v1M111 5v1M111 8v1M112 5v1M112 8v1"/><path stroke="#868686" d="M7 6v1M11 1v1M13 -3v4M15 5v1M21 7v1M22 -3v6M25 5v1M26 -3v5M26 7v1M28 1v1M29 -3v4M30 1v1M34 -3v4M35 6v1M40 -3v4M41 2v1M43 3v1M43 5v1M44 -3v4M44 4v1M44 7v1M45 -3v4M47 3v1M47 5v1M50 7v1M51 6v1M53 5v1M54 3v2M56 4v1M66 3v1M67 1v1M67 3v1M70 5v1M74 3v1M76 7v1M79 5v1M80 7v1M82 -3v4M83 2v1M84 5v3M86 1v1M86 6v2M91 3v1M91 6v1M92 -3v4M95 6v2M96 3v1M100 5v1M111 6v1M112 6v1"/><path stroke="#8a8a8a" d="M25 4v1M26 6v1M28 -3v4M40 1v1M44 1v1M44 5v1M45 4v1M47 2v1M47 6v1M54 6v1M56 5v1M61 6v1M66 1v1M66 4v1M71 1v1M73 1v1M76 2v1M76 6v1M78 -3v4M80 5v2M82 1v1M82 5v1M92 1v1"/><path stroke="#8e8e8e" d="M30 -3v4M45 6v1M47 4v1M51 2v1M57 2v2M61 5v1M66 2v1M67 -3v4M71 -3v4M73 -3v4M86 -3v4M88 3v1M92 2v1"/><path stroke="#929292" d="M45 5v1M88 4v1"/><path stroke="#969696" d="M51 4v1"/><path stroke="#9e9e9e" d="M51 3v1"/></g></g><path stroke="#d02800" stroke-width=".8" stroke-opacity="0.32" d="M5.5 4.1v2.8M74.8 3.1v1.4M44.6 1.2v1.4M106.8 3.0v1.4M65.5 3.6v1.0M46.9 4.3v2.1M51.8 1.4v2.1M54.1 5.7v2.1M65.7 3.3v2.8M14.4 3.3v2.8M77.0 1.7v1.4M83.8 3.7v2.1M70.2 1.0v1.4M80.4 4.6v1.4M34.9 1.3v1.4"/><path stroke="#1030d8" stroke-width=".8" stroke-opacity="0.32" d="M37.0 5.4v1.0M92.2 3.0v2.1M34.9 1.1v1.4M59.8 4.3v1.4M85.5 1.7v2.1M31.9 3.3v2.8M111.5 3.7v2.8M63.6 4.0v1.0M75.0 2.4v2.8M97.3 4.6v2.1M75.2 3.0v1.4M60.8 3.2v1.0M97.2 5.4v1.0M80.4 1.6v2.1M58.1 3.3v2.1M45.5 5.1v2.1M111.5 4.2v1.0"/><path stroke="#f09000" stroke-width=".8" stroke-opacity="0.32" d="M4.6 3.7v1.0M53.3 5.1v1.4M10.0 2.1v1.0M91.2 3.8v2.1M84.9 5.6v1.4M44.0 3.2v1.4M11.3 3.2v1.4M78.0 2.9v2.8M31.4 3.1v1.0M6.2 3.4v2.1M69.5 0.3v2.1M91.0 4.2v2.8M65.0 3.8v1.4"/></svg>
<text x="344.15" y="161.35" font-size="4.08" text-anchor="middle" fill="#262626">dVTEC VR1 24h (10E 40N)</text>
<text x="286.6" y="193.5" font-size="3.4" text-anchor="end" fill="#262626">0</text>
<text x="286.6" y="181.271" font-size="3.4" text-anchor="end" fill="#262626">10</text>
<text x="286.6" y="169.042" font-size="3.4" text-anchor="end" fill="#262626">20</text>
<svg x="414.2" y="162.85" width="111.5" height="29.35" viewBox="0 0 112 10" preserveAspectRatio="none" stroke-width="1.04" fill="none"><g filter="url(#f7)"><rect x="-4" y="-4" width="120" height="18" fill="#7d7d7d"/><g transform="translate(.5)"><path stroke="#555" d="M51 1v1"/><path stroke="#5d5d5d" d="M51 -3v4"/><path stroke="#616161" d="M32 -3v4"/><path stroke="#656565" d="M33 5v1M48 -3v4M68 4v1M73 -3v5"/><path stroke="#696969" d="M2 -3v5M3 2v1M17 -3v4M32 1v2M33 -3v4M33 6v1M51 2v1M53 3v1M73 2v1M93 1v2"/><path stroke="#6d6d6d" d="M-1 4v1M0 4v1M1 -3v4M1 5v1M3 1v1M4 6v1M5 -3v4M12 3v2M20 6v1M48 1v1M55 4v1M68 5v1M81 2v2M84 6v1M86 5v1M92 4v1M93 -3v4M98 4v1M101 2v1M103 4v1"/><path stroke="#717171" d="M-1 2v2M-1 5v2M0 2v2M0 5v2M1 1v4M1 8v5M2 2v1M2 8v1M3 3v1M3 5v1M3 7v2M4 9v4M5 2v1M5 9v4M6 1v1M6 8v1M7 -3v4M9 4v1M10 1v1M10 3v2M12 2v1M16 5v2M20 7v1M28 1v2M30 -3v4M33 1v1M37 6v1M39 5v1M42 5v1M48 2v1M50 3v1M53 1v2M53 4v1M53 6v1M55 5v1M63 5v1M64 1v2M66 -3v4M68 3v1M69 3v1M78 3v1M81 4v2M84 7v1M86 6v1M90 6v1M93 3v1M97 -3v4M98 3v1M98 6v1M100 -3v5M103 5v1M104 2v1M107 3v1M108 3v3"/><path stroke="#757575" d="M-1 7v6M0 7v6M1 6v1M2 3v1M2 7v1M2 9v4M3 -3v4M3 4v1M3 6v1M4 -3v4M4 4v2M4 7v2M5 1v1M5 6v2M6 -3v4M6 2v5M6 9v4M7 7v6M8 9v4M9 7v1M10 -3v4M10 2v1M10 5v1M10 7v2M11 3v2M11 7v1M12 1v1M12 8v1M13 3v1M13 5v3M13 9v4M14 2v1M14 5v1M14 7v1M15 -3v5M15 7v6M16 4v1M17 1v1M19 1v1M20 1v1M20 4v1M21 6v1M23 -3v4M28 -3v4M30 1v2M32 9v4M34 3v2M35 8v1M38 6v1M39 4v1M39 6v1M40 3v1M41 -3v5M41 5v2M42 3v2M42 6v2M44 2v1M45 3v1M45 6v1M46 -3v4M48 3v1M48 8v1M50 4v2M51 3v1M52 6v1M53 -3v4M53 5v1M53 7v1M55 2v2M56 9v4M64 3v1M66 1v2M67 2v1M67 8v1M68 2v1M68 6v1M69 -3v4M69 2v1M69 4v1M70 8v1M71 -3v5M73 3v1M73 6v2M79 5v2M81 1v1M82 2v1M84 5v1M85 7v1M91 2v2M92 1v1M92 3v1M92 5v1M93 4v1M95 6v1M95 9v4M96 6v1M97 1v1M98 -3v4M98 5v1M100 2v1M100 6v2M101 -3v5M101 3v1M102 -3v4M102 3v1M104 3v3M107 -3v4M107 2v1M107 7v1M107 9v4M109 3v1"/><path stroke="#797979" d="M-1 -3v5M0 -3v5M1 7v1M2 5v1M3 9v4M4 3v1M5 3v1M5 5v1M5 8v1M6 7v1M7 2v2M7 6v1M8 -3v4M8 2v3M8 7v1M9 5v1M9 8v5M10 6v1M10 9v4M11 5v2M11 9v4M12 -3v4M12 5v1M13 -3v4M13 2v1M13 8v1M14 -3v5M14 6v1M14 8v1M15 4v2M16 1v1M16 7v1M17 2v2M17 5v3M17 9v4M19 -3v4M19 2v4M19 7v2M20 3v1M20 5v1M20 8v1M21 -3v4M21 5v1M21 7v2M22 2v4M22 8v1M23 1v2M23 4v1M23 8v1M24 5v1M25 5v2M25 8v5M27 7v1M28 3v3M30 8v1M31 -3v4M32 3v2M32 8v1M33 2v3M33 7v1M33 9v4M34 1v2M34 5v1M34 9v4M35 4v1M36 1v1M36 3v4M37 5v1M37 7v1M37 9v4M38 5v1M38 9v4M39 -3v6M40 2v1M41 2v1M41 8v1M44 7v2M45 5v1M45 7v6M46 5v3M48 4v1M49 3v3M49 7v1M50 1v2M50 9v4M52 5v1M54 6v3M55 -3v5M55 6v1M55 8v1M56 8v1M57 8v5M59 7v1M60 -3v5M60 7v2M61 -3v6M61 8v1M62 9v4M63 6v1M64 -3v4M64 8v1M65 -3v5M65 4v1M65 6v1M65 8v5M66 3v1M66 5v2M66 9v4M67 6v1M67 9v4M68 7v2M69 5v1M69 8v1M70 5v2M71 2v1M72 1v1M72 5v1M72 9v4M73 8v1M74 8v1M75 -3v4M76 4v2M76 8v1M78 2v1M78 4v2M79 -3v4M79 2v1M79 4v1M79 7v2M80 -3v4M80 2v3M80 6v1M81 8v5M82 4v1M82 8v1M83 -3v4M84 8v1M85 6v1M85 9v4M86 -3v4M86 7v1M87 4v1M87 6v1M87 9v4M88 7v2M89 2v1M90 -3v4M90 2v3M90 7v1M91 1v1M91 6v1M92 -3v4M92 2v1M93 5v3M94 -3v4M94 4v1M94 7v1M95 1v1M95 5v1M96 7v1M97 2v1M97 7v2M98 1v2M99 2v1M99 4v1M99 7v2M100 3v1M100 8v1M102 4v1M102 8v1M103 6v1M103 9v4M104 -3v5M104 7v2M105 -3v6M106 -3v4M106 2v1M106 4v2M107 1v1M107 4v2M109 2v1M110 -3v6M110 5v2M111 7v1M111 9v4M112 7v1M112 9v4"/><path stroke="#828282" d="M7 5v1M9 2v1M15 3v1M18 3v5M20 -3v4M21 2v1M21 4v1M23 3v1M23 6v1M23 9v4M24 1v3M26 -3v6M26 4v1M27 2v1M27 6v1M28 7v2M29 1v1M29 5v1M29 7v1M30 3v3M30 7v1M30 9v4M31 3v2M31 9v4M32 7v1M35 3v1M35 5v1M35 7v1M36 8v1M37 -3v5M37 8v1M38 -3v4M38 2v1M40 -3v4M40 9v4M41 3v1M43 1v1M43 6v2M43 9v4M44 4v1M44 6v1M45 1v2M45 4v1M46 4v1M46 8v1M47 -3v4M47 4v1M47 8v1M49 2v1M50 7v1M51 6v1M52 7v2M54 2v1M54 9v4M56 4v1M56 6v1M57 -3v6M58 6v1M58 8v1M59 -3v5M59 3v3M60 2v2M60 5v1M60 9v4M61 3v1M61 5v2M62 3v3M63 1v1M63 3v1M64 4v1M64 7v1M64 9v4M65 7v1M66 7v1M67 -3v4M67 3v1M70 4v1M71 3v1M72 3v2M72 7v1M73 4v1M73 9v4M75 3v2M75 9v4M76 1v1M76 3v1M77 2v1M77 6v1M77 8v1M78 1v1M78 6v3M79 1v1M80 9v4M82 1v1M82 5v2M83 2v4M83 8v1M84 3v1M85 4v1M86 8v1M87 3v1M88 -3v4M88 3v2M89 4v1M89 8v1M90 5v1M91 4v2M91 8v1M92 6v1M94 3v1M95 7v1M96 1v2M96 4v1M96 9v4M97 5v2M97 9v4M99 -3v5M99 6v1M99 9v4M101 6v1M102 5v2M103 3v1M105 4v2M105 7v1M108 1v1M109 6v1M110 3v1M111 2v1M111 5v1M112 2v1M112 5v1"/><path stroke="#868686" d="M2 4v1M9 -3v5M11 1v1M14 4v1M18 1v1M21 3v1M25 2v1M29 6v1M31 2v1M32 6v1M38 1v1M38 4v1M43 2v1M43 5v1M45 -3v4M47 2v1M54 -3v4M56 1v2M57 6v1M58 5v1M62 -3v5M62 6v1M63 -3v4M63 2v1M64 6v1M65 2v1M70 1v2M71 4v4M74 4v1M74 6v1M76 -3v4M76 2v1M77 1v1M82 -3v4M82 7v1M83 6v2M84 2v1M85 -3v5M87 -3v4M89 7v1M94 5v2M96 3v1M97 3v1M105 6v1M106 6v1M108 -3v4M111 3v2M112 3v2"/><path stroke="#8a8a8a" d="M29 4v1M37 4v1M38 3v1M43 3v2M44 -3v4M51 4v2M54 1v1M56 -3v4M56 7v1M57 4v1M70 -3v4M74 5v1M77 -3v4M84 -3v5M87 2v1M89 6v1M111 -3v5M112 -3v5"/><path stroke="#8e8e8e" d="M25 -3v4M29 2v2M37 2v1M52 -3v4M57 5v1M58 -3v4M58 4v1M64 5v1M70 3v1M74 3v1M87 1v1"/><path stroke="#929292" d="M25 1v1M49 -3v5M52 1v1M58 1v1M58 3v1M74 -3v4M74 2v1M78 -3v4"/><path stroke="#969696" d="M37 3v1M58 2v1M74 1v1"/><path stroke="#9a9a9a" d="M52 2v1"/><path stroke="#9e9e9e" d="M52 3v1"/></g></g><path stroke="#d02800" stroke-width=".8" stroke-opacity="0.32" d="M90.2 0.0v2.8M15.4 3.3v1.0M46.9 5.1v1.0M35.5 4.0v1.4M90.2 1.6v1.4M57.6 5.2v1.0M35.2 5.8v1.4M87.3 0.0v1.0M42.7 5.9v1.0M42.9 4.6v2.8M90.7 3.6v1.4M46.0 2.5v1.4M61.8 3.7v1.4"/><path stroke="#1030d8" stroke-width=".8" stroke-opacity="0.32" d="M52.6 3.5v1.0M104.0 1.7v2.8M45.3 6.7v1.0M69.7 2.0v1.0M60.5 4.4v2.8M61.7 5.2v2.8M32.3 5.1v1.0M69.6 2.9v2.1M56.5 4.7v2.8M53.1 6.1v1.4M70.0 3.2v2.8M50.7 4.1v2.1M75.5 1.7v2.1M48.6 1.0v2.1M75.2 1.9v2.8M66.6 2.2v2.1M65.0 5.7v1.0M59.8 3.8v1.4M22.7 2.8v2.1M46.3 1.2v2.1M111.5 0.0v2.8M19.7 1.1v2.8M19.8 4.8v1.4M40.1 5.7v1.4M28.6 4.4v1.0M105.1 2.0v2.8"/><path stroke="#f09000" stroke-width=".8" stroke-opacity="0.32" d="M89.6 4.4v2.8M42.6 2.2v2.8M28.6 5.1v1.4M89.6 1.6v2.8M31.4 3.2v2.8M52.4 5.7v1.4"/></svg>
<text x="469.95" y="161.35" font-size="4.08" text-anchor="middle" fill="#262626">dVTEC VR1 diff  24h (10E 40N)</text>
<text x="412.8" y="193.5" font-size="3.4" text-anchor="end" fill="#262626">0</text>
<text x="412.8" y="181.271" font-size="3.4" text-anchor="end" fill="#262626">10</text>
<text x="412.8" y="169.042" font-size="3.4" text-anchor="end" fill="#262626">20</text>
<rect x="532.5" y="162.85" width="2" height="29.35" fill="url(#jetg)"/>
<text x="536" y="190.113" font-size="3.42" text-anchor="start" fill="#262626">−10</text>
<text x="536" y="178.825" font-size="3.42" text-anchor="start" fill="#262626">0</text>
<text x="536" y="167.537" font-size="3.42" text-anchor="start" fill="#262626">10</text>
<svg x="288" y="197.7" width="112.3" height="29.35" viewBox="0 0 112 10" preserveAspectRatio="none" stroke-width="1.04" fill="none"><g filter="url(#f6)"><rect x="-4" y="-4" width="120" height="18" fill="#7d7d7d"/><g transform="translate(.5)"><path stroke="#595959" d="M14 -3v4"/><path stroke="#5d5d5d" d="M24 1v1"/><path stroke="#616161" d="M24 2v1M37 2v1M68 1v1"/><path stroke="#656565" d="M18 3v2M23 -3v4M35 -3v4M37 3v1M54 5v2M68 -3v4"/><path stroke="#696969" d="M14 1v1M17 -3v4M23 1v1M29 -3v5M37 1v1M79 -3v4M102 5v1"/><path stroke="#6d6d6d" d="M5 6v1M16 2v1M17 1v1M18 6v1M24 3v1M29 2v1M30 7v1M35 1v2M36 2v1M37 -3v4M37 4v1M39 1v2M44 5v1M49 4v2M54 -3v4M67 -3v4M73 6v1M77 -3v4M81 -3v5M94 6v2"/><path stroke="#717171" d="M5 7v1M12 2v1M12 5v1M18 -3v6M18 5v1M20 6v1M20 8v1M22 4v1M24 4v1M30 6v1M30 9v4M32 3v1M32 6v2M34 8v1M35 3v1M39 -3v4M41 2v3M47 -3v4M54 4v1M56 2v1M62 -3v4M68 2v1M73 5v1M79 1v1M79 3v1M82 4v1M83 -3v4M88 -3v4M92 4v2M106 5v2M110 7v1"/><path stroke="#757575" d="M3 -3v4M4 5v1M5 4v2M6 7v1M10 7v1M11 7v1M11 9v4M12 3v2M12 7v1M13 6v1M16 3v1M16 7v1M17 2v1M18 7v1M19 3v1M20 7v1M21 2v1M22 3v1M22 5v1M24 -3v4M24 5v1M25 3v1M26 3v1M26 7v1M29 3v1M29 6v1M30 4v1M30 8v1M31 8v1M32 4v1M32 8v1M34 7v1M36 1v1M36 3v1M36 6v1M37 5v2M39 3v2M40 -3v4M40 6v1M42 4v1M42 9v4M44 6v1M45 -3v4M45 3v2M47 3v1M49 1v3M49 6v1M52 3v1M53 -3v4M53 6v1M54 1v2M54 7v1M55 5v1M56 3v1M62 1v1M63 7v1M65 3v2M66 6v1M67 1v1M68 8v1M71 5v1M75 6v2M76 3v3M76 7v1M77 7v1M79 2v1M81 3v2M82 3v1M82 6v1M83 6v2M85 3v1M86 5v3M88 1v1M88 8v1M89 3v1M90 1v1M93 1v3M94 5v1M97 -3v4M99 7v1M101 3v3M102 4v1M102 6v3M105 5v1M105 7v1M106 4v1M108 8v1M111 8v1M112 8v1"/><path stroke="#797979" d="M-1 1v1M-1 9v4M0 1v1M0 9v4M1 6v1M2 3v2M2 6v1M3 7v1M4 4v1M4 9v4M5 3v1M5 8v5M6 1v3M6 6v1M6 8v5M7 1v1M8 6v1M8 8v1M9 -3v4M9 9v4M10 4v2M10 8v5M11 -3v5M11 6v1M11 8v1M12 6v1M13 3v3M13 7v1M14 2v1M14 8v1M15 7v2M16 6v1M17 7v1M19 7v2M21 3v1M23 2v1M24 6v1M24 8v1M25 -3v6M26 6v1M26 8v1M28 -3v4M29 4v2M30 -3v5M30 5v1M31 6v1M31 9v4M33 1v1M33 5v1M34 9v4M35 6v3M36 4v2M36 7v1M36 9v4M37 7v6M38 5v1M39 5v2M39 9v4M40 2v2M40 8v5M41 -3v5M42 3v1M42 8v1M43 9v4M44 1v1M44 3v2M44 7v1M45 1v2M46 3v1M46 6v2M46 9v4M47 4v3M49 7v1M49 9v4M50 2v1M50 4v1M51 7v6M52 2v1M52 7v1M53 1v1M53 8v5M54 3v1M54 9v4M55 4v1M55 6v1M56 -3v4M57 -3v4M57 5v1M58 2v1M58 6v2M59 -3v4M60 5v1M60 7v1M60 9v4M62 6v1M62 8v5M63 8v1M64 -3v4M64 2v1M64 8v5M65 1v1M65 6v2M65 9v4M66 -3v5M67 7v1M67 9v4M68 7v1M69 3v1M69 8v1M70 -3v4M70 6v2M70 9v4M72 3v2M73 4v1M74 1v1M74 6v1M74 8v1M75 -3v6M76 2v1M76 8v5M79 4v1M80 7v1M81 6v1M82 1v1M82 5v1M82 8v1M83 1v1M84 1v1M84 3v1M85 2v1M85 6v1M88 2v1M88 4v1M89 2v1M90 -3v4M90 8v1M91 6v2M92 6v1M93 -3v4M93 4v3M94 -3v4M94 8v1M96 -3v5M96 4v1M97 2v1M97 4v1M97 6v1M98 4v1M99 5v2M99 8v1M100 6v1M102 -3v6M102 9v4M103 9v4M104 8v1M105 2v3M105 6v1M107 -3v6M107 4v1M108 9v4M111 -3v7M111 9v4M112 -3v7M112 9v4"/><path stroke="#828282" d="M-1 4v3M0 4v3M1 8v5M2 -3v4M2 2v1M2 5v1M2 7v6M3 2v1M4 3v1M4 6v3M5 -3v4M7 2v1M7 4v1M7 9v4M8 4v1M8 9v4M9 4v1M11 3v3M12 -3v4M12 9v4M13 2v1M14 3v1M14 6v1M14 9v4M15 1v1M15 3v1M16 1v1M16 5v1M17 4v2M18 9v4M19 -3v4M19 9v4M20 4v1M20 9v4M21 -3v5M21 4v1M21 8v1M22 2v1M22 9v4M23 8v5M25 5v1M25 7v1M26 9v4M27 4v1M27 9v4M28 6v1M28 9v4M29 9v4M31 3v1M32 2v1M34 4v1M35 9v4M38 3v1M38 6v3M40 5v1M41 8v1M42 7v1M43 3v2M43 6v1M44 2v1M45 8v1M47 2v1M48 1v1M48 5v2M48 8v1M49 -3v4M50 -3v4M50 5v3M50 9v4M51 -3v4M51 2v1M51 4v1M52 -3v5M52 4v2M53 5v1M53 7v1M54 8v1M55 3v1M55 7v1M56 9v4M57 3v1M59 1v12M60 2v1M61 2v1M62 4v1M63 2v1M64 6v2M67 4v2M68 3v1M68 5v2M68 9v4M69 -3v6M69 6v1M69 9v4M70 4v2M71 7v1M72 1v1M72 5v1M72 9v4M73 1v1M73 7v1M74 2v2M74 9v4M75 3v3M75 9v4M77 2v1M77 5v1M77 9v4M78 -3v5M78 5v2M79 7v1M80 1v1M81 2v1M83 2v1M84 5v1M86 -3v7M87 -3v6M89 -3v5M89 6v1M90 2v1M91 1v3M91 5v1M92 9v4M93 7v1M94 2v1M95 2v2M96 6v1M96 8v1M97 1v1M97 5v1M97 8v5M98 5v1M98 8v1M99 4v1M99 9v4M100 -3v5M100 8v5M101 -3v4M103 -3v4M103 3v1M103 5v1M104 -3v5M104 9v4M106 -3v4M106 3v1M106 8v1M107 7v2M108 3v1M109 3v1M109 5v2M110 3v1M111 7v1M112 7v1"/><path stroke="#868686" d="M-1 7v1M0 7v1M1 -3v5M1 3v1M3 3v1M3 6v1M5 2v1M6 4v2M7 5v1M9 1v3M9 5v1M10 1v1M14 4v1M16 9v4M19 4v1M20 1v1M22 -3v5M22 6v1M22 8v1M25 8v1M27 6v1M28 2v1M28 5v1M31 1v1M33 3v1M33 8v1M34 3v1M35 4v2M38 -3v5M41 6v1M41 9v4M43 -3v4M43 5v1M46 1v1M48 -3v4M48 4v1M48 7v1M48 9v4M53 4v1M55 -3v4M56 6v1M58 4v1M61 -3v5M61 3v1M61 9v4M62 3v1M63 3v3M64 3v1M65 5v1M66 3v1M67 3v1M69 4v2M70 3v1M71 8v1M72 6v1M72 8v1M73 2v1M73 9v4M74 4v1M75 8v1M76 -3v5M77 3v1M79 5v2M79 9v4M80 2v2M80 5v1M80 9v4M81 9v4M82 -3v4M82 2v1M83 3v1M83 5v1M84 -3v4M84 4v1M84 8v1M85 5v1M87 7v2M89 4v1M90 3v1M91 4v1M94 3v1M95 4v1M95 6v2M95 9v4M96 9v4M98 6v1M99 3v1M100 2v2M100 7v1M101 8v1M104 2v1M104 5v1M105 -3v4M106 2v1M107 5v2M107 9v4M109 -3v5M110 1v2M111 5v1M112 5v1"/><path stroke="#8a8a8a" d="M3 4v2M4 2v1M5 1v1M7 3v1M8 2v1M10 -3v4M13 1v1M14 5v1M15 4v1M15 6v1M19 1v1M19 5v1M20 3v1M21 6v2M23 7v1M25 6v1M27 -3v4M27 3v1M31 -3v4M31 2v1M32 1v1M33 9v4M34 2v1M42 5v2M46 -3v4M48 2v1M53 3v1M55 1v1M56 7v1M60 1v1M64 4v2M66 4v1M72 -3v4M77 4v1M78 4v1M78 9v4M80 4v1M82 9v4M83 4v1M83 9v4M85 8v1M87 4v1M88 6v1M89 7v2M90 9v4M91 -3v4M91 9v4M95 1v1M98 7v1M104 3v2M105 1v1M110 -3v4"/><path stroke="#8e8e8e" d="M1 2v1M4 -3v5M13 -3v4M15 9v4M17 9v4M20 2v1M21 9v4M22 7v1M23 6v1M28 3v2M71 2v1M78 2v1M84 7v1M84 9v4M87 5v2M87 9v4M88 9v4M92 2v1M93 9v4M98 2v1M99 -3v4M99 2v1M108 4v1M108 6v1"/><path stroke="#929292" d="M15 5v1M23 3v1M27 1v2M34 1v1M48 3v1M78 3v1M84 6v1M86 9v4M89 9v4M99 1v1"/><path stroke="#969696" d="M8 3v1M32 -3v4M34 -3v4M71 3v1M85 9v4M92 1v1M95 -3v4M108 5v1"/><path stroke="#9a9a9a" d="M23 4v2M98 1v1"/><path stroke="#9e9e9e" d="M92 -3v4M98 -3v4"/></g></g><path stroke="#d02800" stroke-width=".8" stroke-opacity="0.32" d="M69.9 1.6v1.7M27.0 4.7v1.7M91.1 3.0v1.7M27.9 3.5v2.4M18.9 5.7v1.0M87.2 5.0v1.7M20.4 6.1v3.4M18.0 3.6v1.0M10.3 4.1v1.0M53.7 3.6v1.7M89.6 0.2v2.4M56.7 6.0v1.7M1.9 3.7v1.7M73.0 2.9v1.0M14.0 1.9v1.7M30.7 1.2v3.4M72.8 3.6v1.0M77.3 5.9v2.4M49.6 4.3v1.0M100.0 2.5v3.4M82.2 3.1v3.4M32.1 1.9v1.7M45.7 1.2v1.7M49.2 1.0v3.4M3.9 4.7v2.4M88.6 3.2v3.4M79.8 2.5v1.7M44.5 2.6v1.0M43.2 4.1v2.4M85.7 2.9v1.7"/><path stroke="#1030d8" stroke-width=".8" stroke-opacity="0.32" d="M25.5 2.6v3.4M77.7 4.1v3.4M2.2 1.7v1.0M13.4 2.2v1.7M14.2 4.9v1.7M89.1 3.0v3.4M20.7 4.4v1.0M38.2 4.9v1.0M58.5 3.9v1.7M9.2 2.0v2.4M63.5 2.3v3.4M81.9 0.0v3.4M29.8 1.6v1.7M83.3 6.0v1.0M28.9 4.6v2.4M70.5 1.2v1.0M2.1 5.2v1.0"/><path stroke="#f09000" stroke-width=".8" stroke-opacity="0.32" d="M33.7 2.8v1.7M12.5 1.7v2.4M22.6 4.0v1.0M18.6 3.5v1.7M103.4 3.9v1.7M19.6 2.6v2.4M33.6 2.0v2.4M22.4 2.6v3.4M35.4 4.3v1.0M110.0 2.6v2.4M71.4 1.3v1.7M92.5 1.9v1.0M14.4 2.4v1.7"/></svg>
<text x="344.15" y="196.2" font-size="4.08" text-anchor="middle" fill="#262626">dVTEC VR1 24h (10E 10N)</text>
<text x="286.6" y="228.35" font-size="3.4" text-anchor="end" fill="#262626">0</text>
<text x="286.6" y="216.121" font-size="3.4" text-anchor="end" fill="#262626">10</text>
<text x="286.6" y="203.892" font-size="3.4" text-anchor="end" fill="#262626">20</text>
<text x="303.384" y="231.55" font-size="3.42" text-anchor="middle" fill="#262626">50</text>
<text x="318.767" y="231.55" font-size="3.42" text-anchor="middle" fill="#262626">100</text>
<text x="334.151" y="231.55" font-size="3.42" text-anchor="middle" fill="#262626">150</text>
<text x="349.534" y="231.55" font-size="3.42" text-anchor="middle" fill="#262626">200</text>
<text x="364.918" y="231.55" font-size="3.42" text-anchor="middle" fill="#262626">250</text>
<text x="380.301" y="231.55" font-size="3.42" text-anchor="middle" fill="#262626">300</text>
<text x="395.685" y="231.55" font-size="3.42" text-anchor="middle" fill="#262626">350</text>
<text x="344.15" y="235.5" font-size="3.45" text-anchor="middle" fill="#262626">Days</text>
<svg x="414.2" y="197.7" width="111.5" height="29.35" viewBox="0 0 112 10" preserveAspectRatio="none" stroke-width="1.04" fill="none"><g filter="url(#f7)"><rect x="-4" y="-4" width="120" height="18" fill="#7d7d7d"/><g transform="translate(.5)"><path stroke="#555" d="M86 -3v4"/><path stroke="#5d5d5d" d="M79 5v2M86 1v1"/><path stroke="#616161" d="M62 -3v4"/><path stroke="#656565" d="M8 -3v4M13 3v1M37 -3v4M96 -3v4M99 4v2M102 1v1"/><path stroke="#696969" d="M8 1v1M13 2v1M13 6v1M30 4v1M37 1v1M52 5v1M62 1v1M76 -3v4M96 1v1M99 3v1M101 6v1M103 3v1"/><path stroke="#6d6d6d" d="M13 7v1M15 6v1M18 3v1M19 -3v4M26 3v1M27 5v2M29 -3v4M30 3v1M30 5v1M62 2v1M63 2v1M72 2v1M76 1v1M79 7v1M80 5v1M82 7v1M85 -3v5M88 6v1M99 2v1M102 -3v4M102 2v1M103 2v1"/><path stroke="#717171" d="M13 1v1M13 4v1M26 2v1M27 2v3M30 -3v5M32 6v1M34 7v1M35 5v3M41 4v1M41 6v2M42 9v4M49 3v1M57 -3v4M57 2v1M63 -3v4M63 3v1M63 6v1M66 -3v4M72 3v1M74 4v1M74 7v1M78 2v1M79 4v1M80 4v1M80 7v1M81 6v1M88 7v1M90 3v2M92 1v1M92 8v1M93 5v1M102 3v1M102 5v1M106 5v1M108 3v1"/><path stroke="#757575" d="M-1 3v1M0 3v1M3 9v4M4 2v1M4 6v1M6 3v2M8 2v2M11 -3v4M11 8v1M15 7v1M18 -3v4M18 4v1M19 1v1M21 5v1M23 8v1M24 3v1M25 8v1M26 1v1M26 8v1M29 1v1M32 7v1M33 -3v4M33 9v4M34 5v1M37 2v1M37 4v2M39 -3v4M39 4v1M39 8v1M44 -3v4M45 6v1M47 1v2M49 4v2M51 2v2M54 -3v4M54 7v1M56 -3v4M58 3v3M60 2v2M60 5v1M61 -3v4M61 2v2M63 1v1M63 7v6M65 2v1M65 5v1M65 7v6M66 1v2M66 8v1M67 6v1M71 -3v4M73 4v1M74 3v1M74 6v1M74 8v1M76 7v1M77 3v2M78 -3v5M78 3v1M79 3v1M80 3v1M81 1v1M81 5v1M81 7v1M82 6v1M85 2v1M86 2v1M88 5v1M90 -3v4M92 -3v4M93 2v1M93 6v2M96 2v1M98 6v1M99 6v1M101 7v2M103 4v1M104 8v1M105 7v1M106 9v4M107 3v2M107 6v1M108 4v2M109 2v1M110 -3v4M110 2v2M111 4v1M112 4v1"/><path stroke="#797979" d="M-1 2v1M-1 5v1M0 2v1M0 5v1M1 8v5M2 2v1M2 9v4M3 1v1M3 8v1M4 -3v4M4 5v1M4 7v1M5 2v2M5 7v1M5 9v4M6 2v1M6 8v1M7 6v1M7 8v1M8 4v1M8 8v5M10 3v1M10 5v1M11 1v1M11 5v1M12 -3v5M12 5v2M13 -3v4M13 5v1M14 4v2M15 5v1M16 -3v4M16 5v1M18 1v2M19 2v1M20 3v1M21 -3v5M21 3v2M21 6v1M22 7v1M23 3v1M23 7v1M24 2v1M24 4v1M25 5v1M25 9v4M26 5v1M27 7v6M29 2v1M29 7v2M30 2v1M30 6v1M30 9v4M31 1v1M31 3v1M31 9v4M32 5v1M32 8v5M33 1v2M34 4v1M34 6v1M34 9v4M35 3v2M35 8v1M36 7v1M37 3v1M37 7v1M37 9v4M38 6v1M38 8v1M39 3v1M39 6v2M39 9v4M41 5v1M42 7v2M43 -3v4M43 6v3M44 1v2M45 5v1M46 -3v4M46 6v1M47 -3v4M47 3v1M47 6v1M47 9v4M48 5v3M48 9v4M49 2v1M49 8v1M50 -3v4M50 3v1M50 9v4M51 1v1M51 4v1M52 4v1M53 5v1M54 1v2M54 4v1M54 8v5M55 1v1M55 9v4M56 1v1M56 7v1M57 1v1M57 3v2M58 -3v4M58 6v3M59 2v1M59 7v2M60 -3v4M60 4v1M60 6v7M61 9v4M62 9v4M63 4v2M64 1v2M64 7v2M65 -3v4M65 4v1M66 7v1M67 3v3M67 7v1M68 8v1M69 4v1M70 4v1M70 8v1M71 2v1M72 4v1M72 7v2M73 3v1M73 8v1M74 -3v4M76 2v3M76 6v1M76 9v4M79 2v1M79 8v1M80 2v1M81 2v1M81 4v1M82 -3v4M82 8v1M83 -3v5M85 4v1M85 8v1M88 -3v4M90 1v1M91 -3v4M93 3v1M97 -3v4M97 2v2M99 -3v4M99 7v6M100 6v1M100 9v4M101 -3v5M101 5v1M101 9v4M102 4v1M102 6v2M103 -3v5M103 6v3M104 9v4M105 1v2M105 6v1M106 1v4M106 6v1M106 8v1M107 5v1M108 -3v4M108 6v1M108 9v4M109 -3v4M109 3v1M109 9v4M110 1v1M110 4v1M110 6v2M111 -3v4M111 6v1M111 8v5M112 -3v4M112 6v1M112 8v5"/><path stroke="#828282" d="M-1 -3v4M-1 6v2M-1 9v4M0 -3v4M0 6v2M0 9v4M1 2v1M1 4v2M2 -3v4M2 6v2M3 3v1M4 3v1M5 -3v4M6 6v2M6 9v4M7 1v2M8 7v1M9 8v1M10 1v1M11 2v2M11 7v1M12 3v1M12 7v1M15 4v1M16 8v1M17 1v1M17 3v1M17 8v1M18 7v2M19 4v3M19 9v4M20 2v1M20 6v1M20 8v1M22 9v4M23 6v1M24 1v1M24 7v6M26 7v1M26 9v4M28 -3v6M28 4v1M28 6v2M28 9v4M29 9v4M30 8v1M31 8v1M33 4v1M33 6v1M34 1v1M34 3v1M35 2v1M35 9v4M36 -3v5M38 1v2M40 7v2M41 -3v5M42 -3v4M43 3v1M44 3v1M44 6v7M45 -3v4M46 2v2M46 8v1M47 5v1M47 7v1M48 8v1M49 6v1M50 2v1M50 6v1M51 -3v4M51 5v1M52 -3v4M53 7v2M54 6v1M55 7v1M56 3v1M56 5v2M56 9v4M58 2v1M59 5v1M60 1v1M61 1v1M61 6v3M62 4v1M62 7v1M64 5v1M65 1v1M66 6v1M66 9v4M68 2v1M68 4v2M68 7v1M69 5v2M70 5v1M70 7v1M71 3v1M71 7v2M72 -3v4M72 6v1M74 2v1M75 9v4M77 -3v6M77 6v1M79 -3v4M82 2v2M83 2v1M83 5v1M84 5v1M86 3v1M86 5v1M86 8v1M87 -3v4M87 2v2M87 7v2M89 7v1M90 6v1M91 1v1M91 3v2M91 6v2M92 2v1M92 5v1M92 7v1M92 9v4M93 -3v4M93 8v1M94 1v1M94 5v1M95 -3v7M95 7v2M96 7v1M96 9v4M97 9v4M98 -3v4M98 2v1M98 8v1M100 -3v4M100 4v2M104 2v1M104 5v3M105 4v2M105 8v5M107 7v1M107 9v4M108 1v1M109 5v1M109 7v1"/><path stroke="#868686" d="M1 1v1M1 3v1M2 3v1M3 6v1M5 5v1M7 -3v4M9 5v2M14 7v1M15 3v1M16 4v1M17 6v1M19 3v1M20 1v1M21 8v1M22 5v1M24 5v2M25 3v2M26 6v1M29 5v1M30 7v1M33 5v1M33 8v1M34 -3v4M34 2v1M35 -3v4M36 5v2M36 9v4M38 -3v4M38 5v1M40 6v1M42 6v1M45 1v3M48 2v2M49 -3v4M49 9v4M50 5v1M51 9v4M53 -3v4M55 2v2M56 2v1M57 6v2M59 -3v4M62 6v1M66 5v1M67 -3v4M67 2v1M68 6v1M69 -3v4M69 7v1M70 -3v4M70 2v2M71 4v1M73 1v1M75 1v1M77 7v1M77 9v4M78 5v2M79 1v1M80 8v1M81 8v1M82 1v1M82 4v1M84 6v1M85 9v4M87 4v1M88 3v1M89 4v1M89 8v1M91 5v1M92 3v1M94 -3v4M94 3v1M94 9v4M95 4v1M97 4v4M98 3v1M100 1v1M106 -3v4M109 6v1M111 3v1M112 3v1"/><path stroke="#8a8a8a" d="M1 -3v4M2 4v2M9 7v1M13 9v4M14 1v1M14 6v1M14 9v4M15 1v1M15 9v4M16 2v1M17 4v2M18 5v2M22 4v1M25 2v1M32 -3v4M40 3v1M40 5v1M42 1v1M42 5v1M45 4v1M48 4v1M55 6v1M56 4v1M57 5v1M61 5v1M67 1v1M70 1v1M75 -3v4M77 8v1M81 9v4M83 3v1M83 6v1M83 8v5M86 4v1M87 6v1M88 9v4M89 2v2M89 5v1M90 8v5M92 4v1M92 6v1M93 9v4M95 9v4M96 5v2M98 5v1M98 9v4M104 1v1"/><path stroke="#8e8e8e" d="M9 -3v4M9 2v1M14 2v1M15 -3v4M17 9v4M18 9v4M20 -3v4M20 9v4M22 3v1M23 1v1M25 -3v5M36 4v1M38 3v1M40 4v1M42 2v2M53 1v1M71 6v1M73 -3v4M75 4v2M80 9v4M82 9v4M84 -3v4M84 2v1M84 9v4M91 9v4M96 4v1M98 4v1"/><path stroke="#929292" d="M9 1v1M15 2v1M16 9v4M22 2v1M23 -3v4M32 3v1M38 4v1M40 2v1M42 4v1M71 5v1M75 2v2M86 9v4M87 5v1M104 -3v4"/><path stroke="#969696" d="M32 1v1M36 2v2M55 4v2M83 7v1M84 1v1M87 9v4M89 9v4"/><path stroke="#9a9a9a" d="M16 3v1M32 2v1M40 1v1M89 1v1"/><path stroke="#9e9e9e" d="M22 -3v5M40 -3v4"/><path stroke="#a2a2a2" d="M89 -3v4"/></g></g><path stroke="#d02800" stroke-width=".8" stroke-opacity="0.32" d="M78.7 1.6v3.4M61.7 2.1v2.4M68.0 0.4v1.7M29.1 1.9v2.4M29.6 0.0v2.4M92.2 0.3v1.7M27.2 0.1v1.0M87.4 5.2v1.0M25.2 2.6v3.4M13.9 2.3v2.4M77.8 2.8v1.7M86.3 1.3v2.4M82.1 5.0v1.0M85.0 0.0v3.4M97.9 0.6v2.4M3.8 5.2v1.7M86.4 4.0v1.7M93.4 2.9v3.4M89.7 2.3v3.4M25.3 3.6v2.4M11.8 1.1v3.4M78.9 3.1v3.4M34.4 4.2v1.0"/><path stroke="#1030d8" stroke-width=".8" stroke-opacity="0.32" d="M2.2 2.5v3.4M86.7 0.8v3.4M15.4 0.8v1.7M77.1 1.4v3.4M73.4 4.0v1.7M67.1 5.8v2.4M43.4 3.8v1.7M13.1 5.1v1.0M8.0 4.4v1.0M71.7 4.7v1.7M49.4 0.0v2.4M9.8 3.3v2.4M29.8 1.4v1.0M35.7 2.4v1.0M33.2 5.9v1.0M45.3 1.2v1.0M33.9 6.0v1.7M20.9 5.0v1.7M67.6 3.7v2.4M30.9 7.1v1.0M91.6 1.7v1.0"/><path stroke="#f09000" stroke-width=".8" stroke-opacity="0.32" d="M76.8 0.0v3.4M41.3 0.3v1.7M15.1 4.3v2.4M37.5 2.8v2.4M105.2 2.6v3.4M95.7 3.4v1.7M22.4 4.8v1.0M91.6 2.9v1.0M74.4 4.2v3.4M40.8 3.4v2.4M109.4 1.7v1.7M51.2 3.3v1.0M74.9 1.9v3.4M57.6 1.4v1.0M5.7 2.5v3.4M74.3 3.5v1.7"/></svg>
<text x="469.95" y="196.2" font-size="4.08" text-anchor="middle" fill="#262626">dVTEC VR1 diff  24h (10E 10N)</text>
<text x="412.8" y="228.35" font-size="3.4" text-anchor="end" fill="#262626">0</text>
<text x="412.8" y="216.121" font-size="3.4" text-anchor="end" fill="#262626">10</text>
<text x="412.8" y="203.892" font-size="3.4" text-anchor="end" fill="#262626">20</text>
<text x="429.474" y="231.55" font-size="3.42" text-anchor="middle" fill="#262626">50</text>
<text x="444.748" y="231.55" font-size="3.42" text-anchor="middle" fill="#262626">100</text>
<text x="460.022" y="231.55" font-size="3.42" text-anchor="middle" fill="#262626">150</text>
<text x="475.296" y="231.55" font-size="3.42" text-anchor="middle" fill="#262626">200</text>
<text x="490.57" y="231.55" font-size="3.42" text-anchor="middle" fill="#262626">250</text>
<text x="505.844" y="231.55" font-size="3.42" text-anchor="middle" fill="#262626">300</text>
<text x="521.118" y="231.55" font-size="3.42" text-anchor="middle" fill="#262626">350</text>
<text x="469.95" y="235.5" font-size="3.45" text-anchor="middle" fill="#262626">Days</text>
<rect x="532.5" y="197.7" width="2" height="29.35" fill="url(#jetg)"/>
<text x="536" y="224.963" font-size="3.42" text-anchor="start" fill="#262626">−10</text>
<text x="536" y="213.675" font-size="3.42" text-anchor="start" fill="#262626">0</text>
<text x="536" y="202.387" font-size="3.42" text-anchor="start" fill="#262626">10</text>
<text x="281" y="177.525" font-size="3.5" text-anchor="middle" fill="#262626" transform="rotate(-90 281 177.525)">Time (hours)</text>
<svg x="16.9" y="247.85" width="112" height="29.35" viewBox="0 0 112 15" preserveAspectRatio="none" stroke-width="1.04" fill="none"><g filter="url(#f0)"><rect x="-4" y="-4" width="120" height="23" fill="#717171"/><g transform="translate(.5)"><path stroke="#1c1c1c" d="M20 14v4M22 14v4M82 14v4M95 13v5M97 13v5M98 11v7M101 10v8M102 10v8M105 12v6"/><path stroke="#202020" d="M15 12v6M17 14v4M19 14v4M20 13v1M22 13v1M25 14v4M77 14v4M82 13v1M88 12v6M89 12v6M90 13v5M93 11v7M94 11v7M95 11v2M96 11v7M97 11v2M98 10v1M99 11v7M100 11v7M101 -3v8M102 -3v8M103 11v7M104 11v7M105 10v2M106 10v8M107 11v7M108 10v8M109 10v8M110 11v7M111 11v7M112 11v7"/><path stroke="#242424" d="M-1 11v7M0 11v7M1 12v6M2 11v7M3 11v7M4 12v6M5 12v6M6 13v5M7 12v6M8 14v4M9 12v6M10 13v5M11 13v5M12 12v6M13 13v5M14 12v6M16 13v5M17 12v2M18 13v5M19 13v1M20 12v1M21 13v5M23 13v5M24 14v4M76 14v4M77 13v1M78 14v4M79 13v5M80 14v4M81 13v5M82 12v1M83 13v5M84 13v5M85 13v5M86 12v6M87 12v6M90 12v1M91 12v6M92 12v6M95 -3v6M97 -3v7M97 10v1M98 -3v8M99 -3v7M99 10v1M100 -3v6M100 10v1M101 5v1M102 5v1M103 10v1M104 10v1M105 -3v8M107 10v1M110 10v1M111 10v1M112 10v1"/><path stroke="#282828" d="M-1 10v1M0 10v1M1 11v1M4 11v1M5 11v1M6 11v2M7 11v1M8 11v3M9 11v1M10 12v1M11 12v1M13 12v1M15 11v1M16 12v1M18 12v1M19 12v1M22 12v1M24 13v1M25 13v1M26 14v4M27 14v4M74 14v4M75 14v4M78 13v1M80 13v1M83 12v1M84 12v1M85 12v1M88 11v1M89 11v1M90 11v1M91 11v1M92 11v1M93 -3v7M94 -3v7M95 3v2M96 -3v7M96 10v1M97 4v1M98 5v1M99 4v1M100 3v2M101 9v1M102 9v1M103 -3v8M104 -3v8M105 5v1M105 9v1M106 -3v9M106 9v1M107 -3v9M108 -3v9M108 9v1M109 -3v9M109 9v1M110 -3v9M110 9v1M111 -3v9M111 9v1M112 -3v9M112 9v1"/><path stroke="#2d2d2d" d="M-1 -3v8M0 -3v8M1 -3v7M1 10v1M2 -3v8M2 10v1M3 -3v8M3 10v1M4 -3v7M4 10v1M10 11v1M11 11v1M12 11v1M13 11v1M14 11v1M20 -3v4M21 12v1M22 -3v4M76 13v1M77 -3v4M81 12v1M82 -3v5M87 11v1M89 -3v6M90 -3v6M93 4v1M93 10v1M94 4v1M94 10v1M95 10v1M96 4v1M98 9v1M99 5v1M100 5v1M100 9v1M101 6v1M102 6v1M103 5v1M103 9v1M104 5v1M104 9v1M107 9v1"/><path stroke="#313131" d="M-1 5v1M0 5v1M1 4v2M2 5v1M3 5v1M4 4v1M5 -3v8M5 10v1M6 -3v7M7 -3v8M7 10v1M15 -3v6M16 11v1M17 -3v4M17 11v1M20 1v1M23 12v1M73 14v4M74 -3v4M75 -3v4M76 -3v4M77 1v1M78 -3v4M79 -3v4M79 12v1M80 12v1M81 -3v4M82 2v1M86 11v1M88 -3v7M89 3v1M90 3v1M91 -3v7M92 -3v7M97 5v1M99 9v1M105 6v1M106 6v1M107 6v1M108 6v1M109 6v1M110 6v1M111 6v1M112 6v1"/><path stroke="#353535" d="M4 5v1M6 4v1M6 10v1M8 -3v7M8 10v1M9 -3v7M10 -3v7M11 -3v6M12 -3v6M13 -3v5M14 -3v6M16 -3v5M17 1v2M18 -3v5M19 -3v5M20 11v1M21 -3v4M22 1v1M23 -3v4M24 -3v4M24 12v1M26 13v1M27 13v1M28 14v4M74 13v1M75 13v1M77 12v1M79 1v1M80 -3v5M81 1v1M82 11v1M83 -3v5M85 11v1M96 5v1M97 9v1M103 6v1M104 6v1M109 8v1"/><path stroke="#393939" d="M-1 6v1M-1 9v1M0 6v1M0 9v1M5 5v1M8 4v1M9 4v1M9 10v1M10 10v1M11 3v1M12 3v1M13 2v1M15 3v1M16 2v1M18 2v1M18 11v1M19 11v1M20 2v1M21 1v1M22 11v1M25 -3v4M25 12v1M72 14v4M76 1v1M78 1v1M78 12v1M81 2v1M82 3v1M83 2v1M84 -3v5M85 -3v6M86 -3v6M87 -3v7M88 4v1M89 4v1M90 4v1M91 4v1M91 10v1M92 4v1M92 10v1M94 5v1M95 5v1M98 6v1M99 6v1M100 6v1M101 7v2M102 7v2M105 8v1M106 8v1M107 8v1M108 7v2M109 7v1M110 7v2M111 7v2M112 7v2"/><path stroke="#3d3d3d" d="M1 6v1M1 9v1M2 6v1M2 9v1M3 9v1M6 5v1M7 5v1M10 4v1M11 10v1M12 10v1M13 3v1M14 3v1M19 2v1M22 2v1M23 1v1M27 -3v4M77 2v1M79 2v1M80 2v1M83 11v1M84 2v1M84 11v1M86 3v1M93 5v1M104 8v1M105 7v1M106 7v1M107 7v1"/><path stroke="#414141" d="M3 6v1M4 9v1M11 4v1M12 4v1M13 10v1M15 10v1M16 3v1M17 3v1M21 11v1M24 1v1M26 -3v4M27 12v1M28 13v1M73 -3v4M74 1v1M75 1v1M76 12v1M81 11v1M83 3v1M84 3v1M85 3v1M88 10v1M90 10v1M96 9v1M97 6v1M98 8v1M100 8v1M103 7v2M104 7v1"/><path stroke="#454545" d="M-1 7v1M0 7v1M4 6v1M5 9v1M8 5v1M14 10v1M15 4v1M18 3v1M20 3v1M21 2v1M25 1v1M27 1v1M72 13v1M73 13v1M78 2v1M81 3v1M87 4v1M89 10v1M94 9v1M98 7v1M99 8v1M100 7v1"/><path stroke="#494949" d="M-1 8v1M0 8v1M5 6v1M6 9v1M7 9v1M9 5v1M13 4v1M14 4v1M19 3v1M22 3v1M23 11v1M26 12v1M27 2v1M28 -3v4M28 12v1M29 14v4M30 13v5M70 14v4M72 -3v4M76 2v1M79 11v1M80 11v1M82 4v1M86 4v1M87 10v1M92 5v1M93 9v1M96 6v1M97 8v1M99 7v1"/><path stroke="#4d4d4d" d="M1 7v2M2 7v2M3 7v1M10 5v1M16 10v1M17 4v1M20 4v1M20 10v1M23 2v1M24 2v1M24 11v1M25 2v1M25 11v1M27 3v1M27 11v1M28 1v2M29 13v1M31 14v4M32 14v4M69 14v4M70 13v1M71 14v4M72 1v1M72 12v1M74 2v1M74 12v1M75 12v1M77 3v1M77 11v1M79 3v1M80 3v1M85 4v1M86 10v1M88 5v1M89 5v1M90 5v1M91 5v1M97 7v1"/><path stroke="#515151" d="M3 8v1M6 6v1M7 6v1M8 9v1M11 5v1M12 5v1M15 5v1M16 4v1M17 10v1M21 3v1M22 4v1M22 10v1M25 3v1M26 1v1M28 3v1M30 -3v4M30 12v1M31 13v1M32 13v1M68 14v4M69 13v1M70 -3v5M70 12v1M71 13v1M72 2v1M73 1v1M75 2v1M82 10v1M83 4v1M84 4v1M94 6v1"/><path stroke="#555" d="M4 7v2M9 9v1M18 4v1M18 10v1M19 4v1M23 3v1M24 3v1M26 2v1M27 4v1M28 11v1M29 -3v4M29 12v1M30 1v2M31 12v1M34 14v4M40 14v4M68 13v1M69 -3v5M69 12v1M70 2v1M72 3v1M73 12v1M76 3v1M78 3v1M78 11v1M81 4v1M85 10v1M93 6v1M95 9v1"/><path stroke="#595959" d="M5 7v2M8 6v1M10 9v1M13 5v1M14 5v1M19 10v1M20 5v1M22 5v1M25 4v1M26 11v1M28 4v1M29 1v2M30 3v1M31 -3v6M32 -3v5M32 12v1M33 14v4M34 13v1M40 13v1M61 14v4M62 14v4M67 14v4M68 -3v5M68 12v1M69 2v1M70 3v1M71 -3v5M71 12v1M72 11v1M73 2v1M74 3v1M76 11v1M77 4v1M82 5v1M87 5v1M92 9v1M96 8v1"/><path stroke="#5d5d5d" d="M7 7v2M9 6v1M11 9v1M12 9v1M15 9v1M17 5v1M21 4v1M21 10v1M23 4v1M24 4v1M26 3v1M27 5v1M27 10v1M29 3v1M30 11v1M31 3v1M32 2v1M33 13v1M34 -3v4M35 14v4M38 14v4M40 -3v5M41 14v4M42 14v4M52 14v4M59 14v4M60 14v4M61 -3v4M61 13v1M62 13v1M66 14v4M67 13v1M68 2v1M69 3v1M70 11v1M71 2v1M72 4v1M73 3v1M79 4v1M80 4v1M81 10v1M86 5v1M91 9v1M94 8v1M95 6v1M96 7v1"/><path stroke="#616161" d="M6 7v2M10 6v1M15 6v1M16 5v1M23 10v1M25 5v1M25 10v1M28 5v1M28 10v1M29 11v1M30 4v1M31 11v1M32 3v1M34 1v2M34 12v1M35 13v1M36 14v4M38 13v1M39 14v4M40 2v1M40 12v1M41 13v1M42 -3v4M42 13v1M43 14v4M47 14v4M52 -3v4M56 14v4M57 14v4M59 -3v5M59 13v1M60 -3v4M60 13v1M61 1v2M62 -3v5M66 13v1M68 3v1M69 11v1M70 4v1M71 3v1M73 11v1M74 11v1M75 3v1M76 4v1M78 4v1M83 10v1M84 10v1M85 5v1M88 9v1M93 8v1M94 7v1"/><path stroke="#656565" d="M11 6v1M12 6v1M13 9v1M14 9v1M18 5v1M19 5v1M20 6v1M20 9v1M22 6v1M22 9v1M24 10v1M26 4v1M29 4v1M31 4v1M32 11v1M33 -3v5M33 12v1M34 3v1M35 -3v5M36 13v1M37 14v4M38 -3v4M40 3v1M41 -3v5M42 1v2M43 13v1M47 -3v4M47 13v1M52 1v1M52 13v1M54 14v4M56 -3v5M56 13v1M57 -3v5M57 13v1M59 2v1M60 1v1M61 12v1M62 2v1M62 12v1M63 14v4M64 14v4M65 14v4M66 -3v4M67 -3v5M67 12v1M68 11v1M69 4v1M71 11v1M74 4v1M77 5v1M77 10v1M79 10v1M81 5v1M83 5v1M88 6v1M91 6v1M92 6v1M93 7v1"/><path stroke="#696969" d="M8 7v2M9 7v2M14 6v1M21 5v1M23 5v1M24 5v1M27 6v1M27 9v1M30 10v1M32 4v1M33 2v1M35 2v1M35 12v1M37 13v1M38 1v2M38 12v1M39 13v1M41 2v1M41 12v1M42 12v1M43 -3v5M45 14v4M47 1v2M48 14v4M51 14v4M52 2v1M54 -3v4M54 13v1M56 2v1M57 2v1M59 12v1M60 2v1M60 12v1M61 3v1M62 3v1M63 13v1M64 13v1M65 13v1M66 1v2M66 12v1M67 2v1M68 4v1M70 5v1M70 10v1M71 4v1M72 5v1M72 10v1M73 4v1M75 11v1M80 10v1M82 6v1M82 9v1M84 5v1M89 6v1M89 9v1M90 6v1M90 9v1"/><path stroke="#6d6d6d" d="M10 7v2M13 6v1M15 7v2M16 9v1M17 6v1M17 9v1M22 7v1M26 5v1M26 10v1M28 6v1M30 5v1M33 3v1M34 11v1M36 -3v5M37 -3v4M39 -3v5M40 4v1M40 11v1M41 3v1M42 3v1M43 2v1M43 12v1M44 14v4M45 -3v4M45 13v1M47 12v1M48 -3v5M48 13v1M50 14v4M51 -3v4M52 3v1M52 12v1M54 1v2M55 14v4M56 3v1M56 12v1M57 12v1M58 14v4M59 3v1M60 3v1M61 11v1M62 11v1M63 -3v5M64 -3v4M65 -3v5M66 3v1M67 3v1M69 5v1M69 10v1M78 10v1M79 5v1M80 5v1M86 9v1M87 9v1"/><path stroke="#757575" d="M13 8v1M14 7v2M18 6v1M18 9v1M21 9v1M23 6v1M23 9v1M24 6v1M24 9v1M32 5v1M32 10v1M33 4v1M33 11v1M35 11v1M36 3v1M38 11v1M39 3v1M41 4v1M41 11v1M42 4v1M44 1v2M45 2v1M45 12v1M46 -3v4M46 13v1M48 12v1M50 2v1M51 2v1M52 4v1M52 11v1M53 -3v4M54 3v1M55 1v1M55 13v1M56 11v1M58 1v1M59 4v1M59 11v1M60 4v1M60 11v1M64 2v1M65 3v1M66 4v1M67 4v1M70 6v1M70 9v1M71 5v1M71 10v1M72 6v1M72 9v1M73 5v1M74 5v1M74 10v1M77 6v1M77 9v1M81 6v1M81 9v1M82 7v1M85 6v1M85 9v1M88 7v2M92 7v2"/><path stroke="#797979" d="M13 7v1M17 7v1M21 6v1M25 7v2M28 7v2M30 6v1M30 9v1M35 4v1M37 3v1M38 4v1M40 5v1M43 4v1M43 11v1M44 12v1M45 3v1M46 1v1M47 4v1M47 11v1M48 3v1M49 -3v5M49 13v1M50 12v1M51 3v1M51 12v1M53 1v1M53 13v1M55 2v1M56 4v1M57 4v1M57 11v1M58 2v1M61 5v1M61 10v1M63 3v1M64 3v1M69 6v1M69 9v1M70 7v1M82 8v1M91 7v2"/><path stroke="#7d7d7d" d="M16 7v2M17 8v1M26 6v1M26 9v1M34 5v1M34 10v1M36 11v1M39 11v1M40 10v1M42 5v1M44 3v1M46 2v1M49 2v1M50 3v1M53 2v1M54 4v1M54 11v1M55 12v1M58 12v1M62 5v1M62 10v1M63 11v1M64 11v1M65 4v1M65 11v1M67 5v1M67 10v1M68 6v1M68 9v1M69 7v1M70 8v1M72 7v2M77 7v1M79 6v1M79 9v1"/><path stroke="#828282" d="M18 7v1M19 7v2M21 7v1M23 7v2M24 7v2M29 6v1M29 9v1M30 7v1M31 6v1M31 9v1M36 4v1M37 4v1M37 11v1M39 4v1M41 5v1M41 10v1M42 10v1M45 4v1M45 11v1M46 3v1M46 12v1M48 4v1M48 11v1M49 12v1M52 5v1M52 10v1M53 12v1M55 3v1M56 5v1M58 3v1M60 5v1M63 4v1M64 4v1M66 5v1M66 10v1M69 8v1M71 6v1M71 9v1M73 6v1M73 9v1M76 6v1M77 8v1M80 6v1M80 9v1M81 7v1M83 6v1M84 6v1M86 7v2M87 7v2M89 7v2M90 7v2M95 7v2"/><path stroke="#868686" d="M18 8v1M21 8v1M30 8v1M32 6v1M32 9v1M33 5v1M33 10v1M35 5v1M35 10v1M38 5v1M38 10v1M40 6v1M43 5v1M43 10v1M44 4v1M44 11v1M47 5v1M47 10v1M49 3v1M51 4v1M51 11v1M53 3v1M56 10v1M57 5v1M57 10v1M59 5v1M60 10v1M61 6v1M61 9v1M62 6v1M62 9v1M68 7v2M74 6v1M75 5v1M75 10v1M76 9v1M78 6v1M78 9v1M81 8v1M83 9v1M84 9v1M85 7v1"/><path stroke="#8a8a8a" d="M26 7v2M29 7v1M31 7v2M40 9v1M42 6v1M42 9v1M50 4v1M50 11v1M54 5v1M54 10v1M55 4v1M55 11v1M58 4v1M58 11v1M59 10v1M65 5v1M65 10v1M67 6v1M67 9v1M71 7v2M74 9v1M79 7v2M85 8v1"/><path stroke="#8e8e8e" d="M29 8v1M32 7v2M34 6v1M34 9v1M36 5v1M36 10v1M39 5v1M39 10v1M40 7v1M41 6v1M41 9v1M46 4v1M46 11v1M52 6v1M52 9v1M53 4v1M53 11v1M56 6v1M56 9v1M57 6v1M60 6v1M61 7v2M62 7v2M63 5v1M63 10v1M64 5v1M64 10v1M66 6v1M66 9v1M73 7v2M76 7v2M80 7v2"/><path stroke="#929292" d="M37 5v1M37 10v1M38 6v1M40 8v1M41 7v1M42 7v2M43 6v1M43 9v1M45 5v1M45 10v1M47 6v1M47 9v1M48 5v1M49 4v1M49 11v1M51 5v1M52 7v1M57 9v1M60 9v1M66 7v1M67 7v2M74 7v1M78 7v2"/><path stroke="#969696" d="M33 6v1M34 7v1M35 6v1M35 9v1M38 9v1M41 8v1M44 5v1M44 10v1M48 10v1M50 5v1M51 10v1M52 8v1M54 6v1M54 9v1M55 5v1M55 10v1M56 7v2M57 7v2M59 6v1M63 6v1M65 6v1M65 9v1M66 8v1M74 8v1M83 7v1M84 7v1"/><path stroke="#9a9a9a" d="M33 9v1M34 8v1M38 7v1M43 7v2M46 5v1M46 10v1M47 7v2M50 10v1M58 5v1M58 10v1M60 7v2M63 9v1M64 6v1M64 9v1M75 6v1M83 8v1M84 8v1"/><path stroke="#9e9e9e" d="M35 7v2M36 6v1M36 9v1M37 6v1M38 8v1M39 6v1M39 9v1M45 6v1M48 6v1M49 5v1M51 6v1M53 5v1M53 10v1M54 7v2M59 9v1M63 7v1M65 7v2M75 9v1"/><path stroke="#a2a2a2" d="M37 9v1M44 6v1M44 9v1M45 9v1M48 9v1M49 10v1M50 6v1M51 9v1M55 6v1M59 7v1M63 8v1M64 7v2"/><path stroke="#a6a6a6" d="M33 7v2M39 7v1M45 7v1M46 6v1M51 7v1M55 9v1M58 6v1M59 8v1"/><path stroke="#aaa" d="M36 7v2M37 7v2M39 8v1M44 7v2M45 8v1M46 9v1M48 7v2M50 9v1M51 8v1M53 6v1M53 9v1M55 7v2M58 9v1"/><path stroke="#aeaeae" d="M46 7v1M49 6v1M50 7v1M58 7v1M75 7v2"/><path stroke="#b2b2b2" d="M46 8v1M49 9v1M50 8v1M53 7v2M58 8v1"/><path stroke="#bababa" d="M49 7v1"/><path stroke="#bebebe" d="M49 8v1"/></g></g></svg>
<text x="72.9" y="246.75" font-size="4.08" text-anchor="middle" fill="#262626">VTEC C1PG (10E 70N)</text>
<text x="15.5" y="278.5" font-size="3.4" text-anchor="end" fill="#262626">0</text>
<text x="15.5" y="266.271" font-size="3.4" text-anchor="end" fill="#262626">10</text>
<text x="15.5" y="254.042" font-size="3.4" text-anchor="end" fill="#262626">20</text>
<svg x="147.6" y="247.85" width="111.9" height="29.35" viewBox="0 0 112 10" preserveAspectRatio="none" stroke-width="1.04" fill="none"><g filter="url(#f8)"><rect x="-4" y="-4" width="120" height="18" fill="#828282"/><g transform="translate(.5)"><path stroke="#696969" d="M70 8v5M106 5v1"/><path stroke="#6d6d6d" d="M2 6v1M3 -3v4M3 2v1M27 9v4M91 -3v5M93 9v4M97 5v2M99 2v1M105 4v3M106 4v1M106 6v1"/><path stroke="#717171" d="M2 2v2M3 3v1M7 6v1M14 8v5M21 -3v4M35 6v1M35 8v1M41 -3v4M45 9v4M53 7v1M86 -3v4M88 6v2M89 3v1M89 9v4M90 6v1M99 3v2M103 2v1M104 1v1M104 6v1M106 3v1M107 -3v9M108 5v8M109 -3v5M109 6v1M110 2v1M111 4v1M112 4v1"/><path stroke="#757575" d="M2 -3v5M2 5v1M2 7v6M3 1v1M3 4v2M3 7v1M7 7v2M9 7v2M16 7v6M21 1v1M26 5v1M27 8v1M32 -3v4M35 -3v5M35 9v4M36 -3v4M41 1v2M60 -3v5M61 8v1M63 9v4M74 7v2M84 9v4M87 5v2M88 8v5M90 8v1M91 2v1M93 8v1M94 8v1M95 4v1M96 2v2M96 5v1M96 8v5M99 -3v5M99 5v1M100 4v1M100 9v4M101 8v5M103 1v1M103 4v1M103 9v4M104 -3v4M104 2v1M104 5v1M104 7v1M105 2v1M105 7v6M106 1v2M107 6v1M108 -3v4M108 2v2M109 2v1M109 4v2M109 7v2M110 -3v4M110 4v2M110 7v1M110 9v4M111 5v4M112 5v4"/><path stroke="#797979" d="M-1 2v1M0 2v1M1 3v2M2 4v1M3 6v1M3 8v5M7 9v4M8 -3v4M8 2v1M8 5v3M10 -3v5M10 7v6M11 3v1M11 5v2M12 3v1M14 7v1M16 3v1M17 2v1M17 4v1M18 4v1M19 -3v4M20 6v2M22 6v1M26 6v1M35 2v1M35 5v1M35 7v1M40 9v4M47 5v1M50 -3v4M53 8v5M56 8v1M61 7v1M61 9v4M66 7v1M67 5v2M70 7v1M73 -3v4M74 4v3M74 9v4M75 7v2M79 3v1M82 -3v4M82 2v1M86 1v1M87 4v1M87 8v5M88 -3v4M89 -3v4M89 2v1M89 8v1M90 9v4M91 3v1M93 -3v4M94 3v1M94 5v3M94 9v4M95 3v1M96 1v1M96 4v1M96 6v2M97 4v1M97 7v1M99 6v1M99 9v4M102 1v1M102 3v1M102 6v1M103 3v1M103 5v1M103 8v1M104 3v2M105 -3v4M105 3v1M106 -3v4M106 7v1M108 1v1M108 4v1M109 3v1M110 1v1M110 8v1M111 2v2M111 9v4M112 2v2M112 9v4"/><path stroke="#7d7d7d" d="M-1 1v1M0 1v1M1 5v1M4 3v3M4 7v6M5 6v2M5 9v4M7 4v2M8 8v5M9 2v1M9 6v1M9 9v4M10 6v1M11 4v1M12 6v1M13 -3v7M13 6v7M14 1v2M14 5v1M15 9v4M16 -3v6M16 4v2M17 3v1M17 5v1M18 1v1M18 5v2M19 2v1M20 8v1M21 3v2M21 7v1M21 9v4M22 -3v6M22 5v1M23 4v2M23 7v1M24 -3v5M26 4v1M29 1v1M29 6v1M32 1v1M33 3v2M36 1v2M36 4v2M36 9v4M38 8v1M39 2v1M40 5v1M40 7v1M41 3v1M42 -3v5M45 8v1M47 1v1M47 6v1M47 9v4M48 5v1M53 6v1M56 5v3M56 9v4M57 6v2M58 -3v4M61 -3v4M62 -3v4M63 8v1M66 8v5M67 9v4M70 6v1M71 6v1M73 1v1M74 3v1M75 -3v4M75 2v1M76 3v2M76 8v1M78 7v6M79 4v2M84 -3v4M84 7v2M85 9v4M86 2v4M86 9v4M87 3v1M87 7v1M88 5v1M89 1v1M89 4v4M90 1v1M90 5v1M90 7v1M91 4v1M92 1v1M92 4v2M93 1v1M94 -3v5M94 4v1M95 1v1M95 5v1M95 8v1M96 -3v4M97 8v1M98 -3v6M98 7v6M99 7v2M100 3v1M100 5v1M100 8v1M101 -3v6M101 7v1M102 -3v4M102 2v1M102 5v1M102 9v4M103 -3v4M103 6v2M104 8v1M105 1v1M107 9v4M109 9v4M110 3v1M111 -3v5M112 -3v5"/><path stroke="#868686" d="M-1 4v1M-1 7v1M0 4v1M0 7v1M1 2v1M1 7v1M4 6v1M5 8v1M6 -3v4M7 -3v4M8 4v1M9 -3v4M10 5v1M11 2v1M12 -3v5M13 4v1M14 -3v4M15 -3v5M15 5v2M15 8v1M17 9v4M18 7v1M19 4v2M19 7v6M20 1v2M22 7v1M23 1v3M24 5v2M24 8v5M25 3v3M26 -3v4M26 7v1M27 2v2M27 5v2M28 1v3M28 7v1M29 2v1M29 9v4M30 1v1M30 5v1M30 7v2M31 3v1M31 5v1M31 8v1M32 7v2M33 -3v4M34 -3v5M34 3v1M37 -3v6M37 7v1M37 9v4M38 -3v4M38 3v1M38 7v1M38 9v4M39 -3v5M39 4v1M41 4v1M41 8v5M42 2v2M42 6v1M43 1v1M43 3v1M43 5v1M43 8v5M44 1v1M44 5v3M46 4v1M46 8v5M48 1v2M48 4v1M48 8v1M49 3v1M49 6v1M49 8v5M50 2v1M50 4v3M51 4v1M52 3v1M52 5v1M52 8v5M53 -3v6M54 5v1M54 7v1M54 9v4M55 4v2M55 9v4M57 4v1M57 9v4M58 1v1M58 3v3M58 8v1M59 6v1M59 8v5M60 2v1M61 2v1M62 2v1M62 4v1M62 7v1M63 6v1M64 -3v4M64 4v1M64 6v1M64 8v5M65 2v1M65 4v4M67 1v1M67 3v1M68 5v1M68 7v1M69 1v1M69 4v1M70 1v2M70 4v1M71 -3v4M71 2v1M71 7v1M72 4v2M72 8v5M73 2v1M73 6v1M74 1v2M75 4v2M76 7v1M77 3v1M77 6v1M77 8v1M78 3v4M79 -3v4M79 6v1M79 9v4M80 2v3M80 8v5M81 2v1M81 4v5M82 3v1M83 1v3M83 6v2M83 9v4M84 1v1M85 1v1M85 4v2M86 6v1M87 -3v4M91 5v1M91 7v6M92 2v2M92 6v2M92 9v4M93 5v2M97 9v4M100 -3v4M101 4v3M106 9v4M107 7v1"/><path stroke="#8a8a8a" d="M-1 9v4M0 9v4M1 1v1M1 8v1M5 4v1M6 2v1M9 3v1M10 2v1M11 -3v5M12 9v4M15 7v1M18 9v4M20 9v4M22 8v5M23 -3v4M23 8v1M24 7v1M25 -3v4M25 2v1M25 6v1M26 2v2M27 4v1M28 5v1M28 8v1M29 8v1M30 2v1M30 4v1M30 9v4M31 4v1M31 6v2M32 3v1M33 9v4M34 5v1M34 7v1M34 9v4M36 7v1M37 3v1M37 5v1M38 2v1M39 5v1M39 8v1M40 2v2M41 5v1M41 7v1M42 4v1M42 9v4M43 7v1M44 3v1M44 8v1M45 3v1M46 2v1M48 3v1M48 6v2M48 9v4M49 -3v5M50 3v1M50 9v4M51 5v1M52 2v1M52 4v1M52 6v2M54 6v1M54 8v1M55 2v2M56 -3v4M56 3v1M57 5v1M58 9v4M59 -3v4M59 2v3M60 4v2M60 7v1M61 3v1M62 1v1M62 3v1M62 5v1M63 -3v8M64 2v1M64 5v1M64 7v1M65 -3v5M65 8v1M67 -3v4M67 2v1M67 4v1M68 -3v4M68 4v1M69 -3v4M69 3v1M69 5v2M70 -3v4M72 1v3M73 4v2M74 -3v4M76 -3v4M76 2v1M76 5v2M77 2v1M77 4v1M78 -3v4M79 7v2M80 7v1M83 4v2M83 8v1M84 3v1M84 5v2M85 8v1M87 2v1M88 3v1M98 4v1M100 1v1"/><path stroke="#8e8e8e" d="M-1 8v1M0 8v1M1 -3v4M5 3v1M6 7v2M7 1v1M23 9v4M25 9v4M26 1v1M28 6v1M28 9v4M29 3v2M30 3v1M31 2v1M31 9v4M32 4v1M33 8v1M34 4v1M34 6v1M34 8v1M39 9v4M42 7v2M44 4v1M44 9v4M45 2v1M45 4v1M45 7v1M46 1v1M46 5v1M46 7v1M47 2v1M50 8v1M51 1v2M51 6v1M51 8v1M56 1v2M57 -3v4M57 3v1M58 7v1M59 1v1M60 9v4M62 6v1M62 8v5M63 5v1M64 1v1M64 3v1M65 9v4M66 1v1M68 1v3M68 8v1M69 2v1M69 7v1M69 9v4M76 1v1M77 5v1M80 1v1M80 5v2M82 9v4M84 2v1M85 6v2M104 9v4"/><path stroke="#929292" d="M5 -3v4M6 3v2M6 9v4M10 3v2M25 7v1M26 8v1M29 5v1M32 5v2M46 6v1M50 7v1M51 -3v4M51 9v4M57 2v1M58 6v1M60 8v1M68 9v4M72 -3v4M79 1v1M82 4v1M82 8v1"/><path stroke="#969696" d="M5 1v2M25 8v1M45 -3v5M46 -3v4M51 7v1M55 1v1M57 1v1M69 8v1M71 8v5M80 -3v4M82 5v1"/><path stroke="#9a9a9a" d="M66 -3v4M82 7v1"/><path stroke="#9e9e9e" d="M26 9v4M45 5v1M55 -3v4M77 -3v5M82 6v1"/><path stroke="#a2a2a2" d="M45 6v1"/></g></g><path stroke="#d02800" stroke-width=".8" stroke-opacity="0.28" d="M33.6 0.9v1.0M86.1 7.8v0.7M36.0 1.9v1.7M111.5 5.6v0.7M80.1 1.1v1.0M83.8 4.6v0.7M79.2 0.6v1.0M89.6 4.3v0.7M109.3 7.8v1.7M79.4 4.1v1.0"/><path stroke="#1030d8" stroke-width=".8" stroke-opacity="0.28" d="M51.7 1.5v0.7M62.7 0.6v0.7M90.3 6.5v1.7M99.1 3.2v1.0M50.2 3.6v1.7M106.6 1.7v1.7M90.8 4.9v1.0M48.4 1.2v1.7M84.1 4.8v0.7"/><path stroke="#f09000" stroke-width=".8" stroke-opacity="0.28" d="M77.4 3.6v1.0M111.5 3.7v1.7M90.5 2.1v1.7"/></svg>
<text x="203.55" y="246.75" font-size="4.08" text-anchor="middle" fill="#262626">dVTEC C1PG (10E 70N)</text>
<text x="146.2" y="278.5" font-size="3.4" text-anchor="end" fill="#262626">0</text>
<text x="146.2" y="266.271" font-size="3.4" text-anchor="end" fill="#262626">10</text>
<text x="146.2" y="254.042" font-size="3.4" text-anchor="end" fill="#262626">20</text>
<rect x="130.7" y="247.85" width="1.6" height="29.35" fill="url(#jetg)"/>
<text x="133.8" y="278.5" font-size="3.42" text-anchor="start" fill="#262626">0</text>
<text x="133.8" y="268.908" font-size="3.42" text-anchor="start" fill="#262626">5</text>
<text x="133.8" y="259.317" font-size="3.42" text-anchor="start" fill="#262626">10</text>
<text x="133.8" y="249.725" font-size="3.42" text-anchor="start" fill="#262626">15</text>
<rect x="261.2" y="247.85" width="1.9" height="29.35" fill="url(#jetg)"/>
<text x="264.6" y="272.997" font-size="3.42" text-anchor="start" fill="#262626">−5</text>
<text x="264.6" y="263.825" font-size="3.42" text-anchor="start" fill="#262626">0</text>
<text x="264.6" y="254.653" font-size="3.42" text-anchor="start" fill="#262626">5</text>
<svg x="16.9" y="282.7" width="112" height="29.35" viewBox="0 0 112 15" preserveAspectRatio="none" stroke-width="1.04" fill="none"><g filter="url(#f0)"><rect x="-4" y="-4" width="120" height="23" fill="#555"/><g transform="translate(.5)"><path stroke="#202020" d="M95 12v6M108 12v6"/><path stroke="#242424" d="M-1 12v6M0 12v6M56 13v5M61 13v5M96 13v5M97 13v5M98 12v6M99 12v6M107 12v6M108 11v1M109 12v6M110 12v6"/><path stroke="#282828" d="M1 12v6M2 12v6M8 12v6M9 12v6M10 12v6M14 14v4M17 13v5M32 12v6M36 12v6M38 12v6M39 12v6M55 13v5M56 12v1M58 13v5M59 13v5M60 13v5M61 12v1M62 13v5M69 13v5M85 12v6M88 12v6M89 12v6M91 12v6M93 12v6M94 12v6M95 11v1M96 12v1M97 12v1M100 12v6M101 12v6M102 12v6M104 12v6M105 12v6M106 12v6M107 11v1M109 11v1M110 11v1M111 12v6M112 12v6"/><path stroke="#2d2d2d" d="M-1 11v1M0 11v1M3 12v6M4 12v6M7 12v6M9 11v1M10 11v1M13 12v6M14 12v2M17 12v1M18 12v6M19 12v6M20 12v6M21 13v5M22 12v6M23 13v5M26 12v6M27 12v6M29 12v6M30 12v6M31 12v6M33 12v6M37 12v6M40 13v5M42 12v6M44 12v6M47 14v4M50 13v5M51 13v5M52 13v5M53 13v5M54 13v5M55 12v1M57 13v5M58 12v1M59 12v1M62 12v1M63 12v6M65 14v4M68 13v5M69 12v1M70 12v6M71 12v6M77 12v6M78 13v5M80 12v6M86 12v6M87 12v6M90 12v6M92 13v5M98 11v1M99 11v1M102 11v1M103 12v6M105 11v1M106 11v1M111 11v1M112 11v1"/><path stroke="#313131" d="M1 11v1M2 11v1M4 11v1M5 12v6M6 12v6M7 11v1M8 11v1M11 12v6M12 12v6M13 11v1M14 11v1M15 12v6M16 12v6M21 12v1M23 12v1M24 12v6M25 12v6M34 12v6M35 12v6M40 12v1M41 13v5M43 12v6M45 12v6M46 12v6M47 12v2M48 13v5M49 13v5M50 12v1M51 12v1M52 12v1M53 12v1M54 12v1M57 12v1M60 12v1M64 13v5M65 12v2M66 13v5M67 12v6M68 12v1M72 12v6M73 13v5M76 13v5M78 12v1M79 12v6M81 12v6M82 12v6M83 12v6M84 12v6M92 12v1M95 -3v6M96 11v1M97 11v1M100 11v1M101 11v1M104 11v1M108 -3v6"/><path stroke="#353535" d="M3 11v1M6 11v1M11 11v1M12 11v1M17 11v1M18 11v1M19 11v1M20 11v1M22 11v1M27 11v1M28 12v6M41 12v1M48 12v1M49 12v1M64 12v1M66 12v1M73 12v1M74 13v5M75 13v5M76 12v1M91 11v1M93 11v1M94 11v1M95 3v1M103 11v1M107 -3v5M108 3v1M109 -3v7M110 -3v7"/><path stroke="#393939" d="M5 11v1M9 -3v6M10 -3v6M15 11v1M16 11v1M21 11v1M23 11v1M24 11v1M26 11v1M29 11v1M30 11v1M31 11v1M32 11v1M33 11v1M74 12v1M75 12v1M85 11v1M88 11v1M89 11v1M98 -3v6M99 -3v6M106 -3v6M107 2v2M111 -3v6M112 -3v6"/><path stroke="#3d3d3d" d="M-1 -3v7M0 -3v7M4 -3v5M7 -3v6M8 -3v7M9 3v1M10 3v1M13 -3v6M14 -3v6M17 -3v6M19 -3v6M25 11v1M36 11v1M85 -3v5M86 11v1M87 11v1M88 -3v5M90 11v1M91 -3v6M92 11v1M93 -3v5M94 -3v6M96 -3v6M97 -3v6M98 3v1M99 3v1M100 -3v6M102 -3v7M104 -3v6M105 -3v7M106 3v1M108 4v1M109 4v1M110 4v1M111 3v1M112 3v1"/><path stroke="#414141" d="M1 -3v6M2 -3v6M4 2v2M7 3v1M13 3v1M14 3v1M17 3v1M18 -3v6M19 3v1M20 -3v6M22 -3v6M26 -3v5M27 -3v5M28 11v1M29 -3v4M30 -3v5M31 -3v4M32 -3v5M33 -3v4M36 -3v4M38 11v1M39 11v1M83 11v1M85 2v1M86 -3v5M87 -3v5M88 2v1M89 -3v6M93 2v1M95 4v1M96 3v1M97 3v1M100 3v1M101 -3v7M104 3v1M107 4v1M108 10v1"/><path stroke="#454545" d="M1 3v1M2 3v1M3 -3v7M6 -3v7M9 4v1M10 4v1M11 -3v7M12 -3v7M15 -3v5M16 -3v6M18 3v1M20 3v1M21 -3v6M23 -3v6M24 -3v5M26 2v1M27 2v1M29 1v1M31 1v1M33 1v1M34 11v1M35 11v1M37 11v1M38 -3v4M39 -3v4M77 -3v4M77 11v1M78 11v1M80 -3v4M80 11v1M81 11v1M82 11v1M84 11v1M86 2v1M87 2v1M90 -3v6M91 3v1M93 3v1M94 3v1M103 -3v6M106 4v1M109 10v1M110 10v1M111 4v1M112 4v1"/><path stroke="#494949" d="M-1 4v1M0 4v1M4 4v1M5 -3v6M7 4v1M8 4v1M13 4v1M14 4v1M15 2v2M16 3v1M21 3v1M22 3v1M24 2v1M25 -3v5M36 1v1M37 -3v4M40 11v1M42 -3v4M42 11v1M55 -3v4M56 -3v4M59 -3v4M61 -3v4M69 -3v4M69 11v1M70 -3v4M70 11v1M71 -3v4M77 1v1M78 -3v5M79 -3v4M79 11v1M80 1v1M81 -3v5M82 -3v5M83 -3v5M84 -3v5M89 3v1M92 -3v6M95 10v1M98 4v1M99 4v1M100 4v1M102 4v1M103 3v1M104 4v1M105 4v1M107 10v1M108 5v1"/><path stroke="#4d4d4d" d="M-1 10v1M0 10v1M1 4v1M2 4v1M5 3v1M8 10v1M9 10v1M10 10v1M17 4v1M23 3v1M25 2v1M28 -3v5M29 2v1M30 2v1M34 -3v4M35 -3v4M38 1v1M39 1v1M40 -3v4M44 -3v4M44 11v1M56 11v1M58 -3v4M60 -3v4M61 11v1M62 -3v4M63 -3v4M68 -3v4M71 11v1M72 -3v4M76 -3v4M76 11v1M79 1v1M83 2v1M84 2v1M88 3v1M90 3v1M95 5v1M96 4v1M97 4v1M101 4v1M106 10v1M108 6v1M108 9v1M109 5v1M110 5v1M111 10v1M112 10v1"/><path stroke="#515151" d="M3 4v1M4 10v1M6 4v1M7 10v1M11 4v1M12 4v1M18 4v1M19 4v1M31 2v1M32 2v1M34 1v1M35 1v1M37 1v1M41 11v1M43 11v1M51 -3v4M54 -3v4M55 11v1M59 11v1M62 11v1M63 11v1M67 -3v4M68 11v1M69 1v1M70 1v1M71 1v1M72 11v1M73 -3v4M73 11v1M76 1v1M80 2v1M82 2v1M85 3v1M92 3v1M94 4v1M99 10v1M102 10v1M105 10v1M107 5v1M108 7v2M109 6v1M109 9v1M110 6v1M110 9v1"/><path stroke="#595959" d="M3 10v1M4 5v1M6 10v1M7 5v1M9 6v1M9 9v1M10 6v1M10 9v1M13 5v1M14 5v1M15 4v1M17 10v1M18 10v1M19 10v1M22 4v1M25 3v1M40 1v1M42 1v1M46 11v1M48 -3v4M49 -3v4M52 11v1M54 11v1M56 1v1M57 11v1M59 1v1M60 11v1M64 11v1M66 11v1M68 1v1M73 1v1M75 1v1M78 2v1M79 2v1M91 4v1M96 10v1M97 10v1M99 5v1M100 5v1M102 5v1M104 5v1M105 5v1M107 7v2M111 9v1M112 9v1"/><path stroke="#5d5d5d" d="M-1 6v4M0 6v4M1 5v1M2 5v1M7 9v1M8 6v4M9 7v2M10 7v2M11 10v1M12 10v1M20 10v1M21 4v1M22 10v1M29 3v1M36 2v1M44 1v1M48 11v1M49 11v1M50 11v1M53 11v1M55 1v1M74 1v1M74 11v1M89 4v1M94 10v1M96 5v1M97 5v1M98 5v1M99 6v1M99 9v1M101 5v1M102 6v1M102 9v1M103 10v1M105 6v1M105 9v1M106 6v4M111 6v3M112 6v3"/><path stroke="#616161" d="M3 5v1M4 6v1M4 9v1M5 10v1M6 5v1M7 6v3M12 5v1M13 6v4M14 6v1M14 9v1M16 10v1M17 5v1M18 5v1M19 5v1M21 10v1M23 4v1M23 10v1M26 10v1M27 10v1M30 3v1M32 3v1M32 10v1M38 2v1M39 2v1M41 1v1M51 1v1M56 2v2M58 1v1M60 1v1M61 2v2M62 1v1M63 1v1M67 1v1M76 2v1M83 3v1M84 3v1M88 4v1M93 10v1M94 5v1M96 6v1M96 9v1M99 7v2M100 6v4M102 7v2M104 6v1M104 8v2M105 7v2"/><path stroke="#656565" d="M1 6v1M1 9v1M2 6v4M4 7v2M11 5v1M14 7v2M15 10v1M19 6v4M20 5v1M22 5v1M24 10v1M26 4v1M27 4v1M29 10v1M30 10v1M31 3v1M31 10v1M32 4v1M33 3v1M33 10v1M34 2v1M36 3v1M37 2v1M39 10v1M43 1v1M45 1v1M46 1v1M47 1v1M52 1v1M54 1v1M55 2v2M56 4v7M57 1v1M59 2v2M61 4v2M61 9v2M65 1v1M66 1v1M69 2v1M70 2v1M71 2v1M82 3v1M85 4v1M85 10v1M88 10v1M89 10v1M90 4v1M91 10v1M92 4v1M93 5v1M96 7v2M97 6v1M97 9v1M98 6v1M98 9v1M101 6v4M103 5v1M104 7v1"/><path stroke="#696969" d="M1 7v2M3 6v1M3 9v1M5 5v1M6 6v1M6 9v1M11 6v1M11 9v1M12 6v1M12 8v2M16 5v1M17 6v1M17 9v1M18 6v4M20 6v4M21 5v1M22 6v4M24 4v1M25 10v1M27 5v2M27 9v1M28 3v1M29 4v1M32 5v5M35 2v1M36 10v1M38 3v1M38 10v1M39 3v2M42 2v1M44 2v1M50 1v1M53 1v1M55 4v7M58 2v1M59 4v1M60 2v1M61 6v3M64 1v1M72 2v1M77 3v1M80 3v1M87 4v1M88 5v1M89 5v1M93 6v1M93 9v1M94 6v4M97 7v2M98 7v2"/><path stroke="#6d6d6d" d="M3 7v2M6 7v2M11 7v2M12 7v1M15 5v1M17 7v2M21 6v4M23 5v1M23 9v1M25 4v1M26 5v2M26 9v1M27 7v2M29 5v1M30 4v1M31 4v1M33 4v3M33 9v1M36 4v1M38 4v2M38 9v1M39 5v5M40 2v1M42 10v1M48 1v1M49 1v1M51 2v1M54 2v1M58 3v3M58 10v1M59 10v1M60 3v1M62 2v2M62 10v1M63 2v1M68 2v1M69 3v2M69 10v1M70 3v1M70 10v1M73 2v1M75 2v1M77 10v1M78 3v1M81 3v1M85 5v1M85 9v1M86 4v1M86 10v1M87 10v1M88 6v1M88 9v1M89 6v4M90 10v1M91 5v1M92 10v1M93 7v2M103 6v4"/><path stroke="#717171" d="M5 6v1M5 9v1M16 9v1M23 6v3M24 5v1M24 9v1M26 7v2M28 10v1M29 6v4M30 5v1M31 5v1M31 9v1M33 7v2M36 5v1M36 9v1M37 3v1M37 10v1M38 6v3M40 10v1M42 3v3M44 3v2M44 10v1M51 3v2M51 10v1M52 2v1M54 3v3M54 10v1M57 2v2M57 10v1M58 6v4M59 5v1M59 9v1M62 4v3M62 9v1M63 3v3M63 10v1M67 2v1M69 5v5M70 4v2M70 9v1M71 3v1M71 10v1M74 2v1M77 4v2M77 9v1M78 10v1M79 3v1M80 10v1M82 10v1M83 10v1M85 6v3M88 7v2M91 9v1"/><path stroke="#757575" d="M5 7v2M15 6v1M15 9v1M16 6v1M24 6v3M25 5v2M25 9v1M30 6v1M30 9v1M31 6v3M34 10v1M35 3v1M35 10v1M36 6v1M37 4v1M40 3v2M41 2v1M42 6v4M43 2v1M44 5v5M45 2v1M46 2v1M47 2v1M50 2v1M51 5v1M52 3v2M52 10v1M53 2v2M53 10v1M54 6v4M57 4v3M57 8v2M59 6v1M60 4v1M62 7v2M63 6v4M64 2v1M65 2v1M66 2v1M68 3v2M68 10v1M70 6v3M71 4v3M71 8v2M76 3v1M77 6v3M78 4v1M79 10v1M81 10v1M82 4v1M83 4v1M84 4v1M84 10v1M87 5v1M90 5v1M91 6v1M92 5v1"/><path stroke="#797979" d="M15 7v2M16 7v2M25 7v2M28 4v1M30 7v2M34 3v1M35 4v1M36 7v2M37 5v1M37 9v1M40 5v5M43 10v1M46 3v1M47 3v2M47 10v1M49 2v1M50 3v1M51 6v4M52 5v5M53 4v3M53 9v1M57 7v1M59 7v2M60 10v1M65 3v2M65 10v1M67 3v2M67 10v1M68 5v5M71 7v1M72 3v1M72 10v1M76 10v1M78 5v2M78 8v2M80 4v1M82 5v1M82 9v1M83 5v2M83 9v1M84 5v1M86 5v1M91 7v2M92 6v1M92 9v1"/><path stroke="#7d7d7d" d="M28 5v1M28 9v1M34 4v2M35 5v1M37 6v1M37 8v1M41 3v1M41 10v1M43 3v2M45 3v2M45 10v1M46 4v1M46 10v1M47 5v2M47 8v2M48 2v1M49 3v1M50 4v1M50 10v1M53 7v2M60 5v1M64 3v3M64 10v1M65 5v5M66 3v3M66 10v1M67 5v5M72 4v3M72 9v1M73 3v1M73 10v1M76 4v1M78 7v1M79 4v1M80 9v1M81 4v1M82 6v3M83 7v2M84 6v4M86 9v1M87 6v1M87 9v1M90 6v1M90 9v1M92 7v2"/><path stroke="#828282" d="M28 6v3M34 6v4M35 6v4M37 7v1M41 4v2M43 5v5M45 5v1M46 5v1M47 7v1M48 3v3M48 10v1M49 4v2M49 10v1M50 5v1M64 6v4M66 6v4M72 7v2M73 4v1M75 3v1M76 5v5M79 9v1M81 5v1M81 9v1M86 6v1M87 7v2M90 7v2"/><path stroke="#868686" d="M41 6v4M45 6v1M45 9v1M46 6v1M46 9v1M48 6v4M49 6v4M50 6v1M50 9v1M60 9v1M73 5v2M73 8v2M74 3v1M75 10v1M79 5v1M79 8v1M80 5v1M80 8v1M81 6v3M86 7v2"/><path stroke="#8a8a8a" d="M45 7v2M46 7v2M50 7v2M60 6v1M73 7v1M75 4v1M79 6v2M80 6v2"/><path stroke="#8e8e8e" d="M60 7v2M75 5v1"/><path stroke="#929292" d="M74 4v1M75 6v1M75 8v2"/><path stroke="#969696" d="M74 10v1M75 7v1"/><path stroke="#9e9e9e" d="M74 5v1"/><path stroke="#aaa" d="M74 9v1"/><path stroke="#aeaeae" d="M74 6v1"/><path stroke="#b6b6b6" d="M74 8v1"/><path stroke="#bababa" d="M74 7v1"/></g></g></svg>
<text x="72.9" y="281.6" font-size="4.08" text-anchor="middle" fill="#262626">VTEC C1PG (10E 40N)</text>
<text x="15.5" y="313.35" font-size="3.4" text-anchor="end" fill="#262626">0</text>
<text x="15.5" y="301.121" font-size="3.4" text-anchor="end" fill="#262626">10</text>
<text x="15.5" y="288.892" font-size="3.4" text-anchor="end" fill="#262626">20</text>
<svg x="147.6" y="282.7" width="111.9" height="29.35" viewBox="0 0 112 10" preserveAspectRatio="none" stroke-width="1.04" fill="none"><g filter="url(#f8)"><rect x="-4" y="-4" width="120" height="18" fill="#828282"/><g transform="translate(.5)"><path stroke="#5d5d5d" d="M56 -3v4"/><path stroke="#656565" d="M47 -3v4M59 -3v6M69 -3v4"/><path stroke="#696969" d="M38 -3v5M40 4v1M46 5v1M47 1v1M56 1v1"/><path stroke="#6d6d6d" d="M3 6v1M16 3v1M33 3v1M33 5v1M38 2v1M46 4v1M69 1v1M69 4v1M86 -3v4"/><path stroke="#717171" d="M-1 5v1M0 5v1M1 3v1M1 9v4M3 5v1M4 8v1M6 3v1M8 4v2M11 -3v4M16 2v1M16 4v1M33 4v1M33 6v1M40 5v1M59 3v1M69 3v1M79 6v1M86 1v1M100 2v1M100 4v2M103 7v1"/><path stroke="#757575" d="M-1 4v1M0 4v1M1 8v1M2 -3v5M2 6v2M3 3v2M3 7v2M5 1v1M5 8v1M6 2v1M6 7v1M7 7v1M8 3v1M17 1v1M20 -3v4M22 -3v4M32 3v2M33 2v1M38 3v2M42 6v1M45 2v1M54 -3v4M55 -3v4M57 -3v5M59 4v1M61 -3v5M63 5v1M69 5v1M76 -3v5M79 5v1M82 7v1M83 1v1M83 3v2M87 -3v5M91 5v2M100 6v1M101 4v1M106 2v1M110 3v1"/><path stroke="#797979" d="M-1 6v2M-1 9v4M0 6v2M0 9v4M1 4v4M2 2v4M2 8v1M3 1v2M3 9v4M4 1v1M4 4v1M4 6v1M4 9v4M5 -3v4M5 2v1M5 7v1M6 1v1M6 4v2M6 8v5M7 5v1M9 2v1M9 8v5M10 -3v5M10 8v1M11 1v2M11 7v2M12 1v1M12 8v5M13 9v4M14 -3v5M15 3v1M15 5v3M16 -3v5M17 -3v4M17 4v1M17 6v1M18 7v1M20 7v1M21 5v1M23 3v1M24 6v1M32 2v1M33 7v1M35 3v2M40 2v2M41 -3v8M41 6v1M42 -3v4M42 4v2M42 7v1M43 5v1M44 2v1M45 3v1M46 3v1M46 6v1M47 2v1M47 5v1M47 7v1M50 5v1M50 9v4M51 5v1M55 1v1M57 2v1M60 -3v4M60 4v1M61 6v2M62 3v2M63 -3v4M63 6v1M65 2v2M66 4v1M69 2v1M69 6v1M70 1v1M71 7v1M72 5v2M74 1v1M77 8v1M80 -3v4M81 3v1M81 6v1M82 6v1M83 -3v4M86 3v2M87 6v1M91 3v2M93 1v1M94 5v1M100 1v1M100 3v1M101 2v2M104 8v1M105 3v1M105 6v1M106 3v1M106 5v1M108 4v1M110 -3v4M110 2v1"/><path stroke="#7d7d7d" d="M-1 -3v4M-1 8v1M0 -3v4M0 8v1M1 1v2M2 9v4M4 -3v4M4 2v2M4 5v1M5 3v2M5 6v1M5 9v4M6 6v1M7 -3v5M7 4v1M7 6v1M7 8v5M8 1v2M8 7v6M9 1v1M9 3v3M9 7v1M11 3v1M11 9v4M12 -3v4M12 2v2M13 5v1M13 7v1M14 2v1M14 6v1M15 1v2M15 4v1M16 5v1M17 2v2M17 5v1M17 8v5M18 5v1M18 8v5M19 2v2M19 6v7M20 1v1M20 5v1M21 6v1M21 9v4M22 1v1M22 3v1M22 7v1M23 -3v4M23 7v6M24 3v1M24 5v1M25 2v1M25 8v5M26 2v1M26 5v2M26 8v1M27 5v1M27 7v1M28 -3v9M28 8v5M29 -3v4M29 4v1M29 6v1M30 -3v4M30 9v4M31 -3v4M31 4v1M32 5v1M32 7v1M33 1v1M33 9v4M34 -3v5M35 5v1M35 9v4M36 -3v4M37 2v1M38 5v3M39 -3v4M39 2v2M39 8v1M40 6v1M41 5v1M43 -3v4M43 3v1M43 8v5M44 1v1M44 6v2M45 -3v4M45 4v1M45 7v1M46 8v1M47 3v1M47 6v1M47 8v1M48 1v1M48 3v2M50 -3v4M50 2v3M50 8v1M52 -3v6M52 4v2M52 8v5M53 9v4M54 1v1M54 5v2M54 9v4M55 7v1M56 2v2M56 5v1M56 8v5M57 3v1M57 8v1M58 2v1M58 6v1M59 5v1M59 7v1M60 3v1M60 5v1M61 2v1M61 5v1M62 2v1M62 5v1M63 3v2M65 1v1M65 7v2M66 5v1M66 9v4M67 7v6M68 7v2M69 7v1M70 -3v4M70 9v4M71 4v1M71 9v4M72 4v1M72 7v1M74 -3v4M74 9v4M75 2v2M75 8v1M76 5v2M77 -3v4M77 2v1M77 4v2M77 7v1M77 9v4M78 7v2M79 4v1M79 7v1M80 1v1M80 4v3M81 1v2M81 4v1M81 9v4M82 1v1M82 5v1M83 2v1M83 5v4M84 2v2M84 5v1M85 6v1M86 2v1M86 6v2M87 2v2M87 5v1M87 7v1M88 -3v4M88 7v1M89 3v2M90 -3v4M91 8v1M92 5v2M92 8v5M93 -3v4M93 2v1M93 4v2M93 9v4M94 6v1M94 8v1M95 5v3M96 1v3M96 7v2M97 3v1M97 7v2M98 2v1M98 4v2M98 8v5M99 1v3M99 7v1M99 9v4M100 7v2M101 5v1M102 8v5M103 1v1M103 6v1M103 8v1M104 -3v4M105 2v1M105 4v2M105 7v2M106 -3v4M106 6v1M106 8v1M107 -3v4M107 2v1M107 4v2M107 7v2M108 2v2M108 5v1M108 8v1M109 6v1M109 9v4M110 1v1M110 6v2M111 -3v4M111 6v2M111 9v4M112 -3v4M112 6v2M112 9v4"/><path stroke="#868686" d="M9 -3v4M9 6v1M10 5v3M13 6v1M14 3v1M14 8v1M16 6v1M17 7v1M18 1v1M20 2v1M21 3v1M22 2v1M22 4v2M23 5v1M24 9v4M25 3v1M25 6v2M26 1v1M26 4v1M27 4v1M27 8v1M29 2v2M29 5v1M30 2v1M30 5v1M31 2v2M32 8v1M34 8v5M35 1v1M35 7v1M36 2v1M36 4v3M36 8v1M37 -3v4M37 4v4M39 7v1M40 -3v4M40 8v1M42 2v1M42 8v1M44 -3v4M44 3v1M44 5v1M45 8v1M46 1v2M48 6v2M49 4v1M49 7v1M51 7v2M52 6v1M53 8v1M54 2v2M54 7v1M55 3v1M55 9v4M56 7v1M57 4v1M57 6v1M58 8v1M59 6v1M59 9v4M60 2v1M60 8v1M61 3v2M61 9v4M62 7v1M63 2v1M63 9v4M64 1v1M64 6v1M65 5v1M65 9v4M66 1v1M66 6v1M67 1v1M67 3v1M67 5v2M68 1v1M68 3v1M68 5v1M71 6v1M72 -3v5M72 3v1M73 -3v4M73 6v1M74 7v2M75 6v1M76 7v2M77 1v1M78 5v1M78 9v4M79 9v4M80 3v1M82 2v1M82 4v1M82 9v4M84 1v1M84 9v4M85 1v2M87 8v1M88 1v1M88 5v1M88 8v5M92 1v2M95 8v5M96 4v2M97 1v1M97 4v1M99 4v2M100 9v4M101 1v1M101 7v1M102 -3v4M102 2v2M102 5v1M103 2v2M103 5v1M104 2v1M104 6v2M105 -3v4M107 3v1M108 -3v4M109 4v2M110 9v4"/><path stroke="#8a8a8a" d="M11 5v1M13 -3v4M14 5v1M15 -3v4M18 -3v4M18 4v1M23 4v1M23 6v1M24 2v1M25 1v1M26 -3v4M27 -3v4M32 1v1M34 2v1M35 -3v4M36 3v1M36 7v1M37 1v1M39 5v2M42 1v1M44 4v1M45 6v1M46 -3v4M48 5v1M49 8v1M53 -3v6M53 7v1M58 1v1M60 6v2M61 8v1M62 -3v4M62 6v1M64 -3v4M64 7v1M66 -3v4M68 -3v4M69 8v1M70 6v1M71 1v3M74 2v3M74 6v1M75 -3v4M75 4v2M78 1v3M88 2v2M88 6v1M89 -3v6M89 6v2M90 5v1M91 -3v5M92 -3v4M94 -3v5M95 2v1M97 2v1M98 7v1M103 4v1M104 3v2M105 1v1M109 -3v6M111 5v1M112 5v1"/><path stroke="#8e8e8e" d="M14 4v1M18 2v2M21 -3v6M27 2v1M31 6v1M34 7v1M45 5v1M49 -3v4M53 3v2M70 3v1M78 -3v4M78 4v1M79 1v1M84 -3v4M84 8v1M85 4v1M95 3v1M97 -3v4M101 -3v4M109 3v1"/><path stroke="#929292" d="M24 1v1M34 3v1M49 3v1M51 2v1M53 5v1M58 -3v4M70 4v2M71 -3v4M85 3v1M95 1v1M104 5v1"/><path stroke="#969696" d="M25 -3v4M34 4v1M49 1v2M51 -3v4M53 6v1M79 -3v4M95 -3v4"/><path stroke="#9a9a9a" d="M24 -3v4M51 1v1"/><path stroke="#9e9e9e" d="M34 5v2"/></g></g><path stroke="#d02800" stroke-width=".8" stroke-opacity="0.32" d="M45.0 1.3v2.1M65.3 4.5v1.0M65.6 5.9v1.0M23.7 3.3v2.1M69.5 3.2v2.8M64.0 4.8v1.4M61.1 5.0v1.0M57.3 2.6v1.0M75.9 4.5v1.4M90.6 5.3v2.1M43.2 1.1v2.8M45.0 4.0v2.8M59.0 2.2v2.1M15.2 5.3v1.4M37.4 4.1v2.8M87.5 3.5v1.4"/><path stroke="#1030d8" stroke-width=".8" stroke-opacity="0.32" d="M72.6 3.9v2.8M91.9 3.8v1.4M63.8 4.1v2.1M66.1 5.7v1.4M79.1 2.3v2.1M53.3 3.3v1.0M37.1 4.2v2.8M62.4 0.8v2.1M90.8 3.9v2.1M83.3 4.5v1.4M38.1 4.4v1.0M93.3 3.4v2.1M38.4 0.5v2.8M38.5 3.9v1.0M67.3 1.8v2.8M8.4 3.9v2.1M89.8 2.9v1.4"/><path stroke="#f09000" stroke-width=".8" stroke-opacity="0.32" d="M78.4 4.6v2.1M59.4 4.6v1.0M79.7 6.5v1.0M41.2 4.6v1.0M52.1 3.1v2.1M88.2 4.2v2.1M43.0 2.7v1.4M54.1 3.6v1.0M54.8 0.9v1.4M66.5 3.6v1.4M75.6 1.5v2.8M75.3 3.5v1.4"/></svg>
<text x="203.55" y="281.6" font-size="4.08" text-anchor="middle" fill="#262626">dVTEC C1PG (10E 40N)</text>
<text x="146.2" y="313.35" font-size="3.4" text-anchor="end" fill="#262626">0</text>
<text x="146.2" y="301.121" font-size="3.4" text-anchor="end" fill="#262626">10</text>
<text x="146.2" y="288.892" font-size="3.4" text-anchor="end" fill="#262626">20</text>
<rect x="130.7" y="282.7" width="1.6" height="29.35" fill="url(#jetg)"/>
<text x="133.8" y="313.35" font-size="3.42" text-anchor="start" fill="#262626">0</text>
<text x="133.8" y="305.197" font-size="3.42" text-anchor="start" fill="#262626">10</text>
<text x="133.8" y="297.044" font-size="3.42" text-anchor="start" fill="#262626">20</text>
<text x="133.8" y="288.892" font-size="3.42" text-anchor="start" fill="#262626">30</text>
<rect x="261.2" y="282.7" width="1.9" height="29.35" fill="url(#jetg)"/>
<text x="264.6" y="309.963" font-size="3.42" text-anchor="start" fill="#262626">−10</text>
<text x="264.6" y="298.675" font-size="3.42" text-anchor="start" fill="#262626">0</text>
<text x="264.6" y="287.387" font-size="3.42" text-anchor="start" fill="#262626">10</text>
<svg x="16.9" y="317.55" width="112" height="29.35" viewBox="0 0 112 15" preserveAspectRatio="none" stroke-width="1.04" fill="none"><g filter="url(#f0)"><rect x="-4" y="-4" width="120" height="23" fill="#181818"/><g transform="translate(.5)"><path stroke="#141414" d="M9 12v6M11 13v5M17 12v6M18 12v6M19 13v5M20 12v6M21 12v6M24 13v5M27 12v6M28 12v6M29 12v6M30 13v5M31 12v6M32 12v6M33 13v5M35 12v6M36 13v5M39 13v5M55 12v6M56 13v5M58 12v6M61 13v5M65 12v6M69 12v6M72 13v5M73 13v5M76 12v6M77 12v6M78 13v5M79 13v5M80 12v6M82 12v6M83 14v4M85 12v6M86 13v5M87 12v6M88 12v6M91 13v5M95 13v5M96 13v5M99 13v5M100 12v6M108 12v6M109 12v6M111 12v6M112 12v6"/><path stroke="#1c1c1c" d="M90 12v1M94 12v1M109 11v1"/><path stroke="#202020" d="M9 11v1M55 11v1M58 11v1M61 11v1M65 11v1M69 11v1M108 11v1M111 11v1M112 11v1"/><path stroke="#242424" d="M-1 11v1M0 11v1M2 11v1M3 11v1M4 11v1M5 11v1M6 11v1M7 11v1M8 11v1M10 11v1M11 11v1M17 11v1M18 11v1M19 11v1M20 11v1M21 11v1M27 11v1M28 11v1M29 11v1M31 11v1M32 11v1M35 11v1M36 11v1M37 11v1M38 11v1M39 11v1M40 11v1M41 11v1M42 11v1M43 11v1M44 11v1M45 11v1M46 11v1M47 11v1M48 11v1M49 11v1M51 11v1M52 11v1M53 11v1M54 11v1M56 11v1M57 11v1M59 11v1M60 11v1M62 11v1M63 11v1M64 11v1M66 11v1M67 11v1M68 11v1M70 11v1M71 11v1M72 11v1M76 11v1M77 11v1M78 11v1M79 11v1M80 11v1M82 11v1M85 11v1M87 11v1M88 11v1M91 11v1M95 11v1M96 11v1M98 11v1M99 11v1M100 11v1M101 11v1M102 11v1M103 11v1M104 11v1M105 11v1M106 11v1M107 11v1M110 11v1"/><path stroke="#282828" d="M1 11v1M9 -3v4M9 2v1M12 11v1M13 11v1M14 11v1M15 11v1M16 11v1M22 11v1M23 11v1M24 11v1M25 11v1M26 11v1M30 11v1M33 11v1M34 11v1M50 11v1M55 -3v6M58 -3v5M73 11v1M74 11v1M75 11v1M81 11v1M83 11v1M84 11v1M86 11v1M89 11v1M92 11v1M97 11v1M109 -3v6"/><path stroke="#2d2d2d" d="M3 -3v4M9 1v1M32 -3v4M35 -3v4M49 -3v4M53 -3v5M54 -3v5M56 -3v6M57 -3v4M58 2v1M61 -3v6M62 -3v4M63 -3v4M65 -3v6M69 -3v6M72 -3v4M76 -3v4M77 -3v4M90 11v1M93 11v1M94 11v1M100 -3v4M105 -3v4M108 -3v6M111 -3v6M112 -3v6"/><path stroke="#313131" d="M-1 -3v6M0 -3v6M2 -3v5M3 1v2M4 -3v6M5 -3v6M6 -3v4M7 -3v6M8 -3v4M8 2v1M9 3v1M10 -3v4M11 -3v4M11 2v1M17 -3v4M18 -3v4M20 -3v4M21 -3v4M27 -3v4M28 -3v4M29 -3v4M31 -3v4M33 -3v4M34 -3v4M36 -3v4M37 -3v4M38 -3v4M38 2v1M39 -3v6M40 -3v4M41 -3v4M41 2v1M42 -3v4M43 -3v6M46 -3v6M47 -3v5M48 -3v5M49 1v2M51 -3v6M52 -3v6M53 2v1M54 2v1M55 3v1M57 1v2M59 -3v6M60 -3v6M62 1v2M63 1v2M64 -3v6M66 -3v6M67 -3v6M68 -3v6M70 -3v4M71 -3v4M72 1v1M73 -3v4M74 -3v4M78 -3v4M79 -3v4M80 -3v4M82 -3v4M85 -3v4M87 -3v4M88 -3v4M91 -3v4M95 -3v4M96 -3v4M98 -3v4M99 -3v4M99 2v1M100 1v2M101 -3v6M102 -3v6M103 -3v6M104 -3v6M105 1v2M106 -3v6M107 -3v4M109 3v1M110 -3v6"/><path stroke="#353535" d="M1 -3v6M2 2v1M6 1v2M8 1v1M10 1v2M11 1v1M12 -3v4M13 -3v4M14 -3v4M15 -3v4M16 -3v4M19 -3v4M24 -3v4M30 -3v4M32 1v1M35 1v2M36 1v2M37 1v2M38 1v1M40 1v2M41 1v1M42 1v2M44 -3v6M45 -3v6M47 2v1M48 2v1M50 -3v6M58 3v1M65 3v1M70 1v2M71 1v2M72 2v1M73 1v1M75 -3v4M76 1v1M77 1v1M83 -3v4M86 -3v4M92 -3v4M96 1v2M97 -3v4M98 1v2M99 1v1M107 1v2M108 3v1M111 3v1M112 3v1"/><path stroke="#393939" d="M3 3v1M7 3v1M12 1v2M13 1v2M14 1v2M17 1v1M18 1v1M20 1v2M21 1v2M22 -3v4M23 -3v4M25 -3v4M26 -3v4M27 1v1M28 1v1M31 1v2M32 2v1M33 1v1M34 1v1M43 3v1M46 3v1M49 3v1M53 3v1M54 3v1M56 3v1M57 3v1M60 3v1M61 3v1M62 3v1M63 3v1M64 3v1M66 3v1M67 3v1M73 2v1M74 1v1M77 2v1M78 1v1M80 1v1M81 -3v4M82 1v1M84 -3v4M88 1v1M89 -3v4M93 -3v4M94 -3v4M95 1v2M97 1v2M105 3v1M106 3v1M110 3v1"/><path stroke="#3d3d3d" d="M-1 3v1M0 3v1M2 3v1M4 3v1M5 3v1M6 3v1M8 3v1M10 3v1M15 1v1M16 1v1M17 2v1M19 1v2M27 2v1M28 2v1M29 1v2M30 1v2M39 3v1M40 3v1M41 3v1M42 3v1M44 3v1M45 3v1M47 3v1M48 3v1M51 3v1M52 3v1M59 3v1M74 2v1M75 1v1M76 2v1M78 2v1M79 1v2M80 2v1M82 2v1M85 1v2M86 1v1M87 1v2M88 2v1M90 -3v4M91 1v1M92 1v2M103 3v1M104 3v1M107 3v1"/><path stroke="#414141" d="M1 3v1M11 3v1M15 2v1M16 2v1M18 2v1M23 1v2M24 1v2M26 1v1M33 2v1M34 2v1M38 3v1M50 3v1M68 3v1M69 3v1M81 1v1M83 1v1M86 2v1M91 2v1M93 1v2M94 1v2M100 3v1M101 3v1M102 3v1"/><path stroke="#454545" d="M22 1v2M25 1v1M26 2v1M75 2v1M81 2v1M84 1v1M89 1v2M90 1v1M99 3v1"/><path stroke="#494949" d="M25 2v1M83 2v1M90 2v1"/><path stroke="#4d4d4d" d="M12 3v1M37 3v1M70 3v1M84 2v1M98 3v1M109 10v1"/><path stroke="#515151" d="M9 10v1M55 10v1M58 10v1"/><path stroke="#555" d="M13 3v1M36 3v1M55 4v1M65 10v1M96 3v1M97 3v1M108 10v1M109 4v1M111 10v1M112 10v1"/><path stroke="#595959" d="M9 4v1M53 10v1M54 10v1M56 10v1M58 4v1M61 10v1M62 10v1M71 3v1M95 3v1M108 4v1M110 10v1"/><path stroke="#5d5d5d" d="M3 10v1M7 10v1M35 3v1M39 10v1M43 10v1M46 10v1M49 10v1M52 10v1M57 10v1M59 10v1M60 10v1M63 10v1M64 10v1M65 4v1M66 10v1M67 10v1M69 10v1M72 3v1M105 10v1M106 10v1M111 4v1M112 4v1"/><path stroke="#616161" d="M-1 10v1M0 10v1M4 10v1M5 10v1M8 10v1M10 10v1M11 10v1M38 10v1M40 10v1M41 10v1M42 10v1M47 10v1M48 10v1M51 10v1M53 4v1M54 4v1M56 4v1M61 4v1M62 4v1M68 10v1M100 10v1M102 10v1M103 10v1M104 10v1M107 10v1M109 9v1M110 4v1"/><path stroke="#656565" d="M2 10v1M3 4v1M6 10v1M7 4v1M14 3v1M43 4v1M44 10v1M45 10v1M46 4v1M49 4v1M50 10v1M52 4v1M55 9v1M57 4v1M60 4v1M63 4v1M64 4v1M66 4v1M67 4v1M77 3v1M99 10v1M101 10v1M105 4v1M106 4v1M109 5v4"/><path stroke="#696969" d="M1 10v1M4 4v1M5 4v1M8 4v1M9 9v1M20 3v1M21 3v1M27 10v1M28 10v1M31 3v1M32 3v1M32 10v1M35 10v1M36 10v1M37 10v1M39 4v1M40 4v1M41 4v1M42 4v1M47 4v1M48 4v1M51 4v1M55 5v4M58 9v1M59 4v1M70 10v1M72 10v1M73 3v1M76 10v1M77 10v1M96 10v1M98 10v1M107 4v1M108 9v1M111 9v1M112 9v1"/><path stroke="#6d6d6d" d="M-1 4v1M0 4v1M2 4v1M6 4v1M9 5v4M10 4v1M12 10v1M20 10v1M21 10v1M27 3v1M31 10v1M44 4v1M45 4v1M50 4v1M58 5v4M61 9v1M65 9v1M71 10v1M80 3v1M80 10v1M82 10v1M85 10v1M87 10v1M88 10v1M92 3v1M94 3v1M95 10v1M97 10v1M103 4v1M104 4v1M108 5v1M108 7v2M111 5v1M111 8v1M112 5v1M112 8v1"/><path stroke="#717171" d="M1 4v1M13 10v1M17 10v1M18 10v1M19 3v1M19 10v1M24 3v1M28 3v1M29 3v1M29 10v1M30 3v1M30 10v1M43 9v1M49 9v1M53 9v1M54 9v1M56 9v1M57 9v1M61 5v1M61 8v1M62 9v1M63 9v1M65 5v4M68 4v1M69 4v1M73 10v1M74 3v1M78 3v1M78 10v1M79 3v1M79 10v1M82 3v1M85 3v1M86 3v1M86 10v1M87 3v1M88 3v1M91 10v1M93 3v1M102 4v1M105 9v1M108 6v1M110 9v1M111 6v2M112 6v2"/><path stroke="#757575" d="M3 9v1M11 4v1M14 10v1M15 3v1M17 3v1M23 3v1M24 10v1M33 10v1M34 10v1M38 4v1M39 9v1M46 9v1M49 8v1M52 9v1M53 5v1M53 8v1M54 5v1M54 8v1M56 5v1M56 7v2M57 8v1M59 9v1M60 9v1M61 6v2M62 5v1M62 8v1M64 9v1M66 9v1M67 9v1M69 9v1M74 10v1M76 3v1M91 3v1M92 10v1M100 4v1M101 4v1M106 9v1M110 5v1M110 8v1"/><path stroke="#797979" d="M3 8v1M7 9v1M8 9v1M15 10v1M16 3v1M16 10v1M18 3v1M22 3v1M23 10v1M26 10v1M40 9v1M41 9v1M43 5v4M46 5v1M46 8v1M48 9v1M49 5v3M51 9v1M52 8v1M53 6v2M54 6v2M56 6v1M57 5v3M60 5v1M60 7v2M62 6v2M63 5v4M64 5v4M66 5v1M66 8v1M67 5v1M67 8v1M81 3v1M83 10v1M89 3v1M100 9v1M103 9v1M104 9v1M105 5v4M106 5v1M106 7v2M107 9v1M110 6v2"/><path stroke="#7d7d7d" d="M-1 9v1M0 9v1M3 5v3M4 9v1M5 9v1M7 5v4M8 5v1M8 8v1M10 9v1M11 9v1M22 10v1M25 10v1M26 3v1M33 3v1M34 3v1M38 9v1M39 5v1M39 7v2M41 5v1M41 8v1M42 9v1M44 9v1M45 9v1M46 6v2M47 9v1M50 9v1M51 8v1M52 5v3M59 5v4M60 6v1M66 6v2M67 6v2M68 9v1M69 8v1M75 10v1M81 10v1M84 10v1M89 10v1M93 10v1M99 4v1M101 9v1M102 9v1M106 6v1M107 5v1M107 8v1"/><path stroke="#828282" d="M-1 5v1M-1 8v1M0 5v1M0 8v1M2 9v1M4 5v4M5 5v4M6 9v1M8 6v2M10 5v1M10 8v1M25 3v1M39 6v1M40 5v4M41 6v2M42 5v1M42 7v2M44 5v1M44 8v1M45 5v1M45 8v1M47 5v1M47 7v2M48 5v4M51 5v3M68 8v1M69 5v3M90 3v1M94 10v1M99 9v1M100 8v1M102 8v1M103 5v1M103 7v2M104 5v1M104 7v2M107 6v2"/><path stroke="#868686" d="M-1 6v2M0 6v2M1 9v1M2 5v1M2 8v1M6 5v4M10 6v2M11 5v1M11 8v1M37 4v1M38 5v1M38 8v1M42 6v1M44 6v2M45 6v2M47 6v1M50 5v4M68 5v3M70 4v1M75 3v1M83 3v1M90 10v1M98 4v1M100 5v1M100 7v1M101 8v1M102 5v3M103 6v1M104 6v1"/><path stroke="#8a8a8a" d="M1 5v1M1 7v2M2 6v2M11 6v2M12 4v1M36 9v1M37 9v1M38 6v2M70 9v1M77 9v1M96 9v1M98 9v1M99 8v1M100 6v1M101 5v3"/><path stroke="#8e8e8e" d="M1 6v1M12 9v1M32 9v1M35 9v1M36 4v1M71 9v1M72 9v1M84 3v1M95 9v1M96 4v1M99 5v1"/><path stroke="#929292" d="M13 4v1M13 9v1M20 9v1M21 9v1M27 9v1M28 9v1M31 9v1M35 4v1M37 8v1M70 8v1M71 4v1M72 4v1M76 9v1M82 9v1M85 9v1M88 9v1M97 4v1M97 9v1M98 8v1M99 6v2"/><path stroke="#969696" d="M12 8v1M29 9v1M36 8v1M37 5v1M37 7v1M70 5v1M70 7v1M73 9v1M80 9v1M87 9v1M95 4v1M96 8v1M98 5v1"/><path stroke="#9a9a9a" d="M12 5v1M12 7v1M14 9v1M17 9v1M18 9v1M19 9v1M20 4v1M21 4v1M30 9v1M35 8v1M36 5v1M36 7v1M37 6v1M70 6v1M71 8v1M72 8v1M77 4v1M77 8v1M78 9v1M79 9v1M86 9v1M95 8v1M97 8v1M98 6v2"/><path stroke="#9e9e9e" d="M12 6v1M13 8v1M14 4v1M20 8v1M21 8v1M24 9v1M31 4v1M32 4v1M32 8v1M36 6v1M71 5v1M71 7v1M73 4v1M74 9v1M91 9v1M92 9v1M96 5v1M96 7v1"/><path stroke="#a2a2a2" d="M13 5v1M13 7v1M15 9v1M23 9v1M27 8v1M31 8v1M33 9v1M35 5v1M35 7v1M71 6v1M72 5v3M73 8v1M80 4v1M80 8v1M96 6v1M97 5v1M97 7v1"/><path stroke="#a6a6a6" d="M13 6v1M14 8v1M16 9v1M20 7v1M21 5v1M21 7v1M22 9v1M26 9v1M27 4v1M29 4v1M29 8v1M30 4v1M30 8v1M34 9v1M35 6v1M77 7v1M78 4v1M78 8v1M79 4v1M81 9v1M82 8v1M86 4v1M89 9v1M92 4v1M93 9v1M95 5v1M95 7v1M97 6v1"/><path stroke="#aaa" d="M19 4v1M19 8v1M20 5v1M21 6v1M24 4v1M25 9v1M28 4v1M28 8v1M73 7v1M74 4v1M75 9v1M77 5v1M79 8v1M82 4v1M83 9v1M85 4v1M85 8v1M86 8v1M87 4v1M87 8v1M88 4v1M88 8v1M92 8v1M94 9v1M95 6v1"/><path stroke="#aeaeae" d="M14 5v1M14 7v1M20 6v1M22 4v1M23 4v1M24 8v1M31 5v1M31 7v1M32 5v1M32 7v1M73 5v2M74 8v1M76 8v1M77 6v1M93 4v1"/><path stroke="#b2b2b2" d="M14 6v1M15 4v1M15 8v1M17 4v1M17 8v1M22 8v1M23 8v1M30 7v1M31 6v1M32 6v1M80 5v1M80 7v1M84 9v1M89 4v1M90 9v1M93 8v1M94 4v1"/><path stroke="#b6b6b6" d="M18 8v1M27 7v1M29 7v1M30 5v1M74 7v1M76 4v1M78 5v1M78 7v1M79 7v1M80 6v1M81 4v1M81 8v1M86 5v1M86 7v1M89 8v1M91 4v1M91 8v1M92 5v1M92 7v1M94 8v1"/><path stroke="#bababa" d="M16 4v1M16 8v1M19 5v1M19 7v1M23 7v1M24 5v1M24 7v1M27 5v1M29 5v1M30 6v1M74 5v1M78 6v1M79 5v1M82 7v1M86 6v1M87 7v1M92 6v1"/><path stroke="#bebebe" d="M18 4v1M22 5v1M22 7v1M23 5v1M26 4v1M26 8v1M27 6v1M28 7v1M29 6v1M33 8v1M74 6v1M79 6v1M85 7v1M87 5v1M88 7v1M93 5v1M93 7v1"/><path stroke="#c2c2c2" d="M15 7v1M19 6v1M22 6v1M23 6v1M24 6v1M25 8v1M33 4v1M34 8v1M82 5v1M85 5v1M88 5v1M89 5v1M89 7v1M90 4v1M90 8v1M93 6v1M94 5v1M94 7v1"/><path stroke="#c6c6c6" d="M15 5v1M17 7v1M25 4v1M28 5v1M34 4v1M75 8v1M81 5v1M81 7v1M82 6v1M87 6v1M89 6v1M94 6v1"/><path stroke="#cacaca" d="M15 6v1M17 5v1M28 6v1M75 4v1M76 7v1M83 8v1M85 6v1M88 6v1"/><path stroke="#cecece" d="M16 7v1M81 6v1M91 7v1"/><path stroke="#d2d2d2" d="M16 5v1M17 6v1M18 7v1M26 7v1M76 5v1M83 4v1M84 8v1M90 7v1M91 5v1"/><path stroke="#d7d7d7" d="M16 6v1M90 5v1"/><path stroke="#dbdbdb" d="M25 7v1M26 5v1M33 7v1M76 6v1M90 6v1M91 6v1"/><path stroke="#dfdfdf" d="M18 5v1M26 6v1M34 7v1M75 7v1M84 4v1"/><path stroke="#e3e3e3" d="M18 6v1M25 5v1M33 5v1"/><path stroke="#e7e7e7" d="M33 6v1M34 5v1M75 5v1"/><path stroke="#ebebeb" d="M25 6v1M83 7v1"/><path stroke="#efefef" d="M34 6v1M75 6v1"/><path stroke="#f7f7f7" d="M83 5v1M84 7v1"/><path stroke="#fff" d="M83 6v1M84 5v2"/></g></g></svg>
<text x="72.9" y="316.45" font-size="4.08" text-anchor="middle" fill="#262626">VTEC C1PG (10E 10N)</text>
<text x="15.5" y="348.2" font-size="3.4" text-anchor="end" fill="#262626">0</text>
<text x="15.5" y="335.971" font-size="3.4" text-anchor="end" fill="#262626">10</text>
<text x="15.5" y="323.742" font-size="3.4" text-anchor="end" fill="#262626">20</text>
<text x="32.2425" y="351.4" font-size="3.42" text-anchor="middle" fill="#262626">50</text>
<text x="47.5849" y="351.4" font-size="3.42" text-anchor="middle" fill="#262626">100</text>
<text x="62.9274" y="351.4" font-size="3.42" text-anchor="middle" fill="#262626">150</text>
<text x="78.2699" y="351.4" font-size="3.42" text-anchor="middle" fill="#262626">200</text>
<text x="93.6123" y="351.4" font-size="3.42" text-anchor="middle" fill="#262626">250</text>
<text x="108.955" y="351.4" font-size="3.42" text-anchor="middle" fill="#262626">300</text>
<text x="124.297" y="351.4" font-size="3.42" text-anchor="middle" fill="#262626">350</text>
<text x="72.9" y="355.35" font-size="3.45" text-anchor="middle" fill="#262626">Days</text>
<svg x="147.6" y="317.55" width="111.9" height="29.35" viewBox="0 0 112 10" preserveAspectRatio="none" stroke-width="1.04" fill="none"><g filter="url(#f8)"><rect x="-4" y="-4" width="120" height="18" fill="#828282"/><g transform="translate(.5)"><path stroke="#4d4d4d" d="M9 -3v4"/><path stroke="#5d5d5d" d="M90 4v2"/><path stroke="#616161" d="M9 1v1M108 6v1"/><path stroke="#656565" d="M15 2v1M88 3v1M94 6v1M99 3v1"/><path stroke="#696969" d="M36 -3v4M72 -3v5M72 5v1M88 2v1M88 4v1"/><path stroke="#6d6d6d" d="M11 3v2M15 -3v5M18 -3v4M18 5v1M37 3v1M68 6v1M81 -3v4M82 5v1M86 1v1M86 6v1M94 2v1M94 5v1M97 -3v4M99 2v1M99 4v1M108 7v1"/><path stroke="#717171" d="M2 4v1M3 -3v4M9 2v1M11 2v1M11 5v1M12 3v1M14 -3v4M15 3v1M18 1v1M21 1v2M22 1v1M28 5v1M30 -3v4M30 2v1M32 9v4M34 -3v4M38 5v1M55 -3v4M68 7v1M72 6v1M75 -3v4M81 6v1M82 6v1M83 6v2M88 5v1M90 3v1M90 6v1M95 6v1M99 1v1M108 5v1"/><path stroke="#757575" d="M2 3v1M2 5v1M3 2v1M3 6v1M8 4v2M12 4v2M15 5v1M20 -3v6M21 -3v4M22 -3v4M23 3v3M26 -3v6M28 4v1M30 1v1M30 3v3M34 1v2M35 -3v4M36 1v2M36 7v1M37 2v1M38 3v1M38 6v2M40 8v1M41 2v1M47 2v3M54 3v1M55 1v1M55 5v1M56 9v4M60 3v1M73 5v1M75 1v2M82 4v1M83 -3v4M84 2v1M84 7v1M86 5v1M88 -3v5M91 -3v4M93 1v1M94 3v2M94 7v1M95 5v1M95 7v1M96 3v1M97 1v1M97 3v1M99 5v1M101 1v1M110 -3v4"/><path stroke="#797979" d="M-1 6v1M0 6v1M3 1v1M5 6v1M5 8v1M6 2v1M6 4v2M7 -3v5M8 1v1M8 3v1M8 6v1M9 7v1M10 7v1M11 1v1M11 6v1M14 1v1M14 5v1M15 4v1M15 6v1M16 3v1M17 6v2M18 3v2M18 6v1M24 6v1M26 3v2M27 -3v4M32 3v1M34 3v2M34 7v1M35 1v1M36 8v1M38 2v1M38 4v1M39 -3v5M40 7v1M41 1v1M42 9v4M43 4v1M44 -3v4M44 8v1M45 3v1M45 5v1M48 9v4M49 4v1M51 1v1M51 9v4M52 -3v4M53 8v1M54 4v1M55 2v1M55 7v1M58 -3v5M58 4v1M60 4v1M61 5v2M61 8v1M62 -3v4M62 7v2M63 1v1M68 -3v4M68 5v1M68 8v1M73 1v3M74 3v1M76 2v1M77 2v3M77 7v2M81 1v1M81 5v1M81 7v1M82 2v1M83 1v1M84 -3v4M84 4v1M84 6v1M86 -3v4M86 3v2M92 7v1M93 2v2M94 -3v5M95 4v1M96 8v1M97 5v1M101 -3v4M102 2v2M102 7v1M109 6v2M110 3v1"/><path stroke="#7d7d7d" d="M-1 2v1M-1 7v1M0 2v1M0 7v1M1 4v1M2 -3v6M2 8v5M3 3v1M3 5v1M3 7v1M4 6v1M5 -3v5M5 4v2M5 7v1M5 9v4M6 1v1M6 3v1M6 6v3M7 2v6M8 -3v4M8 2v1M8 7v1M8 9v4M9 4v1M9 8v1M10 6v1M11 7v2M12 1v1M12 6v1M13 -3v4M13 5v2M13 8v5M14 6v1M15 7v1M16 -3v4M16 4v1M21 3v1M21 6v1M22 2v4M24 5v1M25 2v1M26 9v4M27 8v5M28 6v2M29 3v1M29 7v2M30 6v2M30 9v4M31 6v1M31 8v1M32 4v1M32 7v2M33 8v5M34 5v2M34 9v4M35 9v4M36 5v2M36 9v4M39 2v1M39 7v1M41 -3v4M41 3v1M41 6v3M42 8v1M43 5v1M43 8v1M44 6v2M44 9v4M45 7v2M46 6v1M47 1v1M47 5v1M48 -3v5M48 5v2M49 2v1M49 5v3M49 9v4M50 8v1M51 -3v4M51 2v1M51 4v1M52 1v1M53 1v1M53 5v1M54 2v1M54 5v2M55 3v2M55 6v1M55 9v4M56 8v1M57 -3v5M57 3v1M57 5v1M58 2v1M58 5v3M59 4v1M59 8v1M60 5v1M60 7v2M61 3v1M61 7v1M62 9v4M63 7v1M63 9v4M65 5v3M65 9v4M66 2v1M66 9v4M67 -3v4M67 8v1M68 1v2M68 4v1M68 9v4M69 9v4M71 7v6M72 2v1M72 4v1M73 -3v4M73 4v1M73 6v1M74 4v1M74 7v6M75 6v1M76 1v1M76 5v2M77 -3v4M78 3v2M79 1v1M81 2v1M81 4v1M82 1v1M82 3v1M82 7v1M83 4v2M83 8v1M84 1v1M84 3v1M84 8v1M86 2v1M87 7v1M88 6v1M90 -3v4M91 1v1M92 -3v4M92 5v1M92 8v1M95 -3v4M95 8v1M96 4v2M96 9v4M97 6v1M97 8v1M99 7v1M100 6v1M100 8v1M101 2v1M102 1v1M102 4v1M102 6v1M102 9v4M103 -3v4M103 2v1M103 8v1M104 -3v5M104 5v4M105 8v5M106 6v1M107 2v1M107 4v1M108 2v1M108 4v1M108 8v5M109 1v1M109 3v1M109 8v5M111 2v1M111 5v2M111 8v5M112 2v1M112 5v2M112 8v5"/><path stroke="#868686" d="M-1 8v1M0 8v1M1 1v1M3 4v1M3 8v1M4 3v1M4 9v4M5 3v1M7 9v4M10 1v1M10 4v1M10 9v4M11 -3v4M11 9v4M12 -3v4M12 8v5M13 2v2M14 8v1M17 5v1M18 8v1M19 -3v4M20 8v1M21 4v2M21 8v1M22 9v4M23 2v1M23 8v1M24 7v1M24 9v4M26 5v1M27 6v1M28 1v3M28 9v4M29 -3v4M31 -3v4M31 5v1M32 1v2M33 3v1M33 5v1M35 2v2M35 6v1M35 8v1M36 4v1M37 5v2M37 9v4M39 5v1M39 8v1M40 2v1M40 6v1M41 9v4M42 1v4M42 7v1M43 -3v4M43 6v1M45 9v4M46 1v1M46 7v1M47 -3v4M47 8v1M48 2v1M49 -3v5M50 -3v4M50 2v2M50 6v2M52 3v1M52 5v2M52 8v1M53 2v1M53 6v2M56 2v3M58 3v1M59 1v1M59 7v1M60 6v1M61 -3v5M61 4v1M61 9v4M62 6v1M63 5v1M63 8v1M64 -3v6M64 6v1M64 8v5M65 1v1M65 8v1M66 8v1M67 2v1M67 5v1M67 7v1M69 7v2M70 -3v6M70 4v2M70 8v1M71 3v3M74 1v1M74 6v1M75 3v1M75 5v1M76 4v1M76 7v6M78 8v1M80 -3v4M80 2v1M80 4v1M81 8v1M84 9v4M85 4v2M87 -3v4M88 8v1M89 6v3M90 7v2M91 5v1M91 8v1M92 4v1M93 8v1M94 9v4M95 3v1M95 9v4M98 9v4M99 8v5M100 5v1M100 9v4M101 9v4M103 1v1M103 5v1M103 7v1M104 2v2M105 1v1M105 5v1M107 -3v4M107 5v1M107 7v1M107 9v4M108 3v1M109 2v1M110 9v4M111 -3v4M111 3v1M112 -3v4M112 3v1"/><path stroke="#8a8a8a" d="M-1 -3v4M-1 4v2M0 -3v4M0 4v2M1 2v1M6 9v4M10 3v1M10 5v1M12 7v1M14 4v1M16 8v1M17 9v4M19 4v3M20 6v2M20 9v4M21 9v4M22 7v1M24 8v1M25 7v2M26 7v1M27 3v2M28 -3v4M32 6v1M33 6v2M35 7v1M37 7v1M39 3v1M39 9v4M40 -3v5M40 4v2M43 2v1M44 3v1M45 -3v5M46 -3v4M46 3v1M47 6v1M50 1v1M53 3v1M59 -3v4M59 2v1M66 -3v4M66 3v1M66 5v1M67 6v1M69 -3v4M69 2v5M70 7v1M70 9v4M75 8v5M78 2v1M79 2v1M79 8v1M80 5v1M81 9v4M83 2v2M85 3v1M85 8v1M86 8v1M87 1v1M87 8v1M89 -3v5M91 6v1M92 3v1M92 9v4M93 4v1M93 9v4M96 -3v5M100 -3v4M101 3v2M103 3v1M105 2v1M106 -3v5M106 3v2M107 1v1M107 3v1M107 6v1M108 1v1M109 -3v4M109 4v1"/><path stroke="#8e8e8e" d="M4 1v2M14 3v1M14 9v4M15 9v4M17 -3v4M18 9v4M19 1v1M19 3v1M19 9v4M24 1v3M25 4v1M25 6v1M25 9v4M27 2v1M31 1v1M32 5v1M40 3v1M41 4v1M42 5v1M44 4v1M50 4v1M64 5v1M66 4v1M69 1v1M71 1v2M74 -3v4M75 4v1M78 9v4M79 3v1M79 5v1M79 7v1M79 9v4M80 6v1M80 8v1M82 8v5M83 9v4M85 7v1M85 9v4M87 5v1M89 2v4M91 2v3M91 7v1M93 5v1M93 7v1M95 2v1M98 2v3M101 5v1M103 4v1M105 6v1M106 5v1"/><path stroke="#929292" d="M16 9v4M19 2v1M24 -3v4M27 5v1M33 2v1M41 5v1M54 1v1M64 3v1M71 -3v4M79 4v1M79 6v1M80 7v1M80 9v4M87 9v4M89 9v4M90 9v4M91 9v4M92 2v1M93 6v1"/><path stroke="#969696" d="M4 -3v4M17 1v1M33 1v1M42 6v1M64 4v1M78 1v1M85 6v1M88 9v4"/><path stroke="#9a9a9a" d="M33 -3v4M54 -3v4M78 -3v4M86 9v4"/><path stroke="#9e9e9e" d="M23 -3v5M85 1v2M87 2v1"/><path stroke="#a2a2a2" d="M85 -3v4"/><path stroke="#a6a6a6" d="M87 4v1"/><path stroke="#aaa" d="M17 2v1M87 3v1"/><path stroke="#aeaeae" d="M17 4v1"/><path stroke="#bababa" d="M17 3v1"/></g></g><path stroke="#d02800" stroke-width=".8" stroke-opacity="0.32" d="M43.5 3.8v1.7M46.7 1.4v3.4M4.4 1.3v3.4M89.8 2.2v1.0M37.0 5.4v1.7M17.4 1.0v2.4M64.4 4.0v1.7M13.2 3.7v1.0M22.7 0.0v1.0M38.8 3.6v1.7M27.2 4.3v1.7M13.8 2.4v2.4M66.3 3.9v1.0M19.4 4.3v1.0M15.3 2.9v2.4M34.4 0.0v3.4M101.5 2.7v1.7M75.5 3.1v2.4"/><path stroke="#1030d8" stroke-width=".8" stroke-opacity="0.32" d="M25.0 1.7v1.0M79.4 2.5v1.0M52.5 5.9v1.0M102.6 2.7v2.4M75.7 2.3v2.4M26.5 2.4v1.0M32.7 1.2v1.0M14.0 2.9v2.4M82.7 2.1v1.7M82.2 2.7v1.7M21.3 2.2v1.0M5.3 0.3v3.4M98.9 2.3v3.4M9.1 0.0v3.4M106.8 0.6v1.0M10.9 2.6v1.0M87.6 3.4v1.7M30.2 1.5v2.4M12.6 5.7v1.0M24.5 2.2v3.4M28.5 1.3v3.4M87.6 0.8v1.7M89.7 0.2v1.7M55.7 2.2v2.4M88.6 1.3v3.4M87.6 3.1v1.7"/><path stroke="#f09000" stroke-width=".8" stroke-opacity="0.32" d="M79.1 3.3v1.0M45.9 2.6v3.4M39.9 1.5v2.4M22.1 4.5v2.4M24.7 0.0v3.4M83.9 0.0v1.0M29.7 0.0v1.7M22.2 0.0v3.4M52.5 3.9v3.4M46.4 3.8v1.0M35.4 4.9v1.0M41.6 0.8v3.4M29.8 1.5v3.4M35.0 4.4v1.0M85.2 2.3v1.0M91.4 1.1v1.0"/></svg>
<text x="203.55" y="316.45" font-size="4.08" text-anchor="middle" fill="#262626">dVTEC C1PG (10E 10N)</text>
<text x="146.2" y="348.2" font-size="3.4" text-anchor="end" fill="#262626">0</text>
<text x="146.2" y="335.971" font-size="3.4" text-anchor="end" fill="#262626">10</text>
<text x="146.2" y="323.742" font-size="3.4" text-anchor="end" fill="#262626">20</text>
<text x="162.929" y="351.4" font-size="3.42" text-anchor="middle" fill="#262626">50</text>
<text x="178.258" y="351.4" font-size="3.42" text-anchor="middle" fill="#262626">100</text>
<text x="193.586" y="351.4" font-size="3.42" text-anchor="middle" fill="#262626">150</text>
<text x="208.915" y="351.4" font-size="3.42" text-anchor="middle" fill="#262626">200</text>
<text x="224.244" y="351.4" font-size="3.42" text-anchor="middle" fill="#262626">250</text>
<text x="239.573" y="351.4" font-size="3.42" text-anchor="middle" fill="#262626">300</text>
<text x="254.901" y="351.4" font-size="3.42" text-anchor="middle" fill="#262626">350</text>
<text x="203.55" y="355.35" font-size="3.45" text-anchor="middle" fill="#262626">Days</text>
<rect x="130.7" y="317.55" width="1.6" height="29.35" fill="url(#jetg)"/>
<text x="133.8" y="348.2" font-size="3.42" text-anchor="start" fill="#262626">0</text>
<text x="133.8" y="336.46" font-size="3.42" text-anchor="start" fill="#262626">20</text>
<text x="133.8" y="324.72" font-size="3.42" text-anchor="start" fill="#262626">40</text>
<rect x="261.2" y="317.55" width="1.9" height="29.35" fill="url(#jetg)"/>
<text x="264.6" y="344.813" font-size="3.42" text-anchor="start" fill="#262626">−10</text>
<text x="264.6" y="333.525" font-size="3.42" text-anchor="start" fill="#262626">0</text>
<text x="264.6" y="322.237" font-size="3.42" text-anchor="start" fill="#262626">10</text>
<text x="9.8" y="297.375" font-size="3.5" text-anchor="middle" fill="#262626" transform="rotate(-90 9.8 297.375)">Time (hours)</text>
<svg x="350.8" y="248.2" width="112.05" height="29.35" viewBox="0 0 112 15" preserveAspectRatio="none" stroke-width="1.04" fill="none"><g filter="url(#f0)"><rect x="-4" y="-4" width="120" height="23" fill="#717171"/><g transform="translate(.5)"><path stroke="#181818" d="M101 11v7M102 12v6"/><path stroke="#1c1c1c" d="M20 13v5M22 13v5M82 13v5M89 14v4M95 12v6M97 12v6M98 11v7M101 10v1M102 10v2M105 12v6"/><path stroke="#202020" d="M15 12v6M17 13v5M18 14v4M19 14v4M20 12v1M23 14v4M24 14v4M25 14v4M77 14v4M81 14v4M82 12v1M88 12v6M89 12v2M90 13v5M93 11v7M94 11v7M95 11v1M96 11v7M97 11v1M98 -3v7M98 10v1M99 11v7M100 11v7M101 -3v8M102 -3v8M103 11v7M104 11v7M105 10v2M106 11v7M107 11v7M108 11v7M109 10v8M110 11v7M111 11v7M112 11v7"/><path stroke="#242424" d="M-1 11v7M0 11v7M1 12v6M2 11v7M3 11v7M4 12v6M5 12v6M7 12v6M9 13v5M12 12v6M13 13v5M14 12v6M16 13v5M17 12v1M18 13v1M19 13v1M21 13v5M22 12v1M23 13v1M24 13v1M27 14v4M74 14v4M76 14v4M77 13v1M78 14v4M79 13v5M80 14v4M81 13v1M83 13v5M84 14v4M85 13v5M86 13v5M87 12v6M90 12v1M91 12v6M92 12v6M95 -3v7M97 -3v7M97 10v1M98 4v1M99 -3v6M99 10v1M100 10v1M101 5v1M101 9v1M102 5v1M102 9v1M103 10v1M104 10v1M105 -3v8M106 10v1M107 10v1M108 10v1M110 10v1M111 10v1M112 10v1"/><path stroke="#282828" d="M-1 10v1M0 10v1M1 11v1M4 11v1M5 11v1M6 11v7M7 11v1M8 12v6M9 11v2M10 12v6M11 12v6M13 12v1M15 11v1M16 12v1M18 12v1M19 12v1M20 -3v4M22 -3v4M25 13v1M26 14v4M75 14v4M77 -3v4M78 13v1M80 13v1M81 12v1M82 -3v4M83 12v1M84 13v1M85 12v1M86 12v1M88 11v1M89 11v1M90 11v1M91 11v1M92 11v1M93 -3v7M94 -3v7M95 4v1M96 -3v7M96 10v1M97 4v1M98 5v1M99 3v2M100 -3v8M103 -3v8M104 -3v8M105 5v1M105 9v1M106 -3v9M107 -3v8M108 -3v9M108 9v1M109 -3v9M109 9v1M110 -3v8M111 -3v8M112 -3v8"/><path stroke="#2d2d2d" d="M-1 -3v8M0 -3v8M1 10v1M2 -3v8M2 10v1M3 -3v8M3 10v1M4 -3v6M4 10v1M8 11v1M10 11v1M11 11v1M12 11v1M13 11v1M14 11v1M15 -3v5M20 1v1M21 12v1M76 13v1M82 1v2M84 12v1M88 -3v6M89 -3v7M90 -3v6M93 4v1M93 10v1M94 4v1M94 10v1M95 10v1M96 4v1M98 9v1M99 5v1M100 5v1M101 6v1M102 6v1M103 5v1M104 5v1M104 9v1M106 9v1M107 5v1M107 9v1M110 5v1M110 9v1M111 5v1M111 9v1M112 5v1M112 9v1"/><path stroke="#313131" d="M-1 5v1M0 5v1M1 -3v8M2 5v1M3 5v1M4 3v2M5 -3v8M5 10v1M7 -3v8M7 10v1M15 2v1M17 -3v5M17 11v1M19 -3v4M20 11v1M22 1v1M23 12v1M27 13v1M28 14v4M73 14v4M74 -3v4M75 -3v4M76 -3v4M77 1v1M79 -3v4M79 12v1M80 12v1M81 -3v4M82 11v1M86 11v1M87 11v1M88 3v1M90 3v1M91 -3v6M92 -3v6M97 5v1M99 9v1M100 9v1M103 9v1M105 6v1M106 6v1M107 6v1M108 6v1M109 6v1M110 6v1M111 6v1M112 6v1"/><path stroke="#353535" d="M1 5v1M4 5v1M6 -3v8M6 10v1M8 -3v7M9 -3v7M10 -3v6M11 -3v6M12 -3v6M14 -3v6M15 3v1M16 -3v4M16 11v1M17 2v1M18 -3v5M18 11v1M19 1v1M20 2v1M21 -3v4M22 11v1M23 -3v4M24 -3v4M24 12v1M25 -3v4M26 13v1M72 14v4M74 13v1M75 13v1M77 12v1M78 -3v4M79 1v1M80 -3v4M81 1v1M82 3v1M83 -3v5M85 11v1M89 4v1M91 3v1M92 3v1M96 5v1M97 9v1M98 6v1M101 7v2M102 8v1M104 6v1"/><path stroke="#393939" d="M-1 6v1M-1 9v1M0 6v1M0 9v1M5 5v1M8 4v1M8 10v1M9 4v1M9 10v1M10 3v1M11 3v1M12 3v1M13 -3v6M16 1v2M18 2v1M19 2v1M19 11v1M21 1v1M22 2v1M25 12v1M27 -3v4M76 1v1M78 1v1M78 12v1M80 1v1M81 2v1M83 2v1M85 -3v5M86 -3v6M87 -3v6M88 4v1M90 4v1M91 4v1M92 4v1M92 10v1M94 5v1M95 5v1M99 6v1M100 6v1M102 7v1M103 6v1M105 8v1M106 8v1M108 8v1M109 7v2M110 8v1M111 8v1M112 8v1"/><path stroke="#3d3d3d" d="M1 6v1M1 9v1M2 6v1M2 9v1M3 9v1M7 5v1M10 4v1M10 10v1M11 10v1M12 10v1M13 3v1M14 3v1M15 10v1M17 3v1M20 3v1M23 1v1M27 12v1M28 13v1M74 1v1M77 2v1M79 2v1M80 2v1M81 11v1M83 11v1M84 -3v6M84 11v1M85 2v1M86 3v1M87 3v1M88 10v1M91 10v1M93 5v1M105 7v1M106 7v1M107 7v2M108 7v1M110 7v1M111 7v1M112 7v1"/><path stroke="#414141" d="M3 6v1M4 9v1M6 5v1M11 4v1M12 4v1M15 4v1M16 3v1M21 11v1M22 3v1M24 1v1M25 1v1M26 -3v4M27 1v1M28 -3v4M72 13v1M73 -3v4M73 13v1M75 1v1M76 12v1M82 4v1M83 3v1M85 3v1M89 10v1M90 10v1M96 9v1M97 6v1M98 7v2M100 8v1M103 8v1M104 7v2"/><path stroke="#454545" d="M4 6v1M5 9v1M13 10v1M14 10v1M18 3v1M19 3v1M21 2v1M23 11v1M27 2v2M28 1v1M28 12v1M30 14v4M70 14v4M72 -3v4M78 2v1M81 3v1M84 3v1M87 4v1M94 9v1M99 8v1M100 7v1M103 7v1"/><path stroke="#494949" d="M-1 7v2M0 7v2M7 9v1M8 5v1M9 5v1M13 4v1M14 4v1M20 4v1M20 10v1M22 4v1M23 2v1M25 2v1M25 11v1M26 12v1M27 11v1M28 2v1M29 14v4M30 13v1M31 14v4M69 14v4M70 13v1M71 14v4M72 1v1M72 12v1M74 2v1M74 12v1M76 2v1M77 3v1M77 11v1M79 11v1M80 11v1M86 4v1M87 10v1M88 5v1M89 5v1M93 9v1M96 6v1M97 8v1M99 7v1"/><path stroke="#4d4d4d" d="M1 7v2M2 7v2M3 7v2M5 6v1M6 9v1M10 5v1M16 10v1M17 4v1M17 10v1M22 10v1M24 2v1M24 11v1M25 3v1M27 4v1M28 3v1M28 11v1M29 13v1M30 12v1M31 13v1M32 14v4M68 14v4M69 13v1M70 -3v5M70 12v1M72 2v1M73 1v1M75 12v1M79 3v1M80 3v1M82 10v1M85 4v1M86 10v1M90 5v1M91 5v1M92 5v1M97 7v1"/><path stroke="#515151" d="M7 6v1M11 5v1M15 5v1M16 4v1M18 4v1M20 5v1M21 3v1M22 5v1M26 1v1M28 4v1M30 -3v6M32 13v1M40 14v4M68 13v1M69 -3v5M69 12v1M70 2v1M71 13v1M72 3v1M73 12v1M75 2v1M82 5v1M83 4v1M93 6v1M94 6v1"/><path stroke="#555" d="M4 7v2M6 6v1M8 9v1M9 9v1M12 5v1M18 10v1M19 4v1M19 10v1M23 3v1M24 3v1M25 4v1M26 2v1M27 5v1M27 10v1M29 -3v4M29 12v1M30 3v1M31 -3v5M31 12v1M34 14v4M40 13v1M61 14v4M62 14v4M68 -3v4M68 12v1M69 2v1M70 3v1M70 11v1M72 11v1M74 3v1M76 3v1M77 4v1M78 3v1M78 11v1M81 4v1M84 4v1M85 10v1M95 9v1"/><path stroke="#595959" d="M5 8v1M10 9v1M13 5v1M14 5v1M15 9v1M24 4v1M26 3v1M26 11v1M28 10v1M29 1v2M30 11v1M31 2v1M32 -3v6M32 12v1M33 14v4M34 13v1M40 -3v5M41 14v4M42 14v4M52 14v4M59 14v4M60 14v4M61 -3v5M61 13v1M62 13v1M67 14v4M68 1v2M69 3v1M70 4v1M71 -3v5M71 12v1M72 4v1M73 2v1M76 11v1M87 5v1M95 6v1M96 8v1"/><path stroke="#5d5d5d" d="M5 7v1M7 7v2M8 6v1M9 6v1M11 9v1M12 9v1M15 6v1M17 5v1M20 6v1M20 9v1M21 4v1M21 10v1M22 6v1M22 9v1M23 4v1M25 5v1M25 10v1M28 5v1M29 3v1M30 4v1M31 3v1M32 3v1M33 13v1M34 -3v5M34 12v1M35 14v4M38 14v4M40 2v1M40 12v1M41 13v1M42 -3v4M42 13v1M47 14v4M52 -3v5M52 13v1M56 14v4M57 14v4M59 -3v5M59 13v1M60 13v1M61 2v1M61 12v1M62 -3v5M66 14v4M67 13v1M68 3v1M69 4v1M69 11v1M71 2v1M73 3v1M74 11v1M77 10v1M79 4v1M80 4v1M81 10v1M86 5v1M88 9v1M92 9v1M94 8v1M96 7v1"/><path stroke="#616161" d="M6 7v2M16 5v1M18 5v1M19 5v1M23 10v1M24 10v1M26 4v1M27 6v1M27 9v1M29 11v1M31 11v1M32 11v1M34 2v1M35 13v1M38 13v1M40 3v1M41 -3v5M42 1v2M43 14v4M47 -3v4M47 13v1M52 2v1M54 14v4M56 -3v5M56 13v1M57 -3v5M57 13v1M59 2v1M60 -3v5M61 3v1M62 2v1M62 12v1M66 13v1M68 11v1M70 5v1M70 10v1M71 3v1M71 11v1M72 5v1M72 10v1M73 11v1M74 4v1M75 3v1M76 4v1M77 5v1M82 6v1M83 10v1M84 10v1M85 5v1M88 6v1M91 9v1M93 8v1M94 7v1"/><path stroke="#656565" d="M10 6v1M11 6v1M12 6v1M13 9v1M14 9v1M15 7v2M22 7v2M23 5v1M24 5v1M28 6v1M29 4v1M30 10v1M31 4v1M33 -3v4M33 12v1M34 3v1M36 14v4M38 -3v4M39 14v4M41 2v1M41 12v1M42 12v1M43 -3v5M43 13v1M47 1v2M48 14v4M52 12v1M54 -3v4M56 2v1M56 12v1M57 2v1M59 3v1M59 12v1M60 2v1M60 12v1M62 3v1M63 14v4M65 14v4M66 -3v4M67 -3v5M67 12v1M68 4v1M73 4v1M78 4v1M79 10v1M81 5v1M82 9v1M83 5v1M89 6v1M92 6v1M93 7v1"/><path stroke="#696969" d="M8 7v2M9 8v1M14 6v1M17 9v1M20 7v2M21 5v1M25 6v1M25 9v1M27 7v2M28 9v1M30 5v1M32 4v1M33 1v2M35 -3v5M35 12v1M36 13v1M37 14v4M38 1v2M38 12v1M39 13v1M40 4v1M40 11v1M41 3v1M42 3v1M43 2v1M45 14v4M47 12v1M51 14v4M52 3v1M54 1v1M54 13v1M56 3v1M57 12v1M60 3v1M61 4v1M61 11v1M62 11v1M64 14v4M65 13v1M66 1v2M66 12v1M67 2v1M69 5v1M69 10v1M71 4v1M75 11v1M80 10v1M84 5v1M89 9v1M90 6v1M90 9v1M91 6v1"/><path stroke="#6d6d6d" d="M9 7v1M13 6v1M16 9v1M17 6v1M26 5v1M26 10v1M31 10v1M34 11v1M35 2v1M37 13v1M39 -3v5M42 11v1M43 12v1M44 14v4M45 -3v4M45 13v1M47 3v1M48 -3v5M48 13v1M50 14v4M51 -3v4M51 13v1M54 2v1M54 12v1M55 14v4M57 3v1M58 14v4M62 4v1M63 -3v4M63 13v1M64 13v1M66 3v1M67 3v1M68 5v1M68 10v1M70 6v1M70 9v1M72 6v1M76 10v1M77 6v1M79 5v1M80 5v1M82 7v1M87 9v1"/><path stroke="#757575" d="M11 7v1M14 7v2M21 6v1M21 9v1M23 6v1M23 9v1M25 8v1M30 6v1M30 9v1M32 5v1M33 11v1M35 11v1M36 2v1M36 12v1M37 1v2M37 12v1M38 11v1M39 3v1M40 5v1M40 10v1M43 11v1M44 1v1M45 12v1M46 14v4M47 4v1M47 11v1M48 3v1M48 12v1M49 14v4M50 2v1M51 12v1M53 14v4M55 -3v5M55 13v1M57 4v1M58 -3v5M58 13v1M61 5v1M61 10v1M62 5v1M62 10v1M63 2v1M64 2v1M64 12v1M65 2v1M66 4v1M67 4v1M69 9v1M70 7v2M72 7v2M78 5v1M81 6v1M81 9v1"/><path stroke="#797979" d="M13 7v2M17 7v2M33 4v1M35 4v1M36 3v1M38 4v1M42 5v1M42 10v1M43 4v1M44 2v1M44 12v1M45 3v1M46 -3v5M46 13v1M49 -3v4M49 13v1M50 12v1M51 3v1M52 5v1M52 10v1M53 -3v4M53 13v1M54 4v1M54 11v1M55 2v1M58 2v1M63 3v1M65 3v1M68 6v1M68 9v1M69 7v2M77 7v2M85 6v1M85 9v1M92 8v1"/><path stroke="#7d7d7d" d="M16 7v2M19 7v2M23 7v2M24 7v2M26 6v1M26 9v1M29 6v1M30 7v2M31 6v1M31 9v1M34 5v1M34 10v1M37 3v1M39 11v1M41 5v1M41 10v1M44 3v1M46 2v1M47 5v1M49 1v1M50 3v1M53 1v1M55 12v1M56 5v1M56 10v1M57 5v1M57 10v1M58 12v1M59 5v1M60 5v1M61 6v1M63 11v1M64 3v1M65 11v1M67 5v1M67 10v1M68 7v1M71 6v1M79 6v1M79 9v1M89 7v2M91 7v2M92 7v1M95 7v2"/><path stroke="#828282" d="M18 7v2M21 7v2M29 9v1M32 6v1M32 9v1M36 11v1M39 4v1M40 6v1M40 9v1M43 5v1M43 10v1M45 4v1M45 11v1M46 12v1M47 10v1M48 4v1M48 11v1M49 2v1M53 2v1M55 3v1M58 3v1M59 10v1M60 10v1M61 9v1M62 6v1M62 9v1M63 4v1M64 11v1M65 4v1M66 5v1M66 10v1M68 8v1M71 9v1M73 6v1M73 9v1M74 6v1M76 6v1M76 9v1M80 6v1M80 9v1M81 7v2M83 6v1M86 7v2M87 7v2M90 7v2"/><path stroke="#868686" d="M26 7v1M31 7v2M36 4v1M37 11v1M38 5v1M38 10v1M42 6v1M42 9v1M46 3v1M49 12v1M50 4v1M51 4v1M51 11v1M52 6v1M52 9v1M53 3v1M53 12v1M54 5v1M54 10v1M56 6v1M61 7v2M62 7v2M64 4v1M74 9v1M75 5v1M75 10v1M78 6v1M83 9v1M84 6v1"/><path stroke="#8a8a8a" d="M26 8v1M29 7v2M32 7v1M33 5v1M33 10v1M34 6v1M35 5v1M35 10v1M37 4v1M40 7v2M41 6v1M41 9v1M42 7v1M44 4v1M44 11v1M47 6v1M49 3v1M50 11v1M52 7v2M55 4v1M55 11v1M56 9v1M57 6v1M57 9v1M58 11v1M60 6v1M67 6v1M67 9v1M71 7v2M73 7v1M78 9v1M79 7v2M84 9v1M85 7v2"/><path stroke="#8e8e8e" d="M32 8v1M34 9v1M39 5v1M41 7v1M42 8v1M43 6v1M43 9v1M45 5v1M46 11v1M47 9v1M48 5v1M56 7v2M58 4v1M59 6v1M60 9v1M63 5v1M63 10v1M65 5v1M65 10v1M66 6v1M66 9v1M73 8v1M74 7v2M76 7v2M80 7v1"/><path stroke="#929292" d="M38 6v1M39 10v1M41 8v1M45 10v1M46 4v1M47 7v2M48 10v1M49 4v1M49 11v1M51 5v1M51 10v1M53 4v1M53 11v1M54 6v1M54 9v1M57 7v2M60 7v1M64 5v1M64 10v1M67 7v2M78 7v1M80 8v1"/><path stroke="#969696" d="M34 7v2M35 6v1M36 5v1M36 10v1M37 5v1M37 10v1M38 9v1M43 7v2M44 5v1M44 10v1M50 5v1M55 5v1M59 9v1M60 8v1M66 7v2M78 8v1M83 7v1"/><path stroke="#9a9a9a" d="M33 6v1M35 9v1M38 7v1M50 10v1M54 7v2M55 10v1M58 5v1M59 7v1M63 6v1M63 9v1M65 6v1M65 9v1M75 6v1M83 8v1M84 7v1"/><path stroke="#9e9e9e" d="M33 9v1M38 8v1M39 6v1M45 6v1M46 5v1M46 10v1M48 6v1M51 6v1M53 5v1M58 10v1M59 8v1M64 6v1M64 9v1M75 9v1M84 8v1"/><path stroke="#a2a2a2" d="M35 7v2M36 6v1M39 9v1M44 6v1M45 9v1M48 9v1M49 5v1M50 6v1M51 9v1M53 10v1M55 6v1M63 7v2M65 7v2"/><path stroke="#a6a6a6" d="M33 7v1M36 9v1M37 6v1M37 9v1M44 9v1M45 7v1M48 7v1M49 10v1M50 9v1M51 7v2M55 9v1M64 7v2"/><path stroke="#aaa" d="M33 8v1M39 7v2M44 7v1M45 8v1M46 6v1M46 9v1M48 8v1M55 7v1M58 6v1M58 9v1M75 7v1"/><path stroke="#aeaeae" d="M36 7v2M37 7v2M44 8v1M50 7v2M53 6v1M53 9v1M55 8v1M75 8v1"/><path stroke="#b2b2b2" d="M46 7v2M49 6v1M58 7v1"/><path stroke="#b6b6b6" d="M49 9v1M53 7v2M58 8v1"/><path stroke="#bebebe" d="M49 7v1"/><path stroke="#c2c2c2" d="M49 8v1"/></g></g></svg>
<text x="406.825" y="247.1" font-size="4.08" text-anchor="middle" fill="#262626">VTEC GIM (10E 70N)</text>
<text x="349.4" y="278.85" font-size="3.4" text-anchor="end" fill="#262626">0</text>
<text x="349.4" y="266.621" font-size="3.4" text-anchor="end" fill="#262626">10</text>
<text x="349.4" y="254.392" font-size="3.4" text-anchor="end" fill="#262626">20</text>
<rect x="469.5" y="248.2" width="1.6" height="29.35" fill="url(#jetg)"/>
<text x="472.6" y="278.85" font-size="3.42" text-anchor="start" fill="#262626">0</text>
<text x="472.6" y="269.258" font-size="3.42" text-anchor="start" fill="#262626">5</text>
<text x="472.6" y="259.667" font-size="3.42" text-anchor="start" fill="#262626">10</text>
<text x="472.6" y="250.075" font-size="3.42" text-anchor="start" fill="#262626">15</text>
<text x="471.5" y="244.95" font-size="3.55" text-anchor="middle" fill="#262626">TECU</text>
<svg x="350.8" y="283.05" width="112.05" height="29.35" viewBox="0 0 112 15" preserveAspectRatio="none" stroke-width="1.04" fill="none"><g filter="url(#f0)"><rect x="-4" y="-4" width="120" height="23" fill="#555"/><g transform="translate(.5)"><path stroke="#1c1c1c" d="M95 12v6"/><path stroke="#202020" d="M56 14v4M108 12v6M109 13v5"/><path stroke="#242424" d="M-1 12v6M0 12v6M9 13v5M55 13v5M56 12v2M59 13v5M61 12v6M95 11v1M96 12v6M97 12v6M98 12v6M99 12v6M102 12v6M106 12v6M107 12v6M108 11v1M109 11v2M110 11v7"/><path stroke="#282828" d="M-1 11v1M0 11v1M2 13v5M4 12v6M7 12v6M8 12v6M9 12v1M10 12v6M13 12v6M14 12v6M17 12v6M19 12v6M27 12v6M30 13v5M31 14v4M32 12v6M33 12v6M36 12v6M38 12v6M39 12v6M42 14v4M44 13v5M51 13v5M54 13v5M55 12v1M58 13v5M59 12v1M60 13v5M62 13v5M63 13v5M69 13v5M70 13v5M85 12v6M88 12v6M89 12v6M91 12v6M93 12v6M94 12v6M100 12v6M101 12v6M104 12v6M105 12v6M107 11v1M111 12v6M112 12v6"/><path stroke="#2d2d2d" d="M1 12v6M2 12v1M3 12v6M8 11v1M9 11v1M10 11v1M18 12v6M20 12v6M22 12v6M23 14v4M26 12v6M29 12v6M30 12v1M31 12v2M37 12v6M40 13v5M42 12v2M44 12v1M50 13v5M51 12v1M52 13v5M53 13v5M54 12v1M57 13v5M58 12v1M60 12v1M62 12v1M63 12v1M68 13v5M69 12v1M70 12v1M71 12v6M77 12v6M78 13v5M80 12v6M86 12v6M87 12v6M90 12v6M95 -3v6M96 11v1M98 11v1M99 11v1M100 11v1M102 11v1M105 11v1M106 11v1M108 -3v6M111 11v1M112 11v1"/><path stroke="#313131" d="M1 11v1M2 11v1M4 11v1M6 12v6M7 11v1M11 12v6M12 12v6M13 11v1M14 11v1M16 12v6M17 11v1M19 11v1M21 12v6M23 12v2M24 12v6M25 12v6M34 13v5M35 12v6M40 12v1M43 13v5M45 13v5M46 13v5M47 12v6M48 13v5M49 13v5M50 12v1M52 12v1M53 12v1M57 12v1M64 13v5M65 12v6M66 13v5M67 12v6M68 12v1M72 12v6M78 12v1M79 12v6M81 12v6M82 12v6M83 12v6M84 12v6M92 12v6M94 11v1M95 3v1M97 11v1M101 11v1M103 12v6M104 11v1M108 3v1M109 -3v6M110 -3v6"/><path stroke="#353535" d="M3 11v1M5 12v6M6 11v1M12 11v1M15 12v6M18 11v1M20 11v1M22 11v1M27 11v1M28 12v6M32 11v1M34 12v1M41 12v6M43 12v1M45 12v1M46 12v1M48 12v1M49 12v1M64 12v1M66 12v1M73 12v6M76 12v6M88 11v1M91 11v1M93 11v1M103 11v1M107 -3v7M108 4v1M109 3v1M110 3v1"/><path stroke="#393939" d="M8 -3v6M9 -3v7M10 -3v7M11 11v1M16 11v1M17 -3v4M21 11v1M23 11v1M26 11v1M29 11v1M30 11v1M31 11v1M33 11v1M36 11v1M74 13v5M75 12v6M85 11v1M89 11v1M95 4v1M96 -3v6M97 -3v5M98 -3v6M99 -3v6M102 -3v6M106 -3v6M109 4v1M110 4v1M111 -3v6M112 -3v6"/><path stroke="#3d3d3d" d="M-1 -3v7M0 -3v7M4 -3v6M5 11v1M7 -3v7M8 3v1M13 -3v7M14 -3v7M15 11v1M17 1v3M18 -3v6M19 -3v6M22 -3v5M24 11v1M25 11v1M27 -3v5M32 -3v4M36 -3v4M38 11v1M39 11v1M74 12v1M85 -3v5M86 11v1M87 11v1M88 -3v5M89 -3v5M90 11v1M91 -3v6M93 -3v5M94 -3v6M96 3v1M97 2v2M98 3v1M99 3v1M100 -3v6M102 3v1M104 -3v6M105 -3v7M106 3v1M107 4v1M108 10v1M111 3v1M112 3v1"/><path stroke="#414141" d="M1 -3v5M2 -3v6M4 3v1M9 4v1M10 4v1M18 3v1M19 3v1M20 -3v6M22 2v1M26 -3v5M29 -3v5M30 -3v5M31 -3v4M32 1v1M33 -3v4M37 11v1M38 -3v4M39 -3v4M56 -3v4M61 -3v4M77 11v1M85 2v1M86 -3v5M87 -3v5M88 2v1M89 2v1M92 11v1M93 2v1M94 3v1M95 10v1M100 3v1M101 -3v7M104 3v1M108 5v1M109 10v1M110 10v1"/><path stroke="#454545" d="M-1 4v1M0 4v1M1 2v2M2 3v1M3 -3v6M6 -3v6M8 4v1M11 -3v6M12 -3v7M16 -3v6M20 3v1M21 -3v6M23 -3v6M24 -3v4M26 2v1M27 2v1M28 11v1M31 1v1M33 1v1M34 11v1M35 11v1M36 1v1M37 -3v4M55 -3v4M59 -3v4M61 11v1M69 -3v4M77 -3v5M78 11v1M80 -3v4M80 11v1M82 11v1M83 11v1M84 11v1M86 2v1M87 2v1M90 -3v6M91 3v1M93 3v1M95 5v1M99 4v1M102 4v1M106 4v1M107 10v1M111 4v1M112 4v1"/><path stroke="#494949" d="M-1 10v1M0 10v1M3 3v1M4 4v1M6 3v1M7 4v1M9 10v1M10 10v1M11 3v1M13 4v1M14 4v1M15 -3v6M16 3v1M22 3v1M24 1v2M25 -3v5M29 2v1M30 2v1M38 1v1M40 11v1M42 -3v4M42 11v1M44 -3v4M44 11v1M56 11v1M69 11v1M70 -3v4M70 11v1M71 -3v4M71 11v1M78 -3v5M79 -3v4M79 11v1M80 1v1M81 -3v4M81 11v1M82 -3v5M83 -3v5M84 -3v4M88 3v1M89 3v1M92 -3v5M95 6v1M95 9v1M96 4v1M98 4v1M100 4v1M103 -3v7M104 4v1M105 4v1M108 6v4M109 5v1M110 5v1M111 10v1M112 10v1"/><path stroke="#4d4d4d" d="M2 4v1M5 -3v7M8 10v1M15 3v1M17 4v1M19 4v1M21 3v1M25 2v1M28 -3v4M32 2v1M34 -3v4M35 -3v4M39 1v1M40 -3v4M55 11v1M58 -3v4M59 11v1M60 -3v4M62 -3v4M63 -3v4M68 -3v4M79 1v1M81 1v1M84 1v1M85 3v1M92 2v1M95 7v2M97 4v1M101 4v1M106 10v1M107 5v1M109 6v1M109 9v1M110 6v4"/><path stroke="#515151" d="M1 4v1M3 4v1M4 10v1M6 4v1M7 10v1M8 5v1M9 5v1M10 5v1M12 4v1M13 10v1M14 10v1M18 4v1M23 3v1M28 1v1M31 2v1M37 1v1M41 11v1M51 -3v4M54 -3v4M56 1v1M57 -3v4M58 11v1M61 1v1M62 11v1M63 11v1M67 -3v4M68 11v1M69 1v1M70 1v1M71 1v1M72 -3v4M72 11v1M76 -3v4M76 11v1M80 2v1M82 2v1M83 2v1M84 2v1M90 3v1M92 3v1M94 4v1M98 10v1M99 10v1M102 10v1M105 10v1M107 6v1M107 9v1M109 7v2M111 5v1M112 5v1"/><path stroke="#595959" d="M-1 9v1M0 9v1M3 10v1M4 5v1M5 4v1M8 6v4M9 7v2M10 7v2M13 5v1M14 5v1M15 4v1M18 10v1M20 10v1M22 4v1M22 10v1M28 2v1M36 2v1M40 1v1M44 1v1M45 11v1M46 11v1M47 11v1M52 11v1M56 2v2M56 10v1M57 11v1M61 2v1M64 -3v4M65 11v1M66 11v1M68 1v1M72 1v1M73 1v1M74 -3v4M75 -3v4M75 11v1M78 2v1M79 2v1M91 4v1M96 5v1M98 5v1M100 5v1M104 5v1M105 5v1M106 6v1M106 9v1M111 6v1M111 9v1M112 6v1M112 9v1"/><path stroke="#5d5d5d" d="M-1 6v3M0 6v3M2 5v1M6 10v1M7 6v4M11 10v1M12 10v1M13 6v1M13 9v1M14 9v1M17 5v1M19 5v1M21 4v1M25 3v1M27 10v1M29 3v1M30 3v1M32 3v1M32 10v1M38 2v1M39 2v1M48 -3v4M49 -3v4M50 11v1M53 11v1M55 2v1M56 4v6M58 1v1M59 2v1M60 1v1M61 3v3M61 10v1M62 1v1M63 1v1M64 11v1M88 4v1M89 4v1M93 10v1M94 10v1M97 5v1M99 6v4M101 5v1M102 6v4M105 6v1M105 9v1M106 7v2M111 7v2M112 7v2"/><path stroke="#616161" d="M1 5v1M4 6v4M13 7v2M14 6v3M16 10v1M18 5v1M19 6v1M19 9v1M20 5v1M21 10v1M23 4v1M26 10v1M27 4v1M31 3v1M32 4v1M36 3v1M39 10v1M48 11v1M49 11v1M51 1v1M54 1v1M55 3v3M55 10v1M59 3v2M61 6v4M67 1v1M69 2v1M70 2v1M74 1v1M74 11v1M75 1v1M85 4v1M85 10v1M88 10v1M89 10v1M91 10v1M94 5v1M96 6v4M98 6v1M98 9v1M100 6v4M103 10v1M104 6v1M104 8v2M105 7v2"/><path stroke="#656565" d="M1 9v1M2 6v4M3 5v1M5 10v1M6 5v1M11 5v1M12 5v1M17 6v1M17 9v1M18 6v1M18 9v1M19 7v2M20 6v1M20 9v1M22 5v2M22 9v1M23 10v1M26 4v1M27 5v1M29 10v1M30 10v1M31 10v1M32 5v5M33 3v1M33 10v1M36 4v1M36 10v1M37 2v1M38 3v2M38 10v1M39 3v2M41 1v1M43 1v1M45 1v1M52 1v1M55 6v4M57 1v1M58 2v1M59 10v1M60 2v1M65 1v1M66 1v1M71 2v1M76 2v1M77 3v1M82 3v1M83 3v1M84 3v1M90 4v1M93 5v1M94 6v1M94 9v1M97 6v4M98 7v2M101 6v4M104 7v1"/><path stroke="#696969" d="M1 6v3M12 6v1M12 9v1M15 10v1M16 5v1M17 7v2M18 7v2M20 7v2M21 5v1M22 7v2M24 4v1M24 10v1M27 6v4M29 4v1M30 4v1M31 4v1M33 4v2M34 2v1M35 2v1M38 5v2M38 9v1M39 5v5M42 2v1M44 2v1M46 1v1M47 1v1M50 1v1M53 1v1M54 2v1M58 3v3M58 10v1M59 5v1M60 3v1M62 2v1M63 2v1M64 1v1M69 3v2M69 10v1M77 10v1M80 3v1M85 5v1M85 9v1M86 4v1M87 4v1M88 5v1M88 9v1M89 5v1M91 5v1M92 4v1M93 6v4M94 7v2M103 5v1"/><path stroke="#6d6d6d" d="M3 6v4M5 5v1M6 6v4M11 6v4M12 7v2M15 5v1M21 6v1M21 9v1M23 5v1M25 10v1M26 5v2M26 8v2M28 3v1M29 5v1M29 9v1M30 5v1M31 5v1M33 6v4M36 5v1M36 9v1M37 3v1M38 7v2M40 2v1M42 3v1M42 10v1M44 3v1M44 10v1M51 2v2M54 3v2M54 10v1M57 2v1M58 6v4M59 6v1M59 9v1M62 3v3M62 9v2M63 3v2M63 10v1M68 2v1M69 5v5M70 3v2M70 10v1M72 2v1M73 2v1M77 4v1M78 3v1M81 3v1M85 6v3M86 10v1M87 10v1M88 6v3M89 6v4M90 10v1"/><path stroke="#717171" d="M21 7v2M23 6v4M24 5v1M25 4v1M26 7v1M29 6v3M30 9v1M31 6v4M36 6v1M36 8v1M37 4v1M37 10v1M40 3v1M40 10v1M42 4v6M44 4v3M44 9v1M48 1v1M49 1v1M51 4v2M51 10v1M52 2v1M54 5v5M57 3v2M57 10v1M59 7v2M60 4v1M62 6v3M63 5v5M67 2v1M70 5v5M71 3v2M71 10v1M77 5v5M78 10v1M79 3v1M80 10v1M91 6v1M91 9v1M92 10v1M103 6v1M103 8v2"/><path stroke="#757575" d="M5 6v1M5 9v1M16 6v1M16 9v1M24 6v4M30 6v1M30 8v1M36 7v1M37 5v1M40 4v2M44 7v2M47 2v1M50 2v1M51 6v1M51 8v2M52 3v3M52 10v1M53 2v2M53 10v1M57 5v5M60 10v1M65 2v1M68 3v2M68 10v1M71 5v5M74 2v1M75 2v1M78 4v1M82 4v1M82 10v1M83 4v1M83 10v1M84 10v1M87 5v1M91 7v2M103 7v1"/><path stroke="#797979" d="M5 7v2M15 6v1M15 9v1M16 7v2M25 5v5M28 10v1M30 7v1M34 3v1M34 10v1M35 3v1M35 10v1M37 6v1M37 9v1M40 6v4M41 2v1M43 2v1M45 2v1M46 2v1M47 3v1M47 10v1M50 3v1M51 7v1M52 6v4M53 4v3M53 8v2M60 5v1M64 2v1M65 3v1M65 10v1M66 2v1M67 3v1M67 10v1M68 5v5M72 3v1M72 10v1M76 3v1M78 5v1M78 9v1M79 10v1M80 4v1M81 10v1M83 5v1M84 4v1M86 5v1M90 5v1M92 5v1"/><path stroke="#7d7d7d" d="M15 7v2M28 4v1M35 4v1M37 7v2M43 3v1M43 10v1M45 3v1M46 3v1M47 4v2M47 9v1M49 2v1M50 4v1M50 10v1M53 7v1M64 3v1M64 10v1M65 4v6M66 3v1M66 10v1M67 4v3M67 9v1M72 4v1M76 10v1M78 6v3M79 4v1M80 9v1M81 4v1M82 5v5M83 6v4M84 5v1M86 9v1M87 6v1M87 9v1M90 6v1M90 9v1M92 9v1"/><path stroke="#828282" d="M28 5v1M34 4v2M35 5v1M35 9v1M41 3v1M41 10v1M43 4v2M43 9v1M45 4v1M45 10v1M46 4v1M46 10v1M47 6v3M48 2v1M49 3v1M49 10v1M50 5v1M60 9v1M64 4v6M66 4v3M66 9v1M67 7v2M72 5v5M73 3v1M73 10v1M76 4v1M79 9v1M80 5v1M81 9v1M84 6v4M86 6v1M86 8v1M87 7v2M90 7v2M92 6v3"/><path stroke="#868686" d="M28 6v4M34 6v4M35 6v3M41 4v2M41 9v1M43 6v3M45 5v1M45 9v1M46 5v1M46 9v1M48 3v3M48 10v1M49 4v2M50 6v1M50 9v1M60 6v1M66 7v2M73 4v1M76 5v2M76 8v2M79 5v1M79 8v1M80 8v1M81 5v1M81 8v1M86 7v1"/><path stroke="#8a8a8a" d="M41 6v3M45 6v1M45 8v1M46 6v1M46 8v1M48 6v4M49 6v4M50 7v2M60 7v2M73 5v2M73 9v1M75 3v1M76 7v1M79 6v2M80 6v2M81 6v2"/><path stroke="#8e8e8e" d="M45 7v1M46 7v1M73 7v2M74 3v1M75 10v1"/><path stroke="#929292" d="M75 4v1"/><path stroke="#969696" d="M75 5v1"/><path stroke="#9a9a9a" d="M74 4v1M75 6v1M75 8v2"/><path stroke="#9e9e9e" d="M74 10v1M75 7v1"/><path stroke="#a6a6a6" d="M74 5v1"/><path stroke="#b2b2b2" d="M74 9v1"/><path stroke="#b6b6b6" d="M74 6v1"/><path stroke="#bebebe" d="M74 8v1"/><path stroke="#c2c2c2" d="M74 7v1"/></g></g></svg>
<text x="406.825" y="281.95" font-size="4.08" text-anchor="middle" fill="#262626">VTEC GIM (10E 40N)</text>
<text x="349.4" y="313.7" font-size="3.4" text-anchor="end" fill="#262626">0</text>
<text x="349.4" y="301.471" font-size="3.4" text-anchor="end" fill="#262626">10</text>
<text x="349.4" y="289.242" font-size="3.4" text-anchor="end" fill="#262626">20</text>
<rect x="469.5" y="283.05" width="1.6" height="29.35" fill="url(#jetg)"/>
<text x="472.6" y="313.7" font-size="3.42" text-anchor="start" fill="#262626">0</text>
<text x="472.6" y="305.547" font-size="3.42" text-anchor="start" fill="#262626">10</text>
<text x="472.6" y="297.394" font-size="3.42" text-anchor="start" fill="#262626">20</text>
<text x="472.6" y="289.242" font-size="3.42" text-anchor="start" fill="#262626">30</text>
<svg x="350.8" y="317.9" width="112.05" height="29.35" viewBox="0 0 112 15" preserveAspectRatio="none" stroke-width="1.04" fill="none"><g filter="url(#f0)"><rect x="-4" y="-4" width="120" height="23" fill="#181818"/><g transform="translate(.5)"><path stroke="#101010" d="M9 13v5M109 13v5"/><path stroke="#141414" d="M3 13v5M9 12v1M11 13v5M17 12v6M18 12v6M19 13v5M20 12v6M21 12v6M24 13v5M27 12v6M28 12v6M29 12v6M30 13v5M31 12v6M32 12v6M33 13v5M35 12v6M36 13v5M39 13v5M55 12v6M56 13v5M58 12v6M61 12v6M65 12v6M67 13v5M69 12v6M72 12v6M73 13v5M76 12v6M77 12v6M78 13v5M79 13v5M80 12v6M82 12v6M83 13v5M85 12v6M86 13v5M87 12v6M88 12v6M91 12v6M95 13v5M96 13v5M99 13v5M100 12v6M105 14v4M108 12v6M109 12v1M111 12v6M112 12v6"/><path stroke="#1c1c1c" d="M1 12v1M9 11v1M50 12v1M55 11v1M90 12v1M93 12v1M94 12v6M109 11v1"/><path stroke="#202020" d="M27 11v1M28 11v1M56 11v1M58 11v1M61 11v1M65 11v1M69 11v1M76 11v1M77 11v1M100 11v1M108 11v1M111 11v1M112 11v1"/><path stroke="#242424" d="M-1 11v1M0 11v1M3 11v1M4 11v1M5 11v1M7 11v1M8 11v1M10 11v1M11 11v1M17 11v1M18 11v1M19 11v1M20 11v1M21 11v1M29 11v1M30 11v1M31 11v1M32 11v1M35 11v1M36 11v1M37 11v1M38 11v1M39 11v1M40 11v1M41 11v1M43 11v1M46 11v1M49 11v1M52 11v1M53 11v1M54 11v1M55 -3v5M57 11v1M59 11v1M60 11v1M62 11v1M63 11v1M64 11v1M66 11v1M67 11v1M68 11v1M70 11v1M71 11v1M72 11v1M73 11v1M78 11v1M79 11v1M80 11v1M82 11v1M85 11v1M86 11v1M87 11v1M88 11v1M91 11v1M95 11v1M96 11v1M98 11v1M99 11v1M101 11v1M102 11v1M103 11v1M104 11v1M105 11v1M106 11v1M109 -3v6M110 11v1"/><path stroke="#282828" d="M1 11v1M2 11v1M6 11v1M9 -3v6M12 11v1M13 11v1M14 11v1M15 11v1M16 11v1M23 11v1M24 11v1M25 11v1M26 11v1M33 11v1M34 11v1M42 11v1M44 11v1M45 11v1M47 11v1M48 11v1M50 11v1M51 11v1M55 2v1M58 -3v6M65 -3v4M74 11v1M76 -3v4M77 -3v4M81 11v1M83 11v1M92 11v1M97 11v1M107 11v1M108 -3v5"/><path stroke="#2d2d2d" d="M3 -3v4M18 -3v4M22 11v1M27 -3v4M28 -3v4M31 -3v4M32 -3v4M35 -3v4M49 -3v4M53 -3v5M54 -3v5M56 -3v6M61 -3v6M62 -3v4M63 -3v4M65 1v2M67 -3v4M69 -3v6M72 -3v4M75 11v1M82 -3v4M84 11v1M85 -3v4M88 -3v4M89 11v1M90 11v1M93 11v1M94 11v1M100 -3v4M105 -3v4M108 2v1M109 3v1M111 -3v6M112 -3v6"/><path stroke="#313131" d="M-1 -3v6M0 -3v6M3 1v2M4 -3v6M5 -3v6M7 -3v6M8 -3v4M8 2v1M9 3v1M10 -3v4M11 -3v4M11 2v1M17 -3v4M19 -3v4M20 -3v4M21 -3v4M29 -3v4M30 -3v4M33 -3v4M34 -3v4M35 1v1M36 -3v4M37 -3v4M38 -3v4M38 2v1M39 -3v6M41 -3v4M43 -3v6M46 -3v6M49 1v2M52 -3v6M53 2v1M54 2v1M55 3v1M57 -3v6M58 3v1M59 -3v6M60 -3v6M62 1v2M63 1v2M64 -3v6M66 -3v6M67 1v2M68 -3v4M68 2v1M70 -3v4M71 -3v4M72 1v1M73 -3v4M76 1v1M77 1v1M78 -3v4M79 -3v4M80 -3v4M87 -3v4M91 -3v4M95 -3v4M96 -3v4M98 -3v4M99 -3v4M99 2v1M100 1v2M101 -3v6M102 -3v6M103 -3v4M103 2v1M104 -3v4M105 1v2M106 -3v6M110 -3v6"/><path stroke="#353535" d="M1 -3v6M2 -3v6M6 -3v6M8 1v1M10 1v2M11 1v1M12 -3v4M13 -3v4M14 -3v4M15 -3v4M16 -3v4M24 -3v4M28 1v1M31 1v1M32 1v2M35 2v1M36 1v2M37 1v2M38 1v1M40 -3v6M41 1v2M42 -3v6M44 -3v6M45 -3v6M47 -3v6M48 -3v6M50 -3v6M51 -3v6M61 3v1M65 3v1M68 1v1M70 1v2M71 1v2M72 2v1M73 1v1M74 -3v4M75 -3v4M77 2v1M83 -3v4M86 -3v4M92 -3v4M96 1v2M97 -3v4M98 1v2M99 1v1M103 1v1M104 1v2M107 -3v6M108 3v1M111 3v1M112 3v1"/><path stroke="#393939" d="M3 3v1M7 3v1M12 1v2M13 1v2M14 1v2M17 1v1M18 1v1M20 1v2M21 1v2M22 -3v4M23 -3v4M25 -3v4M26 -3v4M27 1v2M28 2v1M29 1v1M31 2v1M33 1v1M34 1v1M43 3v1M49 3v1M53 3v1M54 3v1M56 3v1M57 3v1M60 3v1M62 3v1M63 3v1M64 3v1M67 3v1M73 2v1M74 1v1M76 2v1M78 1v1M79 1v1M80 1v2M81 -3v4M82 1v2M84 -3v4M85 1v1M87 1v1M88 1v2M89 -3v4M91 1v1M93 -3v4M95 1v2M97 1v2M105 3v1M106 3v1M110 3v1"/><path stroke="#3d3d3d" d="M-1 3v1M0 3v1M4 3v1M5 3v1M8 3v1M10 3v1M15 1v1M16 1v1M17 2v1M18 2v1M19 1v2M29 2v1M30 1v2M39 3v1M40 3v1M41 3v1M46 3v1M52 3v1M59 3v1M66 3v1M69 3v1M74 2v1M75 1v1M78 2v1M79 2v1M85 2v1M86 1v2M87 2v1M90 -3v4M91 2v1M92 1v2M94 -3v4M103 3v1M104 3v1"/><path stroke="#414141" d="M1 3v1M2 3v1M6 3v1M11 3v1M15 2v1M16 2v1M24 1v2M33 2v1M34 2v1M38 3v1M42 3v1M44 3v1M45 3v1M47 3v1M48 3v1M50 3v1M51 3v1M68 3v1M83 1v1M100 3v1M101 3v1M102 3v1M107 3v1"/><path stroke="#454545" d="M22 1v2M23 1v2M25 1v1M26 1v2M75 2v1M81 1v2M84 1v1M89 1v2M93 1v2M94 1v2M99 3v1"/><path stroke="#494949" d="M25 2v1M83 2v1M90 1v2M109 10v1"/><path stroke="#4d4d4d" d="M9 10v1M12 3v1M37 3v1M55 10v1M70 3v1M84 2v1M98 3v1M109 4v1"/><path stroke="#515151" d="M55 4v1M58 10v1M108 10v1"/><path stroke="#555" d="M9 4v1M36 3v1M58 4v1M61 10v1M65 10v1M96 3v1M97 3v1M111 10v1M112 10v1"/><path stroke="#595959" d="M13 3v1M53 10v1M54 10v1M56 10v1M62 10v1M65 4v1M69 10v1M71 3v1M95 3v1M105 10v1M108 4v1M109 9v1M110 10v1"/><path stroke="#5d5d5d" d="M3 10v1M7 10v1M35 3v1M39 10v1M43 10v1M46 10v1M49 10v1M55 9v1M57 10v1M60 10v1M61 4v1M63 10v1M64 10v1M66 10v1M67 10v1M72 3v1M100 10v1M106 10v1M109 5v1M109 8v1M111 4v1M112 4v1"/><path stroke="#616161" d="M5 10v1M8 10v1M9 9v1M10 10v1M11 10v1M38 10v1M40 10v1M41 10v1M52 10v1M53 4v1M54 4v1M55 5v1M55 8v1M56 4v1M59 10v1M62 4v1M68 10v1M77 3v1M77 10v1M102 10v1M103 10v1M109 6v2M110 4v1"/><path stroke="#656565" d="M-1 10v1M0 10v1M3 4v1M4 10v1M7 4v1M9 5v1M9 7v2M14 3v1M20 3v1M21 3v1M27 10v1M28 10v1M32 3v1M32 10v1M35 10v1M42 10v1M43 4v1M44 10v1M45 10v1M46 4v1M47 10v1M48 10v1M49 4v1M51 10v1M55 6v2M57 4v1M58 9v1M60 4v1M63 4v1M64 4v1M66 4v1M67 4v1M76 10v1M99 10v1M101 10v1M104 10v1M105 4v1M106 4v1M107 10v1M108 9v1"/><path stroke="#696969" d="M2 10v1M6 10v1M8 4v1M9 6v1M20 10v1M21 10v1M27 3v1M31 3v1M31 10v1M36 10v1M37 10v1M39 4v1M41 4v1M50 10v1M52 4v1M58 5v4M59 4v1M65 9v1M70 10v1M72 10v1M73 3v1M80 3v1M82 10v1M85 10v1M87 10v1M88 10v1M96 10v1M98 10v1M108 5v1M108 8v1M111 9v1M112 9v1"/><path stroke="#6d6d6d" d="M-1 4v1M0 4v1M1 10v1M4 4v1M5 4v1M10 4v1M17 10v1M18 10v1M28 3v1M29 3v1M29 10v1M30 3v1M40 4v1M42 4v1M47 4v1M48 4v1M51 4v1M61 9v1M65 5v1M65 7v2M69 4v1M71 10v1M76 3v1M78 3v1M80 10v1M82 3v1M85 3v1M86 3v1M87 3v1M88 3v1M92 3v1M95 10v1M103 4v1M104 4v1M107 4v1M108 6v2M111 5v1M111 7v2M112 5v1M112 7v2"/><path stroke="#717171" d="M2 4v1M6 4v1M11 4v1M12 10v1M13 10v1M17 3v1M19 3v1M19 10v1M24 3v1M30 10v1M43 9v1M44 4v1M45 4v1M49 9v1M50 4v1M53 9v1M54 9v1M56 9v1M61 5v1M61 7v2M62 9v1M63 9v1M65 6v1M68 4v1M73 10v1M74 3v1M78 10v1M79 3v1M79 10v1M86 10v1M91 10v1M93 3v1M94 3v1M97 10v1M100 4v1M102 4v1M105 9v1M110 9v1M111 6v1M112 6v1"/><path stroke="#757575" d="M1 4v1M3 9v1M14 10v1M15 3v1M18 3v1M23 3v1M24 10v1M33 10v1M34 10v1M38 4v1M39 9v1M46 9v1M53 5v1M53 8v1M54 5v1M54 8v1M56 5v4M57 9v1M60 9v1M61 6v1M62 5v1M62 8v1M64 9v1M66 9v1M67 9v1M69 9v1M91 3v1M101 4v1M105 8v1M106 9v1M110 5v1M110 8v1"/><path stroke="#797979" d="M3 5v1M3 8v1M7 9v1M8 9v1M22 3v1M39 8v1M41 9v1M43 5v4M46 5v1M46 8v1M49 5v4M52 9v1M53 6v2M54 6v2M57 5v4M59 9v1M60 5v1M60 8v1M62 6v2M63 5v4M64 5v4M67 5v1M67 8v1M69 8v1M74 10v1M83 10v1M92 10v1M100 9v1M105 5v3M106 5v1M106 8v1M110 6v2"/><path stroke="#7d7d7d" d="M-1 9v1M0 9v1M3 6v2M4 9v1M5 9v1M7 5v4M10 9v1M11 9v1M15 10v1M16 3v1M16 10v1M23 10v1M25 10v1M26 10v1M33 3v1M34 3v1M38 9v1M39 5v3M40 9v1M41 5v1M41 8v1M42 9v1M46 6v2M48 9v1M51 9v1M52 5v1M52 8v1M59 5v1M59 8v1M60 6v2M66 5v4M67 6v2M68 9v1M69 5v1M69 7v1M81 3v1M81 10v1M89 3v1M99 4v1M100 8v1M101 9v1M102 9v1M103 9v1M104 9v1M106 6v2M107 9v1"/><path stroke="#828282" d="M4 5v1M4 8v1M5 5v1M5 8v1M6 9v1M8 5v4M10 8v1M22 10v1M26 3v1M40 5v1M40 8v1M41 6v2M44 9v1M45 9v1M47 9v1M51 5v1M51 8v1M52 6v2M59 6v2M68 8v1M69 6v1M75 10v1M77 9v1M84 10v1M89 10v1M93 10v1M99 9v1M100 5v1M100 7v1M102 8v1M103 5v1M103 8v1M104 5v1M104 8v1M107 5v1M107 8v1"/><path stroke="#868686" d="M-1 5v4M0 5v4M2 9v1M4 6v2M5 6v2M6 5v1M6 8v1M10 5v3M11 5v1M11 8v1M25 3v1M37 4v1M38 5v1M38 8v1M40 6v2M42 5v4M44 5v1M44 8v1M45 5v1M45 8v1M47 5v1M47 7v2M48 5v4M50 9v1M51 6v2M68 5v1M68 7v1M70 4v1M75 3v1M83 3v1M90 3v1M94 10v1M98 4v1M100 6v1M101 8v1M102 5v1M102 7v1M103 6v2M104 6v2M107 6v2"/><path stroke="#8a8a8a" d="M1 9v1M2 5v1M2 8v1M6 6v2M11 6v2M12 4v1M20 9v1M21 9v1M27 9v1M28 9v1M32 9v1M35 9v1M36 4v1M36 9v1M37 9v1M38 6v2M44 6v2M45 6v2M47 6v1M50 5v1M50 8v1M68 6v1M70 9v1M72 9v1M76 9v1M90 10v1M96 9v1M98 9v1M99 8v1M101 5v3M102 6v1"/><path stroke="#8e8e8e" d="M1 5v1M1 8v1M2 6v2M31 9v1M35 4v1M50 6v2M71 9v1M72 4v1M82 9v1M84 3v1M85 9v1M87 9v1M88 9v1M95 9v1M96 4v1M99 5v1M99 7v1"/><path stroke="#929292" d="M1 6v2M12 9v1M29 9v1M35 8v1M36 8v1M37 8v1M70 8v1M71 4v1M77 4v1M77 8v1M80 9v1M95 4v1M97 4v1M97 9v1M98 8v1M99 6v1"/><path stroke="#969696" d="M13 4v1M13 9v1M17 9v1M18 9v1M19 9v1M20 4v1M20 8v1M21 4v1M21 8v1M30 9v1M32 4v1M70 5v1M70 7v1M72 8v1M73 9v1M78 9v1M79 9v1M86 9v1M96 8v1M98 5v1"/><path stroke="#9a9a9a" d="M12 8v1M14 9v1M24 9v1M31 4v1M31 8v1M32 8v1M36 5v1M36 7v1M37 5v3M70 6v1M71 8v1M91 9v1M95 8v1M98 6v2"/><path stroke="#9e9e9e" d="M12 5v1M12 7v1M13 8v1M27 4v1M27 8v1M35 5v1M35 7v1M36 6v1M72 5v1M72 7v1M73 4v1M74 9v1M77 7v1M80 4v1M80 8v1M92 9v1M96 5v1M96 7v1M97 8v1"/><path stroke="#a2a2a2" d="M12 6v1M14 4v1M20 5v1M20 7v1M21 5v1M21 7v1M28 8v1M29 4v1M29 8v1M30 4v1M33 9v1M35 6v1M71 5v3M72 6v1M73 8v1M77 5v1M78 4v1M82 4v1M82 8v1M85 8v1M86 4v1M87 4v1M87 8v1M88 8v1M95 7v1M96 6v1M97 5v1M97 7v1"/><path stroke="#a6a6a6" d="M13 5v1M13 7v1M14 8v1M15 9v1M16 9v1M19 4v1M20 6v1M21 6v1M23 9v1M28 4v1M30 8v1M31 7v1M32 7v1M34 9v1M76 8v1M77 6v1M78 8v1M79 4v1M79 8v1M85 4v1M86 8v1M88 4v1M95 5v2M97 6v1"/><path stroke="#aaa" d="M13 6v1M19 8v1M22 9v1M24 4v1M24 8v1M26 9v1M31 5v1M32 5v1M73 5v1M73 7v1M74 4v1M81 9v1M83 9v1M89 9v1M92 4v1M93 9v1"/><path stroke="#aeaeae" d="M17 4v1M17 8v1M23 4v1M25 9v1M27 7v1M31 6v1M32 6v1M73 6v1M74 8v1M75 9v1M76 4v1M80 5v1M80 7v1M92 8v1"/><path stroke="#b2b2b2" d="M14 5v1M14 7v1M15 4v1M18 8v1M22 4v1M23 8v1M27 5v1M29 7v1M30 5v1M30 7v1M78 5v1M78 7v1M80 6v1M84 9v1M86 7v1M91 8v1M93 4v1M94 9v1"/><path stroke="#b6b6b6" d="M14 6v1M15 8v1M18 4v1M19 7v1M22 8v1M27 6v1M28 7v1M29 5v1M30 6v1M78 6v1M79 5v1M79 7v1M81 4v1M82 7v1M85 7v1M86 5v1M87 7v1M88 7v1M89 4v1M91 4v1M92 7v1M94 4v1"/><path stroke="#bababa" d="M16 4v1M16 8v1M19 5v1M24 5v1M24 7v1M29 6v1M33 8v1M74 5v1M74 7v1M79 6v1M81 8v1M82 5v1M86 6v1M87 5v1M89 8v1M90 9v1M92 5v1M93 8v1"/><path stroke="#bebebe" d="M19 6v1M23 5v1M23 7v1M24 6v1M26 8v1M28 5v1M74 6v1M82 6v1M85 5v1M87 6v1M88 5v1M92 6v1M94 8v1"/><path stroke="#c2c2c2" d="M17 7v1M22 5v1M22 7v1M23 6v1M26 4v1M28 6v1M33 4v1M34 8v1M76 7v1M85 6v1M88 6v1"/><path stroke="#c6c6c6" d="M15 5v1M15 7v1M17 5v1M22 6v1M25 8v1M34 4v1M89 5v1M89 7v1M93 5v1M93 7v1"/><path stroke="#cacaca" d="M15 6v1M25 4v1M75 8v1M76 5v1M81 5v1M81 7v1M83 8v1M89 6v1M90 4v1M90 8v1M91 7v1M93 6v1M94 5v1M94 7v1"/><path stroke="#cecece" d="M16 7v1M17 6v1M18 7v1M75 4v1M81 6v1M91 5v1"/><path stroke="#d2d2d2" d="M16 5v1M76 6v1M83 4v1M94 6v1"/><path stroke="#d7d7d7" d="M18 5v1M26 7v1M33 7v1M84 8v1M91 6v1"/><path stroke="#dbdbdb" d="M16 6v1M26 5v1M90 7v1"/><path stroke="#dfdfdf" d="M18 6v1M25 7v1M33 5v1M34 7v1M84 4v1M90 5v1"/><path stroke="#e3e3e3" d="M26 6v1M75 7v1M90 6v1"/><path stroke="#e7e7e7" d="M25 5v1M33 6v1M34 5v1"/><path stroke="#ebebeb" d="M25 6v1M75 5v1M83 7v1"/><path stroke="#efefef" d="M34 6v1"/><path stroke="#f3f3f3" d="M75 6v1"/><path stroke="#f7f7f7" d="M83 5v1"/><path stroke="#fbfbfb" d="M84 7v1"/><path stroke="#fff" d="M83 6v1M84 5v2"/></g></g></svg>
<text x="406.825" y="316.8" font-size="4.08" text-anchor="middle" fill="#262626">VTEC GIM (10E 10N)</text>
<text x="349.4" y="348.55" font-size="3.4" text-anchor="end" fill="#262626">0</text>
<text x="349.4" y="336.321" font-size="3.4" text-anchor="end" fill="#262626">10</text>
<text x="349.4" y="324.092" font-size="3.4" text-anchor="end" fill="#262626">20</text>
<text x="366.149" y="351.75" font-size="3.42" text-anchor="middle" fill="#262626">50</text>
<text x="381.499" y="351.75" font-size="3.42" text-anchor="middle" fill="#262626">100</text>
<text x="396.848" y="351.75" font-size="3.42" text-anchor="middle" fill="#262626">150</text>
<text x="412.197" y="351.75" font-size="3.42" text-anchor="middle" fill="#262626">200</text>
<text x="427.547" y="351.75" font-size="3.42" text-anchor="middle" fill="#262626">250</text>
<text x="442.896" y="351.75" font-size="3.42" text-anchor="middle" fill="#262626">300</text>
<text x="458.245" y="351.75" font-size="3.42" text-anchor="middle" fill="#262626">350</text>
<text x="406.825" y="355.7" font-size="3.45" text-anchor="middle" fill="#262626">Days</text>
<rect x="469.5" y="317.9" width="1.6" height="29.35" fill="url(#jetg)"/>
<text x="472.6" y="348.55" font-size="3.42" text-anchor="start" fill="#262626">0</text>
<text x="472.6" y="336.81" font-size="3.42" text-anchor="start" fill="#262626">20</text>
<text x="472.6" y="325.07" font-size="3.42" text-anchor="start" fill="#262626">40</text>
<text x="343.5" y="297.725" font-size="3.5" text-anchor="middle" fill="#262626" transform="rotate(-90 343.5 297.725)">Time (hours)</text>
</svg>
</body></html>
